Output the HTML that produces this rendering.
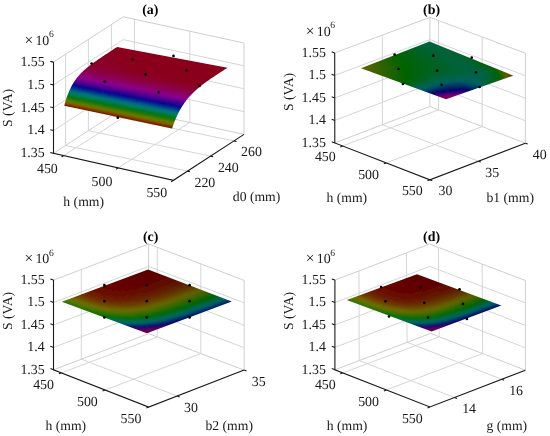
<!DOCTYPE html>
<html><head><meta charset="utf-8"><title>Figure</title>
<style>html,body{margin:0;padding:0;background:#fff}svg{display:block;text-rendering:geometricPrecision;font-family:"Liberation Serif","Times New Roman",serif;font-size:13.9px}</style></head>
<body>
<svg width="550" height="436" viewBox="0 0 550 436" fill="#1a1a1a">
<rect width="550" height="436" fill="#fff"/>
<defs><filter id="bl0_6" x="-5%" y="-5%" width="110%" height="110%"><feGaussianBlur stdDeviation="0.6"/></filter><filter id="bl1_0" x="-5%" y="-5%" width="110%" height="110%"><feGaussianBlur stdDeviation="1"/></filter><filter id="bl0_8" x="-5%" y="-5%" width="110%" height="110%"><feGaussianBlur stdDeviation="0.8"/></filter><filter id="bl1_2" x="-5%" y="-5%" width="110%" height="110%"><feGaussianBlur stdDeviation="1.2"/></filter></defs>
<g fill="none" stroke-linecap="butt">
<line x1="63.7" y1="155.6" x2="134.4" y2="110.4" stroke="#d6d6d6" stroke-width="1"/>
<line x1="134.4" y1="110.4" x2="134.4" y2="19.2" stroke="#d6d6d6" stroke-width="1"/>
<line x1="118.2" y1="167.9" x2="189.8" y2="122.5" stroke="#d6d6d6" stroke-width="1"/>
<line x1="189.8" y1="122.5" x2="189.8" y2="31.2" stroke="#d6d6d6" stroke-width="1"/>
<line x1="187.5" y1="171.1" x2="65.6" y2="145.5" stroke="#d6d6d6" stroke-width="1"/>
<line x1="65.6" y1="145.5" x2="65.6" y2="54.3" stroke="#d6d6d6" stroke-width="1"/>
<line x1="210.6" y1="156.1" x2="88.4" y2="130.7" stroke="#d6d6d6" stroke-width="1"/>
<line x1="88.4" y1="130.7" x2="88.4" y2="39.5" stroke="#d6d6d6" stroke-width="1"/>
<line x1="234" y1="140.9" x2="111.4" y2="115.7" stroke="#d6d6d6" stroke-width="1"/>
<line x1="111.4" y1="115.7" x2="111.4" y2="24.5" stroke="#d6d6d6" stroke-width="1"/>
<polyline points="53.5,130.5 123.3,85.2 244,111.6" stroke="#d6d6d6"/>
<polyline points="53.5,107.7 123.3,62.4 244,88.7" stroke="#d6d6d6"/>
<polyline points="53.5,84.9 123.3,39.6 244,65.8" stroke="#d6d6d6"/>
<polyline points="53.5,153.3 123.3,108 244,134.4" stroke="#cfcfcf"/>
<polyline points="53.5,62.1 123.3,16.8 244,43 244,134.4" stroke="#cfcfcf"/>
</g>
<clipPath id="c1"><path d="M64.2,105.8 64.2,105.7 64.3,105.4 64.4,104.9 64.6,104.5 64.7,103.9 64.9,103.3 65.1,102.6 65.3,101.9 65.5,101.1 65.8,100.3 66,99.5 66.3,98.7 66.6,97.8 66.9,96.9 67.2,96 67.5,95.1 67.9,94.2 68.2,93.3 68.6,92.4 69,91.5 69.4,90.6 69.8,89.7 70.2,88.9 70.6,88 71,87.1 71.5,86.3 71.9,85.4 72.4,84.6 72.9,83.8 73.3,83 73.8,82.2 74.3,81.4 74.8,80.7 75.4,79.9 75.9,79.2 76.4,78.5 77,77.7 77.5,77 78.1,76.4 78.7,75.7 79.3,75 79.9,74.4 80.5,73.7 81.1,73.1 81.7,72.5 82.3,71.9 82.9,71.3 83.6,70.7 84.2,70.1 84.9,69.5 85.6,68.9 86.2,68.4 86.9,67.8 87.6,67.2 88.3,66.7 89,66.1 89.7,65.6 90.4,65 91.2,64.5 91.9,63.9 92.6,63.4 93.4,62.8 94.2,62.3 94.9,61.8 95.7,61.2 96.5,60.7 97.3,60.1 98,59.6 98.8,59 99.7,58.5 100.5,57.9 101.3,57.4 102.1,56.8 102.9,56.3 103.8,55.7 104.6,55.1 105.5,54.6 106.4,54 107.2,53.4 108.1,52.9 109,52.3 109.9,51.7 110.8,51.1 111.7,50.5 112.6,49.9 113.5,49.3 114.4,48.7 115.3,48.1 116.3,47.5 117.2,46.9 227.5,67.8 226.5,68.4 225.5,69 224.6,69.6 223.6,70.2 222.7,70.9 221.7,71.5 220.8,72.1 219.8,72.7 218.9,73.3 218,73.9 217.1,74.5 216.2,75.1 215.3,75.7 214.4,76.3 213.5,76.9 212.6,77.5 211.7,78.1 210.9,78.6 210,79.2 209.2,79.8 208.3,80.4 207.5,81 206.6,81.6 205.8,82.2 205,82.8 204.2,83.4 203.4,84 202.6,84.6 201.8,85.2 201.1,85.8 200.3,86.5 199.5,87.1 198.8,87.7 198,88.3 197.3,89 196.6,89.6 195.8,90.2 195.1,90.9 194.4,91.5 193.7,92.2 193,92.9 192.4,93.5 191.7,94.2 191,94.9 190.4,95.6 189.7,96.3 189.1,97 188.5,97.7 187.8,98.5 187.2,99.2 186.6,100 186,100.7 185.5,101.5 184.9,102.3 184.3,103.1 183.8,103.9 183.2,104.7 182.7,105.5 182.2,106.3 181.7,107.1 181.1,108 180.7,108.8 180.2,109.7 179.7,110.5 179.2,111.4 178.8,112.2 178.3,113.1 177.9,114 177.5,114.8 177.1,115.7 176.7,116.6 176.3,117.4 175.9,118.3 175.6,119.1 175.3,119.9 174.9,120.7 174.6,121.5 174.3,122.3 174,123.1 173.7,123.8 173.5,124.5 173.3,125.1 173,125.8 172.8,126.3 172.6,126.9 172.5,127.4 172.3,127.8 172.2,128.1 172.1,128.4 172.1,128.5z"/></clipPath>
<g clip-path="url(#c1)"><g filter="url(#bl0_8)" shape-rendering="crispEdges">
<path d="M57.7,108.9 76.6,112.7 77.7,108.6 58.8,104.7z" fill="#7d0000"/>
<path d="M58.8,104.7 77.7,108.6 77.7,108.5 58.8,104.5z" fill="#7d0200"/>
<path d="M58.8,104.5 77.7,108.5 77.8,108.2 58.9,104.2z" fill="#7d0900"/>
<path d="M58.9,104.2 77.8,108.2 77.9,107.8 59,103.8z" fill="#7c1300"/>
<path d="M59,103.8 77.9,107.8 78.1,107.3 59.2,103.3z" fill="#7c2000"/>
<path d="M59.2,103.3 78.1,107.3 78.2,106.8 59.3,102.7z" fill="#7c2f00"/>
<path d="M59.3,102.7 78.2,106.8 78.4,106.2 59.5,102.1z" fill="#7b4000"/>
<path d="M59.5,102.1 78.4,106.2 78.6,105.5 59.7,101.4z" fill="#7b5200"/>
<path d="M59.7,101.4 78.6,105.5 78.8,104.8 59.9,100.7z" fill="#7a6500"/>
<path d="M59.9,100.7 78.8,104.8 79,104.1 60.1,99.9z" fill="#797800"/>
<path d="M60.1,99.9 79,104.1 79.3,103.3 60.4,99.1z" fill="#657900"/>
<path d="M60.4,99.1 79.3,103.3 79.5,102.5 60.6,98.3z" fill="#4f7800"/>
<path d="M60.6,98.3 79.5,102.5 79.8,101.6 60.9,97.5z" fill="#3a7700"/>
<path d="M60.9,97.5 79.8,101.6 80.1,100.8 61.2,96.6z" fill="#247700"/>
<path d="M61.2,96.6 80.1,100.8 80.4,99.9 61.5,95.7z" fill="#0e7600"/>
<path d="M61.5,95.7 80.4,99.9 80.7,99.1 61.8,94.8z" fill="#007507"/>
<path d="M61.8,94.8 80.7,99.1 81,98.2 62.1,93.9z" fill="#00761c"/>
<path d="M62.1,93.9 81,98.2 81.4,97.3 62.5,93z" fill="#007832"/>
<path d="M62.5,93 81.4,97.3 81.7,96.4 62.8,92.1z" fill="#007947"/>
<path d="M62.8,92.1 81.7,96.4 82.1,95.5 63.2,91.2z" fill="#007b5d"/>
<path d="M63.2,91.2 82.1,95.5 82.5,94.6 63.6,90.3z" fill="#007c73"/>
<path d="M63.6,90.3 82.5,94.6 82.9,93.7 64,89.4z" fill="#00747f"/>
<path d="M64,89.4 82.9,93.7 83.3,92.8 64.4,88.5z" fill="#006382"/>
<path d="M64.4,88.5 83.3,92.8 83.7,91.9 64.8,87.6z" fill="#005185"/>
<path d="M64.8,87.6 83.7,91.9 84.1,91 65.2,86.8z" fill="#003f88"/>
<path d="M65.2,86.8 84.1,91 84.6,90.2 65.6,85.9z" fill="#002d8a"/>
<path d="M65.6,85.9 84.6,90.2 85,89.3 66.1,85z" fill="#001b8d"/>
<path d="M66.1,85 85,89.3 85.5,88.5 66.5,84.2z" fill="#000990"/>
<path d="M66.5,84.2 85.5,88.5 85.9,87.6 67,83.4z" fill="#090091"/>
<path d="M67,83.4 85.9,87.6 86.4,86.8 67.4,82.6z" fill="#190091"/>
<path d="M67.4,82.6 86.4,86.8 86.9,86 67.9,81.8z" fill="#290090"/>
<path d="M67.9,81.8 86.9,86 87.4,85.2 68.4,81z" fill="#38008f"/>
<path d="M68.4,81 87.4,85.2 87.9,84.4 68.9,80.2z" fill="#46008f"/>
<path d="M68.9,80.2 87.9,84.4 88.4,83.7 69.4,79.4z" fill="#53008e"/>
<path d="M69.4,79.4 88.4,83.7 88.9,82.9 69.9,78.7z" fill="#5f008e"/>
<path d="M69.9,78.7 88.9,82.9 89.4,82.2 70.5,78z" fill="#6a008d"/>
<path d="M70.5,78 89.4,82.2 90,81.4 71,77.3z" fill="#75008d"/>
<path d="M71,77.3 90,81.4 90.5,80.7 71.6,76.6z" fill="#7f008d"/>
<path d="M71.6,76.6 90.5,80.7 91.1,80 72.1,75.9z" fill="#88008c"/>
<path d="M72.1,75.9 91.1,80 91.7,79.3 72.7,75.2z" fill="#8c0087"/>
<path d="M72.7,75.2 91.7,79.3 92.2,78.6 73.3,74.5z" fill="#8c007f"/>
<path d="M73.3,74.5 92.2,78.6 92.8,78 73.8,73.9z" fill="#8c0077"/>
<path d="M73.8,73.9 92.8,78 93.4,77.3 74.4,73.2z" fill="#8c0070"/>
<path d="M74.4,73.2 93.4,77.3 94,76.6 75,72.6z" fill="#8c0069"/>
<path d="M75,72.6 94,76.6 94.6,76 75.6,72z" fill="#8b0063"/>
<path d="M75.6,72 94.6,76 95.3,75.4 76.2,71.4z" fill="#8b005d"/>
<path d="M76.2,71.4 95.3,75.4 95.9,74.7 76.9,70.7z" fill="#8b0058"/>
<path d="M76.9,70.7 95.9,74.7 96.5,74.1 77.5,70.2z" fill="#8b0053"/>
<path d="M77.5,70.2 96.5,74.1 97.2,73.5 78.1,69.6z" fill="#8b004e"/>
<path d="M78.1,69.6 97.2,73.5 97.8,72.9 78.8,69z" fill="#8b004a"/>
<path d="M78.8,69 97.8,72.9 98.5,72.3 79.5,68.4z" fill="#8b0046"/>
<path d="M79.5,68.4 98.5,72.3 99.2,71.7 80.1,67.8z" fill="#8b0043"/>
<path d="M80.1,67.8 99.2,71.7 99.8,71.2 80.8,67.3z" fill="#8b003f"/>
<path d="M80.8,67.3 99.8,71.2 100.5,70.6 81.5,66.7z" fill="#8b003c"/>
<path d="M81.5,66.7 100.5,70.6 101.2,70 82.2,66.1z" fill="#8b0039"/>
<path d="M82.2,66.1 101.2,70 101.9,69.4 82.9,65.6z" fill="#8b0037"/>
<path d="M82.9,65.6 101.9,69.4 102.6,68.9 83.6,65z" fill="#8b0035"/>
<path d="M83.6,65 102.6,68.9 103.4,68.3 84.3,64.5z" fill="#8b0032"/>
<path d="M84.3,64.5 103.4,68.3 104.1,67.8 85,63.9z" fill="#8b0031"/>
<path d="M85,63.9 104.1,67.8 104.8,67.2 85.7,63.4z" fill="#8b002f"/>
<path d="M85.7,63.4 104.8,67.2 105.5,66.6 86.4,62.9z" fill="#8b002d"/>
<path d="M86.4,62.9 105.5,66.6 106.3,66.1 87.2,62.3z" fill="#8a002c"/>
<path d="M87.2,62.3 106.3,66.1 107,65.5 87.9,61.8z" fill="#8a002a"/>
<path d="M87.9,61.8 107,65.5 107.8,65 88.7,61.2z" fill="#8a0029"/>
<path d="M88.7,61.2 107.8,65 108.6,64.4 89.5,60.7z" fill="#8a0028"/>
<path d="M89.5,60.7 108.6,64.4 109.4,63.9 90.2,60.1z" fill="#8a0027"/>
<path d="M90.2,60.1 109.4,63.9 110.1,63.3 91,59.6z" fill="#8a0026"/>
<path d="M91,59.6 110.1,63.3 110.9,62.8 91.8,59.1z" fill="#8a0025"/>
<path d="M91.8,59.1 110.9,62.8 111.7,62.2 92.6,58.5z" fill="#8a0024"/>
<path d="M92.6,58.5 111.7,62.2 112.5,61.7 93.4,58z" fill="#8a0023"/>
<path d="M93.4,58 112.5,61.7 113.3,61.1 94.2,57.4z" fill="#8a0023"/>
<path d="M94.2,57.4 113.3,61.1 114.2,60.6 95,56.9z" fill="#8a0022"/>
<path d="M95,56.9 114.2,60.6 115,60 95.8,56.3z" fill="#8a0022"/>
<path d="M95.8,56.3 115,60 115.8,59.5 96.6,55.8z" fill="#8a0021"/>
<path d="M96.6,55.8 115.8,59.5 116.7,58.9 97.5,55.2z" fill="#8a0021"/>
<path d="M97.5,55.2 116.7,58.9 117.5,58.3 98.3,54.6z" fill="#8a0020"/>
<path d="M98.3,54.6 117.5,58.3 118.4,57.8 99.2,54.1z" fill="#8a0020"/>
<path d="M99.2,54.1 118.4,57.8 119.2,57.2 100,53.5z" fill="#8a0020"/>
<path d="M100,53.5 119.2,57.2 120.1,56.6 100.9,53z" fill="#8a001f"/>
<path d="M100.9,53 120.1,56.6 121,56 101.7,52.4z" fill="#8a001f"/>
<path d="M101.7,52.4 121,56 121.8,55.5 102.6,51.8z" fill="#8a001f"/>
<path d="M102.6,51.8 121.8,55.5 122.7,54.9 103.5,51.2z" fill="#8a001f"/>
<path d="M103.5,51.2 122.7,54.9 123.6,54.3 104.4,50.7z" fill="#8a001e"/>
<path d="M104.4,50.7 123.6,54.3 124.5,53.7 105.3,50.1z" fill="#8a001e"/>
<path d="M105.3,50.1 124.5,53.7 125.4,53.1 106.2,49.5z" fill="#8a001e"/>
<path d="M106.2,49.5 125.4,53.1 126.3,52.5 107.1,48.9z" fill="#8a001e"/>
<path d="M107.1,48.9 126.3,52.5 127.2,51.9 108,48.3z" fill="#8a001e"/>
<path d="M108,48.3 127.2,51.9 128.2,51.3 108.9,47.7z" fill="#8a001e"/>
<path d="M108.9,47.7 128.2,51.3 129.1,50.7 109.8,47.1z" fill="#8a001e"/>
<path d="M109.8,47.1 129.1,50.7 130,50.1 110.7,46.5z" fill="#8a001d"/>
<path d="M110.7,46.5 130,50.1 131,49.5 111.7,45.9z" fill="#8a001d"/>
<path d="M111.7,45.9 131,49.5 133.7,47.8 114.3,44.2z" fill="#8a001d"/>
<path d="M76.6,112.7 90.1,115.5 91.2,111.5 77.7,108.6z" fill="#7d0000"/>
<path d="M77.7,108.6 91.2,111.5 91.2,111.3 77.7,108.5z" fill="#7d0200"/>
<path d="M77.7,108.5 91.2,111.3 91.3,111 77.8,108.2z" fill="#7d0900"/>
<path d="M77.8,108.2 91.3,111 91.4,110.7 77.9,107.8z" fill="#7c1300"/>
<path d="M77.9,107.8 91.4,110.7 91.5,110.2 78.1,107.3z" fill="#7c1f00"/>
<path d="M78.1,107.3 91.5,110.2 91.7,109.7 78.2,106.8z" fill="#7c2e00"/>
<path d="M78.2,106.8 91.7,109.7 91.9,109.1 78.4,106.2z" fill="#7b3e00"/>
<path d="M78.4,106.2 91.9,109.1 92.1,108.4 78.6,105.5z" fill="#7b4f00"/>
<path d="M78.6,105.5 92.1,108.4 92.3,107.7 78.8,104.8z" fill="#7a6200"/>
<path d="M78.8,104.8 92.3,107.7 92.5,107 79,104.1z" fill="#797500"/>
<path d="M79,104.1 92.5,107 92.8,106.2 79.3,103.3z" fill="#697900"/>
<path d="M79.3,103.3 92.8,106.2 93,105.4 79.5,102.5z" fill="#547800"/>
<path d="M79.5,102.5 93,105.4 93.3,104.6 79.8,101.6z" fill="#3f7800"/>
<path d="M79.8,101.6 93.3,104.6 93.6,103.8 80.1,100.8z" fill="#2a7700"/>
<path d="M80.1,100.8 93.6,103.8 93.9,102.9 80.4,99.9z" fill="#147600"/>
<path d="M80.4,99.9 93.9,102.9 94.2,102.1 80.7,99.1z" fill="#007601"/>
<path d="M80.7,99.1 94.2,102.1 94.6,101.2 81,98.2z" fill="#007615"/>
<path d="M81,98.2 94.6,101.2 94.9,100.3 81.4,97.3z" fill="#00772a"/>
<path d="M81.4,97.3 94.9,100.3 95.3,99.4 81.7,96.4z" fill="#007940"/>
<path d="M81.7,96.4 95.3,99.4 95.6,98.5 82.1,95.5z" fill="#007a55"/>
<path d="M82.1,95.5 95.6,98.5 96,97.6 82.5,94.6z" fill="#007c6a"/>
<path d="M82.5,94.6 96,97.6 96.4,96.7 82.9,93.7z" fill="#007b7d"/>
<path d="M82.9,93.7 96.4,96.7 96.8,95.9 83.3,92.8z" fill="#006a80"/>
<path d="M83.3,92.8 96.8,95.9 97.2,95 83.7,91.9z" fill="#005883"/>
<path d="M83.7,91.9 97.2,95 97.6,94.1 84.1,91z" fill="#004786"/>
<path d="M84.1,91 97.6,94.1 98.1,93.2 84.6,90.2z" fill="#003589"/>
<path d="M84.6,90.2 98.1,93.2 98.5,92.4 85,89.3z" fill="#00238c"/>
<path d="M85,89.3 98.5,92.4 99,91.5 85.5,88.5z" fill="#00118f"/>
<path d="M85.5,88.5 99,91.5 99.5,90.7 85.9,87.6z" fill="#000091"/>
<path d="M85.9,87.6 99.5,90.7 99.9,89.9 86.4,86.8z" fill="#110091"/>
<path d="M86.4,86.8 99.9,89.9 100.4,89.1 86.9,86z" fill="#220090"/>
<path d="M86.9,86 100.4,89.1 100.9,88.2 87.4,85.2z" fill="#310090"/>
<path d="M87.4,85.2 100.9,88.2 101.4,87.5 87.9,84.4z" fill="#3f008f"/>
<path d="M87.9,84.4 101.4,87.5 101.9,86.7 88.4,83.7z" fill="#4d008f"/>
<path d="M88.4,83.7 101.9,86.7 102.5,85.9 88.9,82.9z" fill="#59008e"/>
<path d="M88.9,82.9 102.5,85.9 103,85.2 89.4,82.2z" fill="#65008e"/>
<path d="M89.4,82.2 103,85.2 103.5,84.4 90,81.4z" fill="#70008d"/>
<path d="M90,81.4 103.5,84.4 104.1,83.7 90.5,80.7z" fill="#7a008d"/>
<path d="M90.5,80.7 104.1,83.7 104.7,83 91.1,80z" fill="#84008c"/>
<path d="M91.1,80 104.7,83 105.2,82.3 91.7,79.3z" fill="#8c008b"/>
<path d="M91.7,79.3 105.2,82.3 105.8,81.6 92.2,78.6z" fill="#8c0082"/>
<path d="M92.2,78.6 105.8,81.6 106.4,80.9 92.8,78z" fill="#8c007a"/>
<path d="M92.8,78 106.4,80.9 107,80.2 93.4,77.3z" fill="#8c0072"/>
<path d="M93.4,77.3 107,80.2 107.6,79.5 94,76.6z" fill="#8c006b"/>
<path d="M94,76.6 107.6,79.5 108.2,78.9 94.6,76z" fill="#8c0065"/>
<path d="M94.6,76 108.2,78.9 108.9,78.2 95.3,75.4z" fill="#8b005e"/>
<path d="M95.3,75.4 108.9,78.2 109.5,77.6 95.9,74.7z" fill="#8b0059"/>
<path d="M95.9,74.7 109.5,77.6 110.1,77 96.5,74.1z" fill="#8b0053"/>
<path d="M96.5,74.1 110.1,77 110.8,76.4 97.2,73.5z" fill="#8b004e"/>
<path d="M97.2,73.5 110.8,76.4 111.4,75.8 97.8,72.9z" fill="#8b004a"/>
<path d="M97.8,72.9 111.4,75.8 112.1,75.1 98.5,72.3z" fill="#8b0046"/>
<path d="M98.5,72.3 112.1,75.1 112.8,74.6 99.2,71.7z" fill="#8b0042"/>
<path d="M99.2,71.7 112.8,74.6 113.5,74 99.8,71.2z" fill="#8b003e"/>
<path d="M99.8,71.2 113.5,74 114.1,73.4 100.5,70.6z" fill="#8b003b"/>
<path d="M100.5,70.6 114.1,73.4 114.8,72.8 101.2,70z" fill="#8b0038"/>
<path d="M101.2,70 114.8,72.8 115.6,72.2 101.9,69.4z" fill="#8b0035"/>
<path d="M101.9,69.4 115.6,72.2 116.3,71.6 102.6,68.9z" fill="#8b0032"/>
<path d="M102.6,68.9 116.3,71.6 117,71.1 103.4,68.3z" fill="#8b0030"/>
<path d="M103.4,68.3 117,71.1 117.7,70.5 104.1,67.8z" fill="#8b002e"/>
<path d="M104.1,67.8 117.7,70.5 118.4,69.9 104.8,67.2z" fill="#8a002c"/>
<path d="M104.8,67.2 118.4,69.9 119.2,69.4 105.5,66.6z" fill="#8a002a"/>
<path d="M105.5,66.6 119.2,69.4 119.9,68.8 106.3,66.1z" fill="#8a0028"/>
<path d="M106.3,66.1 119.9,68.8 120.7,68.2 107,65.5z" fill="#8a0027"/>
<path d="M107,65.5 120.7,68.2 121.5,67.7 107.8,65z" fill="#8a0026"/>
<path d="M107.8,65 121.5,67.7 122.2,67.1 108.6,64.4z" fill="#8a0024"/>
<path d="M108.6,64.4 122.2,67.1 123,66.6 109.4,63.9z" fill="#8a0023"/>
<path d="M109.4,63.9 123,66.6 123.8,66 110.1,63.3z" fill="#8a0022"/>
<path d="M110.1,63.3 123.8,66 124.6,65.5 110.9,62.8z" fill="#8a0021"/>
<path d="M110.9,62.8 124.6,65.5 125.4,64.9 111.7,62.2z" fill="#8a0020"/>
<path d="M111.7,62.2 125.4,64.9 126.2,64.3 112.5,61.7z" fill="#8a001f"/>
<path d="M112.5,61.7 126.2,64.3 127,63.8 113.3,61.1z" fill="#8a001f"/>
<path d="M113.3,61.1 127,63.8 127.9,63.2 114.2,60.6z" fill="#8a001e"/>
<path d="M114.2,60.6 127.9,63.2 128.7,62.7 115,60z" fill="#8a001d"/>
<path d="M115,60 128.7,62.7 129.5,62.1 115.8,59.5z" fill="#8a001d"/>
<path d="M115.8,59.5 129.5,62.1 130.4,61.5 116.7,58.9z" fill="#8a001c"/>
<path d="M116.7,58.9 130.4,61.5 131.2,61 117.5,58.3z" fill="#8a001c"/>
<path d="M117.5,58.3 131.2,61 132.1,60.4 118.4,57.8z" fill="#8a001b"/>
<path d="M118.4,57.8 132.1,60.4 132.9,59.8 119.2,57.2z" fill="#8a001b"/>
<path d="M119.2,57.2 132.9,59.8 133.8,59.2 120.1,56.6z" fill="#8a001b"/>
<path d="M120.1,56.6 133.8,59.2 134.7,58.7 121,56z" fill="#8a001b"/>
<path d="M121,56 134.7,58.7 135.6,58.1 121.8,55.5z" fill="#8a001b"/>
<path d="M121.8,55.5 135.6,58.1 136.5,57.5 122.7,54.9z" fill="#8a001b"/>
<path d="M122.7,54.9 136.5,57.5 137.4,56.9 123.6,54.3z" fill="#8a001b"/>
<path d="M123.6,54.3 137.4,56.9 138.3,56.3 124.5,53.7z" fill="#8a001b"/>
<path d="M124.5,53.7 138.3,56.3 139.2,55.7 125.4,53.1z" fill="#8a001b"/>
<path d="M125.4,53.1 139.2,55.7 140.1,55.1 126.3,52.5z" fill="#8a001b"/>
<path d="M126.3,52.5 140.1,55.1 141,54.6 127.2,51.9z" fill="#8a001b"/>
<path d="M127.2,51.9 141,54.6 141.9,53.9 128.2,51.3z" fill="#8a001b"/>
<path d="M128.2,51.3 141.9,53.9 142.9,53.3 129.1,50.7z" fill="#8a001b"/>
<path d="M129.1,50.7 142.9,53.3 143.8,52.7 130,50.1z" fill="#8a001b"/>
<path d="M130,50.1 143.8,52.7 144.8,52.1 131,49.5z" fill="#8a001b"/>
<path d="M131,49.5 144.8,52.1 147.5,50.4 133.7,47.8z" fill="#8a001b"/>
<path d="M90.1,115.5 103.6,118.2 104.7,114.3 91.2,111.5z" fill="#7d0000"/>
<path d="M91.2,111.5 104.7,114.3 104.7,114.2 91.2,111.3z" fill="#7d0200"/>
<path d="M91.2,111.3 104.7,114.2 104.8,113.9 91.3,111z" fill="#7d0800"/>
<path d="M91.3,111 104.8,113.9 104.9,113.5 91.4,110.7z" fill="#7c1200"/>
<path d="M91.4,110.7 104.9,113.5 105,113.1 91.5,110.2z" fill="#7c1e00"/>
<path d="M91.5,110.2 105,113.1 105.2,112.5 91.7,109.7z" fill="#7c2c00"/>
<path d="M91.7,109.7 105.2,112.5 105.4,112 91.9,109.1z" fill="#7b3c00"/>
<path d="M91.9,109.1 105.4,112 105.6,111.3 92.1,108.4z" fill="#7b4d00"/>
<path d="M92.1,108.4 105.6,111.3 105.8,110.6 92.3,107.7z" fill="#7a5f00"/>
<path d="M92.3,107.7 105.8,110.6 106,109.9 92.5,107z" fill="#7a7200"/>
<path d="M92.5,107 106,109.9 106.3,109.2 92.8,106.2z" fill="#6d7900"/>
<path d="M92.8,106.2 106.3,109.2 106.5,108.4 93,105.4z" fill="#587800"/>
<path d="M93,105.4 106.5,108.4 106.8,107.6 93.3,104.6z" fill="#437800"/>
<path d="M93.3,104.6 106.8,107.6 107.1,106.8 93.6,103.8z" fill="#2e7700"/>
<path d="M93.6,103.8 107.1,106.8 107.4,105.9 93.9,102.9z" fill="#197600"/>
<path d="M93.9,102.9 107.4,105.9 107.7,105.1 94.2,102.1z" fill="#047600"/>
<path d="M94.2,102.1 107.7,105.1 108.1,104.2 94.6,101.2z" fill="#007610"/>
<path d="M94.6,101.2 108.1,104.2 108.4,103.3 94.9,100.3z" fill="#007725"/>
<path d="M94.9,100.3 108.4,103.3 108.8,102.4 95.3,99.4z" fill="#00793a"/>
<path d="M95.3,99.4 108.8,102.4 109.1,101.6 95.6,98.5z" fill="#007a4f"/>
<path d="M95.6,98.5 109.1,101.6 109.5,100.7 96,97.6z" fill="#007b64"/>
<path d="M96,97.6 109.5,100.7 109.9,99.8 96.4,96.7z" fill="#007d79"/>
<path d="M96.4,96.7 109.9,99.8 110.3,98.9 96.8,95.9z" fill="#00707f"/>
<path d="M96.8,95.9 110.3,98.9 110.7,98 97.2,95z" fill="#005e82"/>
<path d="M97.2,95 110.7,98 111.2,97.1 97.6,94.1z" fill="#004d85"/>
<path d="M97.6,94.1 111.2,97.1 111.6,96.3 98.1,93.2z" fill="#003b88"/>
<path d="M98.1,93.2 111.6,96.3 112.1,95.4 98.5,92.4z" fill="#002a8b"/>
<path d="M98.5,92.4 112.1,95.4 112.5,94.6 99,91.5z" fill="#00188e"/>
<path d="M99,91.5 112.5,94.6 113,93.7 99.5,90.7z" fill="#000690"/>
<path d="M99.5,90.7 113,93.7 113.5,92.9 99.9,89.9z" fill="#0b0091"/>
<path d="M99.9,89.9 113.5,92.9 114,92.1 100.4,89.1z" fill="#1b0090"/>
<path d="M100.4,89.1 114,92.1 114.5,91.3 100.9,88.2z" fill="#2b0090"/>
<path d="M100.9,88.2 114.5,91.3 115,90.5 101.4,87.5z" fill="#3a008f"/>
<path d="M101.4,87.5 115,90.5 115.5,89.7 101.9,86.7z" fill="#47008f"/>
<path d="M101.9,86.7 115.5,89.7 116,88.9 102.5,85.9z" fill="#54008e"/>
<path d="M102.5,85.9 116,88.9 116.6,88.1 103,85.2z" fill="#61008e"/>
<path d="M103,85.2 116.6,88.1 117.1,87.4 103.5,84.4z" fill="#6c008d"/>
<path d="M103.5,84.4 117.1,87.4 117.7,86.7 104.1,83.7z" fill="#77008d"/>
<path d="M104.1,83.7 117.7,86.7 118.2,85.9 104.7,83z" fill="#81008d"/>
<path d="M104.7,83 118.2,85.9 118.8,85.2 105.2,82.3z" fill="#8a008c"/>
<path d="M105.2,82.3 118.8,85.2 119.4,84.5 105.8,81.6z" fill="#8c0085"/>
<path d="M105.8,81.6 119.4,84.5 120,83.8 106.4,80.9z" fill="#8c007d"/>
<path d="M106.4,80.9 120,83.8 120.6,83.1 107,80.2z" fill="#8c0075"/>
<path d="M107,80.2 120.6,83.1 121.2,82.5 107.6,79.5z" fill="#8c006d"/>
<path d="M107.6,79.5 121.2,82.5 121.8,81.8 108.2,78.9z" fill="#8c0066"/>
<path d="M108.2,78.9 121.8,81.8 122.4,81.1 108.9,78.2z" fill="#8b0060"/>
<path d="M108.9,78.2 122.4,81.1 123.1,80.5 109.5,77.6z" fill="#8b0059"/>
<path d="M109.5,77.6 123.1,80.5 123.7,79.8 110.1,77z" fill="#8b0054"/>
<path d="M110.1,77 123.7,79.8 124.4,79.2 110.8,76.4z" fill="#8b004f"/>
<path d="M110.8,76.4 124.4,79.2 125,78.6 111.4,75.8z" fill="#8b004a"/>
<path d="M111.4,75.8 125,78.6 125.7,78 112.1,75.1z" fill="#8b0045"/>
<path d="M112.1,75.1 125.7,78 126.4,77.4 112.8,74.6z" fill="#8b0041"/>
<path d="M112.8,74.6 126.4,77.4 127.1,76.8 113.5,74z" fill="#8b003d"/>
<path d="M113.5,74 127.1,76.8 127.8,76.2 114.1,73.4z" fill="#8b003a"/>
<path d="M114.1,73.4 127.8,76.2 128.5,75.6 114.8,72.8z" fill="#8b0037"/>
<path d="M114.8,72.8 128.5,75.6 129.2,75 115.6,72.2z" fill="#8b0034"/>
<path d="M115.6,72.2 129.2,75 129.9,74.4 116.3,71.6z" fill="#8b0031"/>
<path d="M116.3,71.6 129.9,74.4 130.6,73.8 117,71.1z" fill="#8b002e"/>
<path d="M117,71.1 130.6,73.8 131.3,73.2 117.7,70.5z" fill="#8a002c"/>
<path d="M117.7,70.5 131.3,73.2 132.1,72.7 118.4,69.9z" fill="#8a002a"/>
<path d="M118.4,69.9 132.1,72.7 132.8,72.1 119.2,69.4z" fill="#8a0028"/>
<path d="M119.2,69.4 132.8,72.1 133.6,71.5 119.9,68.8z" fill="#8a0026"/>
<path d="M119.9,68.8 133.6,71.5 134.4,71 120.7,68.2z" fill="#8a0024"/>
<path d="M120.7,68.2 134.4,71 135.1,70.4 121.5,67.7z" fill="#8a0023"/>
<path d="M121.5,67.7 135.1,70.4 135.9,69.8 122.2,67.1z" fill="#8a0021"/>
<path d="M122.2,67.1 135.9,69.8 136.7,69.3 123,66.6z" fill="#8a0020"/>
<path d="M123,66.6 136.7,69.3 137.5,68.7 123.8,66z" fill="#8a001f"/>
<path d="M123.8,66 137.5,68.7 138.3,68.1 124.6,65.5z" fill="#8a001e"/>
<path d="M124.6,65.5 138.3,68.1 139.1,67.6 125.4,64.9z" fill="#8a001d"/>
<path d="M125.4,64.9 139.1,67.6 139.9,67 126.2,64.3z" fill="#8a001c"/>
<path d="M126.2,64.3 139.9,67 140.7,66.4 127,63.8z" fill="#8a001b"/>
<path d="M127,63.8 140.7,66.4 141.5,65.9 127.9,63.2z" fill="#8a001b"/>
<path d="M127.9,63.2 141.5,65.9 142.4,65.3 128.7,62.7z" fill="#8a001b"/>
<path d="M128.7,62.7 142.4,65.3 143.2,64.7 129.5,62.1z" fill="#8a001b"/>
<path d="M129.5,62.1 143.2,64.7 144.1,64.2 130.4,61.5z" fill="#8a001b"/>
<path d="M130.4,61.5 144.1,64.2 144.9,63.6 131.2,61z" fill="#8a001b"/>
<path d="M131.2,61 144.9,63.6 145.8,63 132.1,60.4z" fill="#8a001b"/>
<path d="M132.1,60.4 145.8,63 146.7,62.4 132.9,59.8z" fill="#8a001b"/>
<path d="M132.9,59.8 146.7,62.4 147.5,61.9 133.8,59.2z" fill="#8a001b"/>
<path d="M133.8,59.2 147.5,61.9 148.4,61.3 134.7,58.7z" fill="#8a001b"/>
<path d="M134.7,58.7 148.4,61.3 149.3,60.7 135.6,58.1z" fill="#8a001b"/>
<path d="M135.6,58.1 149.3,60.7 150.2,60.1 136.5,57.5z" fill="#8a001b"/>
<path d="M136.5,57.5 150.2,60.1 151.1,59.5 137.4,56.9z" fill="#8a001b"/>
<path d="M137.4,56.9 151.1,59.5 152,58.9 138.3,56.3z" fill="#8a001b"/>
<path d="M138.3,56.3 152,58.9 152.9,58.4 139.2,55.7z" fill="#8a001b"/>
<path d="M139.2,55.7 152.9,58.4 153.9,57.8 140.1,55.1z" fill="#8a001b"/>
<path d="M140.1,55.1 153.9,57.8 154.8,57.2 141,54.6z" fill="#8a001b"/>
<path d="M141,54.6 154.8,57.2 155.7,56.6 141.9,53.9z" fill="#8a001b"/>
<path d="M141.9,53.9 155.7,56.6 156.7,56 142.9,53.3z" fill="#8a001b"/>
<path d="M142.9,53.3 156.7,56 157.6,55.3 143.8,52.7z" fill="#8a001b"/>
<path d="M143.8,52.7 157.6,55.3 158.6,54.7 144.8,52.1z" fill="#8a001b"/>
<path d="M144.8,52.1 158.6,54.7 161.3,53 147.5,50.4z" fill="#8a001b"/>
<path d="M103.6,118.2 117.1,121 118.2,117.2 104.7,114.3z" fill="#7d0000"/>
<path d="M104.7,114.3 118.2,117.2 118.2,117 104.7,114.2z" fill="#7d0200"/>
<path d="M104.7,114.2 118.2,117 118.3,116.7 104.8,113.9z" fill="#7d0800"/>
<path d="M104.8,113.9 118.3,116.7 118.4,116.4 104.9,113.5z" fill="#7c1200"/>
<path d="M104.9,113.5 118.4,116.4 118.5,115.9 105,113.1z" fill="#7c1d00"/>
<path d="M105,113.1 118.5,115.9 118.7,115.4 105.2,112.5z" fill="#7c2b00"/>
<path d="M105.2,112.5 118.7,115.4 118.9,114.8 105.4,112z" fill="#7b3b00"/>
<path d="M105.4,112 118.9,114.8 119.1,114.2 105.6,111.3z" fill="#7b4b00"/>
<path d="M105.6,111.3 119.1,114.2 119.3,113.5 105.8,110.6z" fill="#7a5d00"/>
<path d="M105.8,110.6 119.3,113.5 119.5,112.8 106,109.9z" fill="#7a6f00"/>
<path d="M106,109.9 119.5,112.8 119.8,112.1 106.3,109.2z" fill="#707900"/>
<path d="M106.3,109.2 119.8,112.1 120,111.3 106.5,108.4z" fill="#5c7800"/>
<path d="M106.5,108.4 120,111.3 120.3,110.5 106.8,107.6z" fill="#477800"/>
<path d="M106.8,107.6 120.3,110.5 120.6,109.7 107.1,106.8z" fill="#327700"/>
<path d="M107.1,106.8 120.6,109.7 120.9,108.9 107.4,105.9z" fill="#1e7700"/>
<path d="M107.4,105.9 120.9,108.9 121.2,108.1 107.7,105.1z" fill="#097600"/>
<path d="M107.7,105.1 121.2,108.1 121.6,107.2 108.1,104.2z" fill="#00750b"/>
<path d="M108.1,104.2 121.6,107.2 121.9,106.3 108.4,103.3z" fill="#00771f"/>
<path d="M108.4,103.3 121.9,106.3 122.3,105.5 108.8,102.4z" fill="#007834"/>
<path d="M108.8,102.4 122.3,105.5 122.7,104.6 109.1,101.6z" fill="#007a49"/>
<path d="M109.1,101.6 122.7,104.6 123,103.7 109.5,100.7z" fill="#007b5e"/>
<path d="M109.5,100.7 123,103.7 123.4,102.8 109.9,99.8z" fill="#007c72"/>
<path d="M109.9,99.8 123.4,102.8 123.8,101.9 110.3,98.9z" fill="#00757e"/>
<path d="M110.3,98.9 123.8,101.9 124.3,101.1 110.7,98z" fill="#006481"/>
<path d="M110.7,98 124.3,101.1 124.7,100.2 111.2,97.1z" fill="#005384"/>
<path d="M111.2,97.1 124.7,100.2 125.1,99.3 111.6,96.3z" fill="#004287"/>
<path d="M111.6,96.3 125.1,99.3 125.6,98.5 112.1,95.4z" fill="#00308a"/>
<path d="M112.1,95.4 125.6,98.5 126,97.6 112.5,94.6z" fill="#001e8d"/>
<path d="M112.5,94.6 126,97.6 126.5,96.8 113,93.7z" fill="#000d8f"/>
<path d="M113,93.7 126.5,96.8 127,95.9 113.5,92.9z" fill="#050091"/>
<path d="M113.5,92.9 127,95.9 127.5,95.1 114,92.1z" fill="#150091"/>
<path d="M114,92.1 127.5,95.1 128,94.3 114.5,91.3z" fill="#250090"/>
<path d="M114.5,91.3 128,94.3 128.5,93.5 115,90.5z" fill="#340090"/>
<path d="M115,90.5 128.5,93.5 129,92.7 115.5,89.7z" fill="#42008f"/>
<path d="M115.5,89.7 129,92.7 129.6,91.9 116,88.9z" fill="#50008e"/>
<path d="M116,88.9 129.6,91.9 130.1,91.1 116.6,88.1z" fill="#5c008e"/>
<path d="M116.6,88.1 130.1,91.1 130.7,90.4 117.1,87.4z" fill="#68008e"/>
<path d="M117.1,87.4 130.7,90.4 131.2,89.6 117.7,86.7z" fill="#73008d"/>
<path d="M117.7,86.7 131.2,89.6 131.8,88.9 118.2,85.9z" fill="#7d008d"/>
<path d="M118.2,85.9 131.8,88.9 132.4,88.2 118.8,85.2z" fill="#87008c"/>
<path d="M118.8,85.2 132.4,88.2 133,87.4 119.4,84.5z" fill="#8c0088"/>
<path d="M119.4,84.5 133,87.4 133.6,86.7 120,83.8z" fill="#8c007f"/>
<path d="M120,83.8 133.6,86.7 134.2,86 120.6,83.1z" fill="#8c0077"/>
<path d="M120.6,83.1 134.2,86 134.8,85.4 121.2,82.5z" fill="#8c006f"/>
<path d="M121.2,82.5 134.8,85.4 135.4,84.7 121.8,81.8z" fill="#8c0068"/>
<path d="M121.8,81.8 135.4,84.7 136,84 122.4,81.1z" fill="#8b0061"/>
<path d="M122.4,81.1 136,84 136.7,83.4 123.1,80.5z" fill="#8b005b"/>
<path d="M123.1,80.5 136.7,83.4 137.3,82.7 123.7,79.8z" fill="#8b0055"/>
<path d="M123.7,79.8 137.3,82.7 138,82.1 124.4,79.2z" fill="#8b004f"/>
<path d="M124.4,79.2 138,82.1 138.6,81.4 125,78.6z" fill="#8b004a"/>
<path d="M125,78.6 138.6,81.4 139.3,80.8 125.7,78z" fill="#8b0045"/>
<path d="M125.7,78 139.3,80.8 140,80.2 126.4,77.4z" fill="#8b0041"/>
<path d="M126.4,77.4 140,80.2 140.7,79.6 127.1,76.8z" fill="#8b003d"/>
<path d="M127.1,76.8 140.7,79.6 141.4,79 127.8,76.2z" fill="#8b0039"/>
<path d="M127.8,76.2 141.4,79 142.1,78.4 128.5,75.6z" fill="#8b0036"/>
<path d="M128.5,75.6 142.1,78.4 142.8,77.8 129.2,75z" fill="#8b0032"/>
<path d="M129.2,75 142.8,77.8 143.5,77.2 129.9,74.4z" fill="#8b0030"/>
<path d="M129.9,74.4 143.5,77.2 144.2,76.6 130.6,73.8z" fill="#8b002d"/>
<path d="M130.6,73.8 144.2,76.6 145,76 131.3,73.2z" fill="#8a002a"/>
<path d="M131.3,73.2 145,76 145.7,75.4 132.1,72.7z" fill="#8a0028"/>
<path d="M132.1,72.7 145.7,75.4 146.5,74.8 132.8,72.1z" fill="#8a0026"/>
<path d="M132.8,72.1 146.5,74.8 147.2,74.2 133.6,71.5z" fill="#8a0024"/>
<path d="M133.6,71.5 147.2,74.2 148,73.7 134.4,71z" fill="#8a0022"/>
<path d="M134.4,71 148,73.7 148.8,73.1 135.1,70.4z" fill="#8a0020"/>
<path d="M135.1,70.4 148.8,73.1 149.6,72.5 135.9,69.8z" fill="#8a001f"/>
<path d="M135.9,69.8 149.6,72.5 150.4,72 136.7,69.3z" fill="#8a001e"/>
<path d="M136.7,69.3 150.4,72 151.1,71.4 137.5,68.7z" fill="#8a001c"/>
<path d="M137.5,68.7 151.1,71.4 152,70.8 138.3,68.1z" fill="#8a001b"/>
<path d="M138.3,68.1 152,70.8 152.8,70.2 139.1,67.6z" fill="#8a001b"/>
<path d="M139.1,67.6 152.8,70.2 153.6,69.7 139.9,67z" fill="#8a001b"/>
<path d="M139.9,67 153.6,69.7 154.4,69.1 140.7,66.4z" fill="#8a001b"/>
<path d="M140.7,66.4 154.4,69.1 155.2,68.5 141.5,65.9z" fill="#8a001b"/>
<path d="M141.5,65.9 155.2,68.5 156.1,68 142.4,65.3z" fill="#8a001b"/>
<path d="M142.4,65.3 156.1,68 156.9,67.4 143.2,64.7z" fill="#8a001b"/>
<path d="M143.2,64.7 156.9,67.4 157.8,66.8 144.1,64.2z" fill="#8a001b"/>
<path d="M144.1,64.2 157.8,66.8 158.6,66.2 144.9,63.6z" fill="#8a001b"/>
<path d="M144.9,63.6 158.6,66.2 159.5,65.7 145.8,63z" fill="#8a001b"/>
<path d="M145.8,63 159.5,65.7 160.4,65.1 146.7,62.4z" fill="#8a001b"/>
<path d="M146.7,62.4 160.4,65.1 161.3,64.5 147.5,61.9z" fill="#8a001b"/>
<path d="M147.5,61.9 161.3,64.5 162.1,63.9 148.4,61.3z" fill="#8a001b"/>
<path d="M148.4,61.3 162.1,63.9 163,63.3 149.3,60.7z" fill="#8a001b"/>
<path d="M149.3,60.7 163,63.3 163.9,62.7 150.2,60.1z" fill="#8a001b"/>
<path d="M150.2,60.1 163.9,62.7 164.8,62.2 151.1,59.5z" fill="#8a001b"/>
<path d="M151.1,59.5 164.8,62.2 165.8,61.6 152,58.9z" fill="#8a001b"/>
<path d="M152,58.9 165.8,61.6 166.7,61 152.9,58.4z" fill="#8a001b"/>
<path d="M152.9,58.4 166.7,61 167.6,60.4 153.9,57.8z" fill="#8a001b"/>
<path d="M153.9,57.8 167.6,60.4 168.5,59.8 154.8,57.2z" fill="#8a001b"/>
<path d="M154.8,57.2 168.5,59.8 169.5,59.2 155.7,56.6z" fill="#8a001b"/>
<path d="M155.7,56.6 169.5,59.2 170.4,58.6 156.7,56z" fill="#8a001b"/>
<path d="M156.7,56 170.4,58.6 171.4,57.9 157.6,55.3z" fill="#8a001b"/>
<path d="M157.6,55.3 171.4,57.9 172.3,57.3 158.6,54.7z" fill="#8a001b"/>
<path d="M158.6,54.7 172.3,57.3 175.1,55.6 161.3,53z" fill="#8a001b"/>
<path d="M117.1,121 130.5,123.7 131.6,120 118.2,117.2z" fill="#7d0000"/>
<path d="M118.2,117.2 131.6,120 131.7,119.9 118.2,117z" fill="#7d0200"/>
<path d="M118.2,117 131.7,119.9 131.8,119.6 118.3,116.7z" fill="#7d0800"/>
<path d="M118.3,116.7 131.8,119.6 131.9,119.2 118.4,116.4z" fill="#7c1100"/>
<path d="M118.4,116.4 131.9,119.2 132,118.8 118.5,115.9z" fill="#7c1d00"/>
<path d="M118.5,115.9 132,118.8 132.2,118.3 118.7,115.4z" fill="#7c2a00"/>
<path d="M118.7,115.4 132.2,118.3 132.4,117.7 118.9,114.8z" fill="#7b3900"/>
<path d="M118.9,114.8 132.4,117.7 132.6,117.1 119.1,114.2z" fill="#7b4900"/>
<path d="M119.1,114.2 132.6,117.1 132.8,116.5 119.3,113.5z" fill="#7a5b00"/>
<path d="M119.3,113.5 132.8,116.5 133,115.8 119.5,112.8z" fill="#7a6d00"/>
<path d="M119.5,112.8 133,115.8 133.3,115 119.8,112.1z" fill="#737900"/>
<path d="M119.8,112.1 133.3,115 133.5,114.3 120,111.3z" fill="#5f7900"/>
<path d="M120,111.3 133.5,114.3 133.8,113.5 120.3,110.5z" fill="#4b7800"/>
<path d="M120.3,110.5 133.8,113.5 134.1,112.7 120.6,109.7z" fill="#367700"/>
<path d="M120.6,109.7 134.1,112.7 134.4,111.9 120.9,108.9z" fill="#227700"/>
<path d="M120.9,108.9 134.4,111.9 134.7,111 121.2,108.1z" fill="#0e7600"/>
<path d="M121.2,108.1 134.7,111 135.1,110.2 121.6,107.2z" fill="#007506"/>
<path d="M121.6,107.2 135.1,110.2 135.4,109.3 121.9,106.3z" fill="#00761a"/>
<path d="M121.9,106.3 135.4,109.3 135.8,108.5 122.3,105.5z" fill="#00782f"/>
<path d="M122.3,105.5 135.8,108.5 136.2,107.6 122.7,104.6z" fill="#007943"/>
<path d="M122.7,104.6 136.2,107.6 136.5,106.7 123,103.7z" fill="#007b58"/>
<path d="M123,103.7 136.5,106.7 136.9,105.8 123.4,102.8z" fill="#007c6c"/>
<path d="M123.4,102.8 136.9,105.8 137.4,105 123.8,101.9z" fill="#007a7e"/>
<path d="M123.8,101.9 137.4,105 137.8,104.1 124.3,101.1z" fill="#006981"/>
<path d="M124.3,101.1 137.8,104.1 138.2,103.2 124.7,100.2z" fill="#005883"/>
<path d="M124.7,100.2 138.2,103.2 138.7,102.3 125.1,99.3z" fill="#004786"/>
<path d="M125.1,99.3 138.7,102.3 139.1,101.5 125.6,98.5z" fill="#003689"/>
<path d="M125.6,98.5 139.1,101.5 139.6,100.6 126,97.6z" fill="#00248c"/>
<path d="M126,97.6 139.6,100.6 140.1,99.8 126.5,96.8z" fill="#00138e"/>
<path d="M126.5,96.8 140.1,99.8 140.5,98.9 127,95.9z" fill="#000291"/>
<path d="M127,95.9 140.5,98.9 141,98.1 127.5,95.1z" fill="#0f0091"/>
<path d="M127.5,95.1 141,98.1 141.5,97.3 128,94.3z" fill="#200090"/>
<path d="M128,94.3 141.5,97.3 142.1,96.5 128.5,93.5z" fill="#2f0090"/>
<path d="M128.5,93.5 142.1,96.5 142.6,95.7 129,92.7z" fill="#3d008f"/>
<path d="M129,92.7 142.6,95.7 143.1,94.9 129.6,91.9z" fill="#4b008f"/>
<path d="M129.6,91.9 143.1,94.9 143.7,94.1 130.1,91.1z" fill="#58008e"/>
<path d="M130.1,91.1 143.7,94.1 144.2,93.4 130.7,90.4z" fill="#64008e"/>
<path d="M130.7,90.4 144.2,93.4 144.8,92.6 131.2,89.6z" fill="#6f008d"/>
<path d="M131.2,89.6 144.8,92.6 145.4,91.9 131.8,88.9z" fill="#7a008d"/>
<path d="M131.8,88.9 145.4,91.9 145.9,91.1 132.4,88.2z" fill="#84008c"/>
<path d="M132.4,88.2 145.9,91.1 146.5,90.4 133,87.4z" fill="#8c008b"/>
<path d="M133,87.4 146.5,90.4 147.1,89.7 133.6,86.7z" fill="#8c0082"/>
<path d="M133.6,86.7 147.1,89.7 147.7,89 134.2,86z" fill="#8c0079"/>
<path d="M134.2,86 147.7,89 148.4,88.3 134.8,85.4z" fill="#8c0071"/>
<path d="M134.8,85.4 148.4,88.3 149,87.6 135.4,84.7z" fill="#8c0069"/>
<path d="M135.4,84.7 149,87.6 149.6,86.9 136,84z" fill="#8b0062"/>
<path d="M136,84 149.6,86.9 150.3,86.2 136.7,83.4z" fill="#8b005c"/>
<path d="M136.7,83.4 150.3,86.2 150.9,85.6 137.3,82.7z" fill="#8b0055"/>
<path d="M137.3,82.7 150.9,85.6 151.6,84.9 138,82.1z" fill="#8b0050"/>
<path d="M138,82.1 151.6,84.9 152.2,84.3 138.6,81.4z" fill="#8b004a"/>
<path d="M138.6,81.4 152.2,84.3 152.9,83.6 139.3,80.8z" fill="#8b0045"/>
<path d="M139.3,80.8 152.9,83.6 153.6,83 140,80.2z" fill="#8b0041"/>
<path d="M140,80.2 153.6,83 154.3,82.4 140.7,79.6z" fill="#8b003c"/>
<path d="M140.7,79.6 154.3,82.4 155,81.8 141.4,79z" fill="#8b0039"/>
<path d="M141.4,79 155,81.8 155.7,81.2 142.1,78.4z" fill="#8b0035"/>
<path d="M142.1,78.4 155.7,81.2 156.4,80.5 142.8,77.8z" fill="#8b0031"/>
<path d="M142.8,77.8 156.4,80.5 157.1,79.9 143.5,77.2z" fill="#8b002e"/>
<path d="M143.5,77.2 157.1,79.9 157.9,79.3 144.2,76.6z" fill="#8a002b"/>
<path d="M144.2,76.6 157.9,79.3 158.6,78.8 145,76z" fill="#8a0029"/>
<path d="M145,76 158.6,78.8 159.4,78.2 145.7,75.4z" fill="#8a0026"/>
<path d="M145.7,75.4 159.4,78.2 160.1,77.6 146.5,74.8z" fill="#8a0024"/>
<path d="M146.5,74.8 160.1,77.6 160.9,77 147.2,74.2z" fill="#8a0022"/>
<path d="M147.2,74.2 160.9,77 161.7,76.4 148,73.7z" fill="#8a0020"/>
<path d="M148,73.7 161.7,76.4 162.4,75.8 148.8,73.1z" fill="#8a001e"/>
<path d="M148.8,73.1 162.4,75.8 163.2,75.2 149.6,72.5z" fill="#8a001d"/>
<path d="M149.6,72.5 163.2,75.2 164,74.7 150.4,72z" fill="#8a001b"/>
<path d="M150.4,72 164,74.7 164.8,74.1 151.1,71.4z" fill="#8a001b"/>
<path d="M151.1,71.4 164.8,74.1 165.6,73.5 152,70.8z" fill="#8a001b"/>
<path d="M152,70.8 165.6,73.5 166.4,72.9 152.8,70.2z" fill="#8a001b"/>
<path d="M152.8,70.2 166.4,72.9 167.3,72.4 153.6,69.7z" fill="#8a001b"/>
<path d="M153.6,69.7 167.3,72.4 168.1,71.8 154.4,69.1z" fill="#8a001b"/>
<path d="M154.4,69.1 168.1,71.8 168.9,71.2 155.2,68.5z" fill="#8a001b"/>
<path d="M155.2,68.5 168.9,71.2 169.8,70.6 156.1,68z" fill="#8a001b"/>
<path d="M156.1,68 169.8,70.6 170.6,70 156.9,67.4z" fill="#8a001b"/>
<path d="M156.9,67.4 170.6,70 171.5,69.5 157.8,66.8z" fill="#8a001b"/>
<path d="M157.8,66.8 171.5,69.5 172.3,68.9 158.6,66.2z" fill="#8a001b"/>
<path d="M158.6,66.2 172.3,68.9 173.2,68.3 159.5,65.7z" fill="#8a001b"/>
<path d="M159.5,65.7 173.2,68.3 174.1,67.7 160.4,65.1z" fill="#8a001b"/>
<path d="M160.4,65.1 174.1,67.7 175,67.1 161.3,64.5z" fill="#8a001b"/>
<path d="M161.3,64.5 175,67.1 175.9,66.6 162.1,63.9z" fill="#8a001b"/>
<path d="M162.1,63.9 175.9,66.6 176.8,66 163,63.3z" fill="#8a001b"/>
<path d="M163,63.3 176.8,66 177.7,65.4 163.9,62.7z" fill="#8a001b"/>
<path d="M163.9,62.7 177.7,65.4 178.6,64.8 164.8,62.2z" fill="#8a001b"/>
<path d="M164.8,62.2 178.6,64.8 179.5,64.2 165.8,61.6z" fill="#8a001b"/>
<path d="M165.8,61.6 179.5,64.2 180.4,63.6 166.7,61z" fill="#8a001b"/>
<path d="M166.7,61 180.4,63.6 181.4,63 167.6,60.4z" fill="#8a001b"/>
<path d="M167.6,60.4 181.4,63 182.3,62.4 168.5,59.8z" fill="#8a001b"/>
<path d="M168.5,59.8 182.3,62.4 183.3,61.8 169.5,59.2z" fill="#8a001b"/>
<path d="M169.5,59.2 183.3,61.8 184.2,61.2 170.4,58.6z" fill="#8a001b"/>
<path d="M170.4,58.6 184.2,61.2 185.2,60.6 171.4,57.9z" fill="#8a001b"/>
<path d="M171.4,57.9 185.2,60.6 186.1,59.9 172.3,57.3z" fill="#8a001b"/>
<path d="M172.3,57.3 186.1,59.9 188.9,58.2 175.1,55.6z" fill="#8a001b"/>
<path d="M130.5,123.7 144,126.5 145.1,122.8 131.6,120z" fill="#7d0000"/>
<path d="M131.6,120 145.1,122.8 145.2,122.7 131.7,119.9z" fill="#7d0200"/>
<path d="M131.7,119.9 145.2,122.7 145.2,122.4 131.8,119.6z" fill="#7d0800"/>
<path d="M131.8,119.6 145.2,122.4 145.4,122.1 131.9,119.2z" fill="#7c1100"/>
<path d="M131.9,119.2 145.4,122.1 145.5,121.6 132,118.8z" fill="#7c1c00"/>
<path d="M132,118.8 145.5,121.6 145.7,121.2 132.2,118.3z" fill="#7c2900"/>
<path d="M132.2,118.3 145.7,121.2 145.8,120.6 132.4,117.7z" fill="#7b3800"/>
<path d="M132.4,117.7 145.8,120.6 146,120 132.6,117.1z" fill="#7b4800"/>
<path d="M132.6,117.1 146,120 146.3,119.4 132.8,116.5z" fill="#7a5900"/>
<path d="M132.8,116.5 146.3,119.4 146.5,118.7 133,115.8z" fill="#7a6a00"/>
<path d="M133,115.8 146.5,118.7 146.8,118 133.3,115z" fill="#767900"/>
<path d="M133.3,115 146.8,118 147,117.2 133.5,114.3z" fill="#627900"/>
<path d="M133.5,114.3 147,117.2 147.3,116.4 133.8,113.5z" fill="#4e7800"/>
<path d="M133.8,113.5 147.3,116.4 147.6,115.6 134.1,112.7z" fill="#3a7700"/>
<path d="M134.1,112.7 147.6,115.6 147.9,114.8 134.4,111.9z" fill="#267700"/>
<path d="M134.4,111.9 147.9,114.8 148.2,114 134.7,111z" fill="#127600"/>
<path d="M134.7,111 148.2,114 148.6,113.2 135.1,110.2z" fill="#007602"/>
<path d="M135.1,110.2 148.6,113.2 148.9,112.3 135.4,109.3z" fill="#007616"/>
<path d="M135.4,109.3 148.9,112.3 149.3,111.5 135.8,108.5z" fill="#00772a"/>
<path d="M135.8,108.5 149.3,111.5 149.7,110.6 136.2,107.6z" fill="#00793e"/>
<path d="M136.2,107.6 149.7,110.6 150.1,109.7 136.5,106.7z" fill="#007a52"/>
<path d="M136.5,106.7 150.1,109.7 150.5,108.8 136.9,105.8z" fill="#007c67"/>
<path d="M136.9,105.8 150.5,108.8 150.9,108 137.4,105z" fill="#007d7b"/>
<path d="M137.4,105 150.9,108 151.3,107.1 137.8,104.1z" fill="#006e80"/>
<path d="M137.8,104.1 151.3,107.1 151.7,106.2 138.2,103.2z" fill="#005e83"/>
<path d="M138.2,103.2 151.7,106.2 152.2,105.4 138.7,102.3z" fill="#004d85"/>
<path d="M138.7,102.3 152.2,105.4 152.6,104.5 139.1,101.5z" fill="#003c88"/>
<path d="M139.1,101.5 152.6,104.5 153.1,103.7 139.6,100.6z" fill="#002a8b"/>
<path d="M139.6,100.6 153.1,103.7 153.6,102.8 140.1,99.8z" fill="#00198d"/>
<path d="M140.1,99.8 153.6,102.8 154.1,102 140.5,98.9z" fill="#000790"/>
<path d="M140.5,98.9 154.1,102 154.6,101.1 141,98.1z" fill="#0a0091"/>
<path d="M141,98.1 154.6,101.1 155.1,100.3 141.5,97.3z" fill="#1a0090"/>
<path d="M141.5,97.3 155.1,100.3 155.6,99.5 142.1,96.5z" fill="#2a0090"/>
<path d="M142.1,96.5 155.6,99.5 156.1,98.7 142.6,95.7z" fill="#38008f"/>
<path d="M142.6,95.7 156.1,98.7 156.7,97.9 143.1,94.9z" fill="#46008f"/>
<path d="M143.1,94.9 156.7,97.9 157.2,97.1 143.7,94.1z" fill="#53008e"/>
<path d="M143.7,94.1 157.2,97.1 157.8,96.3 144.2,93.4z" fill="#60008e"/>
<path d="M144.2,93.4 157.8,96.3 158.3,95.6 144.8,92.6z" fill="#6b008d"/>
<path d="M144.8,92.6 158.3,95.6 158.9,94.8 145.4,91.9z" fill="#76008d"/>
<path d="M145.4,91.9 158.9,94.8 159.5,94.1 145.9,91.1z" fill="#81008d"/>
<path d="M145.9,91.1 159.5,94.1 160.1,93.3 146.5,90.4z" fill="#8a008c"/>
<path d="M146.5,90.4 160.1,93.3 160.7,92.6 147.1,89.7z" fill="#8c0085"/>
<path d="M147.1,89.7 160.7,92.6 161.3,91.9 147.7,89z" fill="#8c007c"/>
<path d="M147.7,89 161.3,91.9 161.9,91.2 148.4,88.3z" fill="#8c0073"/>
<path d="M148.4,88.3 161.9,91.2 162.6,90.5 149,87.6z" fill="#8c006b"/>
<path d="M149,87.6 162.6,90.5 163.2,89.8 149.6,86.9z" fill="#8b0064"/>
<path d="M149.6,86.9 163.2,89.8 163.8,89.1 150.3,86.2z" fill="#8b005d"/>
<path d="M150.3,86.2 163.8,89.1 164.5,88.5 150.9,85.6z" fill="#8b0056"/>
<path d="M150.9,85.6 164.5,88.5 165.2,87.8 151.6,84.9z" fill="#8b0050"/>
<path d="M151.6,84.9 165.2,87.8 165.8,87.1 152.2,84.3z" fill="#8b004b"/>
<path d="M152.2,84.3 165.8,87.1 166.5,86.5 152.9,83.6z" fill="#8b0046"/>
<path d="M152.9,83.6 166.5,86.5 167.2,85.8 153.6,83z" fill="#8b0041"/>
<path d="M153.6,83 167.2,85.8 167.9,85.2 154.3,82.4z" fill="#8b003c"/>
<path d="M154.3,82.4 167.9,85.2 168.6,84.6 155,81.8z" fill="#8b0038"/>
<path d="M155,81.8 168.6,84.6 169.3,84 155.7,81.2z" fill="#8b0034"/>
<path d="M155.7,81.2 169.3,84 170,83.3 156.4,80.5z" fill="#8b0031"/>
<path d="M156.4,80.5 170,83.3 170.8,82.7 157.1,79.9z" fill="#8b002d"/>
<path d="M157.1,79.9 170.8,82.7 171.5,82.1 157.9,79.3z" fill="#8a002a"/>
<path d="M157.9,79.3 171.5,82.1 172.3,81.5 158.6,78.8z" fill="#8a0027"/>
<path d="M158.6,78.8 172.3,81.5 173,80.9 159.4,78.2z" fill="#8a0025"/>
<path d="M159.4,78.2 173,80.9 173.8,80.3 160.1,77.6z" fill="#8a0022"/>
<path d="M160.1,77.6 173.8,80.3 174.5,79.7 160.9,77z" fill="#8a0020"/>
<path d="M160.9,77 174.5,79.7 175.3,79.1 161.7,76.4z" fill="#8a001e"/>
<path d="M161.7,76.4 175.3,79.1 176.1,78.5 162.4,75.8z" fill="#8a001c"/>
<path d="M162.4,75.8 176.1,78.5 176.9,78 163.2,75.2z" fill="#8a001b"/>
<path d="M163.2,75.2 176.9,78 177.7,77.4 164,74.7z" fill="#8a001b"/>
<path d="M164,74.7 177.7,77.4 178.5,76.8 164.8,74.1z" fill="#8a001b"/>
<path d="M164.8,74.1 178.5,76.8 179.3,76.2 165.6,73.5z" fill="#8a001b"/>
<path d="M165.6,73.5 179.3,76.2 180.1,75.6 166.4,72.9z" fill="#8a001b"/>
<path d="M166.4,72.9 180.1,75.6 180.9,75 167.3,72.4z" fill="#8a001b"/>
<path d="M167.3,72.4 180.9,75 181.8,74.5 168.1,71.8z" fill="#8a001b"/>
<path d="M168.1,71.8 181.8,74.5 182.6,73.9 168.9,71.2z" fill="#8a001b"/>
<path d="M168.9,71.2 182.6,73.9 183.5,73.3 169.8,70.6z" fill="#8a001b"/>
<path d="M169.8,70.6 183.5,73.3 184.3,72.7 170.6,70z" fill="#8a001b"/>
<path d="M170.6,70 184.3,72.7 185.2,72.1 171.5,69.5z" fill="#8a001b"/>
<path d="M171.5,69.5 185.2,72.1 186.1,71.5 172.3,68.9z" fill="#8a001b"/>
<path d="M172.3,68.9 186.1,71.5 186.9,71 173.2,68.3z" fill="#8a001b"/>
<path d="M173.2,68.3 186.9,71 187.8,70.4 174.1,67.7z" fill="#8a001b"/>
<path d="M174.1,67.7 187.8,70.4 188.7,69.8 175,67.1z" fill="#8a001b"/>
<path d="M175,67.1 188.7,69.8 189.6,69.2 175.9,66.6z" fill="#8a001b"/>
<path d="M175.9,66.6 189.6,69.2 190.5,68.6 176.8,66z" fill="#8a001b"/>
<path d="M176.8,66 190.5,68.6 191.4,68 177.7,65.4z" fill="#8a001b"/>
<path d="M177.7,65.4 191.4,68 192.3,67.4 178.6,64.8z" fill="#8a001b"/>
<path d="M178.6,64.8 192.3,67.4 193.3,66.8 179.5,64.2z" fill="#8a001b"/>
<path d="M179.5,64.2 193.3,66.8 194.2,66.2 180.4,63.6z" fill="#8a001b"/>
<path d="M180.4,63.6 194.2,66.2 195.1,65.6 181.4,63z" fill="#8a001b"/>
<path d="M181.4,63 195.1,65.6 196.1,65 182.3,62.4z" fill="#8a001b"/>
<path d="M182.3,62.4 196.1,65 197,64.4 183.3,61.8z" fill="#8a001b"/>
<path d="M183.3,61.8 197,64.4 198,63.8 184.2,61.2z" fill="#8a001b"/>
<path d="M184.2,61.2 198,63.8 199,63.2 185.2,60.6z" fill="#8a001b"/>
<path d="M185.2,60.6 199,63.2 199.9,62.6 186.1,59.9z" fill="#8a001b"/>
<path d="M186.1,59.9 199.9,62.6 202.7,60.8 188.9,58.2z" fill="#8a001b"/>
<path d="M144,126.5 157.5,129.2 158.6,125.7 145.1,122.8z" fill="#7d0000"/>
<path d="M145.1,122.8 158.6,125.7 158.7,125.5 145.2,122.7z" fill="#7d0200"/>
<path d="M145.2,122.7 158.7,125.5 158.7,125.3 145.2,122.4z" fill="#7d0800"/>
<path d="M145.2,122.4 158.7,125.3 158.9,124.9 145.4,122.1z" fill="#7c1000"/>
<path d="M145.4,122.1 158.9,124.9 159,124.5 145.5,121.6z" fill="#7c1b00"/>
<path d="M145.5,121.6 159,124.5 159.2,124 145.7,121.2z" fill="#7c2800"/>
<path d="M145.7,121.2 159.2,124 159.3,123.5 145.8,120.6z" fill="#7b3700"/>
<path d="M145.8,120.6 159.3,123.5 159.5,122.9 146,120z" fill="#7b4600"/>
<path d="M146,120 159.5,122.9 159.8,122.2 146.3,119.4z" fill="#7a5700"/>
<path d="M146.3,119.4 159.8,122.2 160,121.6 146.5,118.7z" fill="#7a6800"/>
<path d="M146.5,118.7 160,121.6 160.3,120.9 146.8,118z" fill="#797900"/>
<path d="M146.8,118 160.3,120.9 160.5,120.1 147,117.2z" fill="#657900"/>
<path d="M147,117.2 160.5,120.1 160.8,119.4 147.3,116.4z" fill="#517800"/>
<path d="M147.3,116.4 160.8,119.4 161.1,118.6 147.6,115.6z" fill="#3e7800"/>
<path d="M147.6,115.6 161.1,118.6 161.4,117.8 147.9,114.8z" fill="#2a7700"/>
<path d="M147.9,114.8 161.4,117.8 161.7,117 148.2,114z" fill="#167600"/>
<path d="M148.2,114 161.7,117 162.1,116.1 148.6,113.2z" fill="#027600"/>
<path d="M148.6,113.2 162.1,116.1 162.4,115.3 148.9,112.3z" fill="#007611"/>
<path d="M148.9,112.3 162.4,115.3 162.8,114.4 149.3,111.5z" fill="#007725"/>
<path d="M149.3,111.5 162.8,114.4 163.2,113.6 149.7,110.6z" fill="#007839"/>
<path d="M149.7,110.6 163.2,113.6 163.6,112.7 150.1,109.7z" fill="#007a4d"/>
<path d="M150.1,109.7 163.6,112.7 164,111.8 150.5,108.8z" fill="#007b61"/>
<path d="M150.5,108.8 164,111.8 164.4,111 150.9,108z" fill="#007c75"/>
<path d="M150.9,108 164.4,111 164.8,110.1 151.3,107.1z" fill="#00737f"/>
<path d="M151.3,107.1 164.8,110.1 165.3,109.2 151.7,106.2z" fill="#006382"/>
<path d="M151.7,106.2 165.3,109.2 165.7,108.4 152.2,105.4z" fill="#005285"/>
<path d="M152.2,105.4 165.7,108.4 166.2,107.5 152.6,104.5z" fill="#004187"/>
<path d="M152.6,104.5 166.2,107.5 166.6,106.7 153.1,103.7z" fill="#00308a"/>
<path d="M153.1,103.7 166.6,106.7 167.1,105.8 153.6,102.8z" fill="#001e8d"/>
<path d="M153.6,102.8 167.1,105.8 167.6,105 154.1,102z" fill="#000d8f"/>
<path d="M154.1,102 167.6,105 168.1,104.1 154.6,101.1z" fill="#040091"/>
<path d="M154.6,101.1 168.1,104.1 168.6,103.3 155.1,100.3z" fill="#150091"/>
<path d="M155.1,100.3 168.6,103.3 169.1,102.5 155.6,99.5z" fill="#240090"/>
<path d="M155.6,99.5 169.1,102.5 169.7,101.7 156.1,98.7z" fill="#330090"/>
<path d="M156.1,98.7 169.7,101.7 170.2,100.9 156.7,97.9z" fill="#42008f"/>
<path d="M156.7,97.9 170.2,100.9 170.8,100.1 157.2,97.1z" fill="#4f008f"/>
<path d="M157.2,97.1 170.8,100.1 171.3,99.3 157.8,96.3z" fill="#5c008e"/>
<path d="M157.8,96.3 171.3,99.3 171.9,98.5 158.3,95.6z" fill="#68008e"/>
<path d="M158.3,95.6 171.9,98.5 172.5,97.8 158.9,94.8z" fill="#73008d"/>
<path d="M158.9,94.8 172.5,97.8 173.1,97 159.5,94.1z" fill="#7d008d"/>
<path d="M159.5,94.1 173.1,97 173.7,96.3 160.1,93.3z" fill="#87008c"/>
<path d="M160.1,93.3 173.7,96.3 174.3,95.5 160.7,92.6z" fill="#8c0087"/>
<path d="M160.7,92.6 174.3,95.5 174.9,94.8 161.3,91.9z" fill="#8c007e"/>
<path d="M161.3,91.9 174.9,94.8 175.5,94.1 161.9,91.2z" fill="#8c0075"/>
<path d="M161.9,91.2 175.5,94.1 176.1,93.4 162.6,90.5z" fill="#8c006d"/>
<path d="M162.6,90.5 176.1,93.4 176.8,92.7 163.2,89.8z" fill="#8c0065"/>
<path d="M163.2,89.8 176.8,92.7 177.4,92 163.8,89.1z" fill="#8b005e"/>
<path d="M163.8,89.1 177.4,92 178.1,91.3 164.5,88.5z" fill="#8b0057"/>
<path d="M164.5,88.5 178.1,91.3 178.8,90.7 165.2,87.8z" fill="#8b0051"/>
<path d="M165.2,87.8 178.8,90.7 179.4,90 165.8,87.1z" fill="#8b004b"/>
<path d="M165.8,87.1 179.4,90 180.1,89.3 166.5,86.5z" fill="#8b0046"/>
<path d="M166.5,86.5 180.1,89.3 180.8,88.7 167.2,85.8z" fill="#8b0041"/>
<path d="M167.2,85.8 180.8,88.7 181.5,88 167.9,85.2z" fill="#8b003c"/>
<path d="M167.9,85.2 181.5,88 182.2,87.4 168.6,84.6z" fill="#8b0038"/>
<path d="M168.6,84.6 182.2,87.4 182.9,86.8 169.3,84z" fill="#8b0034"/>
<path d="M169.3,84 182.9,86.8 183.7,86.1 170,83.3z" fill="#8b0030"/>
<path d="M170,83.3 183.7,86.1 184.4,85.5 170.8,82.7z" fill="#8b002c"/>
<path d="M170.8,82.7 184.4,85.5 185.1,84.9 171.5,82.1z" fill="#8a0029"/>
<path d="M171.5,82.1 185.1,84.9 185.9,84.3 172.3,81.5z" fill="#8a0026"/>
<path d="M172.3,81.5 185.9,84.3 186.6,83.7 173,80.9z" fill="#8a0023"/>
<path d="M173,80.9 186.6,83.7 187.4,83.1 173.8,80.3z" fill="#8a0021"/>
<path d="M173.8,80.3 187.4,83.1 188.2,82.5 174.5,79.7z" fill="#8a001e"/>
<path d="M174.5,79.7 188.2,82.5 189,81.9 175.3,79.1z" fill="#8a001c"/>
<path d="M175.3,79.1 189,81.9 189.8,81.3 176.1,78.5z" fill="#8a001b"/>
<path d="M176.1,78.5 189.8,81.3 190.5,80.7 176.9,78z" fill="#8a001b"/>
<path d="M176.9,78 190.5,80.7 191.3,80.1 177.7,77.4z" fill="#8a001b"/>
<path d="M177.7,77.4 191.3,80.1 192.2,79.5 178.5,76.8z" fill="#8a001b"/>
<path d="M178.5,76.8 192.2,79.5 193,78.9 179.3,76.2z" fill="#8a001b"/>
<path d="M179.3,76.2 193,78.9 193.8,78.3 180.1,75.6z" fill="#8a001b"/>
<path d="M180.1,75.6 193.8,78.3 194.6,77.7 180.9,75z" fill="#8a001b"/>
<path d="M180.9,75 194.6,77.7 195.5,77.1 181.8,74.5z" fill="#8a001b"/>
<path d="M181.8,74.5 195.5,77.1 196.3,76.6 182.6,73.9z" fill="#8a001b"/>
<path d="M182.6,73.9 196.3,76.6 197.2,76 183.5,73.3z" fill="#8a001b"/>
<path d="M183.5,73.3 197.2,76 198,75.4 184.3,72.7z" fill="#8a001b"/>
<path d="M184.3,72.7 198,75.4 198.9,74.8 185.2,72.1z" fill="#8a001b"/>
<path d="M185.2,72.1 198.9,74.8 199.8,74.2 186.1,71.5z" fill="#8a001b"/>
<path d="M186.1,71.5 199.8,74.2 200.7,73.6 186.9,71z" fill="#8a001b"/>
<path d="M186.9,71 200.7,73.6 201.5,73 187.8,70.4z" fill="#8a001b"/>
<path d="M187.8,70.4 201.5,73 202.4,72.4 188.7,69.8z" fill="#8a001b"/>
<path d="M188.7,69.8 202.4,72.4 203.3,71.8 189.6,69.2z" fill="#8a001b"/>
<path d="M189.6,69.2 203.3,71.8 204.2,71.2 190.5,68.6z" fill="#8a001b"/>
<path d="M190.5,68.6 204.2,71.2 205.2,70.6 191.4,68z" fill="#8a001b"/>
<path d="M191.4,68 205.2,70.6 206.1,70 192.3,67.4z" fill="#8a001b"/>
<path d="M192.3,67.4 206.1,70 207,69.4 193.3,66.8z" fill="#8a001b"/>
<path d="M193.3,66.8 207,69.4 208,68.8 194.2,66.2z" fill="#8a001b"/>
<path d="M194.2,66.2 208,68.8 208.9,68.2 195.1,65.6z" fill="#8a001b"/>
<path d="M195.1,65.6 208.9,68.2 209.8,67.6 196.1,65z" fill="#8a001b"/>
<path d="M196.1,65 209.8,67.6 210.8,67 197,64.4z" fill="#8a001b"/>
<path d="M197,64.4 210.8,67 211.8,66.4 198,63.8z" fill="#8a001b"/>
<path d="M198,63.8 211.8,66.4 212.7,65.8 199,63.2z" fill="#8a001b"/>
<path d="M199,63.2 212.7,65.8 213.7,65.2 199.9,62.6z" fill="#8a001b"/>
<path d="M199.9,62.6 213.7,65.2 216.5,63.4 202.7,60.8z" fill="#8a001b"/>
<path d="M157.5,129.2 176.4,133.1 177.5,129.6 158.6,125.7z" fill="#7d0000"/>
<path d="M158.6,125.7 177.5,129.6 177.5,129.5 158.7,125.5z" fill="#7d0200"/>
<path d="M158.7,125.5 177.5,129.5 177.6,129.3 158.7,125.3z" fill="#7d0700"/>
<path d="M158.7,125.3 177.6,129.3 177.7,128.9 158.9,124.9z" fill="#7c1000"/>
<path d="M158.9,124.9 177.7,128.9 177.9,128.5 159,124.5z" fill="#7c1b00"/>
<path d="M159,124.5 177.9,128.5 178,128 159.2,124z" fill="#7c2700"/>
<path d="M159.2,124 178,128 178.2,127.5 159.3,123.5z" fill="#7b3500"/>
<path d="M159.3,123.5 178.2,127.5 178.4,126.9 159.5,122.9z" fill="#7b4500"/>
<path d="M159.5,122.9 178.4,126.9 178.7,126.3 159.8,122.2z" fill="#7a5500"/>
<path d="M159.8,122.2 178.7,126.3 178.9,125.6 160,121.6z" fill="#7a6600"/>
<path d="M160,121.6 178.9,125.6 179.1,124.9 160.3,120.9z" fill="#797700"/>
<path d="M160.3,120.9 179.1,124.9 179.4,124.2 160.5,120.1z" fill="#697900"/>
<path d="M160.5,120.1 179.4,124.2 179.7,123.5 160.8,119.4z" fill="#557800"/>
<path d="M160.8,119.4 179.7,123.5 180,122.7 161.1,118.6z" fill="#427800"/>
<path d="M161.1,118.6 180,122.7 180.3,121.9 161.4,117.8z" fill="#2e7700"/>
<path d="M161.4,117.8 180.3,121.9 180.7,121.1 161.7,117z" fill="#1a7600"/>
<path d="M161.7,117 180.7,121.1 181,120.3 162.1,116.1z" fill="#077600"/>
<path d="M162.1,116.1 181,120.3 181.4,119.5 162.4,115.3z" fill="#00750c"/>
<path d="M162.4,115.3 181.4,119.5 181.7,118.6 162.8,114.4z" fill="#00771f"/>
<path d="M162.8,114.4 181.7,118.6 182.1,117.8 163.2,113.6z" fill="#007833"/>
<path d="M163.2,113.6 182.1,117.8 182.5,116.9 163.6,112.7z" fill="#007947"/>
<path d="M163.6,112.7 182.5,116.9 182.9,116 164,111.8z" fill="#007b5b"/>
<path d="M164,111.8 182.9,116 183.3,115.2 164.4,111z" fill="#007c6f"/>
<path d="M164.4,111 183.3,115.2 183.8,114.3 164.8,110.1z" fill="#00787e"/>
<path d="M164.8,110.1 183.8,114.3 184.2,113.4 165.3,109.2z" fill="#006881"/>
<path d="M165.3,109.2 184.2,113.4 184.6,112.6 165.7,108.4z" fill="#005884"/>
<path d="M165.7,108.4 184.6,112.6 185.1,111.7 166.2,107.5z" fill="#004786"/>
<path d="M166.2,107.5 185.1,111.7 185.6,110.9 166.6,106.7z" fill="#003689"/>
<path d="M166.6,106.7 185.6,110.9 186.1,110 167.1,105.8z" fill="#00258c"/>
<path d="M167.1,105.8 186.1,110 186.6,109.2 167.6,105z" fill="#00148e"/>
<path d="M167.6,105 186.6,109.2 187.1,108.3 168.1,104.1z" fill="#000291"/>
<path d="M168.1,104.1 187.1,108.3 187.6,107.5 168.6,103.3z" fill="#0e0091"/>
<path d="M168.6,103.3 187.6,107.5 188.1,106.7 169.1,102.5z" fill="#1e0090"/>
<path d="M169.1,102.5 188.1,106.7 188.6,105.9 169.7,101.7z" fill="#2e0090"/>
<path d="M169.7,101.7 188.6,105.9 189.2,105.1 170.2,100.9z" fill="#3c008f"/>
<path d="M170.2,100.9 189.2,105.1 189.7,104.3 170.8,100.1z" fill="#4a008f"/>
<path d="M170.8,100.1 189.7,104.3 190.3,103.5 171.3,99.3z" fill="#57008e"/>
<path d="M171.3,99.3 190.3,103.5 190.9,102.7 171.9,98.5z" fill="#63008e"/>
<path d="M171.9,98.5 190.9,102.7 191.5,101.9 172.5,97.8z" fill="#6f008d"/>
<path d="M172.5,97.8 191.5,101.9 192.1,101.2 173.1,97z" fill="#7a008d"/>
<path d="M173.1,97 192.1,101.2 192.7,100.4 173.7,96.3z" fill="#84008c"/>
<path d="M173.7,96.3 192.7,100.4 193.3,99.7 174.3,95.5z" fill="#8c008b"/>
<path d="M174.3,95.5 193.3,99.7 193.9,98.9 174.9,94.8z" fill="#8c0081"/>
<path d="M174.9,94.8 193.9,98.9 194.5,98.2 175.5,94.1z" fill="#8c0078"/>
<path d="M175.5,94.1 194.5,98.2 195.2,97.5 176.1,93.4z" fill="#8c006f"/>
<path d="M176.1,93.4 195.2,97.5 195.8,96.8 176.8,92.7z" fill="#8c0067"/>
<path d="M176.8,92.7 195.8,96.8 196.5,96.1 177.4,92z" fill="#8b0060"/>
<path d="M177.4,92 196.5,96.1 197.1,95.4 178.1,91.3z" fill="#8b0059"/>
<path d="M178.1,91.3 197.1,95.4 197.8,94.7 178.8,90.7z" fill="#8b0052"/>
<path d="M178.8,90.7 197.8,94.7 198.5,94 179.4,90z" fill="#8b004c"/>
<path d="M179.4,90 198.5,94 199.2,93.3 180.1,89.3z" fill="#8b0046"/>
<path d="M180.1,89.3 199.2,93.3 199.9,92.7 180.8,88.7z" fill="#8b0041"/>
<path d="M180.8,88.7 199.9,92.7 200.6,92 181.5,88z" fill="#8b003c"/>
<path d="M181.5,88 200.6,92 201.3,91.4 182.2,87.4z" fill="#8b0037"/>
<path d="M182.2,87.4 201.3,91.4 202,90.7 182.9,86.8z" fill="#8b0033"/>
<path d="M182.9,86.8 202,90.7 202.7,90.1 183.7,86.1z" fill="#8b002f"/>
<path d="M183.7,86.1 202.7,90.1 203.5,89.4 184.4,85.5z" fill="#8a002b"/>
<path d="M184.4,85.5 203.5,89.4 204.2,88.8 185.1,84.9z" fill="#8a0028"/>
<path d="M185.1,84.9 204.2,88.8 205,88.2 185.9,84.3z" fill="#8a0025"/>
<path d="M185.9,84.3 205,88.2 205.7,87.6 186.6,83.7z" fill="#8a0022"/>
<path d="M186.6,83.7 205.7,87.6 206.5,86.9 187.4,83.1z" fill="#8a001f"/>
<path d="M187.4,83.1 206.5,86.9 207.3,86.3 188.2,82.5z" fill="#8a001d"/>
<path d="M188.2,82.5 207.3,86.3 208.1,85.7 189,81.9z" fill="#8a001b"/>
<path d="M189,81.9 208.1,85.7 208.9,85.1 189.8,81.3z" fill="#8a001b"/>
<path d="M189.8,81.3 208.9,85.1 209.7,84.5 190.5,80.7z" fill="#8a001b"/>
<path d="M190.5,80.7 209.7,84.5 210.5,83.9 191.3,80.1z" fill="#8a001b"/>
<path d="M191.3,80.1 210.5,83.9 211.3,83.3 192.2,79.5z" fill="#8a001b"/>
<path d="M192.2,79.5 211.3,83.3 212.1,82.7 193,78.9z" fill="#8a001b"/>
<path d="M193,78.9 212.1,82.7 212.9,82.1 193.8,78.3z" fill="#8a001b"/>
<path d="M193.8,78.3 212.9,82.1 213.8,81.5 194.6,77.7z" fill="#8a001b"/>
<path d="M194.6,77.7 213.8,81.5 214.6,80.9 195.5,77.1z" fill="#8a001b"/>
<path d="M195.5,77.1 214.6,80.9 215.5,80.3 196.3,76.6z" fill="#8a001b"/>
<path d="M196.3,76.6 215.5,80.3 216.3,79.7 197.2,76z" fill="#8a001b"/>
<path d="M197.2,76 216.3,79.7 217.2,79.1 198,75.4z" fill="#8a001b"/>
<path d="M198,75.4 217.2,79.1 218.1,78.5 198.9,74.8z" fill="#8a001b"/>
<path d="M198.9,74.8 218.1,78.5 219,77.9 199.8,74.2z" fill="#8a001b"/>
<path d="M199.8,74.2 219,77.9 219.9,77.3 200.7,73.6z" fill="#8a001b"/>
<path d="M200.7,73.6 219.9,77.3 220.8,76.7 201.5,73z" fill="#8a001b"/>
<path d="M201.5,73 220.8,76.7 221.7,76.1 202.4,72.4z" fill="#8a001b"/>
<path d="M202.4,72.4 221.7,76.1 222.6,75.5 203.3,71.8z" fill="#8a001b"/>
<path d="M203.3,71.8 222.6,75.5 223.5,74.9 204.2,71.2z" fill="#8a001b"/>
<path d="M204.2,71.2 223.5,74.9 224.4,74.3 205.2,70.6z" fill="#8a001b"/>
<path d="M205.2,70.6 224.4,74.3 225.3,73.7 206.1,70z" fill="#8a001b"/>
<path d="M206.1,70 225.3,73.7 226.3,73.1 207,69.4z" fill="#8a001b"/>
<path d="M207,69.4 226.3,73.1 227.2,72.5 208,68.8z" fill="#8a001b"/>
<path d="M208,68.8 227.2,72.5 228.2,71.9 208.9,68.2z" fill="#8a001b"/>
<path d="M208.9,68.2 228.2,71.9 229.1,71.3 209.8,67.6z" fill="#8a001b"/>
<path d="M209.8,67.6 229.1,71.3 230.1,70.7 210.8,67z" fill="#8a001b"/>
<path d="M210.8,67 230.1,70.7 231.1,70.1 211.8,66.4z" fill="#8a001b"/>
<path d="M211.8,66.4 231.1,70.1 232,69.4 212.7,65.8z" fill="#8a001b"/>
<path d="M212.7,65.8 232,69.4 233,68.8 213.7,65.2z" fill="#8a001b"/>
<path d="M213.7,65.2 233,68.8 235.8,67.1 216.5,63.4z" fill="#8a001b"/>
</g></g>
<g fill="#000">
<circle cx="91.6" cy="63.6" r="1.35"/>
<circle cx="132.6" cy="59.6" r="1.35"/>
<circle cx="173.5" cy="55.9" r="1.35"/>
<circle cx="104.7" cy="81.6" r="1.35"/>
<circle cx="145.6" cy="74.4" r="1.35"/>
<circle cx="186.5" cy="70.4" r="1.35"/>
<circle cx="117.8" cy="117.7" r="1.35"/>
<circle cx="158.7" cy="92.4" r="1.35"/>
<circle cx="199.6" cy="85.8" r="1.35"/>
</g>
<g fill="none" stroke="#1a1a1a" stroke-width="1.1">
<polyline points="53.5,62.1 53.5,153.3 173.4,180.3 244,134.4"/>
<line x1="50.3" y1="152.6" x2="53.5" y2="153.3" stroke="#1a1a1a" stroke-width="1.1"/>
<line x1="50.3" y1="129.8" x2="53.5" y2="130.5" stroke="#1a1a1a" stroke-width="1.1"/>
<line x1="50.3" y1="107" x2="53.5" y2="107.7" stroke="#1a1a1a" stroke-width="1.1"/>
<line x1="50.3" y1="84.2" x2="53.5" y2="84.9" stroke="#1a1a1a" stroke-width="1.1"/>
<line x1="50.3" y1="61.4" x2="53.5" y2="62.1" stroke="#1a1a1a" stroke-width="1.1"/>
<line x1="63.7" y1="155.6" x2="61.5" y2="157" stroke="#1a1a1a" stroke-width="1.1"/>
<line x1="118.2" y1="167.9" x2="116.1" y2="169.3" stroke="#1a1a1a" stroke-width="1.1"/>
<line x1="173.4" y1="180.3" x2="171.2" y2="181.7" stroke="#1a1a1a" stroke-width="1.1"/>
<line x1="187.5" y1="171.1" x2="190" y2="171.7" stroke="#1a1a1a" stroke-width="1.1"/>
<line x1="210.6" y1="156.1" x2="213.1" y2="156.7" stroke="#1a1a1a" stroke-width="1.1"/>
<line x1="234" y1="140.9" x2="236.5" y2="141.5" stroke="#1a1a1a" stroke-width="1.1"/>
</g>
<text x="44.7" y="157.2" text-anchor="end">1.35</text>
<text x="44.7" y="134.4" text-anchor="end">1.4</text>
<text x="44.7" y="111.6" text-anchor="end">1.45</text>
<text x="44.7" y="88.8" text-anchor="end">1.5</text>
<text x="44.7" y="66" text-anchor="end">1.55</text>
<text y="44.9"><tspan x="24.4" font-size="15.5">×</tspan><tspan x="35.4">10</tspan><tspan x="48.9" dy="-7.6" font-size="9.6">6</tspan></text>
<text transform="translate(12,108) rotate(-90)" text-anchor="middle" font-size="13.7">S (VA)</text>
<text x="47.4" y="173.1" text-anchor="middle">450</text>
<text x="102" y="185.7" text-anchor="middle">500</text>
<text x="156.8" y="197.4" text-anchor="middle">550</text>
<text x="83.7" y="205.6" text-anchor="middle" font-size="13.7">h (mm)</text>
<text x="204.9" y="186.6" text-anchor="middle">220</text>
<text x="228.3" y="171.5" text-anchor="middle">240</text>
<text x="251.5" y="156.2" text-anchor="middle">260</text>
<text x="232.8" y="200.6" text-anchor="start" font-size="13.7">d0 (mm)</text>
<text x="150.3" y="14" text-anchor="middle" font-weight="bold" fill="#000">(a)</text>
<g fill="none" stroke-linecap="butt">
<line x1="342.6" y1="145.9" x2="438.5" y2="109.8" stroke="#d6d6d6" stroke-width="1"/>
<line x1="438.5" y1="109.8" x2="438.5" y2="20.5" stroke="#d6d6d6" stroke-width="1"/>
<line x1="386.2" y1="162.9" x2="482.2" y2="126.6" stroke="#d6d6d6" stroke-width="1"/>
<line x1="482.2" y1="126.6" x2="482.2" y2="37" stroke="#d6d6d6" stroke-width="1"/>
<line x1="478.4" y1="161.2" x2="382.4" y2="124.7" stroke="#d6d6d6" stroke-width="1"/>
<line x1="382.4" y1="124.7" x2="382.3" y2="35.1" stroke="#d6d6d6" stroke-width="1"/>
<polyline points="334.8,120.4 429.9,84.2 525.3,120.7" stroke="#d6d6d6"/>
<polyline points="334.8,97.9 429.9,61.9 525.3,98.2" stroke="#d6d6d6"/>
<polyline points="334.7,75.4 429.9,39.6 525.4,75.7" stroke="#d6d6d6"/>
<polyline points="334.8,142.9 429.9,106.5 525.3,143.2" stroke="#cfcfcf"/>
<polyline points="334.7,52.9 429.9,17.3 525.4,53.2 525.3,143.2" stroke="#cfcfcf"/>
<line x1="429.9" y1="106.5" x2="429.9" y2="17.3" stroke="#cfcfcf" stroke-width="1"/>
</g>
<clipPath id="c2"><path d="M361,68.2 446,99.3 513.3,75.7 429.5,41.5z"/></clipPath>
<g clip-path="url(#c2)"><g filter="url(#bl1_0)" shape-rendering="crispEdges">
<path d="M348.7,67.9 351.8,69 354.3,68 351.2,66.9z" fill="#625e00"/>
<path d="M351.2,66.9 354.3,68 356.8,67 353.7,65.9z" fill="#625e00"/>
<path d="M353.7,65.9 356.8,67 359.3,66.1 356.2,64.9z" fill="#626000"/>
<path d="M356.2,64.9 359.3,66.1 361.7,65.1 358.7,64z" fill="#5d6200"/>
<path d="M358.7,64 361.7,65.1 364.2,64.1 361.1,63z" fill="#556200"/>
<path d="M361.1,63 364.2,64.1 366.7,63.1 363.6,62z" fill="#4e6200"/>
<path d="M363.6,62 366.7,63.1 369.2,62.2 366.1,61z" fill="#476200"/>
<path d="M366.1,61 369.2,62.2 371.7,61.2 368.6,60.1z" fill="#406200"/>
<path d="M368.6,60.1 371.7,61.2 374.2,60.2 371.1,59.1z" fill="#386200"/>
<path d="M371.1,59.1 374.2,60.2 376.6,59.3 373.6,58.1z" fill="#316200"/>
<path d="M373.6,58.1 376.6,59.3 379.1,58.3 376.1,57.1z" fill="#2a6200"/>
<path d="M376.1,57.1 379.1,58.3 381.6,57.3 378.6,56.1z" fill="#236200"/>
<path d="M378.6,56.1 381.6,57.3 384.1,56.3 381,55.2z" fill="#1b6200"/>
<path d="M381,55.2 384.1,56.3 386.6,55.4 383.5,54.2z" fill="#146200"/>
<path d="M383.5,54.2 386.6,55.4 389.1,54.4 386,53.2z" fill="#0d6200"/>
<path d="M386,53.2 389.1,54.4 391.6,53.4 388.5,52.2z" fill="#066200"/>
<path d="M388.5,52.2 391.6,53.4 394,52.4 391,51.3z" fill="#006201"/>
<path d="M391,51.3 394,52.4 396.5,51.5 393.5,50.3z" fill="#006206"/>
<path d="M393.5,50.3 396.5,51.5 399,50.5 396,49.3z" fill="#00620b"/>
<path d="M396,49.3 399,50.5 401.5,49.5 398.4,48.3z" fill="#006210"/>
<path d="M398.4,48.3 401.5,49.5 404,48.6 400.9,47.4z" fill="#006215"/>
<path d="M400.9,47.4 404,48.6 406.5,47.6 403.4,46.4z" fill="#00621a"/>
<path d="M403.4,46.4 406.5,47.6 409,46.6 405.9,45.4z" fill="#00621f"/>
<path d="M405.9,45.4 409,46.6 411.4,45.6 408.4,44.4z" fill="#006224"/>
<path d="M408.4,44.4 411.4,45.6 413.9,44.7 410.9,43.4z" fill="#00622a"/>
<path d="M410.9,43.4 413.9,44.7 416.4,43.7 413.4,42.5z" fill="#00622f"/>
<path d="M413.4,42.5 416.4,43.7 418.9,42.7 415.9,41.5z" fill="#006234"/>
<path d="M415.9,41.5 418.9,42.7 421.4,41.7 418.3,40.5z" fill="#006239"/>
<path d="M418.3,40.5 421.4,41.7 423.9,40.8 420.8,39.5z" fill="#00623e"/>
<path d="M420.8,39.5 423.9,40.8 426.3,39.8 423.3,38.6z" fill="#006243"/>
<path d="M423.3,38.6 426.3,39.8 428.8,38.8 425.8,37.6z" fill="#006245"/>
<path d="M425.8,37.6 428.8,38.8 431.3,37.9 428.3,36.6z" fill="#006245"/>
<path d="M351.8,69 354.9,70.1 357.4,69.1 354.3,68z" fill="#625e00"/>
<path d="M354.3,68 357.4,69.1 359.8,68.2 356.8,67z" fill="#625e00"/>
<path d="M356.8,67 359.8,68.2 362.3,67.2 359.3,66.1z" fill="#626000"/>
<path d="M359.3,66.1 362.3,67.2 364.8,66.2 361.7,65.1z" fill="#5d6200"/>
<path d="M361.7,65.1 364.8,66.2 367.3,65.3 364.2,64.1z" fill="#556200"/>
<path d="M364.2,64.1 367.3,65.3 369.8,64.3 366.7,63.1z" fill="#4e6200"/>
<path d="M366.7,63.1 369.8,64.3 372.3,63.3 369.2,62.2z" fill="#476200"/>
<path d="M369.2,62.2 372.3,63.3 374.7,62.4 371.7,61.2z" fill="#406200"/>
<path d="M371.7,61.2 374.7,62.4 377.2,61.4 374.2,60.2z" fill="#386200"/>
<path d="M374.2,60.2 377.2,61.4 379.7,60.4 376.6,59.3z" fill="#316200"/>
<path d="M376.6,59.3 379.7,60.4 382.2,59.4 379.1,58.3z" fill="#2a6200"/>
<path d="M379.1,58.3 382.2,59.4 384.7,58.5 381.6,57.3z" fill="#236200"/>
<path d="M381.6,57.3 384.7,58.5 387.2,57.5 384.1,56.3z" fill="#1b6200"/>
<path d="M384.1,56.3 387.2,57.5 389.7,56.5 386.6,55.4z" fill="#146200"/>
<path d="M386.6,55.4 389.7,56.5 392.1,55.6 389.1,54.4z" fill="#0d6200"/>
<path d="M389.1,54.4 392.1,55.6 394.6,54.6 391.6,53.4z" fill="#066200"/>
<path d="M391.6,53.4 394.6,54.6 397.1,53.6 394,52.4z" fill="#006201"/>
<path d="M394,52.4 397.1,53.6 399.6,52.7 396.5,51.5z" fill="#006206"/>
<path d="M396.5,51.5 399.6,52.7 402.1,51.7 399,50.5z" fill="#00620b"/>
<path d="M399,50.5 402.1,51.7 404.6,50.7 401.5,49.5z" fill="#006210"/>
<path d="M401.5,49.5 404.6,50.7 407,49.8 404,48.6z" fill="#006215"/>
<path d="M404,48.6 407,49.8 409.5,48.8 406.5,47.6z" fill="#00621a"/>
<path d="M406.5,47.6 409.5,48.8 412,47.8 409,46.6z" fill="#00621f"/>
<path d="M409,46.6 412,47.8 414.5,46.9 411.4,45.6z" fill="#006224"/>
<path d="M411.4,45.6 414.5,46.9 417,45.9 413.9,44.7z" fill="#00622a"/>
<path d="M413.9,44.7 417,45.9 419.5,44.9 416.4,43.7z" fill="#00622f"/>
<path d="M416.4,43.7 419.5,44.9 421.9,43.9 418.9,42.7z" fill="#006234"/>
<path d="M418.9,42.7 421.9,43.9 424.4,43 421.4,41.7z" fill="#006239"/>
<path d="M421.4,41.7 424.4,43 426.9,42 423.9,40.8z" fill="#00623e"/>
<path d="M423.9,40.8 426.9,42 429.4,41 426.3,39.8z" fill="#006243"/>
<path d="M426.3,39.8 429.4,41 431.9,40.1 428.8,38.8z" fill="#006245"/>
<path d="M428.8,38.8 431.9,40.1 434.4,39.1 431.3,37.9z" fill="#006245"/>
<path d="M354.9,70.1 358,71.2 360.4,70.3 357.4,69.1z" fill="#626100"/>
<path d="M357.4,69.1 360.4,70.3 362.9,69.3 359.8,68.2z" fill="#626100"/>
<path d="M359.8,68.2 362.9,69.3 365.4,68.3 362.3,67.2z" fill="#626200"/>
<path d="M362.3,67.2 365.4,68.3 367.9,67.4 364.8,66.2z" fill="#5b6200"/>
<path d="M364.8,66.2 367.9,67.4 370.4,66.4 367.3,65.3z" fill="#536200"/>
<path d="M367.3,65.3 370.4,66.4 372.9,65.4 369.8,64.3z" fill="#4c6200"/>
<path d="M369.8,64.3 372.9,65.4 375.3,64.5 372.3,63.3z" fill="#456200"/>
<path d="M372.3,63.3 375.3,64.5 377.8,63.5 374.7,62.4z" fill="#3e6200"/>
<path d="M374.7,62.4 377.8,63.5 380.3,62.5 377.2,61.4z" fill="#376200"/>
<path d="M377.2,61.4 380.3,62.5 382.8,61.6 379.7,60.4z" fill="#306200"/>
<path d="M379.7,60.4 382.8,61.6 385.3,60.6 382.2,59.4z" fill="#286200"/>
<path d="M382.2,59.4 385.3,60.6 387.7,59.6 384.7,58.5z" fill="#216200"/>
<path d="M384.7,58.5 387.7,59.6 390.2,58.7 387.2,57.5z" fill="#1a6200"/>
<path d="M387.2,57.5 390.2,58.7 392.7,57.7 389.7,56.5z" fill="#136200"/>
<path d="M389.7,56.5 392.7,57.7 395.2,56.8 392.1,55.6z" fill="#0c6200"/>
<path d="M392.1,55.6 395.2,56.8 397.7,55.8 394.6,54.6z" fill="#056200"/>
<path d="M394.6,54.6 397.7,55.8 400.2,54.8 397.1,53.6z" fill="#006201"/>
<path d="M397.1,53.6 400.2,54.8 402.6,53.9 399.6,52.7z" fill="#006206"/>
<path d="M399.6,52.7 402.6,53.9 405.1,52.9 402.1,51.7z" fill="#00620b"/>
<path d="M402.1,51.7 405.1,52.9 407.6,51.9 404.6,50.7z" fill="#006211"/>
<path d="M404.6,50.7 407.6,51.9 410.1,51 407,49.8z" fill="#006216"/>
<path d="M407,49.8 410.1,51 412.6,50 409.5,48.8z" fill="#00621b"/>
<path d="M409.5,48.8 412.6,50 415,49 412,47.8z" fill="#006220"/>
<path d="M412,47.8 415,49 417.5,48.1 414.5,46.9z" fill="#006225"/>
<path d="M414.5,46.9 417.5,48.1 420,47.1 417,45.9z" fill="#00622a"/>
<path d="M417,45.9 420,47.1 422.5,46.1 419.5,44.9z" fill="#00622f"/>
<path d="M419.5,44.9 422.5,46.1 425,45.2 421.9,43.9z" fill="#006234"/>
<path d="M421.9,43.9 425,45.2 427.5,44.2 424.4,43z" fill="#006239"/>
<path d="M424.4,43 427.5,44.2 429.9,43.2 426.9,42z" fill="#00623e"/>
<path d="M426.9,42 429.9,43.2 432.4,42.3 429.4,41z" fill="#006243"/>
<path d="M429.4,41 432.4,42.3 434.9,41.3 431.9,40.1z" fill="#006244"/>
<path d="M431.9,40.1 434.9,41.3 437.4,40.4 434.4,39.1z" fill="#006244"/>
<path d="M358,71.2 361.1,72.3 363.5,71.4 360.4,70.3z" fill="#5c6200"/>
<path d="M360.4,70.3 363.5,71.4 366,70.4 362.9,69.3z" fill="#5c6200"/>
<path d="M362.9,69.3 366,70.4 368.5,69.5 365.4,68.3z" fill="#5a6200"/>
<path d="M365.4,68.3 368.5,69.5 371,68.5 367.9,67.4z" fill="#536200"/>
<path d="M367.9,67.4 371,68.5 373.5,67.5 370.4,66.4z" fill="#4c6200"/>
<path d="M370.4,66.4 373.5,67.5 375.9,66.6 372.9,65.4z" fill="#466200"/>
<path d="M372.9,65.4 375.9,66.6 378.4,65.6 375.3,64.5z" fill="#3f6200"/>
<path d="M375.3,64.5 378.4,65.6 380.9,64.7 377.8,63.5z" fill="#386200"/>
<path d="M377.8,63.5 380.9,64.7 383.4,63.7 380.3,62.5z" fill="#316200"/>
<path d="M380.3,62.5 383.4,63.7 385.9,62.7 382.8,61.6z" fill="#2a6200"/>
<path d="M382.8,61.6 385.9,62.7 388.3,61.8 385.3,60.6z" fill="#236200"/>
<path d="M385.3,60.6 388.3,61.8 390.8,60.8 387.7,59.6z" fill="#1c6200"/>
<path d="M387.7,59.6 390.8,60.8 393.3,59.9 390.2,58.7z" fill="#166200"/>
<path d="M390.2,58.7 393.3,59.9 395.8,58.9 392.7,57.7z" fill="#0f6200"/>
<path d="M392.7,57.7 395.8,58.9 398.3,57.9 395.2,56.8z" fill="#086200"/>
<path d="M395.2,56.8 398.3,57.9 400.7,57 397.7,55.8z" fill="#026200"/>
<path d="M397.7,55.8 400.7,57 403.2,56 400.2,54.8z" fill="#006204"/>
<path d="M400.2,54.8 403.2,56 405.7,55.1 402.6,53.9z" fill="#006209"/>
<path d="M402.6,53.9 405.7,55.1 408.2,54.1 405.1,52.9z" fill="#00620e"/>
<path d="M405.1,52.9 408.2,54.1 410.7,53.1 407.6,51.9z" fill="#006212"/>
<path d="M407.6,51.9 410.7,53.1 413.1,52.2 410.1,51z" fill="#006217"/>
<path d="M410.1,51 413.1,52.2 415.6,51.2 412.6,50z" fill="#00621c"/>
<path d="M412.6,50 415.6,51.2 418.1,50.2 415,49z" fill="#006221"/>
<path d="M415,49 418.1,50.2 420.6,49.3 417.5,48.1z" fill="#006226"/>
<path d="M417.5,48.1 420.6,49.3 423.1,48.3 420,47.1z" fill="#00622b"/>
<path d="M420,47.1 423.1,48.3 425.5,47.4 422.5,46.1z" fill="#006230"/>
<path d="M422.5,46.1 425.5,47.4 428,46.4 425,45.2z" fill="#006234"/>
<path d="M425,45.2 428,46.4 430.5,45.4 427.5,44.2z" fill="#006238"/>
<path d="M427.5,44.2 430.5,45.4 433,44.5 429.9,43.2z" fill="#00623c"/>
<path d="M429.9,43.2 433,44.5 435.5,43.5 432.4,42.3z" fill="#006240"/>
<path d="M432.4,42.3 435.5,43.5 437.9,42.6 434.9,41.3z" fill="#006241"/>
<path d="M434.9,41.3 437.9,42.6 440.4,41.6 437.4,40.4z" fill="#006241"/>
<path d="M361.1,72.3 364.1,73.5 366.6,72.5 363.5,71.4z" fill="#546200"/>
<path d="M363.5,71.4 366.6,72.5 369.1,71.5 366,70.4z" fill="#546200"/>
<path d="M366,70.4 369.1,71.5 371.6,70.6 368.5,69.5z" fill="#536200"/>
<path d="M368.5,69.5 371.6,70.6 374.1,69.6 371,68.5z" fill="#4c6200"/>
<path d="M371,68.5 374.1,69.6 376.5,68.7 373.5,67.5z" fill="#456200"/>
<path d="M373.5,67.5 376.5,68.7 379,67.7 375.9,66.6z" fill="#3f6200"/>
<path d="M375.9,66.6 379,67.7 381.5,66.8 378.4,65.6z" fill="#386200"/>
<path d="M378.4,65.6 381.5,66.8 384,65.8 380.9,64.7z" fill="#326200"/>
<path d="M380.9,64.7 384,65.8 386.4,64.9 383.4,63.7z" fill="#2b6200"/>
<path d="M383.4,63.7 386.4,64.9 388.9,63.9 385.9,62.7z" fill="#256200"/>
<path d="M385.9,62.7 388.9,63.9 391.4,62.9 388.3,61.8z" fill="#1e6200"/>
<path d="M388.3,61.8 391.4,62.9 393.9,62 390.8,60.8z" fill="#186200"/>
<path d="M390.8,60.8 393.9,62 396.4,61 393.3,59.9z" fill="#116200"/>
<path d="M393.3,59.9 396.4,61 398.8,60.1 395.8,58.9z" fill="#0b6200"/>
<path d="M395.8,58.9 398.8,60.1 401.3,59.1 398.3,57.9z" fill="#056200"/>
<path d="M398.3,57.9 401.3,59.1 403.8,58.2 400.7,57z" fill="#006202"/>
<path d="M400.7,57 403.8,58.2 406.3,57.2 403.2,56z" fill="#006207"/>
<path d="M403.2,56 406.3,57.2 408.8,56.2 405.7,55.1z" fill="#00620b"/>
<path d="M405.7,55.1 408.8,56.2 411.2,55.3 408.2,54.1z" fill="#006210"/>
<path d="M408.2,54.1 411.2,55.3 413.7,54.3 410.7,53.1z" fill="#006214"/>
<path d="M410.7,53.1 413.7,54.3 416.2,53.4 413.1,52.2z" fill="#006219"/>
<path d="M413.1,52.2 416.2,53.4 418.7,52.4 415.6,51.2z" fill="#00621e"/>
<path d="M415.6,51.2 418.7,52.4 421.1,51.5 418.1,50.2z" fill="#006223"/>
<path d="M418.1,50.2 421.1,51.5 423.6,50.5 420.6,49.3z" fill="#006228"/>
<path d="M420.6,49.3 423.6,50.5 426.1,49.5 423.1,48.3z" fill="#00622d"/>
<path d="M423.1,48.3 426.1,49.5 428.6,48.6 425.5,47.4z" fill="#006231"/>
<path d="M425.5,47.4 428.6,48.6 431.1,47.6 428,46.4z" fill="#006235"/>
<path d="M428,46.4 431.1,47.6 433.5,46.7 430.5,45.4z" fill="#006238"/>
<path d="M430.5,45.4 433.5,46.7 436,45.7 433,44.5z" fill="#00623b"/>
<path d="M433,44.5 436,45.7 438.5,44.8 435.5,43.5z" fill="#00623e"/>
<path d="M435.5,43.5 438.5,44.8 441,43.8 437.9,42.6z" fill="#00623f"/>
<path d="M437.9,42.6 441,43.8 443.5,42.9 440.4,41.6z" fill="#00623f"/>
<path d="M364.1,73.5 367.2,74.6 369.7,73.6 366.6,72.5z" fill="#4d6200"/>
<path d="M366.6,72.5 369.7,73.6 372.2,72.7 369.1,71.5z" fill="#4d6200"/>
<path d="M369.1,71.5 372.2,72.7 374.7,71.7 371.6,70.6z" fill="#4b6200"/>
<path d="M371.6,70.6 374.7,71.7 377.1,70.8 374.1,69.6z" fill="#456200"/>
<path d="M374.1,69.6 377.1,70.8 379.6,69.8 376.5,68.7z" fill="#3e6200"/>
<path d="M376.5,68.7 379.6,69.8 382.1,68.9 379,67.7z" fill="#386200"/>
<path d="M379,67.7 382.1,68.9 384.6,67.9 381.5,66.8z" fill="#326200"/>
<path d="M381.5,66.8 384.6,67.9 387,67 384,65.8z" fill="#2c6200"/>
<path d="M384,65.8 387,67 389.5,66 386.4,64.9z" fill="#256200"/>
<path d="M386.4,64.9 389.5,66 392,65.1 388.9,63.9z" fill="#1f6200"/>
<path d="M388.9,63.9 392,65.1 394.5,64.1 391.4,62.9z" fill="#196200"/>
<path d="M391.4,62.9 394.5,64.1 396.9,63.1 393.9,62z" fill="#136200"/>
<path d="M393.9,62 396.9,63.1 399.4,62.2 396.4,61z" fill="#0d6200"/>
<path d="M396.4,61 399.4,62.2 401.9,61.2 398.8,60.1z" fill="#076200"/>
<path d="M398.8,60.1 401.9,61.2 404.4,60.3 401.3,59.1z" fill="#016200"/>
<path d="M401.3,59.1 404.4,60.3 406.9,59.3 403.8,58.2z" fill="#006205"/>
<path d="M403.8,58.2 406.9,59.3 409.3,58.4 406.3,57.2z" fill="#006209"/>
<path d="M406.3,57.2 409.3,58.4 411.8,57.4 408.8,56.2z" fill="#00620e"/>
<path d="M408.8,56.2 411.8,57.4 414.3,56.5 411.2,55.3z" fill="#006212"/>
<path d="M411.2,55.3 414.3,56.5 416.8,55.5 413.7,54.3z" fill="#006216"/>
<path d="M413.7,54.3 416.8,55.5 419.2,54.6 416.2,53.4z" fill="#00621b"/>
<path d="M416.2,53.4 419.2,54.6 421.7,53.6 418.7,52.4z" fill="#00621f"/>
<path d="M418.7,52.4 421.7,53.6 424.2,52.7 421.1,51.5z" fill="#006224"/>
<path d="M421.1,51.5 424.2,52.7 426.7,51.7 423.6,50.5z" fill="#006229"/>
<path d="M423.6,50.5 426.7,51.7 429.1,50.8 426.1,49.5z" fill="#00622e"/>
<path d="M426.1,49.5 429.1,50.8 431.6,49.8 428.6,48.6z" fill="#006232"/>
<path d="M428.6,48.6 431.6,49.8 434.1,48.9 431.1,47.6z" fill="#006235"/>
<path d="M431.1,47.6 434.1,48.9 436.6,47.9 433.5,46.7z" fill="#006238"/>
<path d="M433.5,46.7 436.6,47.9 439.1,47 436,45.7z" fill="#00623a"/>
<path d="M436,45.7 439.1,47 441.5,46 438.5,44.8z" fill="#00623c"/>
<path d="M438.5,44.8 441.5,46 444,45.1 441,43.8z" fill="#00623c"/>
<path d="M441,43.8 444,45.1 446.5,44.1 443.5,42.9z" fill="#00623c"/>
<path d="M367.2,74.6 370.3,75.7 372.8,74.7 369.7,73.6z" fill="#456200"/>
<path d="M369.7,73.6 372.8,74.7 375.3,73.8 372.2,72.7z" fill="#456200"/>
<path d="M372.2,72.7 375.3,73.8 377.7,72.9 374.7,71.7z" fill="#436200"/>
<path d="M374.7,71.7 377.7,72.9 380.2,71.9 377.1,70.8z" fill="#3d6200"/>
<path d="M377.1,70.8 380.2,71.9 382.7,71 379.6,69.8z" fill="#376200"/>
<path d="M379.6,69.8 382.7,71 385.2,70 382.1,68.9z" fill="#316200"/>
<path d="M382.1,68.9 385.2,70 387.6,69.1 384.6,67.9z" fill="#2c6200"/>
<path d="M384.6,67.9 387.6,69.1 390.1,68.1 387,67z" fill="#266200"/>
<path d="M387,67 390.1,68.1 392.6,67.2 389.5,66z" fill="#206200"/>
<path d="M389.5,66 392.6,67.2 395.1,66.2 392,65.1z" fill="#1a6200"/>
<path d="M392,65.1 395.1,66.2 397.5,65.3 394.5,64.1z" fill="#146200"/>
<path d="M394.5,64.1 397.5,65.3 400,64.3 396.9,63.1z" fill="#0e6200"/>
<path d="M396.9,63.1 400,64.3 402.5,63.4 399.4,62.2z" fill="#086200"/>
<path d="M399.4,62.2 402.5,63.4 405,62.4 401.9,61.2z" fill="#036200"/>
<path d="M401.9,61.2 405,62.4 407.4,61.5 404.4,60.3z" fill="#006202"/>
<path d="M404.4,60.3 407.4,61.5 409.9,60.5 406.9,59.3z" fill="#006208"/>
<path d="M406.9,59.3 409.9,60.5 412.4,59.6 409.3,58.4z" fill="#00620c"/>
<path d="M409.3,58.4 412.4,59.6 414.9,58.6 411.8,57.4z" fill="#006210"/>
<path d="M411.8,57.4 414.9,58.6 417.3,57.7 414.3,56.5z" fill="#006214"/>
<path d="M414.3,56.5 417.3,57.7 419.8,56.7 416.8,55.5z" fill="#006218"/>
<path d="M416.8,55.5 419.8,56.7 422.3,55.8 419.2,54.6z" fill="#00621c"/>
<path d="M419.2,54.6 422.3,55.8 424.8,54.8 421.7,53.6z" fill="#006221"/>
<path d="M421.7,53.6 424.8,54.8 427.2,53.9 424.2,52.7z" fill="#006226"/>
<path d="M424.2,52.7 427.2,53.9 429.7,52.9 426.7,51.7z" fill="#00622b"/>
<path d="M426.7,51.7 429.7,52.9 432.2,52 429.1,50.8z" fill="#006230"/>
<path d="M429.1,50.8 432.2,52 434.7,51 431.6,49.8z" fill="#006233"/>
<path d="M431.6,49.8 434.7,51 437.1,50.1 434.1,48.9z" fill="#006235"/>
<path d="M434.1,48.9 437.1,50.1 439.6,49.1 436.6,47.9z" fill="#006237"/>
<path d="M436.6,47.9 439.6,49.1 442.1,48.2 439.1,47z" fill="#006238"/>
<path d="M439.1,47 442.1,48.2 444.6,47.2 441.5,46z" fill="#006239"/>
<path d="M441.5,46 444.6,47.2 447,46.3 444,45.1z" fill="#00623a"/>
<path d="M444,45.1 447,46.3 449.5,45.3 446.5,44.1z" fill="#00623a"/>
<path d="M370.3,75.7 373.4,76.8 375.9,75.9 372.8,74.7z" fill="#3d6200"/>
<path d="M372.8,74.7 375.9,75.9 378.3,74.9 375.3,73.8z" fill="#3d6200"/>
<path d="M375.3,73.8 378.3,74.9 380.8,74 377.7,72.9z" fill="#3c6200"/>
<path d="M377.7,72.9 380.8,74 383.3,73 380.2,71.9z" fill="#366200"/>
<path d="M380.2,71.9 383.3,73 385.8,72.1 382.7,71z" fill="#306200"/>
<path d="M382.7,71 385.8,72.1 388.2,71.1 385.2,70z" fill="#2b6200"/>
<path d="M385.2,70 388.2,71.1 390.7,70.2 387.6,69.1z" fill="#256200"/>
<path d="M387.6,69.1 390.7,70.2 393.2,69.3 390.1,68.1z" fill="#206200"/>
<path d="M390.1,68.1 393.2,69.3 395.7,68.3 392.6,67.2z" fill="#1a6200"/>
<path d="M392.6,67.2 395.7,68.3 398.1,67.4 395.1,66.2z" fill="#146200"/>
<path d="M395.1,66.2 398.1,67.4 400.6,66.4 397.5,65.3z" fill="#0f6200"/>
<path d="M397.5,65.3 400.6,66.4 403.1,65.5 400,64.3z" fill="#096200"/>
<path d="M400,64.3 403.1,65.5 405.6,64.5 402.5,63.4z" fill="#046200"/>
<path d="M402.5,63.4 405.6,64.5 408,63.6 405,62.4z" fill="#006201"/>
<path d="M405,62.4 408,63.6 410.5,62.7 407.4,61.5z" fill="#006206"/>
<path d="M407.4,61.5 410.5,62.7 413,61.7 409.9,60.5z" fill="#00620b"/>
<path d="M409.9,60.5 413,61.7 415.4,60.8 412.4,59.6z" fill="#00620f"/>
<path d="M412.4,59.6 415.4,60.8 417.9,59.8 414.9,58.6z" fill="#006212"/>
<path d="M414.9,58.6 417.9,59.8 420.4,58.9 417.3,57.7z" fill="#006216"/>
<path d="M417.3,57.7 420.4,58.9 422.9,57.9 419.8,56.7z" fill="#00621a"/>
<path d="M419.8,56.7 422.9,57.9 425.3,57 422.3,55.8z" fill="#00621e"/>
<path d="M422.3,55.8 425.3,57 427.8,56 424.8,54.8z" fill="#006222"/>
<path d="M424.8,54.8 427.8,56 430.3,55.1 427.2,53.9z" fill="#006227"/>
<path d="M427.2,53.9 430.3,55.1 432.8,54.2 429.7,52.9z" fill="#00622c"/>
<path d="M429.7,52.9 432.8,54.2 435.2,53.2 432.2,52z" fill="#006231"/>
<path d="M432.2,52 435.2,53.2 437.7,52.3 434.7,51z" fill="#006234"/>
<path d="M434.7,51 437.7,52.3 440.2,51.3 437.1,50.1z" fill="#006235"/>
<path d="M437.1,50.1 440.2,51.3 442.7,50.4 439.6,49.1z" fill="#006237"/>
<path d="M439.6,49.1 442.7,50.4 445.1,49.4 442.1,48.2z" fill="#006237"/>
<path d="M442.1,48.2 445.1,49.4 447.6,48.5 444.6,47.2z" fill="#006237"/>
<path d="M444.6,47.2 447.6,48.5 450.1,47.5 447,46.3z" fill="#006237"/>
<path d="M447,46.3 450.1,47.5 452.6,46.6 449.5,45.3z" fill="#006237"/>
<path d="M373.4,76.8 376.5,77.9 378.9,77 375.9,75.9z" fill="#366200"/>
<path d="M375.9,75.9 378.9,77 381.4,76.1 378.3,74.9z" fill="#366200"/>
<path d="M378.3,74.9 381.4,76.1 383.9,75.1 380.8,74z" fill="#346200"/>
<path d="M380.8,74 383.9,75.1 386.4,74.2 383.3,73z" fill="#2f6200"/>
<path d="M383.3,73 386.4,74.2 388.8,73.2 385.8,72.1z" fill="#296200"/>
<path d="M385.8,72.1 388.8,73.2 391.3,72.3 388.2,71.1z" fill="#246200"/>
<path d="M388.2,71.1 391.3,72.3 393.8,71.4 390.7,70.2z" fill="#1f6200"/>
<path d="M390.7,70.2 393.8,71.4 396.3,70.4 393.2,69.3z" fill="#196200"/>
<path d="M393.2,69.3 396.3,70.4 398.7,69.5 395.7,68.3z" fill="#146200"/>
<path d="M395.7,68.3 398.7,69.5 401.2,68.5 398.1,67.4z" fill="#0f6200"/>
<path d="M398.1,67.4 401.2,68.5 403.7,67.6 400.6,66.4z" fill="#0a6200"/>
<path d="M400.6,66.4 403.7,67.6 406.1,66.7 403.1,65.5z" fill="#046200"/>
<path d="M403.1,65.5 406.1,66.7 408.6,65.7 405.6,64.5z" fill="#006201"/>
<path d="M405.6,64.5 408.6,65.7 411.1,64.8 408,63.6z" fill="#006205"/>
<path d="M408,63.6 411.1,64.8 413.6,63.8 410.5,62.7z" fill="#00620a"/>
<path d="M410.5,62.7 413.6,63.8 416,62.9 413,61.7z" fill="#00620e"/>
<path d="M413,61.7 416,62.9 418.5,61.9 415.4,60.8z" fill="#006212"/>
<path d="M415.4,60.8 418.5,61.9 421,61 417.9,59.8z" fill="#006215"/>
<path d="M417.9,59.8 421,61 423.5,60.1 420.4,58.9z" fill="#006218"/>
<path d="M420.4,58.9 423.5,60.1 425.9,59.1 422.9,57.9z" fill="#00621c"/>
<path d="M422.9,57.9 425.9,59.1 428.4,58.2 425.3,57z" fill="#006220"/>
<path d="M425.3,57 428.4,58.2 430.9,57.2 427.8,56z" fill="#006224"/>
<path d="M427.8,56 430.9,57.2 433.3,56.3 430.3,55.1z" fill="#006229"/>
<path d="M430.3,55.1 433.3,56.3 435.8,55.4 432.8,54.2z" fill="#00622e"/>
<path d="M432.8,54.2 435.8,55.4 438.3,54.4 435.2,53.2z" fill="#006233"/>
<path d="M435.2,53.2 438.3,54.4 440.8,53.5 437.7,52.3z" fill="#006235"/>
<path d="M437.7,52.3 440.8,53.5 443.2,52.5 440.2,51.3z" fill="#006236"/>
<path d="M440.2,51.3 443.2,52.5 445.7,51.6 442.7,50.4z" fill="#006237"/>
<path d="M442.7,50.4 445.7,51.6 448.2,50.7 445.1,49.4z" fill="#006236"/>
<path d="M445.1,49.4 448.2,50.7 450.6,49.7 447.6,48.5z" fill="#006235"/>
<path d="M447.6,48.5 450.6,49.7 453.1,48.8 450.1,47.5z" fill="#006235"/>
<path d="M450.1,47.5 453.1,48.8 455.6,47.8 452.6,46.6z" fill="#006235"/>
<path d="M376.5,77.9 379.6,79.1 382,78.1 378.9,77z" fill="#2e6200"/>
<path d="M378.9,77 382,78.1 384.5,77.2 381.4,76.1z" fill="#2e6200"/>
<path d="M381.4,76.1 384.5,77.2 387,76.2 383.9,75.1z" fill="#2d6200"/>
<path d="M383.9,75.1 387,76.2 389.4,75.3 386.4,74.2z" fill="#286200"/>
<path d="M386.4,74.2 389.4,75.3 391.9,74.4 388.8,73.2z" fill="#236200"/>
<path d="M388.8,73.2 391.9,74.4 394.4,73.4 391.3,72.3z" fill="#1e6200"/>
<path d="M391.3,72.3 394.4,73.4 396.9,72.5 393.8,71.4z" fill="#196200"/>
<path d="M393.8,71.4 396.9,72.5 399.3,71.6 396.3,70.4z" fill="#146200"/>
<path d="M396.3,70.4 399.3,71.6 401.8,70.6 398.7,69.5z" fill="#0f6200"/>
<path d="M398.7,69.5 401.8,70.6 404.3,69.7 401.2,68.5z" fill="#0a6200"/>
<path d="M401.2,68.5 404.3,69.7 406.7,68.8 403.7,67.6z" fill="#056200"/>
<path d="M403.7,67.6 406.7,68.8 409.2,67.8 406.1,66.7z" fill="#006200"/>
<path d="M406.1,66.7 409.2,67.8 411.7,66.9 408.6,65.7z" fill="#006205"/>
<path d="M408.6,65.7 411.7,66.9 414.2,65.9 411.1,64.8z" fill="#006209"/>
<path d="M411.1,64.8 414.2,65.9 416.6,65 413.6,63.8z" fill="#00620d"/>
<path d="M413.6,63.8 416.6,65 419.1,64.1 416,62.9z" fill="#006211"/>
<path d="M416,62.9 419.1,64.1 421.6,63.1 418.5,61.9z" fill="#006214"/>
<path d="M418.5,61.9 421.6,63.1 424,62.2 421,61z" fill="#006217"/>
<path d="M421,61 424,62.2 426.5,61.3 423.5,60.1z" fill="#00621a"/>
<path d="M423.5,60.1 426.5,61.3 429,60.3 425.9,59.1z" fill="#00621e"/>
<path d="M425.9,59.1 429,60.3 431.4,59.4 428.4,58.2z" fill="#006221"/>
<path d="M428.4,58.2 431.4,59.4 433.9,58.5 430.9,57.2z" fill="#006225"/>
<path d="M430.9,57.2 433.9,58.5 436.4,57.5 433.3,56.3z" fill="#00622a"/>
<path d="M433.3,56.3 436.4,57.5 438.9,56.6 435.8,55.4z" fill="#00622f"/>
<path d="M435.8,55.4 438.9,56.6 441.3,55.6 438.3,54.4z" fill="#006234"/>
<path d="M438.3,54.4 441.3,55.6 443.8,54.7 440.8,53.5z" fill="#006236"/>
<path d="M440.8,53.5 443.8,54.7 446.3,53.8 443.2,52.5z" fill="#006236"/>
<path d="M443.2,52.5 446.3,53.8 448.7,52.8 445.7,51.6z" fill="#006236"/>
<path d="M445.7,51.6 448.7,52.8 451.2,51.9 448.2,50.7z" fill="#006234"/>
<path d="M448.2,50.7 451.2,51.9 453.7,51 450.6,49.7z" fill="#006233"/>
<path d="M450.6,49.7 453.7,51 456.2,50 453.1,48.8z" fill="#006232"/>
<path d="M453.1,48.8 456.2,50 458.6,49.1 455.6,47.8z" fill="#006232"/>
<path d="M379.6,79.1 382.6,80.2 385.1,79.2 382,78.1z" fill="#286200"/>
<path d="M382,78.1 385.1,79.2 387.6,78.3 384.5,77.2z" fill="#286200"/>
<path d="M384.5,77.2 387.6,78.3 390.1,77.4 387,76.2z" fill="#266200"/>
<path d="M387,76.2 390.1,77.4 392.5,76.4 389.4,75.3z" fill="#216200"/>
<path d="M389.4,75.3 392.5,76.4 395,75.5 391.9,74.4z" fill="#1d6200"/>
<path d="M391.9,74.4 395,75.5 397.5,74.6 394.4,73.4z" fill="#186200"/>
<path d="M394.4,73.4 397.5,74.6 399.9,73.6 396.9,72.5z" fill="#136200"/>
<path d="M396.9,72.5 399.9,73.6 402.4,72.7 399.3,71.6z" fill="#0e6200"/>
<path d="M399.3,71.6 402.4,72.7 404.9,71.8 401.8,70.6z" fill="#0a6200"/>
<path d="M401.8,70.6 404.9,71.8 407.3,70.8 404.3,69.7z" fill="#056200"/>
<path d="M404.3,69.7 407.3,70.8 409.8,69.9 406.7,68.8z" fill="#006200"/>
<path d="M406.7,68.8 409.8,69.9 412.3,69 409.2,67.8z" fill="#006204"/>
<path d="M409.2,67.8 412.3,69 414.7,68.1 411.7,66.9z" fill="#006209"/>
<path d="M411.7,66.9 414.7,68.1 417.2,67.1 414.2,65.9z" fill="#00620d"/>
<path d="M414.2,65.9 417.2,67.1 419.7,66.2 416.6,65z" fill="#006210"/>
<path d="M416.6,65 419.7,66.2 422.2,65.3 419.1,64.1z" fill="#006214"/>
<path d="M419.1,64.1 422.2,65.3 424.6,64.3 421.6,63.1z" fill="#006216"/>
<path d="M421.6,63.1 424.6,64.3 427.1,63.4 424,62.2z" fill="#006219"/>
<path d="M424,62.2 427.1,63.4 429.6,62.5 426.5,61.3z" fill="#00621c"/>
<path d="M426.5,61.3 429.6,62.5 432,61.5 429,60.3z" fill="#006220"/>
<path d="M429,60.3 432,61.5 434.5,60.6 431.4,59.4z" fill="#006223"/>
<path d="M431.4,59.4 434.5,60.6 437,59.7 433.9,58.5z" fill="#006227"/>
<path d="M433.9,58.5 437,59.7 439.4,58.7 436.4,57.5z" fill="#00622c"/>
<path d="M436.4,57.5 439.4,58.7 441.9,57.8 438.9,56.6z" fill="#006231"/>
<path d="M438.9,56.6 441.9,57.8 444.4,56.9 441.3,55.6z" fill="#006236"/>
<path d="M441.3,55.6 444.4,56.9 446.8,55.9 443.8,54.7z" fill="#006237"/>
<path d="M443.8,54.7 446.8,55.9 449.3,55 446.3,53.8z" fill="#006236"/>
<path d="M446.3,53.8 449.3,55 451.8,54.1 448.7,52.8z" fill="#006236"/>
<path d="M448.7,52.8 451.8,54.1 454.3,53.1 451.2,51.9z" fill="#006233"/>
<path d="M451.2,51.9 454.3,53.1 456.7,52.2 453.7,51z" fill="#006230"/>
<path d="M453.7,51 456.7,52.2 459.2,51.3 456.2,50z" fill="#00622f"/>
<path d="M456.2,50 459.2,51.3 461.7,50.3 458.6,49.1z" fill="#00622f"/>
<path d="M382.6,80.2 385.7,81.3 388.2,80.4 385.1,79.2z" fill="#216200"/>
<path d="M385.1,79.2 388.2,80.4 390.7,79.4 387.6,78.3z" fill="#216200"/>
<path d="M387.6,78.3 390.7,79.4 393.1,78.5 390.1,77.4z" fill="#1f6200"/>
<path d="M390.1,77.4 393.1,78.5 395.6,77.6 392.5,76.4z" fill="#1b6200"/>
<path d="M392.5,76.4 395.6,77.6 398.1,76.6 395,75.5z" fill="#166200"/>
<path d="M395,75.5 398.1,76.6 400.5,75.7 397.5,74.6z" fill="#126200"/>
<path d="M397.5,74.6 400.5,75.7 403,74.8 399.9,73.6z" fill="#0d6200"/>
<path d="M399.9,73.6 403,74.8 405.5,73.9 402.4,72.7z" fill="#096200"/>
<path d="M402.4,72.7 405.5,73.9 407.9,72.9 404.9,71.8z" fill="#046200"/>
<path d="M404.9,71.8 407.9,72.9 410.4,72 407.3,70.8z" fill="#006200"/>
<path d="M407.3,70.8 410.4,72 412.9,71.1 409.8,69.9z" fill="#006204"/>
<path d="M409.8,69.9 412.9,71.1 415.3,70.2 412.3,69z" fill="#006209"/>
<path d="M412.3,69 415.3,70.2 417.8,69.2 414.7,68.1z" fill="#00620d"/>
<path d="M414.7,68.1 417.8,69.2 420.3,68.3 417.2,67.1z" fill="#006210"/>
<path d="M417.2,67.1 420.3,68.3 422.7,67.4 419.7,66.2z" fill="#006213"/>
<path d="M419.7,66.2 422.7,67.4 425.2,66.4 422.2,65.3z" fill="#006216"/>
<path d="M422.2,65.3 425.2,66.4 427.7,65.5 424.6,64.3z" fill="#006219"/>
<path d="M424.6,64.3 427.7,65.5 430.1,64.6 427.1,63.4z" fill="#00621b"/>
<path d="M427.1,63.4 430.1,64.6 432.6,63.7 429.6,62.5z" fill="#00621e"/>
<path d="M429.6,62.5 432.6,63.7 435.1,62.7 432,61.5z" fill="#006221"/>
<path d="M432,61.5 435.1,62.7 437.6,61.8 434.5,60.6z" fill="#006224"/>
<path d="M434.5,60.6 437.6,61.8 440,60.9 437,59.7z" fill="#006228"/>
<path d="M437,59.7 440,60.9 442.5,59.9 439.4,58.7z" fill="#00622d"/>
<path d="M439.4,58.7 442.5,59.9 445,59 441.9,57.8z" fill="#006232"/>
<path d="M441.9,57.8 445,59 447.4,58.1 444.4,56.9z" fill="#006237"/>
<path d="M444.4,56.9 447.4,58.1 449.9,57.2 446.8,55.9z" fill="#006238"/>
<path d="M446.8,55.9 449.9,57.2 452.4,56.2 449.3,55z" fill="#006236"/>
<path d="M449.3,55 452.4,56.2 454.8,55.3 451.8,54.1z" fill="#006235"/>
<path d="M451.8,54.1 454.8,55.3 457.3,54.4 454.3,53.1z" fill="#006232"/>
<path d="M454.3,53.1 457.3,54.4 459.8,53.4 456.7,52.2z" fill="#00622e"/>
<path d="M456.7,52.2 459.8,53.4 462.2,52.5 459.2,51.3z" fill="#00622d"/>
<path d="M459.2,51.3 462.2,52.5 464.7,51.6 461.7,50.3z" fill="#00622d"/>
<path d="M385.7,81.3 388.8,82.4 391.3,81.5 388.2,80.4z" fill="#1a6200"/>
<path d="M388.2,80.4 391.3,81.5 393.7,80.6 390.7,79.4z" fill="#1a6200"/>
<path d="M390.7,79.4 393.7,80.6 396.2,79.6 393.1,78.5z" fill="#196200"/>
<path d="M393.1,78.5 396.2,79.6 398.7,78.7 395.6,77.6z" fill="#146200"/>
<path d="M395.6,77.6 398.7,78.7 401.1,77.8 398.1,76.6z" fill="#106200"/>
<path d="M398.1,76.6 401.1,77.8 403.6,76.9 400.5,75.7z" fill="#0c6200"/>
<path d="M400.5,75.7 403.6,76.9 406.1,75.9 403,74.8z" fill="#086200"/>
<path d="M403,74.8 406.1,75.9 408.5,75 405.5,73.9z" fill="#046200"/>
<path d="M405.5,73.9 408.5,75 411,74.1 407.9,72.9z" fill="#006201"/>
<path d="M407.9,72.9 411,74.1 413.5,73.2 410.4,72z" fill="#006205"/>
<path d="M410.4,72 413.5,73.2 415.9,72.2 412.9,71.1z" fill="#006209"/>
<path d="M412.9,71.1 415.9,72.2 418.4,71.3 415.3,70.2z" fill="#00620d"/>
<path d="M415.3,70.2 418.4,71.3 420.9,70.4 417.8,69.2z" fill="#006211"/>
<path d="M417.8,69.2 420.9,70.4 423.3,69.5 420.3,68.3z" fill="#006214"/>
<path d="M420.3,68.3 423.3,69.5 425.8,68.5 422.7,67.4z" fill="#006216"/>
<path d="M422.7,67.4 425.8,68.5 428.3,67.6 425.2,66.4z" fill="#006219"/>
<path d="M425.2,66.4 428.3,67.6 430.7,66.7 427.7,65.5z" fill="#00621b"/>
<path d="M427.7,65.5 430.7,66.7 433.2,65.8 430.1,64.6z" fill="#00621d"/>
<path d="M430.1,64.6 433.2,65.8 435.7,64.9 432.6,63.7z" fill="#006220"/>
<path d="M432.6,63.7 435.7,64.9 438.1,63.9 435.1,62.7z" fill="#006223"/>
<path d="M435.1,62.7 438.1,63.9 440.6,63 437.6,61.8z" fill="#006226"/>
<path d="M437.6,61.8 440.6,63 443.1,62.1 440,60.9z" fill="#006229"/>
<path d="M440,60.9 443.1,62.1 445.5,61.2 442.5,59.9z" fill="#00622e"/>
<path d="M442.5,59.9 445.5,61.2 448,60.2 445,59z" fill="#006233"/>
<path d="M445,59 448,60.2 450.5,59.3 447.4,58.1z" fill="#006238"/>
<path d="M447.4,58.1 450.5,59.3 452.9,58.4 449.9,57.2z" fill="#006238"/>
<path d="M449.9,57.2 452.9,58.4 455.4,57.5 452.4,56.2z" fill="#006237"/>
<path d="M452.4,56.2 455.4,57.5 457.9,56.5 454.8,55.3z" fill="#006235"/>
<path d="M454.8,55.3 457.9,56.5 460.3,55.6 457.3,54.4z" fill="#006230"/>
<path d="M457.3,54.4 460.3,55.6 462.8,54.7 459.8,53.4z" fill="#00622c"/>
<path d="M459.8,53.4 462.8,54.7 465.3,53.8 462.2,52.5z" fill="#00622a"/>
<path d="M462.2,52.5 465.3,53.8 467.7,52.8 464.7,51.6z" fill="#00622a"/>
<path d="M388.8,82.4 391.9,83.5 394.4,82.6 391.3,81.5z" fill="#136200"/>
<path d="M391.3,81.5 394.4,82.6 396.8,81.7 393.7,80.6z" fill="#136200"/>
<path d="M393.7,80.6 396.8,81.7 399.3,80.8 396.2,79.6z" fill="#126200"/>
<path d="M396.2,79.6 399.3,80.8 401.8,79.8 398.7,78.7z" fill="#0e6200"/>
<path d="M398.7,78.7 401.8,79.8 404.2,78.9 401.1,77.8z" fill="#0a6200"/>
<path d="M401.1,77.8 404.2,78.9 406.7,78 403.6,76.9z" fill="#066200"/>
<path d="M403.6,76.9 406.7,78 409.2,77.1 406.1,75.9z" fill="#026200"/>
<path d="M406.1,75.9 409.2,77.1 411.6,76.2 408.5,75z" fill="#006202"/>
<path d="M408.5,75 411.6,76.2 414.1,75.2 411,74.1z" fill="#006206"/>
<path d="M411,74.1 414.1,75.2 416.5,74.3 413.5,73.2z" fill="#00620a"/>
<path d="M413.5,73.2 416.5,74.3 419,73.4 415.9,72.2z" fill="#00620d"/>
<path d="M415.9,72.2 419,73.4 421.5,72.5 418.4,71.3z" fill="#006211"/>
<path d="M418.4,71.3 421.5,72.5 423.9,71.6 420.9,70.4z" fill="#006215"/>
<path d="M420.9,70.4 423.9,71.6 426.4,70.6 423.3,69.5z" fill="#006217"/>
<path d="M423.3,69.5 426.4,70.6 428.9,69.7 425.8,68.5z" fill="#006219"/>
<path d="M425.8,68.5 428.9,69.7 431.3,68.8 428.3,67.6z" fill="#00621c"/>
<path d="M428.3,67.6 431.3,68.8 433.8,67.9 430.7,66.7z" fill="#00621d"/>
<path d="M430.7,66.7 433.8,67.9 436.3,67 433.2,65.8z" fill="#00621f"/>
<path d="M433.2,65.8 436.3,67 438.7,66 435.7,64.9z" fill="#006222"/>
<path d="M435.7,64.9 438.7,66 441.2,65.1 438.1,63.9z" fill="#006224"/>
<path d="M438.1,63.9 441.2,65.1 443.7,64.2 440.6,63z" fill="#006227"/>
<path d="M440.6,63 443.7,64.2 446.1,63.3 443.1,62.1z" fill="#00622a"/>
<path d="M443.1,62.1 446.1,63.3 448.6,62.4 445.5,61.2z" fill="#00622f"/>
<path d="M445.5,61.2 448.6,62.4 451,61.4 448,60.2z" fill="#006234"/>
<path d="M448,60.2 451,61.4 453.5,60.5 450.5,59.3z" fill="#006239"/>
<path d="M450.5,59.3 453.5,60.5 456,59.6 452.9,58.4z" fill="#006239"/>
<path d="M452.9,58.4 456,59.6 458.4,58.7 455.4,57.5z" fill="#006237"/>
<path d="M455.4,57.5 458.4,58.7 460.9,57.8 457.9,56.5z" fill="#006234"/>
<path d="M457.9,56.5 460.9,57.8 463.4,56.9 460.3,55.6z" fill="#00622f"/>
<path d="M460.3,55.6 463.4,56.9 465.8,55.9 462.8,54.7z" fill="#006229"/>
<path d="M462.8,54.7 465.8,55.9 468.3,55 465.3,53.8z" fill="#006228"/>
<path d="M465.3,53.8 468.3,55 470.8,54.1 467.7,52.8z" fill="#006228"/>
<path d="M391.9,83.5 395,84.6 397.4,83.7 394.4,82.6z" fill="#0c6200"/>
<path d="M394.4,82.6 397.4,83.7 399.9,82.8 396.8,81.7z" fill="#0c6200"/>
<path d="M396.8,81.7 399.9,82.8 402.4,81.9 399.3,80.8z" fill="#0b6200"/>
<path d="M399.3,80.8 402.4,81.9 404.8,81 401.8,79.8z" fill="#076200"/>
<path d="M401.8,79.8 404.8,81 407.3,80.1 404.2,78.9z" fill="#046200"/>
<path d="M404.2,78.9 407.3,80.1 409.8,79.1 406.7,78z" fill="#006200"/>
<path d="M406.7,78 409.8,79.1 412.2,78.2 409.2,77.1z" fill="#006204"/>
<path d="M409.2,77.1 412.2,78.2 414.7,77.3 411.6,76.2z" fill="#006207"/>
<path d="M411.6,76.2 414.7,77.3 417.1,76.4 414.1,75.2z" fill="#00620b"/>
<path d="M414.1,75.2 417.1,76.4 419.6,75.5 416.5,74.3z" fill="#00620e"/>
<path d="M416.5,74.3 419.6,75.5 422.1,74.6 419,73.4z" fill="#006212"/>
<path d="M419,73.4 422.1,74.6 424.5,73.7 421.5,72.5z" fill="#006215"/>
<path d="M421.5,72.5 424.5,73.7 427,72.7 423.9,71.6z" fill="#006219"/>
<path d="M423.9,71.6 427,72.7 429.5,71.8 426.4,70.6z" fill="#00621b"/>
<path d="M426.4,70.6 429.5,71.8 431.9,70.9 428.9,69.7z" fill="#00621c"/>
<path d="M428.9,69.7 431.9,70.9 434.4,70 431.3,68.8z" fill="#00621e"/>
<path d="M431.3,68.8 434.4,70 436.9,69.1 433.8,67.9z" fill="#00621f"/>
<path d="M433.8,67.9 436.9,69.1 439.3,68.2 436.3,67z" fill="#006221"/>
<path d="M436.3,67 439.3,68.2 441.8,67.2 438.7,66z" fill="#006223"/>
<path d="M438.7,66 441.8,67.2 444.2,66.3 441.2,65.1z" fill="#006226"/>
<path d="M441.2,65.1 444.2,66.3 446.7,65.4 443.7,64.2z" fill="#006228"/>
<path d="M443.7,64.2 446.7,65.4 449.2,64.5 446.1,63.3z" fill="#00622c"/>
<path d="M446.1,63.3 449.2,64.5 451.6,63.6 448.6,62.4z" fill="#006231"/>
<path d="M448.6,62.4 451.6,63.6 454.1,62.7 451,61.4z" fill="#006236"/>
<path d="M451,61.4 454.1,62.7 456.6,61.7 453.5,60.5z" fill="#00623b"/>
<path d="M453.5,60.5 456.6,61.7 459,60.8 456,59.6z" fill="#00623a"/>
<path d="M456,59.6 459,60.8 461.5,59.9 458.4,58.7z" fill="#006237"/>
<path d="M458.4,58.7 461.5,59.9 463.9,59 460.9,57.8z" fill="#006234"/>
<path d="M460.9,57.8 463.9,59 466.4,58.1 463.4,56.9z" fill="#00622e"/>
<path d="M463.4,56.9 466.4,58.1 468.9,57.2 465.8,55.9z" fill="#006227"/>
<path d="M465.8,55.9 468.9,57.2 471.3,56.3 468.3,55z" fill="#006225"/>
<path d="M468.3,55 471.3,56.3 473.8,55.3 470.8,54.1z" fill="#006225"/>
<path d="M395,84.6 398.1,85.8 400.5,84.9 397.4,83.7z" fill="#056200"/>
<path d="M397.4,83.7 400.5,84.9 403,83.9 399.9,82.8z" fill="#056200"/>
<path d="M399.9,82.8 403,83.9 405.5,83 402.4,81.9z" fill="#046200"/>
<path d="M402.4,81.9 405.5,83 407.9,82.1 404.8,81z" fill="#016200"/>
<path d="M404.8,81 407.9,82.1 410.4,81.2 407.3,80.1z" fill="#006203"/>
<path d="M407.3,80.1 410.4,81.2 412.8,80.3 409.8,79.1z" fill="#006206"/>
<path d="M409.8,79.1 412.8,80.3 415.3,79.4 412.2,78.2z" fill="#006209"/>
<path d="M412.2,78.2 415.3,79.4 417.8,78.5 414.7,77.3z" fill="#00620d"/>
<path d="M414.7,77.3 417.8,78.5 420.2,77.6 417.1,76.4z" fill="#006210"/>
<path d="M417.1,76.4 420.2,77.6 422.7,76.6 419.6,75.5z" fill="#006213"/>
<path d="M419.6,75.5 422.7,76.6 425.1,75.7 422.1,74.6z" fill="#006216"/>
<path d="M422.1,74.6 425.1,75.7 427.6,74.8 424.5,73.7z" fill="#00621a"/>
<path d="M424.5,73.7 427.6,74.8 430.1,73.9 427,72.7z" fill="#00621d"/>
<path d="M427,72.7 430.1,73.9 432.5,73 429.5,71.8z" fill="#00621e"/>
<path d="M429.5,71.8 432.5,73 435,72.1 431.9,70.9z" fill="#006220"/>
<path d="M431.9,70.9 435,72.1 437.4,71.2 434.4,70z" fill="#006221"/>
<path d="M434.4,70 437.4,71.2 439.9,70.3 436.9,69.1z" fill="#006222"/>
<path d="M436.9,69.1 439.9,70.3 442.4,69.4 439.3,68.2z" fill="#006223"/>
<path d="M439.3,68.2 442.4,69.4 444.8,68.4 441.8,67.2z" fill="#006225"/>
<path d="M441.8,67.2 444.8,68.4 447.3,67.5 444.2,66.3z" fill="#006228"/>
<path d="M444.2,66.3 447.3,67.5 449.8,66.6 446.7,65.4z" fill="#00622a"/>
<path d="M446.7,65.4 449.8,66.6 452.2,65.7 449.2,64.5z" fill="#00622d"/>
<path d="M449.2,64.5 452.2,65.7 454.7,64.8 451.6,63.6z" fill="#006232"/>
<path d="M451.6,63.6 454.7,64.8 457.1,63.9 454.1,62.7z" fill="#006237"/>
<path d="M454.1,62.7 457.1,63.9 459.6,63 456.6,61.7z" fill="#00623c"/>
<path d="M456.6,61.7 459.6,63 462.1,62.1 459,60.8z" fill="#00623b"/>
<path d="M459,60.8 462.1,62.1 464.5,61.1 461.5,59.9z" fill="#006237"/>
<path d="M461.5,59.9 464.5,61.1 467,60.2 463.9,59z" fill="#006233"/>
<path d="M463.9,59 467,60.2 469.4,59.3 466.4,58.1z" fill="#00622c"/>
<path d="M466.4,58.1 469.4,59.3 471.9,58.4 468.9,57.2z" fill="#006225"/>
<path d="M468.9,57.2 471.9,58.4 474.4,57.5 471.3,56.3z" fill="#006223"/>
<path d="M471.3,56.3 474.4,57.5 476.8,56.6 473.8,55.3z" fill="#006223"/>
<path d="M398.1,85.8 401.2,86.9 403.6,86 400.5,84.9z" fill="#006207"/>
<path d="M400.5,84.9 403.6,86 406.1,85.1 403,83.9z" fill="#006207"/>
<path d="M403,83.9 406.1,85.1 408.5,84.2 405.5,83z" fill="#006208"/>
<path d="M405.5,83 408.5,84.2 411,83.2 407.9,82.1z" fill="#00620b"/>
<path d="M407.9,82.1 411,83.2 413.5,82.3 410.4,81.2z" fill="#00620e"/>
<path d="M410.4,81.2 413.5,82.3 415.9,81.4 412.8,80.3z" fill="#006211"/>
<path d="M412.8,80.3 415.9,81.4 418.4,80.5 415.3,79.4z" fill="#006214"/>
<path d="M415.3,79.4 418.4,80.5 420.8,79.6 417.8,78.5z" fill="#006216"/>
<path d="M417.8,78.5 420.8,79.6 423.3,78.7 420.2,77.6z" fill="#006219"/>
<path d="M420.2,77.6 423.3,78.7 425.8,77.8 422.7,76.6z" fill="#00621c"/>
<path d="M422.7,76.6 425.8,77.8 428.2,76.9 425.1,75.7z" fill="#00621e"/>
<path d="M425.1,75.7 428.2,76.9 430.7,76 427.6,74.8z" fill="#006221"/>
<path d="M427.6,74.8 430.7,76 433.1,75.1 430.1,73.9z" fill="#006224"/>
<path d="M430.1,73.9 433.1,75.1 435.6,74.2 432.5,73z" fill="#006224"/>
<path d="M432.5,73 435.6,74.2 438,73.3 435,72.1z" fill="#006225"/>
<path d="M435,72.1 438,73.3 440.5,72.4 437.4,71.2z" fill="#006226"/>
<path d="M437.4,71.2 440.5,72.4 443,71.5 439.9,70.3z" fill="#006226"/>
<path d="M439.9,70.3 443,71.5 445.4,70.5 442.4,69.4z" fill="#006227"/>
<path d="M442.4,69.4 445.4,70.5 447.9,69.6 444.8,68.4z" fill="#006228"/>
<path d="M444.8,68.4 447.9,69.6 450.3,68.7 447.3,67.5z" fill="#00622a"/>
<path d="M447.3,67.5 450.3,68.7 452.8,67.8 449.8,66.6z" fill="#00622c"/>
<path d="M449.8,66.6 452.8,67.8 455.3,66.9 452.2,65.7z" fill="#00622f"/>
<path d="M452.2,65.7 455.3,66.9 457.7,66 454.7,64.8z" fill="#006234"/>
<path d="M454.7,64.8 457.7,66 460.2,65.1 457.1,63.9z" fill="#006238"/>
<path d="M457.1,63.9 460.2,65.1 462.6,64.2 459.6,63z" fill="#00623d"/>
<path d="M459.6,63 462.6,64.2 465.1,63.3 462.1,62.1z" fill="#00623b"/>
<path d="M462.1,62.1 465.1,63.3 467.6,62.4 464.5,61.1z" fill="#006237"/>
<path d="M464.5,61.1 467.6,62.4 470,61.5 467,60.2z" fill="#006232"/>
<path d="M467,60.2 470,61.5 472.5,60.6 469.4,59.3z" fill="#00622a"/>
<path d="M469.4,59.3 472.5,60.6 474.9,59.7 471.9,58.4z" fill="#006221"/>
<path d="M471.9,58.4 474.9,59.7 477.4,58.7 474.4,57.5z" fill="#00621f"/>
<path d="M474.4,57.5 477.4,58.7 479.9,57.8 476.8,56.6z" fill="#00621f"/>
<path d="M401.2,86.9 404.2,88 406.7,87.1 403.6,86z" fill="#006219"/>
<path d="M403.6,86 406.7,87.1 409.2,86.2 406.1,85.1z" fill="#006219"/>
<path d="M406.1,85.1 409.2,86.2 411.6,85.3 408.5,84.2z" fill="#00621a"/>
<path d="M408.5,84.2 411.6,85.3 414.1,84.4 411,83.2z" fill="#00621c"/>
<path d="M411,83.2 414.1,84.4 416.5,83.5 413.5,82.3z" fill="#00621e"/>
<path d="M413.5,82.3 416.5,83.5 419,82.6 415.9,81.4z" fill="#006220"/>
<path d="M415.9,81.4 419,82.6 421.4,81.7 418.4,80.5z" fill="#006222"/>
<path d="M418.4,80.5 421.4,81.7 423.9,80.8 420.8,79.6z" fill="#006224"/>
<path d="M420.8,79.6 423.9,80.8 426.4,79.9 423.3,78.7z" fill="#006226"/>
<path d="M423.3,78.7 426.4,79.9 428.8,79 425.8,77.8z" fill="#006228"/>
<path d="M425.8,77.8 428.8,79 431.3,78.1 428.2,76.9z" fill="#00622a"/>
<path d="M428.2,76.9 431.3,78.1 433.7,77.2 430.7,76z" fill="#00622c"/>
<path d="M430.7,76 433.7,77.2 436.2,76.3 433.1,75.1z" fill="#00622e"/>
<path d="M433.1,75.1 436.2,76.3 438.7,75.3 435.6,74.2z" fill="#00622d"/>
<path d="M435.6,74.2 438.7,75.3 441.1,74.4 438,73.3z" fill="#00622d"/>
<path d="M438,73.3 441.1,74.4 443.6,73.5 440.5,72.4z" fill="#00622d"/>
<path d="M440.5,72.4 443.6,73.5 446,72.6 443,71.5z" fill="#00622c"/>
<path d="M443,71.5 446,72.6 448.5,71.7 445.4,70.5z" fill="#00622c"/>
<path d="M445.4,70.5 448.5,71.7 450.9,70.8 447.9,69.6z" fill="#00622d"/>
<path d="M447.9,69.6 450.9,70.8 453.4,69.9 450.3,68.7z" fill="#00622e"/>
<path d="M450.3,68.7 453.4,69.9 455.9,69 452.8,67.8z" fill="#00622f"/>
<path d="M452.8,67.8 455.9,69 458.3,68.1 455.3,66.9z" fill="#006231"/>
<path d="M455.3,66.9 458.3,68.1 460.8,67.2 457.7,66z" fill="#006236"/>
<path d="M457.7,66 460.8,67.2 463.2,66.3 460.2,65.1z" fill="#00623a"/>
<path d="M460.2,65.1 463.2,66.3 465.7,65.4 462.6,64.2z" fill="#00623e"/>
<path d="M462.6,64.2 465.7,65.4 468.2,64.5 465.1,63.3z" fill="#00623b"/>
<path d="M465.1,63.3 468.2,64.5 470.6,63.6 467.6,62.4z" fill="#006236"/>
<path d="M467.6,62.4 470.6,63.6 473.1,62.7 470,61.5z" fill="#006230"/>
<path d="M470,61.5 473.1,62.7 475.5,61.8 472.5,60.6z" fill="#006226"/>
<path d="M472.5,60.6 475.5,61.8 478,60.9 474.9,59.7z" fill="#00621c"/>
<path d="M474.9,59.7 478,60.9 480.4,60 477.4,58.7z" fill="#006219"/>
<path d="M477.4,58.7 480.4,60 482.9,59.1 479.9,57.8z" fill="#006219"/>
<path d="M404.2,88 407.3,89.1 409.8,88.2 406.7,87.1z" fill="#00622b"/>
<path d="M406.7,87.1 409.8,88.2 412.2,87.3 409.2,86.2z" fill="#00622b"/>
<path d="M409.2,86.2 412.2,87.3 414.7,86.4 411.6,85.3z" fill="#00622c"/>
<path d="M411.6,85.3 414.7,86.4 417.1,85.5 414.1,84.4z" fill="#00622d"/>
<path d="M414.1,84.4 417.1,85.5 419.6,84.6 416.5,83.5z" fill="#00622e"/>
<path d="M416.5,83.5 419.6,84.6 422.1,83.7 419,82.6z" fill="#006230"/>
<path d="M419,82.6 422.1,83.7 424.5,82.8 421.4,81.7z" fill="#006231"/>
<path d="M421.4,81.7 424.5,82.8 427,81.9 423.9,80.8z" fill="#006232"/>
<path d="M423.9,80.8 427,81.9 429.4,81 426.4,79.9z" fill="#006233"/>
<path d="M426.4,79.9 429.4,81 431.9,80.1 428.8,79z" fill="#006234"/>
<path d="M428.8,79 431.9,80.1 434.3,79.2 431.3,78.1z" fill="#006235"/>
<path d="M431.3,78.1 434.3,79.2 436.8,78.3 433.7,77.2z" fill="#006237"/>
<path d="M433.7,77.2 436.8,78.3 439.3,77.4 436.2,76.3z" fill="#006237"/>
<path d="M436.2,76.3 439.3,77.4 441.7,76.5 438.7,75.3z" fill="#006236"/>
<path d="M438.7,75.3 441.7,76.5 444.2,75.6 441.1,74.4z" fill="#006235"/>
<path d="M441.1,74.4 444.2,75.6 446.6,74.7 443.6,73.5z" fill="#006234"/>
<path d="M443.6,73.5 446.6,74.7 449.1,73.8 446,72.6z" fill="#006232"/>
<path d="M446,72.6 449.1,73.8 451.5,72.9 448.5,71.7z" fill="#006231"/>
<path d="M448.5,71.7 451.5,72.9 454,72 450.9,70.8z" fill="#006232"/>
<path d="M450.9,70.8 454,72 456.5,71.1 453.4,69.9z" fill="#006232"/>
<path d="M453.4,69.9 456.5,71.1 458.9,70.2 455.9,69z" fill="#006232"/>
<path d="M455.9,69 458.9,70.2 461.4,69.3 458.3,68.1z" fill="#006234"/>
<path d="M458.3,68.1 461.4,69.3 463.8,68.4 460.8,67.2z" fill="#006238"/>
<path d="M460.8,67.2 463.8,68.4 466.3,67.5 463.2,66.3z" fill="#00623b"/>
<path d="M463.2,66.3 466.3,67.5 468.7,66.6 465.7,65.4z" fill="#00623f"/>
<path d="M465.7,65.4 468.7,66.6 471.2,65.7 468.2,64.5z" fill="#00623b"/>
<path d="M468.2,64.5 471.2,65.7 473.7,64.8 470.6,63.6z" fill="#006234"/>
<path d="M470.6,63.6 473.7,64.8 476.1,63.9 473.1,62.7z" fill="#00622d"/>
<path d="M473.1,62.7 476.1,63.9 478.6,63 475.5,61.8z" fill="#006222"/>
<path d="M475.5,61.8 478.6,63 481,62.1 478,60.9z" fill="#006217"/>
<path d="M478,60.9 481,62.1 483.5,61.2 480.4,60z" fill="#006213"/>
<path d="M480.4,60 483.5,61.2 485.9,60.3 482.9,59.1z" fill="#006213"/>
<path d="M407.3,89.1 410.4,90.2 412.9,89.3 409.8,88.2z" fill="#00623e"/>
<path d="M409.8,88.2 412.9,89.3 415.3,88.4 412.2,87.3z" fill="#00623e"/>
<path d="M412.2,87.3 415.3,88.4 417.8,87.5 414.7,86.4z" fill="#00623e"/>
<path d="M414.7,86.4 417.8,87.5 420.2,86.7 417.1,85.5z" fill="#00623e"/>
<path d="M417.1,85.5 420.2,86.7 422.7,85.8 419.6,84.6z" fill="#00623f"/>
<path d="M419.6,84.6 422.7,85.8 425.1,84.9 422.1,83.7z" fill="#00623f"/>
<path d="M422.1,83.7 425.1,84.9 427.6,84 424.5,82.8z" fill="#006240"/>
<path d="M424.5,82.8 427.6,84 430,83.1 427,81.9z" fill="#006240"/>
<path d="M427,81.9 430,83.1 432.5,82.2 429.4,81z" fill="#006240"/>
<path d="M429.4,81 432.5,82.2 435,81.3 431.9,80.1z" fill="#006241"/>
<path d="M431.9,80.1 435,81.3 437.4,80.4 434.3,79.2z" fill="#006241"/>
<path d="M434.3,79.2 437.4,80.4 439.9,79.5 436.8,78.3z" fill="#006241"/>
<path d="M436.8,78.3 439.9,79.5 442.3,78.6 439.3,77.4z" fill="#006241"/>
<path d="M439.3,77.4 442.3,78.6 444.8,77.7 441.7,76.5z" fill="#00623f"/>
<path d="M441.7,76.5 444.8,77.7 447.2,76.8 444.2,75.6z" fill="#00623d"/>
<path d="M444.2,75.6 447.2,76.8 449.7,75.9 446.6,74.7z" fill="#00623b"/>
<path d="M446.6,74.7 449.7,75.9 452.1,75 449.1,73.8z" fill="#006238"/>
<path d="M449.1,73.8 452.1,75 454.6,74.1 451.5,72.9z" fill="#006236"/>
<path d="M451.5,72.9 454.6,74.1 457.1,73.2 454,72z" fill="#006236"/>
<path d="M454,72 457.1,73.2 459.5,72.3 456.5,71.1z" fill="#006236"/>
<path d="M456.5,71.1 459.5,72.3 462,71.4 458.9,70.2z" fill="#006236"/>
<path d="M458.9,70.2 462,71.4 464.4,70.5 461.4,69.3z" fill="#006236"/>
<path d="M461.4,69.3 464.4,70.5 466.9,69.6 463.8,68.4z" fill="#006239"/>
<path d="M463.8,68.4 466.9,69.6 469.3,68.7 466.3,67.5z" fill="#00623d"/>
<path d="M466.3,67.5 469.3,68.7 471.8,67.9 468.7,66.6z" fill="#006240"/>
<path d="M468.7,66.6 471.8,67.9 474.2,67 471.2,65.7z" fill="#00623b"/>
<path d="M471.2,65.7 474.2,67 476.7,66.1 473.7,64.8z" fill="#006233"/>
<path d="M473.7,64.8 476.7,66.1 479.1,65.2 476.1,63.9z" fill="#00622b"/>
<path d="M476.1,63.9 479.1,65.2 481.6,64.3 478.6,63z" fill="#00621e"/>
<path d="M478.6,63 481.6,64.3 484.1,63.4 481,62.1z" fill="#006211"/>
<path d="M481,62.1 484.1,63.4 486.5,62.5 483.5,61.2z" fill="#00620d"/>
<path d="M483.5,61.2 486.5,62.5 489,61.6 485.9,60.3z" fill="#00620d"/>
<path d="M410.4,90.2 413.5,91.4 415.9,90.5 412.9,89.3z" fill="#006250"/>
<path d="M412.9,89.3 415.9,90.5 418.4,89.6 415.3,88.4z" fill="#006250"/>
<path d="M415.3,88.4 418.4,89.6 420.9,88.7 417.8,87.5z" fill="#006250"/>
<path d="M417.8,87.5 420.9,88.7 423.3,87.8 420.2,86.7z" fill="#00624f"/>
<path d="M420.2,86.7 423.3,87.8 425.8,86.9 422.7,85.8z" fill="#00624f"/>
<path d="M422.7,85.8 425.8,86.9 428.2,86 425.1,84.9z" fill="#00624f"/>
<path d="M425.1,84.9 428.2,86 430.7,85.1 427.6,84z" fill="#00624f"/>
<path d="M427.6,84 430.7,85.1 433.1,84.2 430,83.1z" fill="#00624e"/>
<path d="M430,83.1 433.1,84.2 435.6,83.3 432.5,82.2z" fill="#00624d"/>
<path d="M432.5,82.2 435.6,83.3 438,82.4 435,81.3z" fill="#00624d"/>
<path d="M435,81.3 438,82.4 440.5,81.5 437.4,80.4z" fill="#00624c"/>
<path d="M437.4,80.4 440.5,81.5 442.9,80.7 439.9,79.5z" fill="#00624c"/>
<path d="M439.9,79.5 442.9,80.7 445.4,79.8 442.3,78.6z" fill="#00624b"/>
<path d="M442.3,78.6 445.4,79.8 447.8,78.9 444.8,77.7z" fill="#006248"/>
<path d="M444.8,77.7 447.8,78.9 450.3,78 447.2,76.8z" fill="#006245"/>
<path d="M447.2,76.8 450.3,78 452.7,77.1 449.7,75.9z" fill="#006242"/>
<path d="M449.7,75.9 452.7,77.1 455.2,76.2 452.1,75z" fill="#00623e"/>
<path d="M452.1,75 455.2,76.2 457.7,75.3 454.6,74.1z" fill="#00623c"/>
<path d="M454.6,74.1 457.7,75.3 460.1,74.4 457.1,73.2z" fill="#00623b"/>
<path d="M457.1,73.2 460.1,74.4 462.6,73.5 459.5,72.3z" fill="#00623a"/>
<path d="M459.5,72.3 462.6,73.5 465,72.6 462,71.4z" fill="#006239"/>
<path d="M462,71.4 465,72.6 467.5,71.7 464.4,70.5z" fill="#006239"/>
<path d="M464.4,70.5 467.5,71.7 469.9,70.9 466.9,69.6z" fill="#00623b"/>
<path d="M466.9,69.6 469.9,70.9 472.4,70 469.3,68.7z" fill="#00623e"/>
<path d="M469.3,68.7 472.4,70 474.8,69.1 471.8,67.9z" fill="#006241"/>
<path d="M471.8,67.9 474.8,69.1 477.3,68.2 474.2,67z" fill="#00623b"/>
<path d="M474.2,67 477.3,68.2 479.7,67.3 476.7,66.1z" fill="#006232"/>
<path d="M476.7,66.1 479.7,67.3 482.2,66.4 479.1,65.2z" fill="#006228"/>
<path d="M479.1,65.2 482.2,66.4 484.6,65.5 481.6,64.3z" fill="#00621a"/>
<path d="M481.6,64.3 484.6,65.5 487.1,64.6 484.1,63.4z" fill="#00620c"/>
<path d="M484.1,63.4 487.1,64.6 489.5,63.7 486.5,62.5z" fill="#006208"/>
<path d="M486.5,62.5 489.5,63.7 492,62.8 489,61.6z" fill="#006208"/>
<path d="M413.5,91.4 416.6,92.5 419,91.6 415.9,90.5z" fill="#006262"/>
<path d="M415.9,90.5 419,91.6 421.5,90.7 418.4,89.6z" fill="#006262"/>
<path d="M418.4,89.6 421.5,90.7 423.9,89.8 420.9,88.7z" fill="#006262"/>
<path d="M420.9,88.7 423.9,89.8 426.4,88.9 423.3,87.8z" fill="#006260"/>
<path d="M423.3,87.8 426.4,88.9 428.8,88 425.8,86.9z" fill="#00625f"/>
<path d="M425.8,86.9 428.8,88 431.3,87.1 428.2,86z" fill="#00625e"/>
<path d="M428.2,86 431.3,87.1 433.7,86.3 430.7,85.1z" fill="#00625d"/>
<path d="M430.7,85.1 433.7,86.3 436.2,85.4 433.1,84.2z" fill="#00625c"/>
<path d="M433.1,84.2 436.2,85.4 438.6,84.5 435.6,83.3z" fill="#00625b"/>
<path d="M435.6,83.3 438.6,84.5 441.1,83.6 438,82.4z" fill="#006259"/>
<path d="M438,82.4 441.1,83.6 443.5,82.7 440.5,81.5z" fill="#006258"/>
<path d="M440.5,81.5 443.5,82.7 446,81.8 442.9,80.7z" fill="#006257"/>
<path d="M442.9,80.7 446,81.8 448.5,80.9 445.4,79.8z" fill="#006255"/>
<path d="M445.4,79.8 448.5,80.9 450.9,80.1 447.8,78.9z" fill="#006251"/>
<path d="M447.8,78.9 450.9,80.1 453.4,79.2 450.3,78z" fill="#00624d"/>
<path d="M450.3,78 453.4,79.2 455.8,78.3 452.7,77.1z" fill="#006249"/>
<path d="M452.7,77.1 455.8,78.3 458.3,77.4 455.2,76.2z" fill="#006245"/>
<path d="M455.2,76.2 458.3,77.4 460.7,76.5 457.7,75.3z" fill="#006241"/>
<path d="M457.7,75.3 460.7,76.5 463.2,75.6 460.1,74.4z" fill="#00623f"/>
<path d="M460.1,74.4 463.2,75.6 465.6,74.7 462.6,73.5z" fill="#00623e"/>
<path d="M462.6,73.5 465.6,74.7 468.1,73.8 465,72.6z" fill="#00623c"/>
<path d="M465,72.6 468.1,73.8 470.5,73 467.5,71.7z" fill="#00623b"/>
<path d="M467.5,71.7 470.5,73 473,72.1 469.9,70.9z" fill="#00623d"/>
<path d="M469.9,70.9 473,72.1 475.4,71.2 472.4,70z" fill="#006240"/>
<path d="M472.4,70 475.4,71.2 477.9,70.3 474.8,69.1z" fill="#006242"/>
<path d="M474.8,69.1 477.9,70.3 480.3,69.4 477.3,68.2z" fill="#00623b"/>
<path d="M477.3,68.2 480.3,69.4 482.8,68.5 479.7,67.3z" fill="#006231"/>
<path d="M479.7,67.3 482.8,68.5 485.2,67.6 482.2,66.4z" fill="#006226"/>
<path d="M482.2,66.4 485.2,67.6 487.7,66.7 484.6,65.5z" fill="#006217"/>
<path d="M484.6,65.5 487.7,66.7 490.1,65.9 487.1,64.6z" fill="#006207"/>
<path d="M487.1,64.6 490.1,65.9 492.6,65 489.5,63.7z" fill="#006202"/>
<path d="M489.5,63.7 492.6,65 495,64.1 492,62.8z" fill="#006202"/>
<path d="M416.6,92.5 419.7,93.6 422.1,92.7 419,91.6z" fill="#004462"/>
<path d="M419,91.6 422.1,92.7 424.6,91.8 421.5,90.7z" fill="#004462"/>
<path d="M421.5,90.7 424.6,91.8 427,90.9 423.9,89.8z" fill="#004562"/>
<path d="M423.9,89.8 427,90.9 429.5,90.1 426.4,88.9z" fill="#004762"/>
<path d="M426.4,88.9 429.5,90.1 431.9,89.2 428.8,88z" fill="#004a62"/>
<path d="M428.8,88 431.9,89.2 434.4,88.3 431.3,87.1z" fill="#004c62"/>
<path d="M431.3,87.1 434.4,88.3 436.8,87.4 433.7,86.3z" fill="#004e62"/>
<path d="M433.7,86.3 436.8,87.4 439.3,86.5 436.2,85.4z" fill="#005162"/>
<path d="M436.2,85.4 439.3,86.5 441.7,85.6 438.6,84.5z" fill="#005362"/>
<path d="M438.6,84.5 441.7,85.6 444.2,84.8 441.1,83.6z" fill="#005662"/>
<path d="M441.1,83.6 444.2,84.8 446.6,83.9 443.5,82.7z" fill="#005962"/>
<path d="M443.5,82.7 446.6,83.9 449.1,83 446,81.8z" fill="#005b62"/>
<path d="M446,81.8 449.1,83 451.5,82.1 448.5,80.9z" fill="#005e62"/>
<path d="M448.5,80.9 451.5,82.1 454,81.2 450.9,80.1z" fill="#006261"/>
<path d="M450.9,80.1 454,81.2 456.4,80.3 453.4,79.2z" fill="#00625c"/>
<path d="M453.4,79.2 456.4,80.3 458.9,79.5 455.8,78.3z" fill="#006256"/>
<path d="M455.8,78.3 458.9,79.5 461.3,78.6 458.3,77.4z" fill="#006250"/>
<path d="M458.3,77.4 461.3,78.6 463.8,77.7 460.7,76.5z" fill="#00624c"/>
<path d="M460.7,76.5 463.8,77.7 466.2,76.8 463.2,75.6z" fill="#006249"/>
<path d="M463.2,75.6 466.2,76.8 468.7,75.9 465.6,74.7z" fill="#006246"/>
<path d="M465.6,74.7 468.7,75.9 471.1,75 468.1,73.8z" fill="#006243"/>
<path d="M468.1,73.8 471.1,75 473.6,74.2 470.5,73z" fill="#006241"/>
<path d="M470.5,73 473.6,74.2 476,73.3 473,72.1z" fill="#006243"/>
<path d="M473,72.1 476,73.3 478.5,72.4 475.4,71.2z" fill="#006244"/>
<path d="M475.4,71.2 478.5,72.4 480.9,71.5 477.9,70.3z" fill="#006245"/>
<path d="M477.9,70.3 480.9,71.5 483.4,70.6 480.3,69.4z" fill="#00623d"/>
<path d="M480.3,69.4 483.4,70.6 485.8,69.7 482.8,68.5z" fill="#006231"/>
<path d="M482.8,68.5 485.8,69.7 488.3,68.9 485.2,67.6z" fill="#006225"/>
<path d="M485.2,67.6 488.3,68.9 490.7,68 487.7,66.7z" fill="#006213"/>
<path d="M487.7,66.7 490.7,68 493.2,67.1 490.1,65.9z" fill="#006202"/>
<path d="M490.1,65.9 493.2,67.1 495.6,66.2 492.6,65z" fill="#046200"/>
<path d="M492.6,65 495.6,66.2 498.1,65.3 495,64.1z" fill="#046200"/>
<path d="M419.7,93.6 422.7,94.7 425.2,93.8 422.1,92.7z" fill="#002662"/>
<path d="M422.1,92.7 425.2,93.8 427.6,93 424.6,91.8z" fill="#002662"/>
<path d="M424.6,91.8 427.6,93 430.1,92.1 427,90.9z" fill="#002762"/>
<path d="M427,90.9 430.1,92.1 432.5,91.2 429.5,90.1z" fill="#002b62"/>
<path d="M429.5,90.1 432.5,91.2 435,90.3 431.9,89.2z" fill="#002e62"/>
<path d="M431.9,89.2 435,90.3 437.4,89.4 434.4,88.3z" fill="#003262"/>
<path d="M434.4,88.3 437.4,89.4 439.9,88.6 436.8,87.4z" fill="#003562"/>
<path d="M436.8,87.4 439.9,88.6 442.3,87.7 439.3,86.5z" fill="#003962"/>
<path d="M439.3,86.5 442.3,87.7 444.8,86.8 441.7,85.6z" fill="#003d62"/>
<path d="M441.7,85.6 444.8,86.8 447.2,85.9 444.2,84.8z" fill="#004162"/>
<path d="M444.2,84.8 447.2,85.9 449.7,85 446.6,83.9z" fill="#004562"/>
<path d="M446.6,83.9 449.7,85 452.1,84.2 449.1,83z" fill="#004862"/>
<path d="M449.1,83 452.1,84.2 454.6,83.3 451.5,82.1z" fill="#004d62"/>
<path d="M451.5,82.1 454.6,83.3 457,82.4 454,81.2z" fill="#005362"/>
<path d="M454,81.2 457,82.4 459.5,81.5 456.4,80.3z" fill="#005a62"/>
<path d="M456.4,80.3 459.5,81.5 461.9,80.6 458.9,79.5z" fill="#006162"/>
<path d="M458.9,79.5 461.9,80.6 464.4,79.8 461.3,78.6z" fill="#00625c"/>
<path d="M461.3,78.6 464.4,79.8 466.8,78.9 463.8,77.7z" fill="#006256"/>
<path d="M463.8,77.7 466.8,78.9 469.3,78 466.2,76.8z" fill="#006252"/>
<path d="M466.2,76.8 469.3,78 471.7,77.1 468.7,75.9z" fill="#00624e"/>
<path d="M468.7,75.9 471.7,77.1 474.2,76.2 471.1,75z" fill="#00624a"/>
<path d="M471.1,75 474.2,76.2 476.6,75.4 473.6,74.2z" fill="#006247"/>
<path d="M473.6,74.2 476.6,75.4 479.1,74.5 476,73.3z" fill="#006248"/>
<path d="M476,73.3 479.1,74.5 481.5,73.6 478.5,72.4z" fill="#006248"/>
<path d="M478.5,72.4 481.5,73.6 484,72.7 480.9,71.5z" fill="#006248"/>
<path d="M480.9,71.5 484,72.7 486.4,71.9 483.4,70.6z" fill="#00623f"/>
<path d="M483.4,70.6 486.4,71.9 488.9,71 485.8,69.7z" fill="#006231"/>
<path d="M485.8,69.7 488.9,71 491.3,70.1 488.3,68.9z" fill="#006223"/>
<path d="M488.3,68.9 491.3,70.1 493.8,69.2 490.7,68z" fill="#006210"/>
<path d="M490.7,68 493.8,69.2 496.2,68.3 493.2,67.1z" fill="#046200"/>
<path d="M493.2,67.1 496.2,68.3 498.7,67.5 495.6,66.2z" fill="#096200"/>
<path d="M495.6,66.2 498.7,67.5 501.1,66.6 498.1,65.3z" fill="#096200"/>
<path d="M422.7,94.7 425.8,95.8 428.3,95 425.2,93.8z" fill="#00096a"/>
<path d="M425.2,93.8 428.3,95 430.7,94.1 427.6,93z" fill="#00096a"/>
<path d="M427.6,93 430.7,94.1 433.2,93.2 430.1,92.1z" fill="#000a6a"/>
<path d="M430.1,92.1 433.2,93.2 435.6,92.3 432.5,91.2z" fill="#000f68"/>
<path d="M432.5,91.2 435.6,92.3 438.1,91.5 435,90.3z" fill="#001467"/>
<path d="M435,90.3 438.1,91.5 440.5,90.6 437.4,89.4z" fill="#001966"/>
<path d="M437.4,89.4 440.5,90.6 443,89.7 439.9,88.6z" fill="#001e65"/>
<path d="M439.9,88.6 443,89.7 445.4,88.8 442.3,87.7z" fill="#002363"/>
<path d="M442.3,87.7 445.4,88.8 447.9,88 444.8,86.8z" fill="#002762"/>
<path d="M444.8,86.8 447.9,88 450.3,87.1 447.2,85.9z" fill="#002d62"/>
<path d="M447.2,85.9 450.3,87.1 452.7,86.2 449.7,85z" fill="#003262"/>
<path d="M449.7,85 452.7,86.2 455.2,85.3 452.1,84.2z" fill="#003762"/>
<path d="M452.1,84.2 455.2,85.3 457.6,84.5 454.6,83.3z" fill="#003d62"/>
<path d="M454.6,83.3 457.6,84.5 460.1,83.6 457,82.4z" fill="#004562"/>
<path d="M457,82.4 460.1,83.6 462.5,82.7 459.5,81.5z" fill="#004d62"/>
<path d="M459.5,81.5 462.5,82.7 465,81.8 461.9,80.6z" fill="#005662"/>
<path d="M461.9,80.6 465,81.8 467.4,81 464.4,79.8z" fill="#005e62"/>
<path d="M464.4,79.8 467.4,81 469.9,80.1 466.8,78.9z" fill="#00625f"/>
<path d="M466.8,78.9 469.9,80.1 472.3,79.2 469.3,78z" fill="#00625a"/>
<path d="M469.3,78 472.3,79.2 474.8,78.3 471.7,77.1z" fill="#006254"/>
<path d="M471.7,77.1 474.8,78.3 477.2,77.5 474.2,76.2z" fill="#00624f"/>
<path d="M474.2,76.2 477.2,77.5 479.7,76.6 476.6,75.4z" fill="#00624b"/>
<path d="M476.6,75.4 479.7,76.6 482.1,75.7 479.1,74.5z" fill="#00624a"/>
<path d="M479.1,74.5 482.1,75.7 484.6,74.8 481.5,73.6z" fill="#006249"/>
<path d="M481.5,73.6 484.6,74.8 487,74 484,72.7z" fill="#006248"/>
<path d="M484,72.7 487,74 489.5,73.1 486.4,71.9z" fill="#00623e"/>
<path d="M486.4,71.9 489.5,73.1 491.9,72.2 488.9,71z" fill="#00622e"/>
<path d="M488.9,71 491.9,72.2 494.4,71.3 491.3,70.1z" fill="#00621e"/>
<path d="M491.3,70.1 494.4,71.3 496.8,70.5 493.8,69.2z" fill="#006209"/>
<path d="M493.8,69.2 496.8,70.5 499.2,69.6 496.2,68.3z" fill="#0d6200"/>
<path d="M496.2,68.3 499.2,69.6 501.7,68.7 498.7,67.5z" fill="#136200"/>
<path d="M498.7,67.5 501.7,68.7 504.1,67.8 501.1,66.6z" fill="#136200"/>
<path d="M425.8,95.8 428.9,96.9 431.4,96.1 428.3,95z" fill="#1a0072"/>
<path d="M428.3,95 431.4,96.1 433.8,95.2 430.7,94.1z" fill="#1a0072"/>
<path d="M430.7,94.1 433.8,95.2 436.3,94.3 433.2,93.2z" fill="#180071"/>
<path d="M433.2,93.2 436.3,94.3 438.7,93.5 435.6,92.3z" fill="#10006f"/>
<path d="M435.6,92.3 438.7,93.5 441.1,92.6 438.1,91.5z" fill="#08006e"/>
<path d="M438.1,91.5 441.1,92.6 443.6,91.7 440.5,90.6z" fill="#01006c"/>
<path d="M440.5,90.6 443.6,91.7 446,90.8 443,89.7z" fill="#00076a"/>
<path d="M443,89.7 446,90.8 448.5,90 445.4,88.8z" fill="#000e69"/>
<path d="M445.4,88.8 448.5,90 450.9,89.1 447.9,88z" fill="#001667"/>
<path d="M447.9,88 450.9,89.1 453.4,88.2 450.3,87.1z" fill="#001c65"/>
<path d="M450.3,87.1 453.4,88.2 455.8,87.4 452.7,86.2z" fill="#002363"/>
<path d="M452.7,86.2 455.8,87.4 458.3,86.5 455.2,85.3z" fill="#002a62"/>
<path d="M455.2,85.3 458.3,86.5 460.7,85.6 457.6,84.5z" fill="#003162"/>
<path d="M457.6,84.5 460.7,85.6 463.2,84.8 460.1,83.6z" fill="#003c62"/>
<path d="M460.1,83.6 463.2,84.8 465.6,83.9 462.5,82.7z" fill="#004662"/>
<path d="M462.5,82.7 465.6,83.9 468,83 465,81.8z" fill="#005062"/>
<path d="M465,81.8 468,83 470.5,82.1 467.4,81z" fill="#005b62"/>
<path d="M467.4,81 470.5,82.1 472.9,81.3 469.9,80.1z" fill="#006260"/>
<path d="M469.9,80.1 472.9,81.3 475.4,80.4 472.3,79.2z" fill="#006259"/>
<path d="M472.3,79.2 475.4,80.4 477.8,79.5 474.8,78.3z" fill="#006252"/>
<path d="M474.8,78.3 477.8,79.5 480.3,78.7 477.2,77.5z" fill="#00624b"/>
<path d="M477.2,77.5 480.3,78.7 482.7,77.8 479.7,76.6z" fill="#006245"/>
<path d="M479.7,76.6 482.7,77.8 485.2,76.9 482.1,75.7z" fill="#006242"/>
<path d="M482.1,75.7 485.2,76.9 487.6,76 484.6,74.8z" fill="#006240"/>
<path d="M484.6,74.8 487.6,76 490.1,75.2 487,74z" fill="#00623e"/>
<path d="M487,74 490.1,75.2 492.5,74.3 489.5,73.1z" fill="#006231"/>
<path d="M489.5,73.1 492.5,74.3 494.9,73.4 491.9,72.2z" fill="#00621f"/>
<path d="M491.9,72.2 494.9,73.4 497.4,72.6 494.4,71.3z" fill="#00620d"/>
<path d="M494.4,71.3 497.4,72.6 499.8,71.7 496.8,70.5z" fill="#0b6200"/>
<path d="M496.8,70.5 499.8,71.7 502.3,70.8 499.2,69.6z" fill="#236200"/>
<path d="M499.2,69.6 502.3,70.8 504.7,69.9 501.7,68.7z" fill="#2a6200"/>
<path d="M501.7,68.7 504.7,69.9 507.2,69.1 504.1,67.8z" fill="#2a6200"/>
<path d="M428.9,96.9 432,98.1 434.4,97.2 431.4,96.1z" fill="#430079"/>
<path d="M431.4,96.1 434.4,97.2 436.9,96.3 433.8,95.2z" fill="#430079"/>
<path d="M433.8,95.2 436.9,96.3 439.3,95.5 436.3,94.3z" fill="#3f0079"/>
<path d="M436.3,94.3 439.3,95.5 441.8,94.6 438.7,93.5z" fill="#340077"/>
<path d="M438.7,93.5 441.8,94.6 444.2,93.7 441.1,92.6z" fill="#280074"/>
<path d="M441.1,92.6 444.2,93.7 446.7,92.9 443.6,91.7z" fill="#1d0072"/>
<path d="M443.6,91.7 446.7,92.9 449.1,92 446,90.8z" fill="#130070"/>
<path d="M446,90.8 449.1,92 451.6,91.1 448.5,90z" fill="#08006e"/>
<path d="M448.5,90 451.6,91.1 454,90.3 450.9,89.1z" fill="#00026c"/>
<path d="M450.9,89.1 454,90.3 456.4,89.4 453.4,88.2z" fill="#000b69"/>
<path d="M453.4,88.2 456.4,89.4 458.9,88.5 455.8,87.4z" fill="#001467"/>
<path d="M455.8,87.4 458.9,88.5 461.3,87.7 458.3,86.5z" fill="#001d65"/>
<path d="M458.3,86.5 461.3,87.7 463.8,86.8 460.7,85.6z" fill="#002663"/>
<path d="M460.7,85.6 463.8,86.8 466.2,85.9 463.2,84.8z" fill="#003262"/>
<path d="M463.2,84.8 466.2,85.9 468.7,85.1 465.6,83.9z" fill="#003f62"/>
<path d="M465.6,83.9 468.7,85.1 471.1,84.2 468,83z" fill="#004b62"/>
<path d="M468,83 471.1,84.2 473.5,83.3 470.5,82.1z" fill="#005862"/>
<path d="M470.5,82.1 473.5,83.3 476,82.5 472.9,81.3z" fill="#006261"/>
<path d="M472.9,81.3 476,82.5 478.4,81.6 475.4,80.4z" fill="#006259"/>
<path d="M475.4,80.4 478.4,81.6 480.9,80.7 477.8,79.5z" fill="#006250"/>
<path d="M477.8,79.5 480.9,80.7 483.3,79.9 480.3,78.7z" fill="#006247"/>
<path d="M480.3,78.7 483.3,79.9 485.8,79 482.7,77.8z" fill="#00623f"/>
<path d="M482.7,77.8 485.8,79 488.2,78.1 485.2,76.9z" fill="#00623b"/>
<path d="M485.2,76.9 488.2,78.1 490.7,77.3 487.6,76z" fill="#006237"/>
<path d="M487.6,76 490.7,77.3 493.1,76.4 490.1,75.2z" fill="#006233"/>
<path d="M490.1,75.2 493.1,76.4 495.5,75.5 492.5,74.3z" fill="#006224"/>
<path d="M492.5,74.3 495.5,75.5 498,74.7 494.9,73.4z" fill="#006210"/>
<path d="M494.9,73.4 498,74.7 500.4,73.8 497.4,72.6z" fill="#046200"/>
<path d="M497.4,72.6 500.4,73.8 502.9,72.9 499.8,71.7z" fill="#1f6200"/>
<path d="M499.8,71.7 502.9,72.9 505.3,72.1 502.3,70.8z" fill="#396200"/>
<path d="M502.3,70.8 505.3,72.1 507.8,71.2 504.7,69.9z" fill="#416200"/>
<path d="M504.7,69.9 507.8,71.2 510.2,70.3 507.2,69.1z" fill="#416200"/>
<path d="M432,98.1 435.1,99.2 437.5,98.3 434.4,97.2z" fill="#6e0080"/>
<path d="M434.4,97.2 437.5,98.3 440,97.5 436.9,96.3z" fill="#6e0080"/>
<path d="M436.9,96.3 440,97.5 442.4,96.6 439.3,95.5z" fill="#6a0080"/>
<path d="M439.3,95.5 442.4,96.6 444.9,95.7 441.8,94.6z" fill="#5b007e"/>
<path d="M441.8,94.6 444.9,95.7 447.3,94.9 444.2,93.7z" fill="#4c007b"/>
<path d="M444.2,93.7 447.3,94.9 449.7,94 446.7,92.9z" fill="#3e0078"/>
<path d="M446.7,92.9 449.7,94 452.2,93.1 449.1,92z" fill="#2f0076"/>
<path d="M449.1,92 452.2,93.1 454.6,92.3 451.6,91.1z" fill="#220073"/>
<path d="M451.6,91.1 454.6,92.3 457.1,91.4 454,90.3z" fill="#140070"/>
<path d="M454,90.3 457.1,91.4 459.5,90.6 456.4,89.4z" fill="#08006e"/>
<path d="M456.4,89.4 459.5,90.6 462,89.7 458.9,88.5z" fill="#00056b"/>
<path d="M458.9,88.5 462,89.7 464.4,88.8 461.3,87.7z" fill="#001068"/>
<path d="M461.3,87.7 464.4,88.8 466.8,88 463.8,86.8z" fill="#001b65"/>
<path d="M463.8,86.8 466.8,88 469.3,87.1 466.2,85.9z" fill="#002962"/>
<path d="M466.2,85.9 469.3,87.1 471.7,86.2 468.7,85.1z" fill="#003762"/>
<path d="M468.7,85.1 471.7,86.2 474.2,85.4 471.1,84.2z" fill="#004662"/>
<path d="M471.1,84.2 474.2,85.4 476.6,84.5 473.5,83.3z" fill="#005462"/>
<path d="M473.5,83.3 476.6,84.5 479,83.7 476,82.5z" fill="#006162"/>
<path d="M476,82.5 479,83.7 481.5,82.8 478.4,81.6z" fill="#006258"/>
<path d="M478.4,81.6 481.5,82.8 483.9,81.9 480.9,80.7z" fill="#00624d"/>
<path d="M480.9,80.7 483.9,81.9 486.4,81.1 483.3,79.9z" fill="#006243"/>
<path d="M483.3,79.9 486.4,81.1 488.8,80.2 485.8,79z" fill="#006239"/>
<path d="M485.8,79 488.8,80.2 491.3,79.3 488.2,78.1z" fill="#006234"/>
<path d="M488.2,78.1 491.3,79.3 493.7,78.5 490.7,77.3z" fill="#00622e"/>
<path d="M490.7,77.3 493.7,78.5 496.1,77.6 493.1,76.4z" fill="#006228"/>
<path d="M493.1,76.4 496.1,77.6 498.6,76.7 495.5,75.5z" fill="#006217"/>
<path d="M495.5,75.5 498.6,76.7 501,75.9 498,74.7z" fill="#006201"/>
<path d="M498,74.7 501,75.9 503.5,75 500.4,73.8z" fill="#166200"/>
<path d="M500.4,73.8 503.5,75 505.9,74.2 502.9,72.9z" fill="#326200"/>
<path d="M502.9,72.9 505.9,74.2 508.4,73.3 505.3,72.1z" fill="#506200"/>
<path d="M505.3,72.1 508.4,73.3 510.8,72.4 507.8,71.2z" fill="#586200"/>
<path d="M507.8,71.2 510.8,72.4 513.2,71.6 510.2,70.3z" fill="#586200"/>
<path d="M435.1,99.2 438.2,100.3 440.6,99.4 437.5,98.3z" fill="#80005f"/>
<path d="M437.5,98.3 440.6,99.4 443.1,98.6 440,97.5z" fill="#80005f"/>
<path d="M440,97.5 443.1,98.6 445.5,97.7 442.4,96.6z" fill="#800064"/>
<path d="M442.4,96.6 445.5,97.7 447.9,96.9 444.9,95.7z" fill="#800075"/>
<path d="M444.9,95.7 447.9,96.9 450.4,96 447.3,94.9z" fill="#790080"/>
<path d="M447.3,94.9 450.4,96 452.8,95.1 449.7,94z" fill="#670080"/>
<path d="M449.7,94 452.8,95.1 455.3,94.3 452.2,93.1z" fill="#54007c"/>
<path d="M452.2,93.1 455.3,94.3 457.7,93.4 454.6,92.3z" fill="#410079"/>
<path d="M454.6,92.3 457.7,93.4 460.1,92.6 457.1,91.4z" fill="#2f0076"/>
<path d="M457.1,91.4 460.1,92.6 462.6,91.7 459.5,90.6z" fill="#1d0072"/>
<path d="M459.5,90.6 462.6,91.7 465,90.9 462,89.7z" fill="#0d006f"/>
<path d="M462,89.7 465,90.9 467.5,90 464.4,88.8z" fill="#00026b"/>
<path d="M464.4,88.8 467.5,90 469.9,89.1 466.8,88z" fill="#001168"/>
<path d="M466.8,88 469.9,89.1 472.3,88.3 469.3,87.1z" fill="#002264"/>
<path d="M469.3,87.1 472.3,88.3 474.8,87.4 471.7,86.2z" fill="#003362"/>
<path d="M471.7,86.2 474.8,87.4 477.2,86.6 474.2,85.4z" fill="#004462"/>
<path d="M474.2,85.4 477.2,86.6 479.7,85.7 476.6,84.5z" fill="#005562"/>
<path d="M476.6,84.5 479.7,85.7 482.1,84.8 479,83.7z" fill="#00625f"/>
<path d="M479,83.7 482.1,84.8 484.5,84 481.5,82.8z" fill="#006252"/>
<path d="M481.5,82.8 484.5,84 487,83.1 483.9,81.9z" fill="#006244"/>
<path d="M483.9,81.9 487,83.1 489.4,82.3 486.4,81.1z" fill="#006237"/>
<path d="M486.4,81.1 489.4,82.3 491.9,81.4 488.8,80.2z" fill="#00622b"/>
<path d="M488.8,80.2 491.9,81.4 494.3,80.6 491.3,79.3z" fill="#006223"/>
<path d="M491.3,79.3 494.3,80.6 496.8,79.7 493.7,78.5z" fill="#00621b"/>
<path d="M493.7,78.5 496.8,79.7 499.2,78.8 496.1,77.6z" fill="#006213"/>
<path d="M496.1,77.6 499.2,78.8 501.6,78 498.6,76.7z" fill="#016200"/>
<path d="M498.6,76.7 501.6,78 504.1,77.1 501,75.9z" fill="#1b6200"/>
<path d="M501,75.9 504.1,77.1 506.5,76.3 503.5,75z" fill="#346200"/>
<path d="M503.5,75 506.5,76.3 509,75.4 505.9,74.2z" fill="#556200"/>
<path d="M505.9,74.2 509,75.4 511.4,74.5 508.4,73.3z" fill="#624f00"/>
<path d="M508.4,73.3 511.4,74.5 513.8,73.7 510.8,72.4z" fill="#624500"/>
<path d="M510.8,72.4 513.8,73.7 516.3,72.8 513.2,71.6z" fill="#624500"/>
<path d="M438.2,100.3 441.3,101.4 443.7,100.6 440.6,99.4z" fill="#800027"/>
<path d="M440.6,99.4 443.7,100.6 446.1,99.7 443.1,98.6z" fill="#800027"/>
<path d="M443.1,98.6 446.1,99.7 448.6,98.9 445.5,97.7z" fill="#80002d"/>
<path d="M445.5,97.7 448.6,98.9 451,98 447.9,96.9z" fill="#800042"/>
<path d="M447.9,96.9 451,98 453.5,97.1 450.4,96z" fill="#800058"/>
<path d="M450.4,96 453.5,97.1 455.9,96.3 452.8,95.1z" fill="#80006d"/>
<path d="M452.8,95.1 455.9,96.3 458.3,95.4 455.3,94.3z" fill="#7d0080"/>
<path d="M455.3,94.3 458.3,95.4 460.8,94.6 457.7,93.4z" fill="#680080"/>
<path d="M457.7,93.4 460.8,94.6 463.2,93.7 460.1,92.6z" fill="#50007c"/>
<path d="M460.1,92.6 463.2,93.7 465.6,92.9 462.6,91.7z" fill="#390078"/>
<path d="M462.6,91.7 465.6,92.9 468.1,92 465,90.9z" fill="#230073"/>
<path d="M465,90.9 468.1,92 470.5,91.2 467.5,90z" fill="#0f006f"/>
<path d="M467.5,90 470.5,91.2 473,90.3 469.9,89.1z" fill="#00046b"/>
<path d="M469.9,89.1 473,90.3 475.4,89.5 472.3,88.3z" fill="#001966"/>
<path d="M472.3,88.3 475.4,89.5 477.8,88.6 474.8,87.4z" fill="#002c62"/>
<path d="M474.8,87.4 477.8,88.6 480.3,87.7 477.2,86.6z" fill="#004162"/>
<path d="M477.2,86.6 480.3,87.7 482.7,86.9 479.7,85.7z" fill="#005562"/>
<path d="M479.7,85.7 482.7,86.9 485.2,86 482.1,84.8z" fill="#00625c"/>
<path d="M482.1,84.8 485.2,86 487.6,85.2 484.5,84z" fill="#00624c"/>
<path d="M484.5,84 487.6,85.2 490,84.3 487,83.1z" fill="#00623c"/>
<path d="M487,83.1 490,84.3 492.5,83.5 489.4,82.3z" fill="#00622b"/>
<path d="M489.4,82.3 492.5,83.5 494.9,82.6 491.9,81.4z" fill="#00621d"/>
<path d="M491.9,81.4 494.9,82.6 497.4,81.8 494.3,80.6z" fill="#006212"/>
<path d="M494.3,80.6 497.4,81.8 499.8,80.9 496.8,79.7z" fill="#006207"/>
<path d="M496.8,79.7 499.8,80.9 502.2,80.1 499.2,78.8z" fill="#036200"/>
<path d="M499.2,78.8 502.2,80.1 504.7,79.2 501.6,78z" fill="#1a6200"/>
<path d="M501.6,78 504.7,79.2 507.1,78.3 504.1,77.1z" fill="#376200"/>
<path d="M504.1,77.1 507.1,78.3 509.6,77.5 506.5,76.3z" fill="#546200"/>
<path d="M506.5,76.3 509.6,77.5 512,76.6 509,75.4z" fill="#624c00"/>
<path d="M509,75.4 512,76.6 514.4,75.8 511.4,74.5z" fill="#622800"/>
<path d="M511.4,74.5 514.4,75.8 516.9,74.9 513.8,73.7z" fill="#621d00"/>
<path d="M513.8,73.7 516.9,74.9 519.3,74.1 516.3,72.8z" fill="#621d00"/>
<path d="M441.3,101.4 444.3,102.5 446.8,101.7 443.7,100.6z" fill="#800017"/>
<path d="M443.7,100.6 446.8,101.7 449.2,100.8 446.1,99.7z" fill="#800017"/>
<path d="M446.1,99.7 449.2,100.8 451.7,100 448.6,98.9z" fill="#80001d"/>
<path d="M448.6,98.9 451.7,100 454.1,99.1 451,98z" fill="#800034"/>
<path d="M451,98 454.1,99.1 456.5,98.3 453.5,97.1z" fill="#80004a"/>
<path d="M453.5,97.1 456.5,98.3 459,97.4 455.9,96.3z" fill="#800060"/>
<path d="M455.9,96.3 459,97.4 461.4,96.6 458.3,95.4z" fill="#800076"/>
<path d="M458.3,95.4 461.4,96.6 463.8,95.7 460.8,94.6z" fill="#720080"/>
<path d="M460.8,94.6 463.8,95.7 466.3,94.9 463.2,93.7z" fill="#5a007d"/>
<path d="M463.2,93.7 466.3,94.9 468.7,94 465.6,92.9z" fill="#410079"/>
<path d="M465.6,92.9 468.7,94 471.2,93.2 468.1,92z" fill="#2a0075"/>
<path d="M468.1,92 471.2,93.2 473.6,92.3 470.5,91.2z" fill="#150070"/>
<path d="M470.5,91.2 473.6,92.3 476,91.5 473,90.3z" fill="#00006c"/>
<path d="M473,90.3 476,91.5 478.5,90.6 475.4,89.5z" fill="#001667"/>
<path d="M475.4,89.5 478.5,90.6 480.9,89.8 477.8,88.6z" fill="#002b62"/>
<path d="M477.8,88.6 480.9,89.8 483.3,88.9 480.3,87.7z" fill="#004062"/>
<path d="M480.3,87.7 483.3,88.9 485.8,88.1 482.7,86.9z" fill="#005562"/>
<path d="M482.7,86.9 485.8,88.1 488.2,87.2 485.2,86z" fill="#00625b"/>
<path d="M485.2,86 488.2,87.2 490.7,86.4 487.6,85.2z" fill="#00624a"/>
<path d="M487.6,85.2 490.7,86.4 493.1,85.5 490,84.3z" fill="#006239"/>
<path d="M490,84.3 493.1,85.5 495.5,84.7 492.5,83.5z" fill="#006228"/>
<path d="M492.5,83.5 495.5,84.7 498,83.8 494.9,82.6z" fill="#006219"/>
<path d="M494.9,82.6 498,83.8 500.4,83 497.4,81.8z" fill="#00620d"/>
<path d="M497.4,81.8 500.4,83 502.8,82.1 499.8,80.9z" fill="#006202"/>
<path d="M499.8,80.9 502.8,82.1 505.3,81.3 502.2,80.1z" fill="#0a6200"/>
<path d="M502.2,80.1 505.3,81.3 507.7,80.4 504.7,79.2z" fill="#226200"/>
<path d="M504.7,79.2 507.7,80.4 510.2,79.6 507.1,78.3z" fill="#406200"/>
<path d="M507.1,78.3 510.2,79.6 512.6,78.7 509.6,77.5z" fill="#5e6200"/>
<path d="M509.6,77.5 512.6,78.7 515,77.9 512,76.6z" fill="#624200"/>
<path d="M512,76.6 515,77.9 517.5,77 514.4,75.8z" fill="#621d00"/>
<path d="M514.4,75.8 517.5,77 519.9,76.2 516.9,74.9z" fill="#621200"/>
<path d="M516.9,74.9 519.9,76.2 522.3,75.3 519.3,74.1z" fill="#621200"/>
<path d="M444.3,102.5 447.4,103.7 449.9,102.8 446.8,101.7z" fill="#800017"/>
<path d="M446.8,101.7 449.9,102.8 452.3,102 449.2,100.8z" fill="#800017"/>
<path d="M449.2,100.8 452.3,102 454.7,101.1 451.7,100z" fill="#80001d"/>
<path d="M451.7,100 454.7,101.1 457.2,100.3 454.1,99.1z" fill="#800034"/>
<path d="M454.1,99.1 457.2,100.3 459.6,99.4 456.5,98.3z" fill="#80004a"/>
<path d="M456.5,98.3 459.6,99.4 462,98.6 459,97.4z" fill="#800060"/>
<path d="M459,97.4 462,98.6 464.5,97.7 461.4,96.6z" fill="#800076"/>
<path d="M461.4,96.6 464.5,97.7 466.9,96.9 463.8,95.7z" fill="#720080"/>
<path d="M463.8,95.7 466.9,96.9 469.3,96 466.3,94.9z" fill="#5a007d"/>
<path d="M466.3,94.9 469.3,96 471.8,95.2 468.7,94z" fill="#410079"/>
<path d="M468.7,94 471.8,95.2 474.2,94.3 471.2,93.2z" fill="#2a0075"/>
<path d="M471.2,93.2 474.2,94.3 476.7,93.5 473.6,92.3z" fill="#150070"/>
<path d="M473.6,92.3 476.7,93.5 479.1,92.7 476,91.5z" fill="#00006c"/>
<path d="M476,91.5 479.1,92.7 481.5,91.8 478.5,90.6z" fill="#001667"/>
<path d="M478.5,90.6 481.5,91.8 484,91 480.9,89.8z" fill="#002b62"/>
<path d="M480.9,89.8 484,91 486.4,90.1 483.3,88.9z" fill="#004062"/>
<path d="M483.3,88.9 486.4,90.1 488.8,89.3 485.8,88.1z" fill="#005562"/>
<path d="M485.8,88.1 488.8,89.3 491.3,88.4 488.2,87.2z" fill="#00625b"/>
<path d="M488.2,87.2 491.3,88.4 493.7,87.6 490.7,86.4z" fill="#00624a"/>
<path d="M490.7,86.4 493.7,87.6 496.1,86.7 493.1,85.5z" fill="#006239"/>
<path d="M493.1,85.5 496.1,86.7 498.6,85.9 495.5,84.7z" fill="#006228"/>
<path d="M495.5,84.7 498.6,85.9 501,85 498,83.8z" fill="#006219"/>
<path d="M498,83.8 501,85 503.5,84.2 500.4,83z" fill="#00620d"/>
<path d="M500.4,83 503.5,84.2 505.9,83.3 502.8,82.1z" fill="#006202"/>
<path d="M502.8,82.1 505.9,83.3 508.3,82.5 505.3,81.3z" fill="#0a6200"/>
<path d="M505.3,81.3 508.3,82.5 510.8,81.6 507.7,80.4z" fill="#226200"/>
<path d="M507.7,80.4 510.8,81.6 513.2,80.8 510.2,79.6z" fill="#406200"/>
<path d="M510.2,79.6 513.2,80.8 515.6,80 512.6,78.7z" fill="#5e6200"/>
<path d="M512.6,78.7 515.6,80 518.1,79.1 515,77.9z" fill="#624200"/>
<path d="M515,77.9 518.1,79.1 520.5,78.3 517.5,77z" fill="#621d00"/>
<path d="M517.5,77 520.5,78.3 522.9,77.4 519.9,76.2z" fill="#621200"/>
<path d="M519.9,76.2 522.9,77.4 525.4,76.6 522.3,75.3z" fill="#621200"/>
</g></g>
<g fill="#000">
<circle cx="394.6" cy="54.7" r="1.35"/>
<circle cx="433.3" cy="55.7" r="1.35"/>
<circle cx="471.7" cy="57.7" r="1.35"/>
<circle cx="398.6" cy="69" r="1.35"/>
<circle cx="437.1" cy="70.7" r="1.35"/>
<circle cx="476" cy="72.3" r="1.35"/>
<circle cx="402.9" cy="84" r="1.35"/>
<circle cx="441.6" cy="84.8" r="1.35"/>
<circle cx="479.7" cy="87" r="1.35"/>
</g>
<g fill="none" stroke="#1a1a1a" stroke-width="1.1">
<polyline points="334.7,52.9 334.8,142.9 429.9,179.8 525.3,143.2"/>
<line x1="331.7" y1="141.7" x2="334.8" y2="142.9" stroke="#1a1a1a" stroke-width="1.1"/>
<line x1="331.7" y1="119.2" x2="334.8" y2="120.4" stroke="#1a1a1a" stroke-width="1.1"/>
<line x1="331.7" y1="96.7" x2="334.8" y2="97.9" stroke="#1a1a1a" stroke-width="1.1"/>
<line x1="331.6" y1="74.2" x2="334.7" y2="75.4" stroke="#1a1a1a" stroke-width="1.1"/>
<line x1="331.6" y1="51.7" x2="334.7" y2="52.9" stroke="#1a1a1a" stroke-width="1.1"/>
<line x1="342.6" y1="145.9" x2="340.2" y2="146.9" stroke="#1a1a1a" stroke-width="1.1"/>
<line x1="386.2" y1="162.9" x2="383.8" y2="163.8" stroke="#1a1a1a" stroke-width="1.1"/>
<line x1="429.9" y1="179.8" x2="427.5" y2="180.7" stroke="#1a1a1a" stroke-width="1.1"/>
<line x1="478.4" y1="161.2" x2="480.8" y2="162.1" stroke="#1a1a1a" stroke-width="1.1"/>
<line x1="429.9" y1="179.8" x2="432.3" y2="180.7" stroke="#1a1a1a" stroke-width="1.1"/>
<line x1="525.3" y1="143.2" x2="527.7" y2="144.1" stroke="#1a1a1a" stroke-width="1.1"/>
</g>
<text x="325.9" y="146.8" text-anchor="end">1.35</text>
<text x="325.9" y="124.3" text-anchor="end">1.4</text>
<text x="325.9" y="101.8" text-anchor="end">1.45</text>
<text x="325.9" y="79.3" text-anchor="end">1.5</text>
<text x="325.9" y="56.8" text-anchor="end">1.55</text>
<text y="36.1"><tspan x="305.7" font-size="15.5">×</tspan><tspan x="316.7">10</tspan><tspan x="330.2" dy="-7.6" font-size="9.6">6</tspan></text>
<text transform="translate(292.5,92) rotate(-90)" text-anchor="middle" font-size="13.7">S (VA)</text>
<text x="325.3" y="161.4" text-anchor="middle">450</text>
<text x="368.6" y="178.5" text-anchor="middle">500</text>
<text x="412.3" y="194.7" text-anchor="middle">550</text>
<text x="346.8" y="202.3" text-anchor="middle" font-size="13.7">h (mm)</text>
<text x="445.4" y="194.7" text-anchor="middle">30</text>
<text x="492.3" y="176.9" text-anchor="middle">35</text>
<text x="539.7" y="158.7" text-anchor="middle">40</text>
<text x="510.2" y="202.3" text-anchor="middle" font-size="13.7">b1 (mm)</text>
<text x="431.6" y="14" text-anchor="middle" font-weight="bold" fill="#000">(b)</text>
<g fill="none" stroke-linecap="butt">
<line x1="61.3" y1="372.9" x2="157.2" y2="336.9" stroke="#d6d6d6" stroke-width="1"/>
<line x1="157.2" y1="336.9" x2="157.2" y2="247.3" stroke="#d6d6d6" stroke-width="1"/>
<line x1="105" y1="390" x2="200.8" y2="353.6" stroke="#d6d6d6" stroke-width="1"/>
<line x1="200.8" y1="353.6" x2="200.8" y2="263.9" stroke="#d6d6d6" stroke-width="1"/>
<line x1="177.3" y1="396" x2="81.3" y2="359.2" stroke="#d6d6d6" stroke-width="1"/>
<line x1="81.3" y1="359.2" x2="81.3" y2="269.6" stroke="#d6d6d6" stroke-width="1"/>
<polyline points="53.5,347.4 148.6,311.2 244.1,347.7" stroke="#d6d6d6"/>
<polyline points="53.5,325 148.6,288.8 244.1,325.2" stroke="#d6d6d6"/>
<polyline points="53.5,302.5 148.6,266.4 244.1,302.8" stroke="#d6d6d6"/>
<polyline points="53.5,369.8 148.6,333.6 244.1,370.1" stroke="#cfcfcf"/>
<polyline points="53.5,280.1 148.6,244 244.1,280.4 244.1,370.1" stroke="#cfcfcf"/>
<line x1="148.6" y1="333.6" x2="148.6" y2="244" stroke="#cfcfcf" stroke-width="1"/>
</g>
<clipPath id="c3"><path d="M61.8,301.8 146.9,333.2 231.8,301.4 148.1,269.6z"/></clipPath>
<g clip-path="url(#c3)"><g filter="url(#bl1_0)" shape-rendering="crispEdges">
<path d="M48.1,301.9 51.2,303 54.3,301.8 51.2,300.7z" fill="#1e7500"/>
<path d="M51.2,300.7 54.3,301.8 57.4,300.7 54.3,299.5z" fill="#1e7500"/>
<path d="M54.3,299.5 57.4,300.7 60.6,299.5 57.5,298.4z" fill="#2a7500"/>
<path d="M57.5,298.4 60.6,299.5 63.7,298.3 60.6,297.2z" fill="#4d7400"/>
<path d="M60.6,297.2 63.7,298.3 66.8,297.2 63.7,296z" fill="#6a7300"/>
<path d="M63.7,296 66.8,297.2 70,296 66.9,294.9z" fill="#726300"/>
<path d="M66.9,294.9 70,296 73.1,294.8 70,293.7z" fill="#714e00"/>
<path d="M70,293.7 73.1,294.8 76.2,293.7 73.1,292.5z" fill="#703c00"/>
<path d="M73.1,292.5 76.2,293.7 79.3,292.5 76.3,291.4z" fill="#6f2e00"/>
<path d="M76.3,291.4 79.3,292.5 82.5,291.3 79.4,290.2z" fill="#6e2300"/>
<path d="M79.4,290.2 82.5,291.3 85.6,290.2 82.5,289z" fill="#6d1b00"/>
<path d="M82.5,289 85.6,290.2 88.7,289 85.7,287.8z" fill="#6c1400"/>
<path d="M85.7,287.8 88.7,289 91.9,287.8 88.8,286.7z" fill="#6b0e00"/>
<path d="M88.8,286.7 91.9,287.8 95,286.7 91.9,285.5z" fill="#6a0a00"/>
<path d="M91.9,285.5 95,286.7 98.1,285.5 95.1,284.3z" fill="#690700"/>
<path d="M95.1,284.3 98.1,285.5 101.3,284.3 98.2,283.2z" fill="#680500"/>
<path d="M98.2,283.2 101.3,284.3 104.4,283.1 101.3,282z" fill="#670300"/>
<path d="M101.3,282 104.4,283.1 107.5,282 104.5,280.8z" fill="#660200"/>
<path d="M104.5,280.8 107.5,282 110.6,280.8 107.6,279.7z" fill="#650100"/>
<path d="M107.6,279.7 110.6,280.8 113.8,279.6 110.7,278.5z" fill="#640100"/>
<path d="M110.7,278.5 113.8,279.6 116.9,278.5 113.9,277.3z" fill="#630000"/>
<path d="M113.9,277.3 116.9,278.5 120,277.3 117,276.2z" fill="#620000"/>
<path d="M117,276.2 120,277.3 123.2,276.1 120.1,275z" fill="#610000"/>
<path d="M120.1,275 123.2,276.1 126.3,275 123.3,273.8z" fill="#600000"/>
<path d="M123.3,273.8 126.3,275 129.4,273.8 126.4,272.7z" fill="#5f0000"/>
<path d="M126.4,272.7 129.4,273.8 132.6,272.6 129.5,271.5z" fill="#5e0000"/>
<path d="M129.5,271.5 132.6,272.6 135.7,271.5 132.7,270.3z" fill="#5d0000"/>
<path d="M132.7,270.3 135.7,271.5 138.8,270.3 135.8,269.2z" fill="#5c0000"/>
<path d="M135.8,269.2 138.8,270.3 142,269.1 138.9,268z" fill="#5b0000"/>
<path d="M138.9,268 142,269.1 145.1,268 142.1,266.8z" fill="#5a0000"/>
<path d="M142.1,266.8 145.1,268 148.2,266.8 145.2,265.6z" fill="#590000"/>
<path d="M145.2,265.6 148.2,266.8 151.3,265.6 148.3,264.5z" fill="#590000"/>
<path d="M51.2,303 54.3,304.1 57.4,303 54.3,301.8z" fill="#1e7500"/>
<path d="M54.3,301.8 57.4,303 60.5,301.8 57.4,300.7z" fill="#1e7500"/>
<path d="M57.4,300.7 60.5,301.8 63.6,300.6 60.6,299.5z" fill="#2a7500"/>
<path d="M60.6,299.5 63.6,300.6 66.8,299.5 63.7,298.3z" fill="#4d7400"/>
<path d="M63.7,298.3 66.8,299.5 69.9,298.3 66.8,297.2z" fill="#6a7300"/>
<path d="M66.8,297.2 69.9,298.3 73,297.1 70,296z" fill="#726300"/>
<path d="M70,296 73,297.1 76.2,296 73.1,294.8z" fill="#714e00"/>
<path d="M73.1,294.8 76.2,296 79.3,294.8 76.2,293.7z" fill="#703c00"/>
<path d="M76.2,293.7 79.3,294.8 82.4,293.6 79.3,292.5z" fill="#6f2e00"/>
<path d="M79.3,292.5 82.4,293.6 85.5,292.5 82.5,291.3z" fill="#6e2300"/>
<path d="M82.5,291.3 85.5,292.5 88.7,291.3 85.6,290.2z" fill="#6d1b00"/>
<path d="M85.6,290.2 88.7,291.3 91.8,290.1 88.7,289z" fill="#6c1400"/>
<path d="M88.7,289 91.8,290.1 94.9,289 91.9,287.8z" fill="#6b0e00"/>
<path d="M91.9,287.8 94.9,289 98.1,287.8 95,286.7z" fill="#6a0a00"/>
<path d="M95,286.7 98.1,287.8 101.2,286.6 98.1,285.5z" fill="#690700"/>
<path d="M98.1,285.5 101.2,286.6 104.3,285.5 101.3,284.3z" fill="#680500"/>
<path d="M101.3,284.3 104.3,285.5 107.4,284.3 104.4,283.1z" fill="#670300"/>
<path d="M104.4,283.1 107.4,284.3 110.6,283.1 107.5,282z" fill="#660200"/>
<path d="M107.5,282 110.6,283.1 113.7,282 110.6,280.8z" fill="#650100"/>
<path d="M110.6,280.8 113.7,282 116.8,280.8 113.8,279.6z" fill="#640100"/>
<path d="M113.8,279.6 116.8,280.8 120,279.6 116.9,278.5z" fill="#630000"/>
<path d="M116.9,278.5 120,279.6 123.1,278.5 120,277.3z" fill="#620000"/>
<path d="M120,277.3 123.1,278.5 126.2,277.3 123.2,276.1z" fill="#610000"/>
<path d="M123.2,276.1 126.2,277.3 129.3,276.1 126.3,275z" fill="#600000"/>
<path d="M126.3,275 129.3,276.1 132.5,275 129.4,273.8z" fill="#5f0000"/>
<path d="M129.4,273.8 132.5,275 135.6,273.8 132.6,272.6z" fill="#5e0000"/>
<path d="M132.6,272.6 135.6,273.8 138.7,272.6 135.7,271.5z" fill="#5d0000"/>
<path d="M135.7,271.5 138.7,272.6 141.9,271.5 138.8,270.3z" fill="#5c0000"/>
<path d="M138.8,270.3 141.9,271.5 145,270.3 142,269.1z" fill="#5b0000"/>
<path d="M142,269.1 145,270.3 148.1,269.1 145.1,268z" fill="#5a0000"/>
<path d="M145.1,268 148.1,269.1 151.2,268 148.2,266.8z" fill="#590000"/>
<path d="M148.2,266.8 151.2,268 154.4,266.8 151.3,265.6z" fill="#590000"/>
<path d="M54.3,304.1 57.3,305.3 60.5,304.1 57.4,303z" fill="#1e7500"/>
<path d="M57.4,303 60.5,304.1 63.6,302.9 60.5,301.8z" fill="#1e7500"/>
<path d="M60.5,301.8 63.6,302.9 66.7,301.8 63.6,300.6z" fill="#2a7500"/>
<path d="M63.6,300.6 66.7,301.8 69.9,300.6 66.8,299.5z" fill="#4d7400"/>
<path d="M66.8,299.5 69.9,300.6 73,299.4 69.9,298.3z" fill="#6a7300"/>
<path d="M69.9,298.3 73,299.4 76.1,298.3 73,297.1z" fill="#726200"/>
<path d="M73,297.1 76.1,298.3 79.2,297.1 76.2,296z" fill="#714d00"/>
<path d="M76.2,296 79.2,297.1 82.4,295.9 79.3,294.8z" fill="#703c00"/>
<path d="M79.3,294.8 82.4,295.9 85.5,294.8 82.4,293.6z" fill="#6f2e00"/>
<path d="M82.4,293.6 85.5,294.8 88.6,293.6 85.5,292.5z" fill="#6e2300"/>
<path d="M85.5,292.5 88.6,293.6 91.7,292.4 88.7,291.3z" fill="#6d1b00"/>
<path d="M88.7,291.3 91.7,292.4 94.9,291.3 91.8,290.1z" fill="#6c1400"/>
<path d="M91.8,290.1 94.9,291.3 98,290.1 94.9,289z" fill="#6b0e00"/>
<path d="M94.9,289 98,290.1 101.1,288.9 98.1,287.8z" fill="#6a0a00"/>
<path d="M98.1,287.8 101.1,288.9 104.2,287.8 101.2,286.6z" fill="#690700"/>
<path d="M101.2,286.6 104.2,287.8 107.4,286.6 104.3,285.5z" fill="#680500"/>
<path d="M104.3,285.5 107.4,286.6 110.5,285.4 107.4,284.3z" fill="#670300"/>
<path d="M107.4,284.3 110.5,285.4 113.6,284.3 110.6,283.1z" fill="#660200"/>
<path d="M110.6,283.1 113.6,284.3 116.8,283.1 113.7,282z" fill="#650100"/>
<path d="M113.7,282 116.8,283.1 119.9,281.9 116.8,280.8z" fill="#640100"/>
<path d="M116.8,280.8 119.9,281.9 123,280.8 120,279.6z" fill="#630000"/>
<path d="M120,279.6 123,280.8 126.1,279.6 123.1,278.5z" fill="#620000"/>
<path d="M123.1,278.5 126.1,279.6 129.3,278.4 126.2,277.3z" fill="#610000"/>
<path d="M126.2,277.3 129.3,278.4 132.4,277.3 129.3,276.1z" fill="#600000"/>
<path d="M129.3,276.1 132.4,277.3 135.5,276.1 132.5,275z" fill="#5f0000"/>
<path d="M132.5,275 135.5,276.1 138.6,274.9 135.6,273.8z" fill="#5e0000"/>
<path d="M135.6,273.8 138.6,274.9 141.8,273.8 138.7,272.6z" fill="#5d0000"/>
<path d="M138.7,272.6 141.8,273.8 144.9,272.6 141.9,271.5z" fill="#5c0000"/>
<path d="M141.9,271.5 144.9,272.6 148,271.4 145,270.3z" fill="#5b0000"/>
<path d="M145,270.3 148,271.4 151.2,270.3 148.1,269.1z" fill="#5a0000"/>
<path d="M148.1,269.1 151.2,270.3 154.3,269.1 151.2,268z" fill="#590000"/>
<path d="M151.2,268 154.3,269.1 157.4,267.9 154.4,266.8z" fill="#590000"/>
<path d="M57.3,305.3 60.4,306.4 63.6,305.2 60.5,304.1z" fill="#1e7500"/>
<path d="M60.5,304.1 63.6,305.2 66.7,304.1 63.6,302.9z" fill="#1e7500"/>
<path d="M63.6,302.9 66.7,304.1 69.8,302.9 66.7,301.8z" fill="#2a7500"/>
<path d="M66.7,301.8 69.8,302.9 72.9,301.7 69.9,300.6z" fill="#4c7400"/>
<path d="M69.9,300.6 72.9,301.7 76.1,300.6 73,299.4z" fill="#697300"/>
<path d="M73,299.4 76.1,300.6 79.2,299.4 76.1,298.3z" fill="#726200"/>
<path d="M76.1,298.3 79.2,299.4 82.3,298.3 79.2,297.1z" fill="#714e00"/>
<path d="M79.2,297.1 82.3,298.3 85.4,297.1 82.4,295.9z" fill="#703c00"/>
<path d="M82.4,295.9 85.4,297.1 88.6,295.9 85.5,294.8z" fill="#6f2f00"/>
<path d="M85.5,294.8 88.6,295.9 91.7,294.8 88.6,293.6z" fill="#6e2300"/>
<path d="M88.6,293.6 91.7,294.8 94.8,293.6 91.7,292.4z" fill="#6d1b00"/>
<path d="M91.7,292.4 94.8,293.6 97.9,292.4 94.9,291.3z" fill="#6c1400"/>
<path d="M94.9,291.3 97.9,292.4 101.1,291.3 98,290.1z" fill="#6b0e00"/>
<path d="M98,290.1 101.1,291.3 104.2,290.1 101.1,288.9z" fill="#6a0a00"/>
<path d="M101.1,288.9 104.2,290.1 107.3,288.9 104.2,287.8z" fill="#690700"/>
<path d="M104.2,287.8 107.3,288.9 110.4,287.8 107.4,286.6z" fill="#680500"/>
<path d="M107.4,286.6 110.4,287.8 113.6,286.6 110.5,285.4z" fill="#670300"/>
<path d="M110.5,285.4 113.6,286.6 116.7,285.4 113.6,284.3z" fill="#660200"/>
<path d="M113.6,284.3 116.7,285.4 119.8,284.3 116.8,283.1z" fill="#650100"/>
<path d="M116.8,283.1 119.8,284.3 122.9,283.1 119.9,281.9z" fill="#640100"/>
<path d="M119.9,281.9 122.9,283.1 126.1,281.9 123,280.8z" fill="#630100"/>
<path d="M123,280.8 126.1,281.9 129.2,280.8 126.1,279.6z" fill="#620000"/>
<path d="M126.1,279.6 129.2,280.8 132.3,279.6 129.3,278.4z" fill="#610000"/>
<path d="M129.3,278.4 132.3,279.6 135.4,278.4 132.4,277.3z" fill="#600000"/>
<path d="M132.4,277.3 135.4,278.4 138.6,277.3 135.5,276.1z" fill="#5f0000"/>
<path d="M135.5,276.1 138.6,277.3 141.7,276.1 138.6,274.9z" fill="#5e0000"/>
<path d="M138.6,274.9 141.7,276.1 144.8,274.9 141.8,273.8z" fill="#5d0000"/>
<path d="M141.8,273.8 144.8,274.9 147.9,273.8 144.9,272.6z" fill="#5c0000"/>
<path d="M144.9,272.6 147.9,273.8 151.1,272.6 148,271.4z" fill="#5b0000"/>
<path d="M148,271.4 151.1,272.6 154.2,271.4 151.2,270.3z" fill="#5a0000"/>
<path d="M151.2,270.3 154.2,271.4 157.3,270.3 154.3,269.1z" fill="#5a0000"/>
<path d="M154.3,269.1 157.3,270.3 160.4,269.1 157.4,267.9z" fill="#5a0000"/>
<path d="M60.4,306.4 63.5,307.6 66.6,306.4 63.6,305.2z" fill="#1d7400"/>
<path d="M63.6,305.2 66.6,306.4 69.8,305.2 66.7,304.1z" fill="#1d7400"/>
<path d="M66.7,304.1 69.8,305.2 72.9,304.1 69.8,302.9z" fill="#297400"/>
<path d="M69.8,302.9 72.9,304.1 76,302.9 72.9,301.7z" fill="#4c7300"/>
<path d="M72.9,301.7 76,302.9 79.1,301.7 76.1,300.6z" fill="#687200"/>
<path d="M76.1,300.6 79.1,301.7 82.3,300.6 79.2,299.4z" fill="#716300"/>
<path d="M79.2,299.4 82.3,300.6 85.4,299.4 82.3,298.3z" fill="#704e00"/>
<path d="M82.3,298.3 85.4,299.4 88.5,298.2 85.4,297.1z" fill="#6f3d00"/>
<path d="M85.4,297.1 88.5,298.2 91.6,297.1 88.6,295.9z" fill="#6e2f00"/>
<path d="M88.6,295.9 91.6,297.1 94.8,295.9 91.7,294.8z" fill="#6d2400"/>
<path d="M91.7,294.8 94.8,295.9 97.9,294.7 94.8,293.6z" fill="#6d1b00"/>
<path d="M94.8,293.6 97.9,294.7 101,293.6 97.9,292.4z" fill="#6c1400"/>
<path d="M97.9,292.4 101,293.6 104.1,292.4 101.1,291.3z" fill="#6b0f00"/>
<path d="M101.1,291.3 104.1,292.4 107.2,291.2 104.2,290.1z" fill="#6a0b00"/>
<path d="M104.2,290.1 107.2,291.2 110.4,290.1 107.3,288.9z" fill="#690800"/>
<path d="M107.3,288.9 110.4,290.1 113.5,288.9 110.4,287.8z" fill="#680500"/>
<path d="M110.4,287.8 113.5,288.9 116.6,287.7 113.6,286.6z" fill="#670400"/>
<path d="M113.6,286.6 116.6,287.7 119.7,286.6 116.7,285.4z" fill="#660200"/>
<path d="M116.7,285.4 119.7,286.6 122.9,285.4 119.8,284.3z" fill="#650200"/>
<path d="M119.8,284.3 122.9,285.4 126,284.2 122.9,283.1z" fill="#640100"/>
<path d="M122.9,283.1 126,284.2 129.1,283.1 126.1,281.9z" fill="#630100"/>
<path d="M126.1,281.9 129.1,283.1 132.2,281.9 129.2,280.8z" fill="#620100"/>
<path d="M129.2,280.8 132.2,281.9 135.4,280.7 132.3,279.6z" fill="#610000"/>
<path d="M132.3,279.6 135.4,280.7 138.5,279.6 135.4,278.4z" fill="#600000"/>
<path d="M135.4,278.4 138.5,279.6 141.6,278.4 138.6,277.3z" fill="#5f0000"/>
<path d="M138.6,277.3 141.6,278.4 144.7,277.2 141.7,276.1z" fill="#5e0000"/>
<path d="M141.7,276.1 144.7,277.2 147.9,276.1 144.8,274.9z" fill="#5d0000"/>
<path d="M144.8,274.9 147.9,276.1 151,274.9 147.9,273.8z" fill="#5c0000"/>
<path d="M147.9,273.8 151,274.9 154.1,273.7 151.1,272.6z" fill="#5b0000"/>
<path d="M151.1,272.6 154.1,273.7 157.2,272.6 154.2,271.4z" fill="#5a0000"/>
<path d="M154.2,271.4 157.2,272.6 160.3,271.4 157.3,270.3z" fill="#5a0000"/>
<path d="M157.3,270.3 160.3,271.4 163.5,270.2 160.4,269.1z" fill="#5a0000"/>
<path d="M63.5,307.6 66.6,308.7 69.7,307.5 66.6,306.4z" fill="#1c7400"/>
<path d="M66.6,306.4 69.7,307.5 72.9,306.4 69.8,305.2z" fill="#1c7400"/>
<path d="M69.8,305.2 72.9,306.4 76,305.2 72.9,304.1z" fill="#287400"/>
<path d="M72.9,304.1 76,305.2 79.1,304 76,302.9z" fill="#4a7300"/>
<path d="M76,302.9 79.1,304 82.2,302.9 79.1,301.7z" fill="#677200"/>
<path d="M79.1,301.7 82.2,302.9 85.3,301.7 82.3,300.6z" fill="#716400"/>
<path d="M82.3,300.6 85.3,301.7 88.5,300.5 85.4,299.4z" fill="#704f00"/>
<path d="M85.4,299.4 88.5,300.5 91.6,299.4 88.5,298.2z" fill="#6f3e00"/>
<path d="M88.5,298.2 91.6,299.4 94.7,298.2 91.6,297.1z" fill="#6e3000"/>
<path d="M91.6,297.1 94.7,298.2 97.8,297 94.8,295.9z" fill="#6d2500"/>
<path d="M94.8,295.9 97.8,297 100.9,295.9 97.9,294.7z" fill="#6c1c00"/>
<path d="M97.9,294.7 100.9,295.9 104.1,294.7 101,293.6z" fill="#6b1500"/>
<path d="M101,293.6 104.1,294.7 107.2,293.5 104.1,292.4z" fill="#6b0f00"/>
<path d="M104.1,292.4 107.2,293.5 110.3,292.4 107.2,291.2z" fill="#6a0b00"/>
<path d="M107.2,291.2 110.3,292.4 113.4,291.2 110.4,290.1z" fill="#690800"/>
<path d="M110.4,290.1 113.4,291.2 116.6,290 113.5,288.9z" fill="#680600"/>
<path d="M113.5,288.9 116.6,290 119.7,288.9 116.6,287.7z" fill="#670400"/>
<path d="M116.6,287.7 119.7,288.9 122.8,287.7 119.7,286.6z" fill="#660300"/>
<path d="M119.7,286.6 122.8,287.7 125.9,286.5 122.9,285.4z" fill="#650200"/>
<path d="M122.9,285.4 125.9,286.5 129,285.4 126,284.2z" fill="#640200"/>
<path d="M126,284.2 129,285.4 132.2,284.2 129.1,283.1z" fill="#630100"/>
<path d="M129.1,283.1 132.2,284.2 135.3,283.1 132.2,281.9z" fill="#620100"/>
<path d="M132.2,281.9 135.3,283.1 138.4,281.9 135.4,280.7z" fill="#610100"/>
<path d="M135.4,280.7 138.4,281.9 141.5,280.7 138.5,279.6z" fill="#600100"/>
<path d="M138.5,279.6 141.5,280.7 144.6,279.6 141.6,278.4z" fill="#5f0100"/>
<path d="M141.6,278.4 144.6,279.6 147.8,278.4 144.7,277.2z" fill="#5e0100"/>
<path d="M144.7,277.2 147.8,278.4 150.9,277.2 147.9,276.1z" fill="#5e0100"/>
<path d="M147.9,276.1 150.9,277.2 154,276.1 151,274.9z" fill="#5d0100"/>
<path d="M151,274.9 154,276.1 157.1,274.9 154.1,273.7z" fill="#5c0100"/>
<path d="M154.1,273.7 157.1,274.9 160.3,273.7 157.2,272.6z" fill="#5b0100"/>
<path d="M157.2,272.6 160.3,273.7 163.4,272.6 160.3,271.4z" fill="#5a0100"/>
<path d="M160.3,271.4 163.4,272.6 166.5,271.4 163.5,270.2z" fill="#5a0100"/>
<path d="M66.6,308.7 69.7,309.8 72.8,308.7 69.7,307.5z" fill="#1a7400"/>
<path d="M69.7,307.5 72.8,308.7 75.9,307.5 72.9,306.4z" fill="#1a7400"/>
<path d="M72.9,306.4 75.9,307.5 79.1,306.3 76,305.2z" fill="#267300"/>
<path d="M76,305.2 79.1,306.3 82.2,305.2 79.1,304z" fill="#497300"/>
<path d="M79.1,304 82.2,305.2 85.3,304 82.2,302.9z" fill="#657200"/>
<path d="M82.2,302.9 85.3,304 88.4,302.8 85.3,301.7z" fill="#716500"/>
<path d="M85.3,301.7 88.4,302.8 91.5,301.7 88.5,300.5z" fill="#705000"/>
<path d="M88.5,300.5 91.5,301.7 94.7,300.5 91.6,299.4z" fill="#6f3f00"/>
<path d="M91.6,299.4 94.7,300.5 97.8,299.3 94.7,298.2z" fill="#6e3100"/>
<path d="M94.7,298.2 97.8,299.3 100.9,298.2 97.8,297z" fill="#6d2600"/>
<path d="M97.8,297 100.9,298.2 104,297 100.9,295.9z" fill="#6c1d00"/>
<path d="M100.9,295.9 104,297 107.1,295.8 104.1,294.7z" fill="#6b1600"/>
<path d="M104.1,294.7 107.1,295.8 110.3,294.7 107.2,293.5z" fill="#6a1100"/>
<path d="M107.2,293.5 110.3,294.7 113.4,293.5 110.3,292.4z" fill="#6a0c00"/>
<path d="M110.3,292.4 113.4,293.5 116.5,292.4 113.4,291.2z" fill="#690900"/>
<path d="M113.4,291.2 116.5,292.4 119.6,291.2 116.6,290z" fill="#680700"/>
<path d="M116.6,290 119.6,291.2 122.7,290 119.7,288.9z" fill="#670500"/>
<path d="M119.7,288.9 122.7,290 125.9,288.9 122.8,287.7z" fill="#660400"/>
<path d="M122.8,287.7 125.9,288.9 129,287.7 125.9,286.5z" fill="#650300"/>
<path d="M125.9,286.5 129,287.7 132.1,286.5 129,285.4z" fill="#640300"/>
<path d="M129,285.4 132.1,286.5 135.2,285.4 132.2,284.2z" fill="#630200"/>
<path d="M132.2,284.2 135.2,285.4 138.3,284.2 135.3,283.1z" fill="#620200"/>
<path d="M135.3,283.1 138.3,284.2 141.5,283 138.4,281.9z" fill="#610200"/>
<path d="M138.4,281.9 141.5,283 144.6,281.9 141.5,280.7z" fill="#610200"/>
<path d="M141.5,280.7 144.6,281.9 147.7,280.7 144.6,279.6z" fill="#600200"/>
<path d="M144.6,279.6 147.7,280.7 150.8,279.5 147.8,278.4z" fill="#5f0100"/>
<path d="M147.8,278.4 150.8,279.5 153.9,278.4 150.9,277.2z" fill="#5e0100"/>
<path d="M150.9,277.2 153.9,278.4 157,277.2 154,276.1z" fill="#5d0100"/>
<path d="M154,276.1 157,277.2 160.2,276 157.1,274.9z" fill="#5c0100"/>
<path d="M157.1,274.9 160.2,276 163.3,274.9 160.3,273.7z" fill="#5b0100"/>
<path d="M160.3,273.7 163.3,274.9 166.4,273.7 163.4,272.6z" fill="#5b0100"/>
<path d="M163.4,272.6 166.4,273.7 169.5,272.6 166.5,271.4z" fill="#5b0100"/>
<path d="M69.7,309.8 72.8,311 75.9,309.8 72.8,308.7z" fill="#187300"/>
<path d="M72.8,308.7 75.9,309.8 79,308.6 75.9,307.5z" fill="#187300"/>
<path d="M75.9,307.5 79,308.6 82.1,307.5 79.1,306.3z" fill="#237300"/>
<path d="M79.1,306.3 82.1,307.5 85.3,306.3 82.2,305.2z" fill="#467200"/>
<path d="M82.2,305.2 85.3,306.3 88.4,305.1 85.3,304z" fill="#637100"/>
<path d="M85.3,304 88.4,305.1 91.5,304 88.4,302.8z" fill="#706700"/>
<path d="M88.4,302.8 91.5,304 94.6,302.8 91.5,301.7z" fill="#705200"/>
<path d="M91.5,301.7 94.6,302.8 97.7,301.6 94.7,300.5z" fill="#6f4100"/>
<path d="M94.7,300.5 97.7,301.6 100.8,300.5 97.8,299.3z" fill="#6e3300"/>
<path d="M97.8,299.3 100.8,300.5 104,299.3 100.9,298.2z" fill="#6d2800"/>
<path d="M100.9,298.2 104,299.3 107.1,298.2 104,297z" fill="#6c1f00"/>
<path d="M104,297 107.1,298.2 110.2,297 107.1,295.8z" fill="#6b1800"/>
<path d="M107.1,295.8 110.2,297 113.3,295.8 110.3,294.7z" fill="#6a1200"/>
<path d="M110.3,294.7 113.3,295.8 116.4,294.7 113.4,293.5z" fill="#690e00"/>
<path d="M113.4,293.5 116.4,294.7 119.6,293.5 116.5,292.4z" fill="#690b00"/>
<path d="M116.5,292.4 119.6,293.5 122.7,292.3 119.6,291.2z" fill="#680900"/>
<path d="M119.6,291.2 122.7,292.3 125.8,291.2 122.7,290z" fill="#670700"/>
<path d="M122.7,290 125.8,291.2 128.9,290 125.9,288.9z" fill="#660600"/>
<path d="M125.9,288.9 128.9,290 132,288.8 129,287.7z" fill="#650500"/>
<path d="M129,287.7 132,288.8 135.1,287.7 132.1,286.5z" fill="#640400"/>
<path d="M132.1,286.5 135.1,287.7 138.3,286.5 135.2,285.4z" fill="#630400"/>
<path d="M135.2,285.4 138.3,286.5 141.4,285.4 138.3,284.2z" fill="#620300"/>
<path d="M138.3,284.2 141.4,285.4 144.5,284.2 141.5,283z" fill="#620300"/>
<path d="M141.5,283 144.5,284.2 147.6,283 144.6,281.9z" fill="#610300"/>
<path d="M144.6,281.9 147.6,283 150.7,281.9 147.7,280.7z" fill="#600300"/>
<path d="M147.7,280.7 150.7,281.9 153.9,280.7 150.8,279.5z" fill="#5f0300"/>
<path d="M150.8,279.5 153.9,280.7 157,279.5 153.9,278.4z" fill="#5e0300"/>
<path d="M153.9,278.4 157,279.5 160.1,278.4 157,277.2z" fill="#5d0300"/>
<path d="M157,277.2 160.1,278.4 163.2,277.2 160.2,276z" fill="#5c0300"/>
<path d="M160.2,276 163.2,277.2 166.3,276 163.3,274.9z" fill="#5b0200"/>
<path d="M163.3,274.9 166.3,276 169.4,274.9 166.4,273.7z" fill="#5b0200"/>
<path d="M166.4,273.7 169.4,274.9 172.6,273.7 169.5,272.6z" fill="#5b0200"/>
<path d="M72.8,311 75.9,312.1 79,310.9 75.9,309.8z" fill="#157300"/>
<path d="M75.9,309.8 79,310.9 82.1,309.8 79,308.6z" fill="#157300"/>
<path d="M79,308.6 82.1,309.8 85.2,308.6 82.1,307.5z" fill="#207300"/>
<path d="M82.1,307.5 85.2,308.6 88.3,307.4 85.3,306.3z" fill="#437200"/>
<path d="M85.3,306.3 88.3,307.4 91.5,306.3 88.4,305.1z" fill="#607100"/>
<path d="M88.4,305.1 91.5,306.3 94.6,305.1 91.5,304z" fill="#706900"/>
<path d="M91.5,304 94.6,305.1 97.7,304 94.6,302.8z" fill="#6f5400"/>
<path d="M94.6,302.8 97.7,304 100.8,302.8 97.7,301.6z" fill="#6e4300"/>
<path d="M97.7,301.6 100.8,302.8 103.9,301.6 100.8,300.5z" fill="#6e3500"/>
<path d="M100.8,300.5 103.9,301.6 107,300.5 104,299.3z" fill="#6d2a00"/>
<path d="M104,299.3 107,300.5 110.2,299.3 107.1,298.2z" fill="#6c2100"/>
<path d="M107.1,298.2 110.2,299.3 113.3,298.1 110.2,297z" fill="#6b1a00"/>
<path d="M110.2,297 113.3,298.1 116.4,297 113.3,295.8z" fill="#6a1500"/>
<path d="M113.3,295.8 116.4,297 119.5,295.8 116.4,294.7z" fill="#691000"/>
<path d="M116.4,294.7 119.5,295.8 122.6,294.6 119.6,293.5z" fill="#690d00"/>
<path d="M119.6,293.5 122.6,294.6 125.7,293.5 122.7,292.3z" fill="#680b00"/>
<path d="M122.7,292.3 125.7,293.5 128.8,292.3 125.8,291.2z" fill="#670900"/>
<path d="M125.8,291.2 128.8,292.3 132,291.2 128.9,290z" fill="#660800"/>
<path d="M128.9,290 132,291.2 135.1,290 132,288.8z" fill="#650700"/>
<path d="M132,288.8 135.1,290 138.2,288.8 135.1,287.7z" fill="#640600"/>
<path d="M135.1,287.7 138.2,288.8 141.3,287.7 138.3,286.5z" fill="#630600"/>
<path d="M138.3,286.5 141.3,287.7 144.4,286.5 141.4,285.4z" fill="#630500"/>
<path d="M141.4,285.4 144.4,286.5 147.5,285.3 144.5,284.2z" fill="#620500"/>
<path d="M144.5,284.2 147.5,285.3 150.7,284.2 147.6,283z" fill="#610500"/>
<path d="M147.6,283 150.7,284.2 153.8,283 150.7,281.9z" fill="#600500"/>
<path d="M150.7,281.9 153.8,283 156.9,281.8 153.9,280.7z" fill="#5f0400"/>
<path d="M153.9,280.7 156.9,281.8 160,280.7 157,279.5z" fill="#5e0400"/>
<path d="M157,279.5 160,280.7 163.1,279.5 160.1,278.4z" fill="#5e0400"/>
<path d="M160.1,278.4 163.1,279.5 166.2,278.4 163.2,277.2z" fill="#5d0400"/>
<path d="M163.2,277.2 166.2,278.4 169.4,277.2 166.3,276z" fill="#5c0400"/>
<path d="M166.3,276 169.4,277.2 172.5,276 169.4,274.9z" fill="#5c0400"/>
<path d="M169.4,274.9 172.5,276 175.6,274.9 172.6,273.7z" fill="#5c0400"/>
<path d="M75.9,312.1 79,313.2 82.1,312.1 79,310.9z" fill="#117300"/>
<path d="M79,310.9 82.1,312.1 85.2,310.9 82.1,309.8z" fill="#117300"/>
<path d="M82.1,309.8 85.2,310.9 88.3,309.7 85.2,308.6z" fill="#1c7200"/>
<path d="M85.2,308.6 88.3,309.7 91.4,308.6 88.3,307.4z" fill="#3f7200"/>
<path d="M88.3,307.4 91.4,308.6 94.5,307.4 91.5,306.3z" fill="#5b7100"/>
<path d="M91.5,306.3 94.5,307.4 97.7,306.3 94.6,305.1z" fill="#706d00"/>
<path d="M94.6,305.1 97.7,306.3 100.8,305.1 97.7,304z" fill="#6f5800"/>
<path d="M97.7,304 100.8,305.1 103.9,303.9 100.8,302.8z" fill="#6e4700"/>
<path d="M100.8,302.8 103.9,303.9 107,302.8 103.9,301.6z" fill="#6d3900"/>
<path d="M103.9,301.6 107,302.8 110.1,301.6 107,300.5z" fill="#6d2d00"/>
<path d="M107,300.5 110.1,301.6 113.2,300.4 110.2,299.3z" fill="#6c2400"/>
<path d="M110.2,299.3 113.2,300.4 116.3,299.3 113.3,298.1z" fill="#6b1d00"/>
<path d="M113.3,298.1 116.3,299.3 119.5,298.1 116.4,297z" fill="#6a1800"/>
<path d="M116.4,297 119.5,298.1 122.6,297 119.5,295.8z" fill="#691300"/>
<path d="M119.5,295.8 122.6,297 125.7,295.8 122.6,294.6z" fill="#691000"/>
<path d="M122.6,294.6 125.7,295.8 128.8,294.6 125.7,293.5z" fill="#680e00"/>
<path d="M125.7,293.5 128.8,294.6 131.9,293.5 128.8,292.3z" fill="#670c00"/>
<path d="M128.8,292.3 131.9,293.5 135,292.3 132,291.2z" fill="#660a00"/>
<path d="M132,291.2 135,292.3 138.1,291.1 135.1,290z" fill="#650900"/>
<path d="M135.1,290 138.1,291.1 141.2,290 138.2,288.8z" fill="#640900"/>
<path d="M138.2,288.8 141.2,290 144.4,288.8 141.3,287.7z" fill="#640800"/>
<path d="M141.3,287.7 144.4,288.8 147.5,287.6 144.4,286.5z" fill="#630800"/>
<path d="M144.4,286.5 147.5,287.6 150.6,286.5 147.5,285.3z" fill="#620800"/>
<path d="M147.5,285.3 150.6,286.5 153.7,285.3 150.7,284.2z" fill="#610700"/>
<path d="M150.7,284.2 153.7,285.3 156.8,284.2 153.8,283z" fill="#600700"/>
<path d="M153.8,283 156.8,284.2 159.9,283 156.9,281.8z" fill="#5f0700"/>
<path d="M156.9,281.8 159.9,283 163,281.8 160,280.7z" fill="#5f0700"/>
<path d="M160,280.7 163,281.8 166.2,280.7 163.1,279.5z" fill="#5e0700"/>
<path d="M163.1,279.5 166.2,280.7 169.3,279.5 166.2,278.4z" fill="#5d0700"/>
<path d="M166.2,278.4 169.3,279.5 172.4,278.3 169.4,277.2z" fill="#5c0700"/>
<path d="M169.4,277.2 172.4,278.3 175.5,277.2 172.5,276z" fill="#5c0700"/>
<path d="M172.5,276 175.5,277.2 178.6,276 175.6,274.9z" fill="#5c0700"/>
<path d="M79,313.2 82.1,314.4 85.2,313.2 82.1,312.1z" fill="#0c7200"/>
<path d="M82.1,312.1 85.2,313.2 88.3,312 85.2,310.9z" fill="#0c7200"/>
<path d="M85.2,310.9 88.3,312 91.4,310.9 88.3,309.7z" fill="#177200"/>
<path d="M88.3,309.7 91.4,310.9 94.5,309.7 91.4,308.6z" fill="#3a7100"/>
<path d="M91.4,308.6 94.5,309.7 97.6,308.6 94.5,307.4z" fill="#567000"/>
<path d="M94.5,307.4 97.6,308.6 100.7,307.4 97.7,306.3z" fill="#6e7000"/>
<path d="M97.7,306.3 100.7,307.4 103.8,306.2 100.8,305.1z" fill="#6f5c00"/>
<path d="M100.8,305.1 103.8,306.2 107,305.1 103.9,303.9z" fill="#6e4b00"/>
<path d="M103.9,303.9 107,305.1 110.1,303.9 107,302.8z" fill="#6d3d00"/>
<path d="M107,302.8 110.1,303.9 113.2,302.7 110.1,301.6z" fill="#6c3200"/>
<path d="M110.1,301.6 113.2,302.7 116.3,301.6 113.2,300.4z" fill="#6c2900"/>
<path d="M113.2,300.4 116.3,301.6 119.4,300.4 116.3,299.3z" fill="#6b2100"/>
<path d="M116.3,299.3 119.4,300.4 122.5,299.3 119.5,298.1z" fill="#6a1c00"/>
<path d="M119.5,298.1 122.5,299.3 125.6,298.1 122.6,297z" fill="#691700"/>
<path d="M122.6,297 125.6,298.1 128.7,296.9 125.7,295.8z" fill="#681400"/>
<path d="M125.7,295.8 128.7,296.9 131.9,295.8 128.8,294.6z" fill="#681200"/>
<path d="M128.8,294.6 131.9,295.8 135,294.6 131.9,293.5z" fill="#671000"/>
<path d="M131.9,293.5 135,294.6 138.1,293.4 135,292.3z" fill="#660e00"/>
<path d="M135,292.3 138.1,293.4 141.2,292.3 138.1,291.1z" fill="#650d00"/>
<path d="M138.1,291.1 141.2,292.3 144.3,291.1 141.2,290z" fill="#640c00"/>
<path d="M141.2,290 144.3,291.1 147.4,290 144.4,288.8z" fill="#640c00"/>
<path d="M144.4,288.8 147.4,290 150.5,288.8 147.5,287.6z" fill="#630b00"/>
<path d="M147.5,287.6 150.5,288.8 153.6,287.6 150.6,286.5z" fill="#620b00"/>
<path d="M150.6,286.5 153.6,287.6 156.8,286.5 153.7,285.3z" fill="#610b00"/>
<path d="M153.7,285.3 156.8,286.5 159.9,285.3 156.8,284.2z" fill="#610a00"/>
<path d="M156.8,284.2 159.9,285.3 163,284.1 159.9,283z" fill="#600a00"/>
<path d="M159.9,283 163,284.1 166.1,283 163,281.8z" fill="#5f0a00"/>
<path d="M163,281.8 166.1,283 169.2,281.8 166.2,280.7z" fill="#5e0a00"/>
<path d="M166.2,280.7 169.2,281.8 172.3,280.7 169.3,279.5z" fill="#5d0a00"/>
<path d="M169.3,279.5 172.3,280.7 175.4,279.5 172.4,278.3z" fill="#5d0a00"/>
<path d="M172.4,278.3 175.4,279.5 178.5,278.3 175.5,277.2z" fill="#5c0a00"/>
<path d="M175.5,277.2 178.5,278.3 181.6,277.2 178.6,276z" fill="#5c0a00"/>
<path d="M82.1,314.4 85.1,315.5 88.3,314.3 85.2,313.2z" fill="#057200"/>
<path d="M85.2,313.2 88.3,314.3 91.4,313.2 88.3,312z" fill="#057200"/>
<path d="M88.3,312 91.4,313.2 94.5,312 91.4,310.9z" fill="#117200"/>
<path d="M91.4,310.9 94.5,312 97.6,310.9 94.5,309.7z" fill="#337100"/>
<path d="M94.5,309.7 97.6,310.9 100.7,309.7 97.6,308.6z" fill="#507000"/>
<path d="M97.6,308.6 100.7,309.7 103.8,308.5 100.7,307.4z" fill="#686f00"/>
<path d="M100.7,307.4 103.8,308.5 106.9,307.4 103.8,306.2z" fill="#6f6200"/>
<path d="M103.8,306.2 106.9,307.4 110,306.2 107,305.1z" fill="#6e5000"/>
<path d="M107,305.1 110,306.2 113.1,305.1 110.1,303.9z" fill="#6d4200"/>
<path d="M110.1,303.9 113.1,305.1 116.2,303.9 113.2,302.7z" fill="#6c3700"/>
<path d="M113.2,302.7 116.2,303.9 119.4,302.7 116.3,301.6z" fill="#6b2e00"/>
<path d="M116.3,301.6 119.4,302.7 122.5,301.6 119.4,300.4z" fill="#6b2700"/>
<path d="M119.4,300.4 122.5,301.6 125.6,300.4 122.5,299.3z" fill="#6a2100"/>
<path d="M122.5,299.3 125.6,300.4 128.7,299.2 125.6,298.1z" fill="#691c00"/>
<path d="M125.6,298.1 128.7,299.2 131.8,298.1 128.7,296.9z" fill="#681900"/>
<path d="M128.7,296.9 131.8,298.1 134.9,296.9 131.9,295.8z" fill="#681600"/>
<path d="M131.9,295.8 134.9,296.9 138,295.8 135,294.6z" fill="#671400"/>
<path d="M135,294.6 138,295.8 141.1,294.6 138.1,293.4z" fill="#661300"/>
<path d="M138.1,293.4 141.1,294.6 144.2,293.4 141.2,292.3z" fill="#651200"/>
<path d="M141.2,292.3 144.2,293.4 147.4,292.3 144.3,291.1z" fill="#651100"/>
<path d="M144.3,291.1 147.4,292.3 150.5,291.1 147.4,290z" fill="#641000"/>
<path d="M147.4,290 150.5,291.1 153.6,289.9 150.5,288.8z" fill="#631000"/>
<path d="M150.5,288.8 153.6,289.9 156.7,288.8 153.6,287.6z" fill="#620f00"/>
<path d="M153.6,287.6 156.7,288.8 159.8,287.6 156.8,286.5z" fill="#620f00"/>
<path d="M156.8,286.5 159.8,287.6 162.9,286.5 159.9,285.3z" fill="#610f00"/>
<path d="M159.9,285.3 162.9,286.5 166,285.3 163,284.1z" fill="#600e00"/>
<path d="M163,284.1 166,285.3 169.1,284.1 166.1,283z" fill="#5f0e00"/>
<path d="M166.1,283 169.1,284.1 172.2,283 169.2,281.8z" fill="#5e0e00"/>
<path d="M169.2,281.8 172.2,283 175.3,281.8 172.3,280.7z" fill="#5e0e00"/>
<path d="M172.3,280.7 175.3,281.8 178.5,280.6 175.4,279.5z" fill="#5d0e00"/>
<path d="M175.4,279.5 178.5,280.6 181.6,279.5 178.5,278.3z" fill="#5d0e00"/>
<path d="M178.5,278.3 181.6,279.5 184.7,278.3 181.6,277.2z" fill="#5d0e00"/>
<path d="M85.1,315.5 88.2,316.6 91.3,315.5 88.3,314.3z" fill="#007102"/>
<path d="M88.3,314.3 91.3,315.5 94.5,314.3 91.4,313.2z" fill="#007102"/>
<path d="M91.4,313.2 94.5,314.3 97.6,313.2 94.5,312z" fill="#097100"/>
<path d="M94.5,312 97.6,313.2 100.7,312 97.6,310.9z" fill="#2c7100"/>
<path d="M97.6,310.9 100.7,312 103.8,310.8 100.7,309.7z" fill="#497000"/>
<path d="M100.7,309.7 103.8,310.8 106.9,309.7 103.8,308.5z" fill="#616f00"/>
<path d="M103.8,308.5 106.9,309.7 110,308.5 106.9,307.4z" fill="#6e6800"/>
<path d="M106.9,307.4 110,308.5 113.1,307.4 110,306.2z" fill="#6e5700"/>
<path d="M110,306.2 113.1,307.4 116.2,306.2 113.1,305.1z" fill="#6d4900"/>
<path d="M113.1,305.1 116.2,306.2 119.3,305 116.2,303.9z" fill="#6c3d00"/>
<path d="M116.2,303.9 119.3,305 122.4,303.9 119.4,302.7z" fill="#6b3400"/>
<path d="M119.4,302.7 122.4,303.9 125.5,302.7 122.5,301.6z" fill="#6b2d00"/>
<path d="M122.5,301.6 125.5,302.7 128.6,301.5 125.6,300.4z" fill="#6a2700"/>
<path d="M125.6,300.4 128.6,301.5 131.8,300.4 128.7,299.2z" fill="#692200"/>
<path d="M128.7,299.2 131.8,300.4 134.9,299.2 131.8,298.1z" fill="#681f00"/>
<path d="M131.8,298.1 134.9,299.2 138,298.1 134.9,296.9z" fill="#681c00"/>
<path d="M134.9,296.9 138,298.1 141.1,296.9 138,295.8z" fill="#671a00"/>
<path d="M138,295.8 141.1,296.9 144.2,295.7 141.1,294.6z" fill="#661800"/>
<path d="M141.1,294.6 144.2,295.7 147.3,294.6 144.2,293.4z" fill="#651700"/>
<path d="M144.2,293.4 147.3,294.6 150.4,293.4 147.4,292.3z" fill="#651600"/>
<path d="M147.4,292.3 150.4,293.4 153.5,292.3 150.5,291.1z" fill="#641600"/>
<path d="M150.5,291.1 153.5,292.3 156.6,291.1 153.6,289.9z" fill="#631500"/>
<path d="M153.6,289.9 156.6,291.1 159.7,289.9 156.7,288.8z" fill="#621500"/>
<path d="M156.7,288.8 159.7,289.9 162.8,288.8 159.8,287.6z" fill="#621400"/>
<path d="M159.8,287.6 162.8,288.8 165.9,287.6 162.9,286.5z" fill="#611400"/>
<path d="M162.9,286.5 165.9,287.6 169.1,286.4 166,285.3z" fill="#601400"/>
<path d="M166,285.3 169.1,286.4 172.2,285.3 169.1,284.1z" fill="#5f1300"/>
<path d="M169.1,284.1 172.2,285.3 175.3,284.1 172.2,283z" fill="#5f1300"/>
<path d="M172.2,283 175.3,284.1 178.4,283 175.3,281.8z" fill="#5e1300"/>
<path d="M175.3,281.8 178.4,283 181.5,281.8 178.5,280.6z" fill="#5d1300"/>
<path d="M178.5,280.6 181.5,281.8 184.6,280.6 181.6,279.5z" fill="#5d1300"/>
<path d="M181.6,279.5 184.6,280.6 187.7,279.5 184.7,278.3z" fill="#5d1300"/>
<path d="M88.2,316.6 91.3,317.8 94.4,316.6 91.3,315.5z" fill="#00710b"/>
<path d="M91.3,315.5 94.4,316.6 97.5,315.5 94.5,314.3z" fill="#00710b"/>
<path d="M94.5,314.3 97.5,315.5 100.6,314.3 97.6,313.2z" fill="#017100"/>
<path d="M97.6,313.2 100.6,314.3 103.8,313.1 100.7,312z" fill="#237000"/>
<path d="M100.7,312 103.8,313.1 106.9,312 103.8,310.8z" fill="#406f00"/>
<path d="M103.8,310.8 106.9,312 110,310.8 106.9,309.7z" fill="#586f00"/>
<path d="M106.9,309.7 110,310.8 113.1,309.7 110,308.5z" fill="#6c6e00"/>
<path d="M110,308.5 113.1,309.7 116.2,308.5 113.1,307.4z" fill="#6d5f00"/>
<path d="M113.1,307.4 116.2,308.5 119.3,307.3 116.2,306.2z" fill="#6d5100"/>
<path d="M116.2,306.2 119.3,307.3 122.4,306.2 119.3,305z" fill="#6c4500"/>
<path d="M119.3,305 122.4,306.2 125.5,305 122.4,303.9z" fill="#6b3c00"/>
<path d="M122.4,303.9 125.5,305 128.6,303.9 125.5,302.7z" fill="#6a3400"/>
<path d="M125.5,302.7 128.6,303.9 131.7,302.7 128.6,301.5z" fill="#6a2e00"/>
<path d="M128.6,301.5 131.7,302.7 134.8,301.5 131.8,300.4z" fill="#692a00"/>
<path d="M131.8,300.4 134.8,301.5 137.9,300.4 134.9,299.2z" fill="#682600"/>
<path d="M134.9,299.2 137.9,300.4 141,299.2 138,298.1z" fill="#682300"/>
<path d="M138,298.1 141,299.2 144.1,298 141.1,296.9z" fill="#672100"/>
<path d="M141.1,296.9 144.1,298 147.2,296.9 144.2,295.7z" fill="#661f00"/>
<path d="M144.2,295.7 147.2,296.9 150.4,295.7 147.3,294.6z" fill="#651e00"/>
<path d="M147.3,294.6 150.4,295.7 153.5,294.6 150.4,293.4z" fill="#651d00"/>
<path d="M150.4,293.4 153.5,294.6 156.6,293.4 153.5,292.3z" fill="#641c00"/>
<path d="M153.5,292.3 156.6,293.4 159.7,292.2 156.6,291.1z" fill="#631c00"/>
<path d="M156.6,291.1 159.7,292.2 162.8,291.1 159.7,289.9z" fill="#631b00"/>
<path d="M159.7,289.9 162.8,291.1 165.9,289.9 162.8,288.8z" fill="#621b00"/>
<path d="M162.8,288.8 165.9,289.9 169,288.8 165.9,287.6z" fill="#611a00"/>
<path d="M165.9,287.6 169,288.8 172.1,287.6 169.1,286.4z" fill="#601a00"/>
<path d="M169.1,286.4 172.1,287.6 175.2,286.4 172.2,285.3z" fill="#601900"/>
<path d="M172.2,285.3 175.2,286.4 178.3,285.3 175.3,284.1z" fill="#5f1900"/>
<path d="M175.3,284.1 178.3,285.3 181.4,284.1 178.4,283z" fill="#5e1900"/>
<path d="M178.4,283 181.4,284.1 184.5,283 181.5,281.8z" fill="#5e1900"/>
<path d="M181.5,281.8 184.5,283 187.6,281.8 184.6,280.6z" fill="#5d1900"/>
<path d="M184.6,280.6 187.6,281.8 190.7,280.6 187.7,279.5z" fill="#5d1900"/>
<path d="M91.3,317.8 94.4,318.9 97.5,317.8 94.4,316.6z" fill="#007115"/>
<path d="M94.4,316.6 97.5,317.8 100.6,316.6 97.5,315.5z" fill="#007115"/>
<path d="M97.5,315.5 100.6,316.6 103.7,315.4 100.6,314.3z" fill="#00710a"/>
<path d="M100.6,314.3 103.7,315.4 106.8,314.3 103.8,313.1z" fill="#197000"/>
<path d="M103.8,313.1 106.8,314.3 109.9,313.1 106.9,312z" fill="#366f00"/>
<path d="M106.9,312 109.9,313.1 113,312 110,310.8z" fill="#4e6e00"/>
<path d="M110,310.8 113,312 116.1,310.8 113.1,309.7z" fill="#626e00"/>
<path d="M113.1,309.7 116.1,310.8 119.3,309.6 116.2,308.5z" fill="#6d6800"/>
<path d="M116.2,308.5 119.3,309.6 122.4,308.5 119.3,307.3z" fill="#6c5a00"/>
<path d="M119.3,307.3 122.4,308.5 125.5,307.3 122.4,306.2z" fill="#6c4e00"/>
<path d="M122.4,306.2 125.5,307.3 128.6,306.2 125.5,305z" fill="#6b4500"/>
<path d="M125.5,305 128.6,306.2 131.7,305 128.6,303.9z" fill="#6a3d00"/>
<path d="M128.6,303.9 131.7,305 134.8,303.8 131.7,302.7z" fill="#6a3700"/>
<path d="M131.7,302.7 134.8,303.8 137.9,302.7 134.8,301.5z" fill="#693200"/>
<path d="M134.8,301.5 137.9,302.7 141,301.5 137.9,300.4z" fill="#682f00"/>
<path d="M137.9,300.4 141,301.5 144.1,300.4 141,299.2z" fill="#682c00"/>
<path d="M141,299.2 144.1,300.4 147.2,299.2 144.1,298z" fill="#672900"/>
<path d="M144.1,298 147.2,299.2 150.3,298 147.2,296.9z" fill="#662800"/>
<path d="M147.2,296.9 150.3,298 153.4,296.9 150.4,295.7z" fill="#662600"/>
<path d="M150.4,295.7 153.4,296.9 156.5,295.7 153.5,294.6z" fill="#652500"/>
<path d="M153.5,294.6 156.5,295.7 159.6,294.6 156.6,293.4z" fill="#642400"/>
<path d="M156.6,293.4 159.6,294.6 162.7,293.4 159.7,292.2z" fill="#632300"/>
<path d="M159.7,292.2 162.7,293.4 165.8,292.2 162.8,291.1z" fill="#632300"/>
<path d="M162.8,291.1 165.8,292.2 168.9,291.1 165.9,289.9z" fill="#622200"/>
<path d="M165.9,289.9 168.9,291.1 172,289.9 169,288.8z" fill="#612200"/>
<path d="M169,288.8 172,289.9 175.1,288.7 172.1,287.6z" fill="#612100"/>
<path d="M172.1,287.6 175.1,288.7 178.2,287.6 175.2,286.4z" fill="#602100"/>
<path d="M175.2,286.4 178.2,287.6 181.3,286.4 178.3,285.3z" fill="#5f2100"/>
<path d="M178.3,285.3 181.3,286.4 184.5,285.3 181.4,284.1z" fill="#5f2000"/>
<path d="M181.4,284.1 184.5,285.3 187.6,284.1 184.5,283z" fill="#5e2000"/>
<path d="M184.5,283 187.6,284.1 190.7,282.9 187.6,281.8z" fill="#5e2000"/>
<path d="M187.6,281.8 190.7,282.9 193.8,281.8 190.7,280.6z" fill="#5e2000"/>
<path d="M94.4,318.9 97.5,320.1 100.6,318.9 97.5,317.8z" fill="#007021"/>
<path d="M97.5,317.8 100.6,318.9 103.7,317.7 100.6,316.6z" fill="#007021"/>
<path d="M100.6,316.6 103.7,317.7 106.8,316.6 103.7,315.4z" fill="#007015"/>
<path d="M103.7,315.4 106.8,316.6 109.9,315.4 106.8,314.3z" fill="#0e7000"/>
<path d="M106.8,314.3 109.9,315.4 113,314.3 109.9,313.1z" fill="#2b6f00"/>
<path d="M109.9,313.1 113,314.3 116.1,313.1 113,312z" fill="#436e00"/>
<path d="M113,312 116.1,313.1 119.2,311.9 116.1,310.8z" fill="#576e00"/>
<path d="M116.1,310.8 119.2,311.9 122.3,310.8 119.3,309.6z" fill="#676d00"/>
<path d="M119.3,309.6 122.3,310.8 125.4,309.6 122.4,308.5z" fill="#6c6400"/>
<path d="M122.4,308.5 125.4,309.6 128.5,308.5 125.5,307.3z" fill="#6c5900"/>
<path d="M125.5,307.3 128.5,308.5 131.6,307.3 128.6,306.2z" fill="#6b4f00"/>
<path d="M128.6,306.2 131.6,307.3 134.7,306.1 131.7,305z" fill="#6a4700"/>
<path d="M131.7,305 134.7,306.1 137.8,305 134.8,303.8z" fill="#6a4100"/>
<path d="M134.8,303.8 137.8,305 140.9,303.8 137.9,302.7z" fill="#693c00"/>
<path d="M137.9,302.7 140.9,303.8 144,302.7 141,301.5z" fill="#683900"/>
<path d="M141,301.5 144,302.7 147.1,301.5 144.1,300.4z" fill="#683500"/>
<path d="M144.1,300.4 147.1,301.5 150.3,300.3 147.2,299.2z" fill="#673300"/>
<path d="M147.2,299.2 150.3,300.3 153.4,299.2 150.3,298z" fill="#663100"/>
<path d="M150.3,298 153.4,299.2 156.5,298 153.4,296.9z" fill="#663000"/>
<path d="M153.4,296.9 156.5,298 159.6,296.9 156.5,295.7z" fill="#652e00"/>
<path d="M156.5,295.7 159.6,296.9 162.7,295.7 159.6,294.6z" fill="#642d00"/>
<path d="M159.6,294.6 162.7,295.7 165.8,294.5 162.7,293.4z" fill="#642d00"/>
<path d="M162.7,293.4 165.8,294.5 168.9,293.4 165.8,292.2z" fill="#632c00"/>
<path d="M165.8,292.2 168.9,293.4 172,292.2 168.9,291.1z" fill="#622b00"/>
<path d="M168.9,291.1 172,292.2 175.1,291.1 172,289.9z" fill="#622b00"/>
<path d="M172,289.9 175.1,291.1 178.2,289.9 175.1,288.7z" fill="#612a00"/>
<path d="M175.1,288.7 178.2,289.9 181.3,288.7 178.2,287.6z" fill="#602a00"/>
<path d="M178.2,287.6 181.3,288.7 184.4,287.6 181.3,286.4z" fill="#602900"/>
<path d="M181.3,286.4 184.4,287.6 187.5,286.4 184.5,285.3z" fill="#5f2900"/>
<path d="M184.5,285.3 187.5,286.4 190.6,285.3 187.6,284.1z" fill="#5e2900"/>
<path d="M187.6,284.1 190.6,285.3 193.7,284.1 190.7,282.9z" fill="#5e2800"/>
<path d="M190.7,282.9 193.7,284.1 196.8,282.9 193.8,281.8z" fill="#5e2800"/>
<path d="M97.5,320.1 100.6,321.2 103.7,320 100.6,318.9z" fill="#00702e"/>
<path d="M100.6,318.9 103.7,320 106.8,318.9 103.7,317.7z" fill="#00702e"/>
<path d="M103.7,317.7 106.8,318.9 109.9,317.7 106.8,316.6z" fill="#007023"/>
<path d="M106.8,316.6 109.9,317.7 113,316.6 109.9,315.4z" fill="#006f00"/>
<path d="M109.9,315.4 113,316.6 116.1,315.4 113,314.3z" fill="#1e6f00"/>
<path d="M113,314.3 116.1,315.4 119.2,314.2 116.1,313.1z" fill="#366e00"/>
<path d="M116.1,313.1 119.2,314.2 122.3,313.1 119.2,311.9z" fill="#4a6d00"/>
<path d="M119.2,311.9 122.3,313.1 125.4,311.9 122.3,310.8z" fill="#5a6d00"/>
<path d="M122.3,310.8 125.4,311.9 128.5,310.8 125.4,309.6z" fill="#686c00"/>
<path d="M125.4,309.6 128.5,310.8 131.6,309.6 128.5,308.5z" fill="#6b6500"/>
<path d="M128.5,308.5 131.6,309.6 134.7,308.4 131.6,307.3z" fill="#6b5b00"/>
<path d="M131.6,307.3 134.7,308.4 137.8,307.3 134.7,306.1z" fill="#6a5300"/>
<path d="M134.7,306.1 137.8,307.3 140.9,306.1 137.8,305z" fill="#694d00"/>
<path d="M137.8,305 140.9,306.1 144,305 140.9,303.8z" fill="#694800"/>
<path d="M140.9,303.8 144,305 147.1,303.8 144,302.7z" fill="#684400"/>
<path d="M144,302.7 147.1,303.8 150.2,302.6 147.1,301.5z" fill="#684100"/>
<path d="M147.1,301.5 150.2,302.6 153.3,301.5 150.3,300.3z" fill="#673e00"/>
<path d="M150.3,300.3 153.3,301.5 156.4,300.3 153.4,299.2z" fill="#663c00"/>
<path d="M153.4,299.2 156.4,300.3 159.5,299.2 156.5,298z" fill="#663b00"/>
<path d="M156.5,298 159.5,299.2 162.6,298 159.6,296.9z" fill="#653900"/>
<path d="M159.6,296.9 162.6,298 165.7,296.8 162.7,295.7z" fill="#643800"/>
<path d="M162.7,295.7 165.7,296.8 168.8,295.7 165.8,294.5z" fill="#643700"/>
<path d="M165.8,294.5 168.8,295.7 171.9,294.5 168.9,293.4z" fill="#633600"/>
<path d="M168.9,293.4 171.9,294.5 175,293.4 172,292.2z" fill="#633600"/>
<path d="M172,292.2 175,293.4 178.1,292.2 175.1,291.1z" fill="#623500"/>
<path d="M175.1,291.1 178.1,292.2 181.2,291.1 178.2,289.9z" fill="#613500"/>
<path d="M178.2,289.9 181.2,291.1 184.3,289.9 181.3,288.7z" fill="#613400"/>
<path d="M181.3,288.7 184.3,289.9 187.4,288.7 184.4,287.6z" fill="#603300"/>
<path d="M184.4,287.6 187.4,288.7 190.5,287.6 187.5,286.4z" fill="#5f3300"/>
<path d="M187.5,286.4 190.5,287.6 193.6,286.4 190.6,285.3z" fill="#5f3300"/>
<path d="M190.6,285.3 193.6,286.4 196.7,285.3 193.7,284.1z" fill="#5f3200"/>
<path d="M193.7,284.1 196.7,285.3 199.8,284.1 196.8,282.9z" fill="#5f3200"/>
<path d="M100.6,321.2 103.7,322.3 106.8,321.2 103.7,320z" fill="#00703d"/>
<path d="M103.7,320 106.8,321.2 109.9,320 106.8,318.9z" fill="#00703d"/>
<path d="M106.8,318.9 109.9,320 113,318.9 109.9,317.7z" fill="#006f32"/>
<path d="M109.9,317.7 113,318.9 116.1,317.7 113,316.6z" fill="#006f0f"/>
<path d="M113,316.6 116.1,317.7 119.2,316.5 116.1,315.4z" fill="#0f6e00"/>
<path d="M116.1,315.4 119.2,316.5 122.3,315.4 119.2,314.2z" fill="#276e00"/>
<path d="M119.2,314.2 122.3,315.4 125.4,314.2 122.3,313.1z" fill="#3b6d00"/>
<path d="M122.3,313.1 125.4,314.2 128.5,313.1 125.4,311.9z" fill="#4c6c00"/>
<path d="M125.4,311.9 128.5,313.1 131.6,311.9 128.5,310.8z" fill="#596c00"/>
<path d="M128.5,310.8 131.6,311.9 134.7,310.7 131.6,309.6z" fill="#646b00"/>
<path d="M131.6,309.6 134.7,310.7 137.8,309.6 134.7,308.4z" fill="#6b6900"/>
<path d="M134.7,308.4 137.8,309.6 140.9,308.4 137.8,307.3z" fill="#6a6100"/>
<path d="M137.8,307.3 140.9,308.4 144,307.3 140.9,306.1z" fill="#695a00"/>
<path d="M140.9,306.1 144,307.3 147.1,306.1 144,305z" fill="#695500"/>
<path d="M144,305 147.1,306.1 150.2,304.9 147.1,303.8z" fill="#685100"/>
<path d="M147.1,303.8 150.2,304.9 153.3,303.8 150.2,302.6z" fill="#684e00"/>
<path d="M150.2,302.6 153.3,303.8 156.4,302.6 153.3,301.5z" fill="#674b00"/>
<path d="M153.3,301.5 156.4,302.6 159.5,301.5 156.4,300.3z" fill="#664900"/>
<path d="M156.4,300.3 159.5,301.5 162.6,300.3 159.5,299.2z" fill="#664700"/>
<path d="M159.5,299.2 162.6,300.3 165.7,299.2 162.6,298z" fill="#654600"/>
<path d="M162.6,298 165.7,299.2 168.8,298 165.7,296.8z" fill="#654500"/>
<path d="M165.7,296.8 168.8,298 171.9,296.8 168.8,295.7z" fill="#644400"/>
<path d="M168.8,295.7 171.9,296.8 175,295.7 171.9,294.5z" fill="#634300"/>
<path d="M171.9,294.5 175,295.7 178.1,294.5 175,293.4z" fill="#634200"/>
<path d="M175,293.4 178.1,294.5 181.2,293.4 178.1,292.2z" fill="#624100"/>
<path d="M178.1,292.2 181.2,293.4 184.3,292.2 181.2,291.1z" fill="#624000"/>
<path d="M181.2,291.1 184.3,292.2 187.4,291 184.3,289.9z" fill="#614000"/>
<path d="M184.3,289.9 187.4,291 190.5,289.9 187.4,288.7z" fill="#603f00"/>
<path d="M187.4,288.7 190.5,289.9 193.6,288.7 190.5,287.6z" fill="#603f00"/>
<path d="M190.5,287.6 193.6,288.7 196.7,287.6 193.6,286.4z" fill="#5f3e00"/>
<path d="M193.6,286.4 196.7,287.6 199.8,286.4 196.7,285.3z" fill="#5f3e00"/>
<path d="M196.7,285.3 199.8,286.4 202.9,285.2 199.8,284.1z" fill="#5f3e00"/>
<path d="M103.7,322.3 106.8,323.5 109.9,322.3 106.8,321.2z" fill="#006f4e"/>
<path d="M106.8,321.2 109.9,322.3 113,321.2 109.9,320z" fill="#006f4e"/>
<path d="M109.9,320 113,321.2 116.1,320 113,318.9z" fill="#006f43"/>
<path d="M113,318.9 116.1,320 119.2,318.8 116.1,317.7z" fill="#006f20"/>
<path d="M116.1,317.7 119.2,318.8 122.3,317.7 119.2,316.5z" fill="#006e02"/>
<path d="M119.2,316.5 122.3,317.7 125.4,316.5 122.3,315.4z" fill="#176d00"/>
<path d="M122.3,315.4 125.4,316.5 128.5,315.4 125.4,314.2z" fill="#2b6d00"/>
<path d="M125.4,314.2 128.5,315.4 131.5,314.2 128.5,313.1z" fill="#3c6c00"/>
<path d="M128.5,313.1 131.5,314.2 134.6,313 131.6,311.9z" fill="#496c00"/>
<path d="M131.6,311.9 134.6,313 137.7,311.9 134.7,310.7z" fill="#546b00"/>
<path d="M134.7,310.7 137.7,311.9 140.8,310.7 137.8,309.6z" fill="#5d6a00"/>
<path d="M137.8,309.6 140.8,310.7 143.9,309.6 140.9,308.4z" fill="#646a00"/>
<path d="M140.9,308.4 143.9,309.6 147,308.4 144,307.3z" fill="#696900"/>
<path d="M144,307.3 147,308.4 150.1,307.3 147.1,306.1z" fill="#696400"/>
<path d="M147.1,306.1 150.1,307.3 153.2,306.1 150.2,304.9z" fill="#686000"/>
<path d="M150.2,304.9 153.2,306.1 156.3,304.9 153.3,303.8z" fill="#685d00"/>
<path d="M153.3,303.8 156.3,304.9 159.4,303.8 156.4,302.6z" fill="#675a00"/>
<path d="M156.4,302.6 159.4,303.8 162.5,302.6 159.5,301.5z" fill="#665800"/>
<path d="M159.5,301.5 162.5,302.6 165.6,301.5 162.6,300.3z" fill="#665600"/>
<path d="M162.6,300.3 165.6,301.5 168.7,300.3 165.7,299.2z" fill="#655400"/>
<path d="M165.7,299.2 168.7,300.3 171.8,299.1 168.8,298z" fill="#655300"/>
<path d="M168.8,298 171.8,299.1 174.9,298 171.9,296.8z" fill="#645200"/>
<path d="M171.9,296.8 174.9,298 178,296.8 175,295.7z" fill="#645100"/>
<path d="M175,295.7 178,296.8 181.1,295.7 178.1,294.5z" fill="#635000"/>
<path d="M178.1,294.5 181.1,295.7 184.2,294.5 181.2,293.4z" fill="#624f00"/>
<path d="M181.2,293.4 184.2,294.5 187.3,293.4 184.3,292.2z" fill="#624e00"/>
<path d="M184.3,292.2 187.3,293.4 190.4,292.2 187.4,291z" fill="#614d00"/>
<path d="M187.4,291 190.4,292.2 193.5,291 190.5,289.9z" fill="#614d00"/>
<path d="M190.5,289.9 193.5,291 196.6,289.9 193.6,288.7z" fill="#604c00"/>
<path d="M193.6,288.7 196.6,289.9 199.7,288.7 196.7,287.6z" fill="#5f4c00"/>
<path d="M196.7,287.6 199.7,288.7 202.8,287.6 199.8,286.4z" fill="#5f4b00"/>
<path d="M199.8,286.4 202.8,287.6 205.9,286.4 202.9,285.2z" fill="#5f4b00"/>
<path d="M106.8,323.5 109.9,324.6 113,323.5 109.9,322.3z" fill="#006f61"/>
<path d="M109.9,322.3 113,323.5 116,322.3 113,321.2z" fill="#006f61"/>
<path d="M113,321.2 116,322.3 119.1,321.1 116.1,320z" fill="#006f56"/>
<path d="M116.1,320 119.1,321.1 122.2,320 119.2,318.8z" fill="#006e32"/>
<path d="M119.2,318.8 122.2,320 125.3,318.8 122.3,317.7z" fill="#006e15"/>
<path d="M122.3,317.7 125.3,318.8 128.4,317.7 125.4,316.5z" fill="#046d00"/>
<path d="M125.4,316.5 128.4,317.7 131.5,316.5 128.5,315.4z" fill="#186d00"/>
<path d="M128.5,315.4 131.5,316.5 134.6,315.3 131.5,314.2z" fill="#296c00"/>
<path d="M131.5,314.2 134.6,315.3 137.7,314.2 134.6,313z" fill="#376b00"/>
<path d="M134.6,313 137.7,314.2 140.8,313 137.7,311.9z" fill="#426b00"/>
<path d="M137.7,311.9 140.8,313 143.9,311.9 140.8,310.7z" fill="#4b6a00"/>
<path d="M140.8,310.7 143.9,311.9 147,310.7 143.9,309.6z" fill="#526a00"/>
<path d="M143.9,309.6 147,310.7 150.1,309.6 147,308.4z" fill="#586900"/>
<path d="M147,308.4 150.1,309.6 153.2,308.4 150.1,307.3z" fill="#5c6900"/>
<path d="M150.1,307.3 153.2,308.4 156.3,307.2 153.2,306.1z" fill="#5f6800"/>
<path d="M153.2,306.1 156.3,307.2 159.4,306.1 156.3,304.9z" fill="#626800"/>
<path d="M156.3,304.9 159.4,306.1 162.5,304.9 159.4,303.8z" fill="#646700"/>
<path d="M159.4,303.8 162.5,304.9 165.6,303.8 162.5,302.6z" fill="#656600"/>
<path d="M162.5,302.6 165.6,303.8 168.7,302.6 165.6,301.5z" fill="#666600"/>
<path d="M165.6,301.5 168.7,302.6 171.8,301.5 168.7,300.3z" fill="#656400"/>
<path d="M168.7,300.3 171.8,301.5 174.9,300.3 171.8,299.1z" fill="#656300"/>
<path d="M171.8,299.1 174.9,300.3 178,299.1 174.9,298z" fill="#646200"/>
<path d="M174.9,298 178,299.1 181.1,298 178,296.8z" fill="#646000"/>
<path d="M178,296.8 181.1,298 184.2,296.8 181.1,295.7z" fill="#635f00"/>
<path d="M181.1,295.7 184.2,296.8 187.2,295.7 184.2,294.5z" fill="#635e00"/>
<path d="M184.2,294.5 187.2,295.7 190.3,294.5 187.3,293.4z" fill="#625e00"/>
<path d="M187.3,293.4 190.3,294.5 193.4,293.3 190.4,292.2z" fill="#615d00"/>
<path d="M190.4,292.2 193.4,293.3 196.5,292.2 193.5,291z" fill="#615c00"/>
<path d="M193.5,291 196.5,292.2 199.6,291 196.6,289.9z" fill="#605b00"/>
<path d="M196.6,289.9 199.6,291 202.7,289.9 199.7,288.7z" fill="#605b00"/>
<path d="M199.7,288.7 202.7,289.9 205.8,288.7 202.8,287.6z" fill="#605a00"/>
<path d="M202.8,287.6 205.8,288.7 208.9,287.6 205.9,286.4z" fill="#605a00"/>
<path d="M109.9,324.6 112.9,325.7 116,324.6 113,323.5z" fill="#00676f"/>
<path d="M113,323.5 116,324.6 119.1,323.4 116,322.3z" fill="#00676f"/>
<path d="M116,322.3 119.1,323.4 122.2,322.3 119.1,321.1z" fill="#006e6b"/>
<path d="M119.1,321.1 122.2,322.3 125.3,321.1 122.2,320z" fill="#006e47"/>
<path d="M122.2,320 125.3,321.1 128.4,320 125.3,318.8z" fill="#006d29"/>
<path d="M125.3,318.8 128.4,320 131.5,318.8 128.4,317.7z" fill="#006d11"/>
<path d="M128.4,317.7 131.5,318.8 134.6,317.6 131.5,316.5z" fill="#046c00"/>
<path d="M131.5,316.5 134.6,317.6 137.7,316.5 134.6,315.3z" fill="#156c00"/>
<path d="M134.6,315.3 137.7,316.5 140.8,315.3 137.7,314.2z" fill="#236b00"/>
<path d="M137.7,314.2 140.8,315.3 143.9,314.2 140.8,313z" fill="#2e6b00"/>
<path d="M140.8,313 143.9,314.2 147,313 143.9,311.9z" fill="#386a00"/>
<path d="M143.9,311.9 147,313 150.1,311.9 147,310.7z" fill="#3f6a00"/>
<path d="M147,310.7 150.1,311.9 153.2,310.7 150.1,309.6z" fill="#456900"/>
<path d="M150.1,309.6 153.2,310.7 156.3,309.5 153.2,308.4z" fill="#496900"/>
<path d="M153.2,308.4 156.3,309.5 159.4,308.4 156.3,307.2z" fill="#4d6800"/>
<path d="M156.3,307.2 159.4,308.4 162.4,307.2 159.4,306.1z" fill="#4f6800"/>
<path d="M159.4,306.1 162.4,307.2 165.5,306.1 162.5,304.9z" fill="#516700"/>
<path d="M162.5,304.9 165.5,306.1 168.6,304.9 165.6,303.8z" fill="#536600"/>
<path d="M165.6,303.8 168.6,304.9 171.7,303.8 168.7,302.6z" fill="#546600"/>
<path d="M168.7,302.6 171.7,303.8 174.8,302.6 171.8,301.5z" fill="#556500"/>
<path d="M171.8,301.5 174.8,302.6 177.9,301.4 174.9,300.3z" fill="#556500"/>
<path d="M174.9,300.3 177.9,301.4 181,300.3 178,299.1z" fill="#556400"/>
<path d="M178,299.1 181,300.3 184.1,299.1 181.1,298z" fill="#566400"/>
<path d="M181.1,298 184.1,299.1 187.2,298 184.2,296.8z" fill="#566300"/>
<path d="M184.2,296.8 187.2,298 190.3,296.8 187.2,295.7z" fill="#566300"/>
<path d="M187.2,295.7 190.3,296.8 193.4,295.7 190.3,294.5z" fill="#566200"/>
<path d="M190.3,294.5 193.4,295.7 196.5,294.5 193.4,293.3z" fill="#556200"/>
<path d="M193.4,293.3 196.5,294.5 199.6,293.3 196.5,292.2z" fill="#556100"/>
<path d="M196.5,292.2 199.6,293.3 202.7,292.2 199.6,291z" fill="#556100"/>
<path d="M199.6,291 202.7,292.2 205.8,291 202.7,289.9z" fill="#556000"/>
<path d="M202.7,289.9 205.8,291 208.9,289.9 205.8,288.7z" fill="#556000"/>
<path d="M205.8,288.7 208.9,289.9 211.9,288.7 208.9,287.6z" fill="#556000"/>
<path d="M112.9,325.7 116,326.9 119.1,325.7 116,324.6z" fill="#004f6e"/>
<path d="M116,324.6 119.1,325.7 122.2,324.6 119.1,323.4z" fill="#004f6e"/>
<path d="M119.1,323.4 122.2,324.6 125.3,323.4 122.2,322.3z" fill="#005a6e"/>
<path d="M122.2,322.3 125.3,323.4 128.4,322.3 125.3,321.1z" fill="#006e5e"/>
<path d="M125.3,321.1 128.4,322.3 131.5,321.1 128.4,320z" fill="#006d40"/>
<path d="M128.4,320 131.5,321.1 134.6,319.9 131.5,318.8z" fill="#006d27"/>
<path d="M131.5,318.8 134.6,319.9 137.7,318.8 134.6,317.6z" fill="#006c13"/>
<path d="M134.6,317.6 137.7,318.8 140.8,317.6 137.7,316.5z" fill="#006c01"/>
<path d="M137.7,316.5 140.8,317.6 143.9,316.5 140.8,315.3z" fill="#0d6b00"/>
<path d="M140.8,315.3 143.9,316.5 147,315.3 143.9,314.2z" fill="#186b00"/>
<path d="M143.9,314.2 147,315.3 150,314.2 147,313z" fill="#226a00"/>
<path d="M147,313 150,314.2 153.1,313 150.1,311.9z" fill="#296a00"/>
<path d="M150.1,311.9 153.1,313 156.2,311.8 153.2,310.7z" fill="#2f6900"/>
<path d="M153.2,310.7 156.2,311.8 159.3,310.7 156.3,309.5z" fill="#346900"/>
<path d="M156.3,309.5 159.3,310.7 162.4,309.5 159.4,308.4z" fill="#386800"/>
<path d="M159.4,308.4 162.4,309.5 165.5,308.4 162.4,307.2z" fill="#3a6800"/>
<path d="M162.4,307.2 165.5,308.4 168.6,307.2 165.5,306.1z" fill="#3d6700"/>
<path d="M165.5,306.1 168.6,307.2 171.7,306.1 168.6,304.9z" fill="#3e6700"/>
<path d="M168.6,304.9 171.7,306.1 174.8,304.9 171.7,303.8z" fill="#406600"/>
<path d="M171.7,303.8 174.8,304.9 177.9,303.7 174.8,302.6z" fill="#416600"/>
<path d="M174.8,302.6 177.9,303.7 181,302.6 177.9,301.4z" fill="#416500"/>
<path d="M177.9,301.4 181,302.6 184.1,301.4 181,300.3z" fill="#426500"/>
<path d="M181,300.3 184.1,301.4 187.2,300.3 184.1,299.1z" fill="#426400"/>
<path d="M184.1,299.1 187.2,300.3 190.2,299.1 187.2,298z" fill="#426400"/>
<path d="M187.2,298 190.2,299.1 193.3,298 190.3,296.8z" fill="#436300"/>
<path d="M190.3,296.8 193.3,298 196.4,296.8 193.4,295.7z" fill="#436300"/>
<path d="M193.4,295.7 196.4,296.8 199.5,295.6 196.5,294.5z" fill="#436200"/>
<path d="M196.5,294.5 199.5,295.6 202.6,294.5 199.6,293.3z" fill="#436200"/>
<path d="M199.6,293.3 202.6,294.5 205.7,293.3 202.7,292.2z" fill="#426100"/>
<path d="M202.7,292.2 205.7,293.3 208.8,292.2 205.8,291z" fill="#426100"/>
<path d="M205.8,291 208.8,292.2 211.9,291 208.9,289.9z" fill="#426000"/>
<path d="M208.9,289.9 211.9,291 215,289.9 211.9,288.7z" fill="#426000"/>
<path d="M116,326.9 119.1,328 122.2,326.9 119.1,325.7z" fill="#00356e"/>
<path d="M119.1,325.7 122.2,326.9 125.3,325.7 122.2,324.6z" fill="#00356e"/>
<path d="M122.2,324.6 125.3,325.7 128.4,324.6 125.3,323.4z" fill="#00406e"/>
<path d="M125.3,323.4 128.4,324.6 131.5,323.4 128.4,322.3z" fill="#00636d"/>
<path d="M128.4,322.3 131.5,323.4 134.6,322.2 131.5,321.1z" fill="#006d59"/>
<path d="M131.5,321.1 134.6,322.2 137.7,321.1 134.6,319.9z" fill="#006c40"/>
<path d="M134.6,319.9 137.7,321.1 140.8,319.9 137.7,318.8z" fill="#006c2b"/>
<path d="M137.7,318.8 140.8,319.9 143.8,318.8 140.8,317.6z" fill="#006b1a"/>
<path d="M140.8,317.6 143.8,318.8 146.9,317.6 143.9,316.5z" fill="#006b0c"/>
<path d="M143.9,316.5 146.9,317.6 150,316.5 147,315.3z" fill="#006a00"/>
<path d="M147,315.3 150,316.5 153.1,315.3 150,314.2z" fill="#0a6a00"/>
<path d="M150,314.2 153.1,315.3 156.2,314.1 153.1,313z" fill="#116900"/>
<path d="M153.1,313 156.2,314.1 159.3,313 156.2,311.8z" fill="#186900"/>
<path d="M156.2,311.8 159.3,313 162.4,311.8 159.3,310.7z" fill="#1d6800"/>
<path d="M159.3,310.7 162.4,311.8 165.5,310.7 162.4,309.5z" fill="#206800"/>
<path d="M162.4,309.5 165.5,310.7 168.6,309.5 165.5,308.4z" fill="#246800"/>
<path d="M165.5,308.4 168.6,309.5 171.7,308.4 168.6,307.2z" fill="#266700"/>
<path d="M168.6,307.2 171.7,308.4 174.7,307.2 171.7,306.1z" fill="#286700"/>
<path d="M171.7,306.1 174.7,307.2 177.8,306 174.8,304.9z" fill="#296600"/>
<path d="M174.8,304.9 177.8,306 180.9,304.9 177.9,303.7z" fill="#2a6600"/>
<path d="M177.9,303.7 180.9,304.9 184,303.7 181,302.6z" fill="#2b6500"/>
<path d="M181,302.6 184,303.7 187.1,302.6 184.1,301.4z" fill="#2c6500"/>
<path d="M184.1,301.4 187.1,302.6 190.2,301.4 187.2,300.3z" fill="#2d6400"/>
<path d="M187.2,300.3 190.2,301.4 193.3,300.3 190.2,299.1z" fill="#2d6400"/>
<path d="M190.2,299.1 193.3,300.3 196.4,299.1 193.3,298z" fill="#2d6300"/>
<path d="M193.3,298 196.4,299.1 199.5,298 196.4,296.8z" fill="#2e6300"/>
<path d="M196.4,296.8 199.5,298 202.6,296.8 199.5,295.6z" fill="#2e6200"/>
<path d="M199.5,295.6 202.6,296.8 205.6,295.6 202.6,294.5z" fill="#2e6200"/>
<path d="M202.6,294.5 205.6,295.6 208.7,294.5 205.7,293.3z" fill="#2e6100"/>
<path d="M205.7,293.3 208.7,294.5 211.8,293.3 208.8,292.2z" fill="#2e6100"/>
<path d="M208.8,292.2 211.8,293.3 214.9,292.2 211.9,291z" fill="#2e6100"/>
<path d="M211.9,291 214.9,292.2 218,291 215,289.9z" fill="#2e6100"/>
<path d="M119.1,328 122.2,329.2 125.3,328 122.2,326.9z" fill="#00186d"/>
<path d="M122.2,326.9 125.3,328 128.4,326.8 125.3,325.7z" fill="#00186d"/>
<path d="M125.3,325.7 128.4,326.8 131.5,325.7 128.4,324.6z" fill="#00246d"/>
<path d="M128.4,324.6 131.5,325.7 134.6,324.5 131.5,323.4z" fill="#00476d"/>
<path d="M131.5,323.4 134.6,324.5 137.7,323.4 134.6,322.2z" fill="#00646c"/>
<path d="M134.6,322.2 137.7,323.4 140.7,322.2 137.7,321.1z" fill="#006c5c"/>
<path d="M137.7,321.1 140.7,322.2 143.8,321.1 140.8,319.9z" fill="#006c46"/>
<path d="M140.8,319.9 143.8,321.1 146.9,319.9 143.8,318.8z" fill="#006b35"/>
<path d="M143.8,318.8 146.9,319.9 150,318.8 146.9,317.6z" fill="#006b26"/>
<path d="M146.9,317.6 150,318.8 153.1,317.6 150,316.5z" fill="#006a1a"/>
<path d="M150,316.5 153.1,317.6 156.2,316.4 153.1,315.3z" fill="#006a11"/>
<path d="M153.1,315.3 156.2,316.4 159.3,315.3 156.2,314.1z" fill="#006909"/>
<path d="M156.2,314.1 159.3,315.3 162.4,314.1 159.3,313z" fill="#006902"/>
<path d="M159.3,313 162.4,314.1 165.4,313 162.4,311.8z" fill="#036800"/>
<path d="M162.4,311.8 165.4,313 168.5,311.8 165.5,310.7z" fill="#076800"/>
<path d="M165.5,310.7 168.5,311.8 171.6,310.7 168.6,309.5z" fill="#0a6700"/>
<path d="M168.6,309.5 171.6,310.7 174.7,309.5 171.7,308.4z" fill="#0d6700"/>
<path d="M171.7,308.4 174.7,309.5 177.8,308.4 174.7,307.2z" fill="#0f6700"/>
<path d="M174.7,307.2 177.8,308.4 180.9,307.2 177.8,306z" fill="#116600"/>
<path d="M177.8,306 180.9,307.2 184,306 180.9,304.9z" fill="#126600"/>
<path d="M180.9,304.9 184,306 187.1,304.9 184,303.7z" fill="#136500"/>
<path d="M184,303.7 187.1,304.9 190.2,303.7 187.1,302.6z" fill="#146500"/>
<path d="M187.1,302.6 190.2,303.7 193.2,302.6 190.2,301.4z" fill="#156400"/>
<path d="M190.2,301.4 193.2,302.6 196.3,301.4 193.3,300.3z" fill="#156400"/>
<path d="M193.3,300.3 196.3,301.4 199.4,300.3 196.4,299.1z" fill="#166300"/>
<path d="M196.4,299.1 199.4,300.3 202.5,299.1 199.5,298z" fill="#166300"/>
<path d="M199.5,298 202.5,299.1 205.6,298 202.6,296.8z" fill="#166300"/>
<path d="M202.6,296.8 205.6,298 208.7,296.8 205.6,295.6z" fill="#176200"/>
<path d="M205.6,295.6 208.7,296.8 211.8,295.6 208.7,294.5z" fill="#176200"/>
<path d="M208.7,294.5 211.8,295.6 214.9,294.5 211.8,293.3z" fill="#176100"/>
<path d="M211.8,293.3 214.9,294.5 218,293.3 214.9,292.2z" fill="#176100"/>
<path d="M214.9,292.2 218,293.3 221,292.2 218,291z" fill="#176100"/>
<path d="M122.2,329.2 125.3,330.3 128.4,329.1 125.3,328z" fill="#06006d"/>
<path d="M125.3,328 128.4,329.1 131.5,328 128.4,326.8z" fill="#06006d"/>
<path d="M128.4,326.8 131.5,328 134.6,326.8 131.5,325.7z" fill="#00056d"/>
<path d="M131.5,325.7 134.6,326.8 137.6,325.7 134.6,324.5z" fill="#00286d"/>
<path d="M134.6,324.5 137.6,325.7 140.7,324.5 137.7,323.4z" fill="#00456c"/>
<path d="M137.7,323.4 140.7,324.5 143.8,323.4 140.7,322.2z" fill="#005e6c"/>
<path d="M140.7,322.2 143.8,323.4 146.9,322.2 143.8,321.1z" fill="#006b64"/>
<path d="M143.8,321.1 146.9,322.2 150,321.1 146.9,319.9z" fill="#006b52"/>
<path d="M146.9,319.9 150,321.1 153.1,319.9 150,318.8z" fill="#006a43"/>
<path d="M150,318.8 153.1,319.9 156.2,318.7 153.1,317.6z" fill="#006a37"/>
<path d="M153.1,317.6 156.2,318.7 159.3,317.6 156.2,316.4z" fill="#006a2d"/>
<path d="M156.2,316.4 159.3,317.6 162.3,316.4 159.3,315.3z" fill="#006925"/>
<path d="M159.3,315.3 162.3,316.4 165.4,315.3 162.4,314.1z" fill="#00691f"/>
<path d="M162.4,314.1 165.4,315.3 168.5,314.1 165.4,313z" fill="#006819"/>
<path d="M165.4,313 168.5,314.1 171.6,313 168.5,311.8z" fill="#006815"/>
<path d="M168.5,311.8 171.6,313 174.7,311.8 171.6,310.7z" fill="#006711"/>
<path d="M171.6,310.7 174.7,311.8 177.8,310.7 174.7,309.5z" fill="#00670f"/>
<path d="M174.7,309.5 177.8,310.7 180.9,309.5 177.8,308.4z" fill="#00670c"/>
<path d="M177.8,308.4 180.9,309.5 183.9,308.3 180.9,307.2z" fill="#00660b"/>
<path d="M180.9,307.2 183.9,308.3 187,307.2 184,306z" fill="#006609"/>
<path d="M184,306 187,307.2 190.1,306 187.1,304.9z" fill="#006508"/>
<path d="M187.1,304.9 190.1,306 193.2,304.9 190.2,303.7z" fill="#006507"/>
<path d="M190.2,303.7 193.2,304.9 196.3,303.7 193.2,302.6z" fill="#006506"/>
<path d="M193.2,302.6 196.3,303.7 199.4,302.6 196.3,301.4z" fill="#006405"/>
<path d="M196.3,301.4 199.4,302.6 202.5,301.4 199.4,300.3z" fill="#006404"/>
<path d="M199.4,300.3 202.5,301.4 205.5,300.3 202.5,299.1z" fill="#006304"/>
<path d="M202.5,299.1 205.5,300.3 208.6,299.1 205.6,298z" fill="#006303"/>
<path d="M205.6,298 208.6,299.1 211.7,297.9 208.7,296.8z" fill="#006203"/>
<path d="M208.7,296.8 211.7,297.9 214.8,296.8 211.8,295.6z" fill="#006203"/>
<path d="M211.8,295.6 214.8,296.8 217.9,295.6 214.9,294.5z" fill="#006203"/>
<path d="M214.9,294.5 217.9,295.6 221,294.5 218,293.3z" fill="#006103"/>
<path d="M218,293.3 221,294.5 224.1,293.3 221,292.2z" fill="#006103"/>
<path d="M125.3,330.3 128.4,331.4 131.5,330.3 128.4,329.1z" fill="#28006d"/>
<path d="M128.4,329.1 131.5,330.3 134.6,329.1 131.5,328z" fill="#28006d"/>
<path d="M131.5,328 134.6,329.1 137.6,328 134.6,326.8z" fill="#1c006d"/>
<path d="M134.6,326.8 137.6,328 140.7,326.8 137.6,325.7z" fill="#00076c"/>
<path d="M137.6,325.7 140.7,326.8 143.8,325.7 140.7,324.5z" fill="#00246c"/>
<path d="M140.7,324.5 143.8,325.7 146.9,324.5 143.8,323.4z" fill="#003d6b"/>
<path d="M143.8,323.4 146.9,324.5 150,323.3 146.9,322.2z" fill="#00526b"/>
<path d="M146.9,322.2 150,323.3 153.1,322.2 150,321.1z" fill="#00636b"/>
<path d="M150,321.1 153.1,322.2 156.2,321 153.1,319.9z" fill="#006a63"/>
<path d="M153.1,319.9 156.2,321 159.2,319.9 156.2,318.7z" fill="#006a57"/>
<path d="M156.2,318.7 159.2,319.9 162.3,318.7 159.3,317.6z" fill="#00694d"/>
<path d="M159.3,317.6 162.3,318.7 165.4,317.6 162.3,316.4z" fill="#006944"/>
<path d="M162.3,316.4 165.4,317.6 168.5,316.4 165.4,315.3z" fill="#00693d"/>
<path d="M165.4,315.3 168.5,316.4 171.6,315.3 168.5,314.1z" fill="#006838"/>
<path d="M168.5,314.1 171.6,315.3 174.7,314.1 171.6,313z" fill="#006833"/>
<path d="M171.6,313 174.7,314.1 177.7,313 174.7,311.8z" fill="#006730"/>
<path d="M174.7,311.8 177.7,313 180.8,311.8 177.8,310.7z" fill="#00672d"/>
<path d="M177.8,310.7 180.8,311.8 183.9,310.6 180.9,309.5z" fill="#00672a"/>
<path d="M180.9,309.5 183.9,310.6 187,309.5 183.9,308.3z" fill="#006628"/>
<path d="M183.9,308.3 187,309.5 190.1,308.3 187,307.2z" fill="#006627"/>
<path d="M187,307.2 190.1,308.3 193.2,307.2 190.1,306z" fill="#006625"/>
<path d="M190.1,306 193.2,307.2 196.3,306 193.2,304.9z" fill="#006524"/>
<path d="M193.2,304.9 196.3,306 199.3,304.9 196.3,303.7z" fill="#006523"/>
<path d="M196.3,303.7 199.3,304.9 202.4,303.7 199.4,302.6z" fill="#006422"/>
<path d="M199.4,302.6 202.4,303.7 205.5,302.6 202.5,301.4z" fill="#006421"/>
<path d="M202.5,301.4 205.5,302.6 208.6,301.4 205.5,300.3z" fill="#006420"/>
<path d="M205.5,300.3 208.6,301.4 211.7,300.3 208.6,299.1z" fill="#006320"/>
<path d="M208.6,299.1 211.7,300.3 214.8,299.1 211.7,297.9z" fill="#00631f"/>
<path d="M211.7,297.9 214.8,299.1 217.8,297.9 214.8,296.8z" fill="#00621f"/>
<path d="M214.8,296.8 217.8,297.9 220.9,296.8 217.9,295.6z" fill="#00621f"/>
<path d="M217.9,295.6 220.9,296.8 224,295.6 221,294.5z" fill="#00621f"/>
<path d="M221,294.5 224,295.6 227.1,294.5 224.1,293.3z" fill="#00621f"/>
<path d="M128.4,331.4 131.5,332.6 134.6,331.4 131.5,330.3z" fill="#4c006c"/>
<path d="M131.5,330.3 134.6,331.4 137.6,330.3 134.6,329.1z" fill="#4c006c"/>
<path d="M134.6,329.1 137.6,330.3 140.7,329.1 137.6,328z" fill="#40006c"/>
<path d="M137.6,328 140.7,329.1 143.8,328 140.7,326.8z" fill="#1d006c"/>
<path d="M140.7,326.8 143.8,328 146.9,326.8 143.8,325.7z" fill="#00016b"/>
<path d="M143.8,325.7 146.9,326.8 150,325.6 146.9,324.5z" fill="#001a6b"/>
<path d="M146.9,324.5 150,325.6 153.1,324.5 150,323.3z" fill="#002f6b"/>
<path d="M150,323.3 153.1,324.5 156.1,323.3 153.1,322.2z" fill="#00406a"/>
<path d="M153.1,322.2 156.1,323.3 159.2,322.2 156.2,321z" fill="#004f6a"/>
<path d="M156.2,321 159.2,322.2 162.3,321 159.2,319.9z" fill="#005a6a"/>
<path d="M159.2,319.9 162.3,321 165.4,319.9 162.3,318.7z" fill="#006469"/>
<path d="M162.3,318.7 165.4,319.9 168.5,318.7 165.4,317.6z" fill="#006966"/>
<path d="M165.4,317.6 168.5,318.7 171.6,317.6 168.5,316.4z" fill="#00695f"/>
<path d="M168.5,316.4 171.6,317.6 174.6,316.4 171.6,315.3z" fill="#006859"/>
<path d="M171.6,315.3 174.6,316.4 177.7,315.3 174.7,314.1z" fill="#006855"/>
<path d="M174.7,314.1 177.7,315.3 180.8,314.1 177.7,313z" fill="#006751"/>
<path d="M177.7,313 180.8,314.1 183.9,312.9 180.8,311.8z" fill="#00674d"/>
<path d="M180.8,311.8 183.9,312.9 187,311.8 183.9,310.6z" fill="#00674b"/>
<path d="M183.9,310.6 187,311.8 190.1,310.6 187,309.5z" fill="#006649"/>
<path d="M187,309.5 190.1,310.6 193.1,309.5 190.1,308.3z" fill="#006647"/>
<path d="M190.1,308.3 193.1,309.5 196.2,308.3 193.2,307.2z" fill="#006645"/>
<path d="M193.2,307.2 196.2,308.3 199.3,307.2 196.3,306z" fill="#006544"/>
<path d="M196.3,306 199.3,307.2 202.4,306 199.3,304.9z" fill="#006542"/>
<path d="M199.3,304.9 202.4,306 205.5,304.9 202.4,303.7z" fill="#006541"/>
<path d="M202.4,303.7 205.5,304.9 208.5,303.7 205.5,302.6z" fill="#006440"/>
<path d="M205.5,302.6 208.5,303.7 211.6,302.6 208.6,301.4z" fill="#006440"/>
<path d="M208.6,301.4 211.6,302.6 214.7,301.4 211.7,300.3z" fill="#00633f"/>
<path d="M211.7,300.3 214.7,301.4 217.8,300.2 214.8,299.1z" fill="#00633e"/>
<path d="M214.8,299.1 217.8,300.2 220.9,299.1 217.8,297.9z" fill="#00633e"/>
<path d="M217.8,297.9 220.9,299.1 224,297.9 220.9,296.8z" fill="#00623d"/>
<path d="M220.9,296.8 224,297.9 227,296.8 224,295.6z" fill="#00623d"/>
<path d="M224,295.6 227,296.8 230.1,295.6 227.1,294.5z" fill="#00623d"/>
<path d="M131.5,332.6 134.6,333.7 137.7,332.6 134.6,331.4z" fill="#6c0065"/>
<path d="M134.6,331.4 137.7,332.6 140.7,331.4 137.6,330.3z" fill="#6c0065"/>
<path d="M137.6,330.3 140.7,331.4 143.8,330.2 140.7,329.1z" fill="#67006c"/>
<path d="M140.7,329.1 143.8,330.2 146.9,329.1 143.8,328z" fill="#44006c"/>
<path d="M143.8,328 146.9,329.1 150,327.9 146.9,326.8z" fill="#26006b"/>
<path d="M146.9,326.8 150,327.9 153.1,326.8 150,325.6z" fill="#0c006b"/>
<path d="M150,325.6 153.1,326.8 156.1,325.6 153.1,324.5z" fill="#00096a"/>
<path d="M153.1,324.5 156.1,325.6 159.2,324.5 156.1,323.3z" fill="#001a6a"/>
<path d="M156.1,323.3 159.2,324.5 162.3,323.3 159.2,322.2z" fill="#00296a"/>
<path d="M159.2,322.2 162.3,323.3 165.4,322.2 162.3,321z" fill="#003569"/>
<path d="M162.3,321 165.4,322.2 168.5,321 165.4,319.9z" fill="#003f69"/>
<path d="M165.4,319.9 168.5,321 171.5,319.9 168.5,318.7z" fill="#004769"/>
<path d="M168.5,318.7 171.5,319.9 174.6,318.7 171.6,317.6z" fill="#004e68"/>
<path d="M171.6,317.6 174.6,318.7 177.7,317.6 174.6,316.4z" fill="#005368"/>
<path d="M174.6,316.4 177.7,317.6 180.8,316.4 177.7,315.3z" fill="#005768"/>
<path d="M177.7,315.3 180.8,316.4 183.9,315.2 180.8,314.1z" fill="#005b67"/>
<path d="M180.8,314.1 183.9,315.2 186.9,314.1 183.9,312.9z" fill="#005d67"/>
<path d="M183.9,312.9 186.9,314.1 190,312.9 187,311.8z" fill="#005f67"/>
<path d="M187,311.8 190,312.9 193.1,311.8 190.1,310.6z" fill="#006166"/>
<path d="M190.1,310.6 193.1,311.8 196.2,310.6 193.1,309.5z" fill="#006266"/>
<path d="M193.1,309.5 196.2,310.6 199.3,309.5 196.2,308.3z" fill="#006466"/>
<path d="M196.2,308.3 199.3,309.5 202.3,308.3 199.3,307.2z" fill="#006465"/>
<path d="M199.3,307.2 202.3,308.3 205.4,307.2 202.4,306z" fill="#006565"/>
<path d="M202.4,306 205.4,307.2 208.5,306 205.5,304.9z" fill="#006564"/>
<path d="M205.5,304.9 208.5,306 211.6,304.9 208.5,303.7z" fill="#006463"/>
<path d="M208.5,303.7 211.6,304.9 214.7,303.7 211.6,302.6z" fill="#006462"/>
<path d="M211.6,302.6 214.7,303.7 217.8,302.6 214.7,301.4z" fill="#006461"/>
<path d="M214.7,301.4 217.8,302.6 220.8,301.4 217.8,300.2z" fill="#006360"/>
<path d="M217.8,300.2 220.8,301.4 223.9,300.2 220.9,299.1z" fill="#00635f"/>
<path d="M220.9,299.1 223.9,300.2 227,299.1 224,297.9z" fill="#00635f"/>
<path d="M224,297.9 227,299.1 230.1,297.9 227,296.8z" fill="#00635f"/>
<path d="M227,296.8 230.1,297.9 233.2,296.8 230.1,295.6z" fill="#00635f"/>
<path d="M134.6,333.7 137.7,334.8 140.7,333.7 137.7,332.6z" fill="#6c003b"/>
<path d="M137.7,332.6 140.7,333.7 143.8,332.5 140.7,331.4z" fill="#6c003b"/>
<path d="M140.7,331.4 143.8,332.5 146.9,331.4 143.8,330.2z" fill="#6b0046"/>
<path d="M143.8,330.2 146.9,331.4 150,330.2 146.9,329.1z" fill="#6b0069"/>
<path d="M146.9,329.1 150,330.2 153.1,329.1 150,327.9z" fill="#4f006b"/>
<path d="M150,327.9 153.1,329.1 156.1,327.9 153.1,326.8z" fill="#35006b"/>
<path d="M153.1,326.8 156.1,327.9 159.2,326.8 156.1,325.6z" fill="#20006a"/>
<path d="M156.1,325.6 159.2,326.8 162.3,325.6 159.2,324.5z" fill="#0e006a"/>
<path d="M159.2,324.5 162.3,325.6 165.4,324.5 162.3,323.3z" fill="#00016a"/>
<path d="M162.3,323.3 165.4,324.5 168.4,323.3 165.4,322.2z" fill="#000d69"/>
<path d="M165.4,322.2 168.4,323.3 171.5,322.2 168.5,321z" fill="#001769"/>
<path d="M168.5,321 171.5,322.2 174.6,321 171.5,319.9z" fill="#001f69"/>
<path d="M171.5,319.9 174.6,321 177.7,319.9 174.6,318.7z" fill="#002668"/>
<path d="M174.6,318.7 177.7,319.9 180.8,318.7 177.7,317.6z" fill="#002c68"/>
<path d="M177.7,317.6 180.8,318.7 183.8,317.5 180.8,316.4z" fill="#003068"/>
<path d="M180.8,316.4 183.8,317.5 186.9,316.4 183.9,315.2z" fill="#003467"/>
<path d="M183.9,315.2 186.9,316.4 190,315.2 186.9,314.1z" fill="#003767"/>
<path d="M186.9,314.1 190,315.2 193.1,314.1 190,312.9z" fill="#003967"/>
<path d="M190,312.9 193.1,314.1 196.2,312.9 193.1,311.8z" fill="#003b66"/>
<path d="M193.1,311.8 196.2,312.9 199.2,311.8 196.2,310.6z" fill="#003d66"/>
<path d="M196.2,310.6 199.2,311.8 202.3,310.6 199.3,309.5z" fill="#003e66"/>
<path d="M199.3,309.5 202.3,310.6 205.4,309.5 202.3,308.3z" fill="#003f66"/>
<path d="M202.3,308.3 205.4,309.5 208.5,308.3 205.4,307.2z" fill="#004065"/>
<path d="M205.4,307.2 208.5,308.3 211.6,307.2 208.5,306z" fill="#004165"/>
<path d="M208.5,306 211.6,307.2 214.6,306 211.6,304.9z" fill="#004265"/>
<path d="M211.6,304.9 214.6,306 217.7,304.9 214.7,303.7z" fill="#004264"/>
<path d="M214.7,303.7 217.7,304.9 220.8,303.7 217.8,302.6z" fill="#004264"/>
<path d="M217.8,302.6 220.8,303.7 223.9,302.6 220.8,301.4z" fill="#004364"/>
<path d="M220.8,301.4 223.9,302.6 227,301.4 223.9,300.2z" fill="#004363"/>
<path d="M223.9,300.2 227,301.4 230,300.2 227,299.1z" fill="#004363"/>
<path d="M227,299.1 230,300.2 233.1,299.1 230.1,297.9z" fill="#004363"/>
<path d="M230.1,297.9 233.1,299.1 236.2,297.9 233.2,296.8z" fill="#004363"/>
<path d="M137.7,334.8 140.7,336 143.8,334.8 140.7,333.7z" fill="#6b000e"/>
<path d="M140.7,333.7 143.8,334.8 146.9,333.7 143.8,332.5z" fill="#6b000e"/>
<path d="M143.8,332.5 146.9,333.7 150,332.5 146.9,331.4z" fill="#6b0019"/>
<path d="M146.9,331.4 150,332.5 153.1,331.4 150,330.2z" fill="#6b003c"/>
<path d="M150,330.2 153.1,331.4 156.1,330.2 153.1,329.1z" fill="#6b005a"/>
<path d="M153.1,329.1 156.1,330.2 159.2,329.1 156.1,327.9z" fill="#61006a"/>
<path d="M156.1,327.9 159.2,329.1 162.3,327.9 159.2,326.8z" fill="#4c006a"/>
<path d="M159.2,326.8 162.3,327.9 165.4,326.8 162.3,325.6z" fill="#3a006a"/>
<path d="M162.3,325.6 165.4,326.8 168.4,325.6 165.4,324.5z" fill="#2b0069"/>
<path d="M165.4,324.5 168.4,325.6 171.5,324.5 168.4,323.3z" fill="#1e0069"/>
<path d="M168.4,323.3 171.5,324.5 174.6,323.3 171.5,322.2z" fill="#140069"/>
<path d="M171.5,322.2 174.6,323.3 177.7,322.1 174.6,321z" fill="#0b0069"/>
<path d="M174.6,321 177.7,322.1 180.8,321 177.7,319.9z" fill="#040068"/>
<path d="M177.7,319.9 180.8,321 183.8,319.8 180.8,318.7z" fill="#000268"/>
<path d="M180.8,318.7 183.8,319.8 186.9,318.7 183.8,317.5z" fill="#000668"/>
<path d="M183.8,317.5 186.9,318.7 190,317.5 186.9,316.4z" fill="#000a67"/>
<path d="M186.9,316.4 190,317.5 193.1,316.4 190,315.2z" fill="#000d67"/>
<path d="M190,315.2 193.1,316.4 196.1,315.2 193.1,314.1z" fill="#001067"/>
<path d="M193.1,314.1 196.1,315.2 199.2,314.1 196.2,312.9z" fill="#001267"/>
<path d="M196.2,312.9 199.2,314.1 202.3,312.9 199.2,311.8z" fill="#001466"/>
<path d="M199.2,311.8 202.3,312.9 205.4,311.8 202.3,310.6z" fill="#001666"/>
<path d="M202.3,310.6 205.4,311.8 208.4,310.6 205.4,309.5z" fill="#001766"/>
<path d="M205.4,309.5 208.4,310.6 211.5,309.5 208.5,308.3z" fill="#001865"/>
<path d="M208.5,308.3 211.5,309.5 214.6,308.3 211.6,307.2z" fill="#001965"/>
<path d="M211.6,307.2 214.6,308.3 217.7,307.2 214.6,306z" fill="#001a65"/>
<path d="M214.6,306 217.7,307.2 220.8,306 217.7,304.9z" fill="#001b65"/>
<path d="M217.7,304.9 220.8,306 223.8,304.9 220.8,303.7z" fill="#001b64"/>
<path d="M220.8,303.7 223.8,304.9 226.9,303.7 223.9,302.6z" fill="#001c64"/>
<path d="M223.9,302.6 226.9,303.7 230,302.6 227,301.4z" fill="#001c64"/>
<path d="M227,301.4 230,302.6 233.1,301.4 230,300.2z" fill="#001c63"/>
<path d="M230,300.2 233.1,301.4 236.1,300.2 233.1,299.1z" fill="#001c63"/>
<path d="M233.1,299.1 236.1,300.2 239.2,299.1 236.2,297.9z" fill="#001c63"/>
<path d="M140.7,336 143.8,337.1 146.9,336 143.8,334.8z" fill="#6b0000"/>
<path d="M143.8,334.8 146.9,336 150,334.8 146.9,333.7z" fill="#6b0000"/>
<path d="M146.9,333.7 150,334.8 153.1,333.7 150,332.5z" fill="#6b000b"/>
<path d="M150,332.5 153.1,333.7 156.1,332.5 153.1,331.4z" fill="#6b002f"/>
<path d="M153.1,331.4 156.1,332.5 159.2,331.4 156.1,330.2z" fill="#6a004c"/>
<path d="M156.1,330.2 159.2,331.4 162.3,330.2 159.2,329.1z" fill="#6a0066"/>
<path d="M159.2,329.1 162.3,330.2 165.4,329.1 162.3,327.9z" fill="#59006a"/>
<path d="M162.3,327.9 165.4,329.1 168.4,327.9 165.4,326.8z" fill="#47006a"/>
<path d="M165.4,326.8 168.4,327.9 171.5,326.7 168.4,325.6z" fill="#380069"/>
<path d="M168.4,325.6 171.5,326.7 174.6,325.6 171.5,324.5z" fill="#2b0069"/>
<path d="M171.5,324.5 174.6,325.6 177.7,324.4 174.6,323.3z" fill="#210069"/>
<path d="M174.6,323.3 177.7,324.4 180.7,323.3 177.7,322.1z" fill="#180069"/>
<path d="M177.7,322.1 180.7,323.3 183.8,322.1 180.8,321z" fill="#110068"/>
<path d="M180.8,321 183.8,322.1 186.9,321 183.8,319.8z" fill="#0b0068"/>
<path d="M183.8,319.8 186.9,321 190,319.8 186.9,318.7z" fill="#060068"/>
<path d="M186.9,318.7 190,319.8 193,318.7 190,317.5z" fill="#020067"/>
<path d="M190,317.5 193,318.7 196.1,317.5 193.1,316.4z" fill="#000167"/>
<path d="M193.1,316.4 196.1,317.5 199.2,316.4 196.1,315.2z" fill="#000367"/>
<path d="M196.1,315.2 199.2,316.4 202.3,315.2 199.2,314.1z" fill="#000667"/>
<path d="M199.2,314.1 202.3,315.2 205.3,314.1 202.3,312.9z" fill="#000866"/>
<path d="M202.3,312.9 205.3,314.1 208.4,312.9 205.4,311.8z" fill="#000966"/>
<path d="M205.4,311.8 208.4,312.9 211.5,311.8 208.4,310.6z" fill="#000b66"/>
<path d="M208.4,310.6 211.5,311.8 214.6,310.6 211.5,309.5z" fill="#000c65"/>
<path d="M211.5,309.5 214.6,310.6 217.6,309.5 214.6,308.3z" fill="#000d65"/>
<path d="M214.6,308.3 217.6,309.5 220.7,308.3 217.7,307.2z" fill="#000e65"/>
<path d="M217.7,307.2 220.7,308.3 223.8,307.2 220.8,306z" fill="#000e65"/>
<path d="M220.8,306 223.8,307.2 226.9,306 223.8,304.9z" fill="#000f64"/>
<path d="M223.8,304.9 226.9,306 229.9,304.9 226.9,303.7z" fill="#000f64"/>
<path d="M226.9,303.7 229.9,304.9 233,303.7 230,302.6z" fill="#001064"/>
<path d="M230,302.6 233,303.7 236.1,302.6 233.1,301.4z" fill="#001064"/>
<path d="M233.1,301.4 236.1,302.6 239.2,301.4 236.1,300.2z" fill="#001063"/>
<path d="M236.1,300.2 239.2,301.4 242.2,300.2 239.2,299.1z" fill="#001063"/>
<path d="M143.8,337.1 146.9,338.3 150,337.1 146.9,336z" fill="#6b0000"/>
<path d="M146.9,336 150,337.1 153.1,336 150,334.8z" fill="#6b0000"/>
<path d="M150,334.8 153.1,336 156.1,334.8 153.1,333.7z" fill="#6b000b"/>
<path d="M153.1,333.7 156.1,334.8 159.2,333.6 156.1,332.5z" fill="#6b002f"/>
<path d="M156.1,332.5 159.2,333.6 162.3,332.5 159.2,331.4z" fill="#6a004c"/>
<path d="M159.2,331.4 162.3,332.5 165.4,331.3 162.3,330.2z" fill="#6a0066"/>
<path d="M162.3,330.2 165.4,331.3 168.4,330.2 165.4,329.1z" fill="#59006a"/>
<path d="M165.4,329.1 168.4,330.2 171.5,329 168.4,327.9z" fill="#47006a"/>
<path d="M168.4,327.9 171.5,329 174.6,327.9 171.5,326.7z" fill="#380069"/>
<path d="M171.5,326.7 174.6,327.9 177.7,326.7 174.6,325.6z" fill="#2b0069"/>
<path d="M174.6,325.6 177.7,326.7 180.7,325.6 177.7,324.4z" fill="#210069"/>
<path d="M177.7,324.4 180.7,325.6 183.8,324.4 180.7,323.3z" fill="#180069"/>
<path d="M180.7,323.3 183.8,324.4 186.9,323.3 183.8,322.1z" fill="#110068"/>
<path d="M183.8,322.1 186.9,323.3 190,322.1 186.9,321z" fill="#0b0068"/>
<path d="M186.9,321 190,322.1 193,321 190,319.8z" fill="#060068"/>
<path d="M190,319.8 193,321 196.1,319.8 193,318.7z" fill="#020067"/>
<path d="M193,318.7 196.1,319.8 199.2,318.7 196.1,317.5z" fill="#000167"/>
<path d="M196.1,317.5 199.2,318.7 202.2,317.5 199.2,316.4z" fill="#000367"/>
<path d="M199.2,316.4 202.2,317.5 205.3,316.4 202.3,315.2z" fill="#000667"/>
<path d="M202.3,315.2 205.3,316.4 208.4,315.2 205.3,314.1z" fill="#000866"/>
<path d="M205.3,314.1 208.4,315.2 211.5,314.1 208.4,312.9z" fill="#000966"/>
<path d="M208.4,312.9 211.5,314.1 214.5,312.9 211.5,311.8z" fill="#000b66"/>
<path d="M211.5,311.8 214.5,312.9 217.6,311.8 214.6,310.6z" fill="#000c65"/>
<path d="M214.6,310.6 217.6,311.8 220.7,310.6 217.6,309.5z" fill="#000d65"/>
<path d="M217.6,309.5 220.7,310.6 223.8,309.5 220.7,308.3z" fill="#000e65"/>
<path d="M220.7,308.3 223.8,309.5 226.8,308.3 223.8,307.2z" fill="#000e65"/>
<path d="M223.8,307.2 226.8,308.3 229.9,307.2 226.9,306z" fill="#000f64"/>
<path d="M226.9,306 229.9,307.2 233,306 229.9,304.9z" fill="#000f64"/>
<path d="M229.9,304.9 233,306 236.1,304.9 233,303.7z" fill="#001064"/>
<path d="M233,303.7 236.1,304.9 239.1,303.7 236.1,302.6z" fill="#001064"/>
<path d="M236.1,302.6 239.1,303.7 242.2,302.6 239.2,301.4z" fill="#001063"/>
<path d="M239.2,301.4 242.2,302.6 245.3,301.4 242.2,300.2z" fill="#001063"/>
</g></g>
<g fill="#000">
<circle cx="104.4" cy="285.2" r="1.35"/>
<circle cx="146.8" cy="285.2" r="1.35"/>
<circle cx="189.6" cy="285.2" r="1.35"/>
<circle cx="104.4" cy="301.2" r="1.35"/>
<circle cx="146.8" cy="301.2" r="1.35"/>
<circle cx="189.6" cy="301.2" r="1.35"/>
<circle cx="104.4" cy="317.4" r="1.35"/>
<circle cx="146.8" cy="317.4" r="1.35"/>
<circle cx="189.6" cy="317.4" r="1.35"/>
</g>
<g fill="none" stroke="#1a1a1a" stroke-width="1.1">
<polyline points="53.5,280.1 53.5,369.8 148.7,407.1 244.1,370.1"/>
<line x1="50.4" y1="368.6" x2="53.5" y2="369.8" stroke="#1a1a1a" stroke-width="1.1"/>
<line x1="50.4" y1="346.2" x2="53.5" y2="347.4" stroke="#1a1a1a" stroke-width="1.1"/>
<line x1="50.4" y1="323.7" x2="53.5" y2="325" stroke="#1a1a1a" stroke-width="1.1"/>
<line x1="50.4" y1="301.3" x2="53.5" y2="302.5" stroke="#1a1a1a" stroke-width="1.1"/>
<line x1="50.4" y1="278.9" x2="53.5" y2="280.1" stroke="#1a1a1a" stroke-width="1.1"/>
<line x1="61.3" y1="372.9" x2="58.9" y2="373.8" stroke="#1a1a1a" stroke-width="1.1"/>
<line x1="105" y1="390" x2="102.6" y2="390.9" stroke="#1a1a1a" stroke-width="1.1"/>
<line x1="148.7" y1="407.1" x2="146.3" y2="408" stroke="#1a1a1a" stroke-width="1.1"/>
<line x1="177.3" y1="396" x2="179.7" y2="396.9" stroke="#1a1a1a" stroke-width="1.1"/>
<line x1="244.1" y1="370.1" x2="246.5" y2="371" stroke="#1a1a1a" stroke-width="1.1"/>
</g>
<text x="44.7" y="373.7" text-anchor="end">1.35</text>
<text x="44.7" y="351.3" text-anchor="end">1.4</text>
<text x="44.7" y="328.9" text-anchor="end">1.45</text>
<text x="44.7" y="306.4" text-anchor="end">1.5</text>
<text x="44.7" y="284" text-anchor="end">1.55</text>
<text y="263.1"><tspan x="24.4" font-size="15.5">×</tspan><tspan x="35.4">10</tspan><tspan x="48.9" dy="-7.6" font-size="9.6">6</tspan></text>
<text transform="translate(12,311) rotate(-90)" text-anchor="middle" font-size="13.7">S (VA)</text>
<text x="43.6" y="388.9" text-anchor="middle">450</text>
<text x="87.4" y="405.8" text-anchor="middle">500</text>
<text x="131" y="422.7" text-anchor="middle">550</text>
<text x="65.8" y="429.9" text-anchor="middle" font-size="13.7">h (mm)</text>
<text x="191" y="412.1" text-anchor="middle">30</text>
<text x="258.8" y="385.7" text-anchor="middle">35</text>
<text x="229.2" y="429.9" text-anchor="middle" font-size="13.7">b2 (mm)</text>
<text x="150.6" y="241.2" text-anchor="middle" font-weight="bold" fill="#000">(c)</text>
<g fill="none" stroke-linecap="butt">
<line x1="342.7" y1="372.9" x2="439.2" y2="336.8" stroke="#d6d6d6" stroke-width="1"/>
<line x1="439.2" y1="336.8" x2="438.4" y2="247.4" stroke="#d6d6d6" stroke-width="1"/>
<line x1="386.3" y1="389.9" x2="482.6" y2="353.6" stroke="#d6d6d6" stroke-width="1"/>
<line x1="482.6" y1="353.6" x2="482.2" y2="264" stroke="#d6d6d6" stroke-width="1"/>
<line x1="454.5" y1="397.5" x2="359.2" y2="360.6" stroke="#d6d6d6" stroke-width="1"/>
<line x1="359.2" y1="360.6" x2="359" y2="270.9" stroke="#d6d6d6" stroke-width="1"/>
<line x1="501.8" y1="379.3" x2="407.1" y2="342.3" stroke="#d6d6d6" stroke-width="1"/>
<line x1="407.1" y1="342.3" x2="406.4" y2="252.8" stroke="#d6d6d6" stroke-width="1"/>
<polyline points="334.9,347.4 430.3,311 525.4,347.8" stroke="#d6d6d6"/>
<polyline points="334.9,325 430.1,288.7 525.4,325.4" stroke="#d6d6d6"/>
<polyline points="334.9,302.5 429.8,266.4 525.4,302.9" stroke="#d6d6d6"/>
<polyline points="334.9,369.8 430.5,333.4 525.4,370.2" stroke="#cfcfcf"/>
<polyline points="334.9,280.1 429.6,244 525.4,280.5 525.4,370.2" stroke="#cfcfcf"/>
</g>
<clipPath id="c4"><path d="M346.8,300 431.6,331.6 501.3,305.5 417,274.2z"/></clipPath>
<g clip-path="url(#c4)"><g filter="url(#bl1_0)" shape-rendering="crispEdges">
<path d="M334.4,299.5 337.5,300.7 340,299.7 336.9,298.6z" fill="#1e7500"/>
<path d="M336.9,298.6 340,299.7 342.6,298.8 339.5,297.7z" fill="#1e7500"/>
<path d="M339.5,297.7 342.6,298.8 345.1,297.9 342,296.7z" fill="#297500"/>
<path d="M342,296.7 345.1,297.9 347.7,296.9 344.6,295.8z" fill="#497400"/>
<path d="M344.6,295.8 347.7,296.9 350.2,296 347.1,294.9z" fill="#647300"/>
<path d="M347.1,294.9 350.2,296 352.7,295.1 349.7,293.9z" fill="#726900"/>
<path d="M349.7,293.9 352.7,295.1 355.3,294.1 352.2,293z" fill="#715400"/>
<path d="M352.2,293 355.3,294.1 357.8,293.2 354.8,292.1z" fill="#704300"/>
<path d="M354.8,292.1 357.8,293.2 360.4,292.3 357.3,291.1z" fill="#6f3500"/>
<path d="M357.3,291.1 360.4,292.3 362.9,291.3 359.9,290.2z" fill="#6e2900"/>
<path d="M359.9,290.2 362.9,291.3 365.5,290.4 362.4,289.3z" fill="#6d2000"/>
<path d="M362.4,289.3 365.5,290.4 368,289.5 365,288.3z" fill="#6c1800"/>
<path d="M365,288.3 368,289.5 370.6,288.5 367.5,287.4z" fill="#6b1200"/>
<path d="M367.5,287.4 370.6,288.5 373.1,287.6 370,286.5z" fill="#6a0d00"/>
<path d="M370,286.5 373.1,287.6 375.7,286.7 372.6,285.5z" fill="#690a00"/>
<path d="M372.6,285.5 375.7,286.7 378.2,285.7 375.1,284.6z" fill="#680700"/>
<path d="M375.1,284.6 378.2,285.7 380.7,284.8 377.7,283.6z" fill="#670500"/>
<path d="M377.7,283.6 380.7,284.8 383.3,283.9 380.2,282.7z" fill="#660300"/>
<path d="M380.2,282.7 383.3,283.9 385.8,282.9 382.8,281.8z" fill="#650200"/>
<path d="M382.8,281.8 385.8,282.9 388.4,282 385.3,280.8z" fill="#640100"/>
<path d="M385.3,280.8 388.4,282 390.9,281.1 387.9,279.9z" fill="#630100"/>
<path d="M387.9,279.9 390.9,281.1 393.5,280.1 390.4,279z" fill="#620000"/>
<path d="M390.4,279 393.5,280.1 396,279.2 393,278z" fill="#610000"/>
<path d="M393,278 396,279.2 398.6,278.2 395.5,277.1z" fill="#600000"/>
<path d="M395.5,277.1 398.6,278.2 401.1,277.3 398.1,276.2z" fill="#5f0000"/>
<path d="M398.1,276.2 401.1,277.3 403.7,276.4 400.6,275.2z" fill="#5e0000"/>
<path d="M400.6,275.2 403.7,276.4 406.2,275.4 403.1,274.3z" fill="#5d0000"/>
<path d="M403.1,274.3 406.2,275.4 408.7,274.5 405.7,273.4z" fill="#5c0000"/>
<path d="M405.7,273.4 408.7,274.5 411.3,273.6 408.2,272.4z" fill="#5b0000"/>
<path d="M408.2,272.4 411.3,273.6 413.8,272.6 410.8,271.5z" fill="#5a0000"/>
<path d="M410.8,271.5 413.8,272.6 416.4,271.7 413.3,270.6z" fill="#590000"/>
<path d="M413.3,270.6 416.4,271.7 418.9,270.8 415.9,269.6z" fill="#590000"/>
<path d="M337.5,300.7 340.5,301.8 343.1,300.9 340,299.7z" fill="#1e7500"/>
<path d="M340,299.7 343.1,300.9 345.6,300 342.6,298.8z" fill="#1e7500"/>
<path d="M342.6,298.8 345.6,300 348.2,299 345.1,297.9z" fill="#297500"/>
<path d="M345.1,297.9 348.2,299 350.7,298.1 347.7,296.9z" fill="#497400"/>
<path d="M347.7,296.9 350.7,298.1 353.3,297.2 350.2,296z" fill="#647300"/>
<path d="M350.2,296 353.3,297.2 355.8,296.2 352.7,295.1z" fill="#726900"/>
<path d="M352.7,295.1 355.8,296.2 358.4,295.3 355.3,294.1z" fill="#715400"/>
<path d="M355.3,294.1 358.4,295.3 360.9,294.3 357.8,293.2z" fill="#704300"/>
<path d="M357.8,293.2 360.9,294.3 363.5,293.4 360.4,292.3z" fill="#6f3500"/>
<path d="M360.4,292.3 363.5,293.4 366,292.5 362.9,291.3z" fill="#6e2900"/>
<path d="M362.9,291.3 366,292.5 368.5,291.5 365.5,290.4z" fill="#6d2000"/>
<path d="M365.5,290.4 368.5,291.5 371.1,290.6 368,289.5z" fill="#6c1800"/>
<path d="M368,289.5 371.1,290.6 373.6,289.7 370.6,288.5z" fill="#6b1200"/>
<path d="M370.6,288.5 373.6,289.7 376.2,288.7 373.1,287.6z" fill="#6a0d00"/>
<path d="M373.1,287.6 376.2,288.7 378.7,287.8 375.7,286.7z" fill="#690a00"/>
<path d="M375.7,286.7 378.7,287.8 381.3,286.9 378.2,285.7z" fill="#680700"/>
<path d="M378.2,285.7 381.3,286.9 383.8,285.9 380.7,284.8z" fill="#670500"/>
<path d="M380.7,284.8 383.8,285.9 386.4,285 383.3,283.9z" fill="#660300"/>
<path d="M383.3,283.9 386.4,285 388.9,284.1 385.8,282.9z" fill="#650200"/>
<path d="M385.8,282.9 388.9,284.1 391.4,283.1 388.4,282z" fill="#640100"/>
<path d="M388.4,282 391.4,283.1 394,282.2 390.9,281.1z" fill="#630100"/>
<path d="M390.9,281.1 394,282.2 396.5,281.3 393.5,280.1z" fill="#620000"/>
<path d="M393.5,280.1 396.5,281.3 399.1,280.3 396,279.2z" fill="#610000"/>
<path d="M396,279.2 399.1,280.3 401.6,279.4 398.6,278.2z" fill="#600000"/>
<path d="M398.6,278.2 401.6,279.4 404.2,278.4 401.1,277.3z" fill="#5f0000"/>
<path d="M401.1,277.3 404.2,278.4 406.7,277.5 403.7,276.4z" fill="#5e0000"/>
<path d="M403.7,276.4 406.7,277.5 409.3,276.6 406.2,275.4z" fill="#5d0000"/>
<path d="M406.2,275.4 409.3,276.6 411.8,275.6 408.7,274.5z" fill="#5c0000"/>
<path d="M408.7,274.5 411.8,275.6 414.3,274.7 411.3,273.6z" fill="#5b0000"/>
<path d="M411.3,273.6 414.3,274.7 416.9,273.8 413.8,272.6z" fill="#5a0000"/>
<path d="M413.8,272.6 416.9,273.8 419.4,272.8 416.4,271.7z" fill="#590000"/>
<path d="M416.4,271.7 419.4,272.8 422,271.9 418.9,270.8z" fill="#590000"/>
<path d="M340.5,301.8 343.6,303 346.2,302 343.1,300.9z" fill="#1e7500"/>
<path d="M343.1,300.9 346.2,302 348.7,301.1 345.6,300z" fill="#1e7500"/>
<path d="M345.6,300 348.7,301.1 351.3,300.2 348.2,299z" fill="#297500"/>
<path d="M348.2,299 351.3,300.2 353.8,299.2 350.7,298.1z" fill="#497400"/>
<path d="M350.7,298.1 353.8,299.2 356.3,298.3 353.3,297.2z" fill="#647300"/>
<path d="M353.3,297.2 356.3,298.3 358.9,297.4 355.8,296.2z" fill="#726900"/>
<path d="M355.8,296.2 358.9,297.4 361.4,296.4 358.4,295.3z" fill="#715400"/>
<path d="M358.4,295.3 361.4,296.4 364,295.5 360.9,294.3z" fill="#704300"/>
<path d="M360.9,294.3 364,295.5 366.5,294.6 363.5,293.4z" fill="#6f3500"/>
<path d="M363.5,293.4 366.5,294.6 369.1,293.6 366,292.5z" fill="#6e2900"/>
<path d="M366,292.5 369.1,293.6 371.6,292.7 368.5,291.5z" fill="#6d2000"/>
<path d="M368.5,291.5 371.6,292.7 374.2,291.7 371.1,290.6z" fill="#6c1800"/>
<path d="M371.1,290.6 374.2,291.7 376.7,290.8 373.6,289.7z" fill="#6b1200"/>
<path d="M373.6,289.7 376.7,290.8 379.2,289.9 376.2,288.7z" fill="#6a0d00"/>
<path d="M376.2,288.7 379.2,289.9 381.8,288.9 378.7,287.8z" fill="#690a00"/>
<path d="M378.7,287.8 381.8,288.9 384.3,288 381.3,286.9z" fill="#680700"/>
<path d="M381.3,286.9 384.3,288 386.9,287.1 383.8,285.9z" fill="#670500"/>
<path d="M383.8,285.9 386.9,287.1 389.4,286.1 386.4,285z" fill="#660300"/>
<path d="M386.4,285 389.4,286.1 392,285.2 388.9,284.1z" fill="#650200"/>
<path d="M388.9,284.1 392,285.2 394.5,284.3 391.4,283.1z" fill="#640100"/>
<path d="M391.4,283.1 394.5,284.3 397.1,283.3 394,282.2z" fill="#630100"/>
<path d="M394,282.2 397.1,283.3 399.6,282.4 396.5,281.3z" fill="#620000"/>
<path d="M396.5,281.3 399.6,282.4 402.1,281.5 399.1,280.3z" fill="#610000"/>
<path d="M399.1,280.3 402.1,281.5 404.7,280.5 401.6,279.4z" fill="#600000"/>
<path d="M401.6,279.4 404.7,280.5 407.2,279.6 404.2,278.4z" fill="#5f0000"/>
<path d="M404.2,278.4 407.2,279.6 409.8,278.6 406.7,277.5z" fill="#5e0000"/>
<path d="M406.7,277.5 409.8,278.6 412.3,277.7 409.3,276.6z" fill="#5d0000"/>
<path d="M409.3,276.6 412.3,277.7 414.9,276.8 411.8,275.6z" fill="#5c0000"/>
<path d="M411.8,275.6 414.9,276.8 417.4,275.8 414.3,274.7z" fill="#5b0000"/>
<path d="M414.3,274.7 417.4,275.8 420,274.9 416.9,273.8z" fill="#5a0000"/>
<path d="M416.9,273.8 420,274.9 422.5,274 419.4,272.8z" fill="#590000"/>
<path d="M419.4,272.8 422.5,274 425,273 422,271.9z" fill="#590000"/>
<path d="M343.6,303 346.7,304.1 349.2,303.2 346.2,302z" fill="#1e7500"/>
<path d="M346.2,302 349.2,303.2 351.8,302.2 348.7,301.1z" fill="#1e7500"/>
<path d="M348.7,301.1 351.8,302.2 354.3,301.3 351.3,300.2z" fill="#297500"/>
<path d="M351.3,300.2 354.3,301.3 356.9,300.4 353.8,299.2z" fill="#497400"/>
<path d="M353.8,299.2 356.9,300.4 359.4,299.4 356.3,298.3z" fill="#647300"/>
<path d="M356.3,298.3 359.4,299.4 362,298.5 358.9,297.4z" fill="#726900"/>
<path d="M358.9,297.4 362,298.5 364.5,297.6 361.4,296.4z" fill="#715400"/>
<path d="M361.4,296.4 364.5,297.6 367,296.6 364,295.5z" fill="#704300"/>
<path d="M364,295.5 367,296.6 369.6,295.7 366.5,294.6z" fill="#6f3500"/>
<path d="M366.5,294.6 369.6,295.7 372.1,294.8 369.1,293.6z" fill="#6e2900"/>
<path d="M369.1,293.6 372.1,294.8 374.7,293.8 371.6,292.7z" fill="#6d2000"/>
<path d="M371.6,292.7 374.7,293.8 377.2,292.9 374.2,291.7z" fill="#6c1800"/>
<path d="M374.2,291.7 377.2,292.9 379.8,292 376.7,290.8z" fill="#6b1200"/>
<path d="M376.7,290.8 379.8,292 382.3,291 379.2,289.9z" fill="#6a0d00"/>
<path d="M379.2,289.9 382.3,291 384.9,290.1 381.8,288.9z" fill="#690a00"/>
<path d="M381.8,288.9 384.9,290.1 387.4,289.1 384.3,288z" fill="#680700"/>
<path d="M384.3,288 387.4,289.1 389.9,288.2 386.9,287.1z" fill="#670500"/>
<path d="M386.9,287.1 389.9,288.2 392.5,287.3 389.4,286.1z" fill="#660300"/>
<path d="M389.4,286.1 392.5,287.3 395,286.3 392,285.2z" fill="#650200"/>
<path d="M392,285.2 395,286.3 397.6,285.4 394.5,284.3z" fill="#640100"/>
<path d="M394.5,284.3 397.6,285.4 400.1,284.5 397.1,283.3z" fill="#630100"/>
<path d="M397.1,283.3 400.1,284.5 402.7,283.5 399.6,282.4z" fill="#620000"/>
<path d="M399.6,282.4 402.7,283.5 405.2,282.6 402.1,281.5z" fill="#610000"/>
<path d="M402.1,281.5 405.2,282.6 407.7,281.7 404.7,280.5z" fill="#600000"/>
<path d="M404.7,280.5 407.7,281.7 410.3,280.7 407.2,279.6z" fill="#5f0000"/>
<path d="M407.2,279.6 410.3,280.7 412.8,279.8 409.8,278.6z" fill="#5e0000"/>
<path d="M409.8,278.6 412.8,279.8 415.4,278.8 412.3,277.7z" fill="#5d0000"/>
<path d="M412.3,277.7 415.4,278.8 417.9,277.9 414.9,276.8z" fill="#5c0000"/>
<path d="M414.9,276.8 417.9,277.9 420.5,277 417.4,275.8z" fill="#5b0000"/>
<path d="M417.4,275.8 420.5,277 423,276 420,274.9z" fill="#5a0000"/>
<path d="M420,274.9 423,276 425.5,275.1 422.5,274z" fill="#5a0000"/>
<path d="M422.5,274 425.5,275.1 428.1,274.2 425,273z" fill="#5a0000"/>
<path d="M346.7,304.1 349.8,305.3 352.3,304.3 349.2,303.2z" fill="#1e7400"/>
<path d="M349.2,303.2 352.3,304.3 354.9,303.4 351.8,302.2z" fill="#1e7400"/>
<path d="M351.8,302.2 354.9,303.4 357.4,302.5 354.3,301.3z" fill="#287400"/>
<path d="M354.3,301.3 357.4,302.5 359.9,301.5 356.9,300.4z" fill="#487300"/>
<path d="M356.9,300.4 359.9,301.5 362.5,300.6 359.4,299.4z" fill="#637200"/>
<path d="M359.4,299.4 362.5,300.6 365,299.6 362,298.5z" fill="#716900"/>
<path d="M362,298.5 365,299.6 367.6,298.7 364.5,297.6z" fill="#705400"/>
<path d="M364.5,297.6 367.6,298.7 370.1,297.8 367,296.6z" fill="#6f4300"/>
<path d="M367,296.6 370.1,297.8 372.7,296.8 369.6,295.7z" fill="#6e3500"/>
<path d="M369.6,295.7 372.7,296.8 375.2,295.9 372.1,294.8z" fill="#6d2900"/>
<path d="M372.1,294.8 375.2,295.9 377.7,295 374.7,293.8z" fill="#6d2000"/>
<path d="M374.7,293.8 377.7,295 380.3,294 377.2,292.9z" fill="#6c1800"/>
<path d="M377.2,292.9 380.3,294 382.8,293.1 379.8,292z" fill="#6b1200"/>
<path d="M379.8,292 382.8,293.1 385.4,292.2 382.3,291z" fill="#6a0d00"/>
<path d="M382.3,291 385.4,292.2 387.9,291.2 384.9,290.1z" fill="#690a00"/>
<path d="M384.9,290.1 387.9,291.2 390.5,290.3 387.4,289.1z" fill="#680700"/>
<path d="M387.4,289.1 390.5,290.3 393,289.3 389.9,288.2z" fill="#670500"/>
<path d="M389.9,288.2 393,289.3 395.5,288.4 392.5,287.3z" fill="#660300"/>
<path d="M392.5,287.3 395.5,288.4 398.1,287.5 395,286.3z" fill="#650200"/>
<path d="M395,286.3 398.1,287.5 400.6,286.5 397.6,285.4z" fill="#640100"/>
<path d="M397.6,285.4 400.6,286.5 403.2,285.6 400.1,284.5z" fill="#630100"/>
<path d="M400.1,284.5 403.2,285.6 405.7,284.7 402.7,283.5z" fill="#620100"/>
<path d="M402.7,283.5 405.7,284.7 408.3,283.7 405.2,282.6z" fill="#610000"/>
<path d="M405.2,282.6 408.3,283.7 410.8,282.8 407.7,281.7z" fill="#600000"/>
<path d="M407.7,281.7 410.8,282.8 413.3,281.9 410.3,280.7z" fill="#5f0000"/>
<path d="M410.3,280.7 413.3,281.9 415.9,280.9 412.8,279.8z" fill="#5e0000"/>
<path d="M412.8,279.8 415.9,280.9 418.4,280 415.4,278.8z" fill="#5d0000"/>
<path d="M415.4,278.8 418.4,280 421,279 417.9,277.9z" fill="#5c0000"/>
<path d="M417.9,277.9 421,279 423.5,278.1 420.5,277z" fill="#5b0000"/>
<path d="M420.5,277 423.5,278.1 426.1,277.2 423,276z" fill="#5a0000"/>
<path d="M423,276 426.1,277.2 428.6,276.2 425.5,275.1z" fill="#5a0000"/>
<path d="M425.5,275.1 428.6,276.2 431.1,275.3 428.1,274.2z" fill="#5a0000"/>
<path d="M349.8,305.3 352.8,306.4 355.4,305.5 352.3,304.3z" fill="#1d7400"/>
<path d="M352.3,304.3 355.4,305.5 357.9,304.5 354.9,303.4z" fill="#1d7400"/>
<path d="M354.9,303.4 357.9,304.5 360.5,303.6 357.4,302.5z" fill="#287400"/>
<path d="M357.4,302.5 360.5,303.6 363,302.7 359.9,301.5z" fill="#487300"/>
<path d="M359.9,301.5 363,302.7 365.6,301.7 362.5,300.6z" fill="#637200"/>
<path d="M362.5,300.6 365.6,301.7 368.1,300.8 365,299.6z" fill="#716900"/>
<path d="M365,299.6 368.1,300.8 370.6,299.9 367.6,298.7z" fill="#705400"/>
<path d="M367.6,298.7 370.6,299.9 373.2,298.9 370.1,297.8z" fill="#6f4300"/>
<path d="M370.1,297.8 373.2,298.9 375.7,298 372.7,296.8z" fill="#6e3500"/>
<path d="M372.7,296.8 375.7,298 378.3,297 375.2,295.9z" fill="#6d2a00"/>
<path d="M375.2,295.9 378.3,297 380.8,296.1 377.7,295z" fill="#6c2000"/>
<path d="M377.7,295 380.8,296.1 383.4,295.2 380.3,294z" fill="#6b1900"/>
<path d="M380.3,294 383.4,295.2 385.9,294.2 382.8,293.1z" fill="#6b1200"/>
<path d="M382.8,293.1 385.9,294.2 388.4,293.3 385.4,292.2z" fill="#6a0e00"/>
<path d="M385.4,292.2 388.4,293.3 391,292.4 387.9,291.2z" fill="#690a00"/>
<path d="M387.9,291.2 391,292.4 393.5,291.4 390.5,290.3z" fill="#680700"/>
<path d="M390.5,290.3 393.5,291.4 396.1,290.5 393,289.3z" fill="#670500"/>
<path d="M393,289.3 396.1,290.5 398.6,289.6 395.5,288.4z" fill="#660400"/>
<path d="M395.5,288.4 398.6,289.6 401.2,288.6 398.1,287.5z" fill="#650200"/>
<path d="M398.1,287.5 401.2,288.6 403.7,287.7 400.6,286.5z" fill="#640200"/>
<path d="M400.6,286.5 403.7,287.7 406.2,286.7 403.2,285.6z" fill="#630100"/>
<path d="M403.2,285.6 406.2,286.7 408.8,285.8 405.7,284.7z" fill="#620100"/>
<path d="M405.7,284.7 408.8,285.8 411.3,284.9 408.3,283.7z" fill="#610100"/>
<path d="M408.3,283.7 411.3,284.9 413.9,283.9 410.8,282.8z" fill="#600000"/>
<path d="M410.8,282.8 413.9,283.9 416.4,283 413.3,281.9z" fill="#5f0000"/>
<path d="M413.3,281.9 416.4,283 418.9,282.1 415.9,280.9z" fill="#5e0000"/>
<path d="M415.9,280.9 418.9,282.1 421.5,281.1 418.4,280z" fill="#5e0000"/>
<path d="M418.4,280 421.5,281.1 424,280.2 421,279z" fill="#5d0000"/>
<path d="M421,279 424,280.2 426.6,279.2 423.5,278.1z" fill="#5c0000"/>
<path d="M423.5,278.1 426.6,279.2 429.1,278.3 426.1,277.2z" fill="#5b0000"/>
<path d="M426.1,277.2 429.1,278.3 431.7,277.4 428.6,276.2z" fill="#5a0000"/>
<path d="M428.6,276.2 431.7,277.4 434.2,276.4 431.1,275.3z" fill="#5a0000"/>
<path d="M352.8,306.4 355.9,307.6 358.5,306.6 355.4,305.5z" fill="#1d7400"/>
<path d="M355.4,305.5 358.5,306.6 361,305.7 357.9,304.5z" fill="#1d7400"/>
<path d="M357.9,304.5 361,305.7 363.5,304.7 360.5,303.6z" fill="#277300"/>
<path d="M360.5,303.6 363.5,304.7 366.1,303.8 363,302.7z" fill="#477300"/>
<path d="M363,302.7 366.1,303.8 368.6,302.9 365.6,301.7z" fill="#627200"/>
<path d="M365.6,301.7 368.6,302.9 371.2,301.9 368.1,300.8z" fill="#716900"/>
<path d="M368.1,300.8 371.2,301.9 373.7,301 370.6,299.9z" fill="#705500"/>
<path d="M370.6,299.9 373.7,301 376.3,300.1 373.2,298.9z" fill="#6f4400"/>
<path d="M373.2,298.9 376.3,300.1 378.8,299.1 375.7,298z" fill="#6e3600"/>
<path d="M375.7,298 378.8,299.1 381.3,298.2 378.3,297z" fill="#6d2a00"/>
<path d="M378.3,297 381.3,298.2 383.9,297.3 380.8,296.1z" fill="#6c2100"/>
<path d="M380.8,296.1 383.9,297.3 386.4,296.3 383.4,295.2z" fill="#6b1900"/>
<path d="M383.4,295.2 386.4,296.3 389,295.4 385.9,294.2z" fill="#6a1300"/>
<path d="M385.9,294.2 389,295.4 391.5,294.4 388.4,293.3z" fill="#6a0e00"/>
<path d="M388.4,293.3 391.5,294.4 394,293.5 391,292.4z" fill="#690a00"/>
<path d="M391,292.4 394,293.5 396.6,292.6 393.5,291.4z" fill="#680800"/>
<path d="M393.5,291.4 396.6,292.6 399.1,291.6 396.1,290.5z" fill="#670600"/>
<path d="M396.1,290.5 399.1,291.6 401.7,290.7 398.6,289.6z" fill="#660400"/>
<path d="M398.6,289.6 401.7,290.7 404.2,289.8 401.2,288.6z" fill="#650300"/>
<path d="M401.2,288.6 404.2,289.8 406.8,288.8 403.7,287.7z" fill="#640200"/>
<path d="M403.7,287.7 406.8,288.8 409.3,287.9 406.2,286.7z" fill="#630100"/>
<path d="M406.2,286.7 409.3,287.9 411.8,286.9 408.8,285.8z" fill="#620100"/>
<path d="M408.8,285.8 411.8,286.9 414.4,286 411.3,284.9z" fill="#610100"/>
<path d="M411.3,284.9 414.4,286 416.9,285.1 413.9,283.9z" fill="#610100"/>
<path d="M413.9,283.9 416.9,285.1 419.5,284.1 416.4,283z" fill="#600100"/>
<path d="M416.4,283 419.5,284.1 422,283.2 418.9,282.1z" fill="#5f0100"/>
<path d="M418.9,282.1 422,283.2 424.5,282.3 421.5,281.1z" fill="#5e0100"/>
<path d="M421.5,281.1 424.5,282.3 427.1,281.3 424,280.2z" fill="#5d0100"/>
<path d="M424,280.2 427.1,281.3 429.6,280.4 426.6,279.2z" fill="#5c0100"/>
<path d="M426.6,279.2 429.6,280.4 432.2,279.4 429.1,278.3z" fill="#5b0100"/>
<path d="M429.1,278.3 432.2,279.4 434.7,278.5 431.7,277.4z" fill="#5b0100"/>
<path d="M431.7,277.4 434.7,278.5 437.3,277.6 434.2,276.4z" fill="#5b0100"/>
<path d="M355.9,307.6 359,308.7 361.5,307.8 358.5,306.6z" fill="#1b7300"/>
<path d="M358.5,306.6 361.5,307.8 364.1,306.8 361,305.7z" fill="#1b7300"/>
<path d="M361,305.7 364.1,306.8 366.6,305.9 363.5,304.7z" fill="#267300"/>
<path d="M363.5,304.7 366.6,305.9 369.2,305 366.1,303.8z" fill="#467200"/>
<path d="M366.1,303.8 369.2,305 371.7,304 368.6,302.9z" fill="#607100"/>
<path d="M368.6,302.9 371.7,304 374.2,303.1 371.2,301.9z" fill="#706a00"/>
<path d="M371.2,301.9 374.2,303.1 376.8,302.1 373.7,301z" fill="#705600"/>
<path d="M373.7,301 376.8,302.1 379.3,301.2 376.3,300.1z" fill="#6f4500"/>
<path d="M376.3,300.1 379.3,301.2 381.9,300.3 378.8,299.1z" fill="#6e3700"/>
<path d="M378.8,299.1 381.9,300.3 384.4,299.3 381.3,298.2z" fill="#6d2b00"/>
<path d="M381.3,298.2 384.4,299.3 387,298.4 383.9,297.3z" fill="#6c2100"/>
<path d="M383.9,297.3 387,298.4 389.5,297.5 386.4,296.3z" fill="#6b1a00"/>
<path d="M386.4,296.3 389.5,297.5 392,296.5 389,295.4z" fill="#6a1400"/>
<path d="M389,295.4 392,296.5 394.6,295.6 391.5,294.4z" fill="#690f00"/>
<path d="M391.5,294.4 394.6,295.6 397.1,294.6 394,293.5z" fill="#690b00"/>
<path d="M394,293.5 397.1,294.6 399.7,293.7 396.6,292.6z" fill="#680800"/>
<path d="M396.6,292.6 399.7,293.7 402.2,292.8 399.1,291.6z" fill="#670600"/>
<path d="M399.1,291.6 402.2,292.8 404.7,291.8 401.7,290.7z" fill="#660500"/>
<path d="M401.7,290.7 404.7,291.8 407.3,290.9 404.2,289.8z" fill="#650400"/>
<path d="M404.2,289.8 407.3,290.9 409.8,290 406.8,288.8z" fill="#640300"/>
<path d="M406.8,288.8 409.8,290 412.4,289 409.3,287.9z" fill="#630200"/>
<path d="M409.3,287.9 412.4,289 414.9,288.1 411.8,286.9z" fill="#620200"/>
<path d="M411.8,286.9 414.9,288.1 417.4,287.1 414.4,286z" fill="#620200"/>
<path d="M414.4,286 417.4,287.1 420,286.2 416.9,285.1z" fill="#610100"/>
<path d="M416.9,285.1 420,286.2 422.5,285.3 419.5,284.1z" fill="#600100"/>
<path d="M419.5,284.1 422.5,285.3 425.1,284.3 422,283.2z" fill="#5f0100"/>
<path d="M422,283.2 425.1,284.3 427.6,283.4 424.5,282.3z" fill="#5e0100"/>
<path d="M424.5,282.3 427.6,283.4 430.1,282.5 427.1,281.3z" fill="#5d0100"/>
<path d="M427.1,281.3 430.1,282.5 432.7,281.5 429.6,280.4z" fill="#5c0100"/>
<path d="M429.6,280.4 432.7,281.5 435.2,280.6 432.2,279.4z" fill="#5b0100"/>
<path d="M432.2,279.4 435.2,280.6 437.8,279.6 434.7,278.5z" fill="#5b0100"/>
<path d="M434.7,278.5 437.8,279.6 440.3,278.7 437.3,277.6z" fill="#5b0100"/>
<path d="M359,308.7 362.1,309.9 364.6,308.9 361.5,307.8z" fill="#1a7300"/>
<path d="M361.5,307.8 364.6,308.9 367.2,308 364.1,306.8z" fill="#1a7300"/>
<path d="M364.1,306.8 367.2,308 369.7,307 366.6,305.9z" fill="#247300"/>
<path d="M366.6,305.9 369.7,307 372.2,306.1 369.2,305z" fill="#447200"/>
<path d="M369.2,305 372.2,306.1 374.8,305.2 371.7,304z" fill="#5f7100"/>
<path d="M371.7,304 374.8,305.2 377.3,304.2 374.2,303.1z" fill="#706b00"/>
<path d="M374.2,303.1 377.3,304.2 379.9,303.3 376.8,302.1z" fill="#6f5700"/>
<path d="M376.8,302.1 379.9,303.3 382.4,302.3 379.3,301.2z" fill="#6e4600"/>
<path d="M379.3,301.2 382.4,302.3 384.9,301.4 381.9,300.3z" fill="#6e3800"/>
<path d="M381.9,300.3 384.9,301.4 387.5,300.5 384.4,299.3z" fill="#6d2c00"/>
<path d="M384.4,299.3 387.5,300.5 390,299.5 387,298.4z" fill="#6c2300"/>
<path d="M387,298.4 390,299.5 392.6,298.6 389.5,297.5z" fill="#6b1b00"/>
<path d="M389.5,297.5 392.6,298.6 395.1,297.7 392,296.5z" fill="#6a1500"/>
<path d="M392,296.5 395.1,297.7 397.6,296.7 394.6,295.6z" fill="#691000"/>
<path d="M394.6,295.6 397.6,296.7 400.2,295.8 397.1,294.6z" fill="#690d00"/>
<path d="M397.1,294.6 400.2,295.8 402.7,294.8 399.7,293.7z" fill="#680a00"/>
<path d="M399.7,293.7 402.7,294.8 405.3,293.9 402.2,292.8z" fill="#670700"/>
<path d="M402.2,292.8 405.3,293.9 407.8,293 404.7,291.8z" fill="#660600"/>
<path d="M404.7,291.8 407.8,293 410.3,292 407.3,290.9z" fill="#650500"/>
<path d="M407.3,290.9 410.3,292 412.9,291.1 409.8,290z" fill="#640400"/>
<path d="M409.8,290 412.9,291.1 415.4,290.2 412.4,289z" fill="#630300"/>
<path d="M412.4,289 415.4,290.2 418,289.2 414.9,288.1z" fill="#630300"/>
<path d="M414.9,288.1 418,289.2 420.5,288.3 417.4,287.1z" fill="#620300"/>
<path d="M417.4,287.1 420.5,288.3 423,287.3 420,286.2z" fill="#610200"/>
<path d="M420,286.2 423,287.3 425.6,286.4 422.5,285.3z" fill="#600200"/>
<path d="M422.5,285.3 425.6,286.4 428.1,285.5 425.1,284.3z" fill="#5f0200"/>
<path d="M425.1,284.3 428.1,285.5 430.7,284.5 427.6,283.4z" fill="#5e0200"/>
<path d="M427.6,283.4 430.7,284.5 433.2,283.6 430.1,282.5z" fill="#5e0200"/>
<path d="M430.1,282.5 433.2,283.6 435.7,282.7 432.7,281.5z" fill="#5d0200"/>
<path d="M432.7,281.5 435.7,282.7 438.3,281.7 435.2,280.6z" fill="#5c0200"/>
<path d="M435.2,280.6 438.3,281.7 440.8,280.8 437.8,279.6z" fill="#5c0200"/>
<path d="M437.8,279.6 440.8,280.8 443.4,279.8 440.3,278.7z" fill="#5c0200"/>
<path d="M362.1,309.9 365.2,311 367.7,310.1 364.6,308.9z" fill="#177300"/>
<path d="M364.6,308.9 367.7,310.1 370.2,309.1 367.2,308z" fill="#177300"/>
<path d="M367.2,308 370.2,309.1 372.8,308.2 369.7,307z" fill="#227200"/>
<path d="M369.7,307 372.8,308.2 375.3,307.2 372.2,306.1z" fill="#427200"/>
<path d="M372.2,306.1 375.3,307.2 377.8,306.3 374.8,305.2z" fill="#5c7100"/>
<path d="M374.8,305.2 377.8,306.3 380.4,305.4 377.3,304.2z" fill="#706d00"/>
<path d="M377.3,304.2 380.4,305.4 382.9,304.4 379.9,303.3z" fill="#6f5900"/>
<path d="M379.9,303.3 382.9,304.4 385.5,303.5 382.4,302.3z" fill="#6e4800"/>
<path d="M382.4,302.3 385.5,303.5 388,302.6 384.9,301.4z" fill="#6d3a00"/>
<path d="M384.9,301.4 388,302.6 390.5,301.6 387.5,300.5z" fill="#6d2e00"/>
<path d="M387.5,300.5 390.5,301.6 393.1,300.7 390,299.5z" fill="#6c2500"/>
<path d="M390,299.5 393.1,300.7 395.6,299.7 392.6,298.6z" fill="#6b1d00"/>
<path d="M392.6,298.6 395.6,299.7 398.2,298.8 395.1,297.7z" fill="#6a1700"/>
<path d="M395.1,297.7 398.2,298.8 400.7,297.9 397.6,296.7z" fill="#691200"/>
<path d="M397.6,296.7 400.7,297.9 403.2,296.9 400.2,295.8z" fill="#690e00"/>
<path d="M400.2,295.8 403.2,296.9 405.8,296 402.7,294.8z" fill="#680b00"/>
<path d="M402.7,294.8 405.8,296 408.3,295 405.3,293.9z" fill="#670900"/>
<path d="M405.3,293.9 408.3,295 410.9,294.1 407.8,293z" fill="#660800"/>
<path d="M407.8,293 410.9,294.1 413.4,293.2 410.3,292z" fill="#650600"/>
<path d="M410.3,292 413.4,293.2 415.9,292.2 412.9,291.1z" fill="#640600"/>
<path d="M412.9,291.1 415.9,292.2 418.5,291.3 415.4,290.2z" fill="#640500"/>
<path d="M415.4,290.2 418.5,291.3 421,290.4 418,289.2z" fill="#630500"/>
<path d="M418,289.2 421,290.4 423.6,289.4 420.5,288.3z" fill="#620400"/>
<path d="M420.5,288.3 423.6,289.4 426.1,288.5 423,287.3z" fill="#610400"/>
<path d="M423,287.3 426.1,288.5 428.6,287.5 425.6,286.4z" fill="#600400"/>
<path d="M425.6,286.4 428.6,287.5 431.2,286.6 428.1,285.5z" fill="#5f0400"/>
<path d="M428.1,285.5 431.2,286.6 433.7,285.7 430.7,284.5z" fill="#5f0400"/>
<path d="M430.7,284.5 433.7,285.7 436.3,284.7 433.2,283.6z" fill="#5e0400"/>
<path d="M433.2,283.6 436.3,284.7 438.8,283.8 435.7,282.7z" fill="#5d0400"/>
<path d="M435.7,282.7 438.8,283.8 441.3,282.8 438.3,281.7z" fill="#5c0400"/>
<path d="M438.3,281.7 441.3,282.8 443.9,281.9 440.8,280.8z" fill="#5c0400"/>
<path d="M440.8,280.8 443.9,281.9 446.4,281 443.4,279.8z" fill="#5c0400"/>
<path d="M365.2,311 368.2,312.1 370.8,311.2 367.7,310.1z" fill="#147200"/>
<path d="M367.7,310.1 370.8,311.2 373.3,310.3 370.2,309.1z" fill="#147200"/>
<path d="M370.2,309.1 373.3,310.3 375.8,309.3 372.8,308.2z" fill="#1f7200"/>
<path d="M372.8,308.2 375.8,309.3 378.4,308.4 375.3,307.2z" fill="#3f7100"/>
<path d="M375.3,307.2 378.4,308.4 380.9,307.5 377.8,306.3z" fill="#597000"/>
<path d="M377.8,306.3 380.9,307.5 383.5,306.5 380.4,305.4z" fill="#706f00"/>
<path d="M380.4,305.4 383.5,306.5 386,305.6 382.9,304.4z" fill="#6f5b00"/>
<path d="M382.9,304.4 386,305.6 388.5,304.6 385.5,303.5z" fill="#6e4a00"/>
<path d="M385.5,303.5 388.5,304.6 391.1,303.7 388,302.6z" fill="#6d3c00"/>
<path d="M388,302.6 391.1,303.7 393.6,302.8 390.5,301.6z" fill="#6c3100"/>
<path d="M390.5,301.6 393.6,302.8 396.2,301.8 393.1,300.7z" fill="#6c2700"/>
<path d="M393.1,300.7 396.2,301.8 398.7,300.9 395.6,299.7z" fill="#6b1f00"/>
<path d="M395.6,299.7 398.7,300.9 401.2,299.9 398.2,298.8z" fill="#6a1900"/>
<path d="M398.2,298.8 401.2,299.9 403.8,299 400.7,297.9z" fill="#691500"/>
<path d="M400.7,297.9 403.8,299 406.3,298.1 403.2,296.9z" fill="#681100"/>
<path d="M403.2,296.9 406.3,298.1 408.9,297.1 405.8,296z" fill="#680e00"/>
<path d="M405.8,296 408.9,297.1 411.4,296.2 408.3,295z" fill="#670c00"/>
<path d="M408.3,295 411.4,296.2 413.9,295.2 410.9,294.1z" fill="#660a00"/>
<path d="M410.9,294.1 413.9,295.2 416.5,294.3 413.4,293.2z" fill="#650900"/>
<path d="M413.4,293.2 416.5,294.3 419,293.4 415.9,292.2z" fill="#640800"/>
<path d="M415.9,292.2 419,293.4 421.5,292.4 418.5,291.3z" fill="#640700"/>
<path d="M418.5,291.3 421.5,292.4 424.1,291.5 421,290.4z" fill="#630700"/>
<path d="M421,290.4 424.1,291.5 426.6,290.6 423.6,289.4z" fill="#620600"/>
<path d="M423.6,289.4 426.6,290.6 429.2,289.6 426.1,288.5z" fill="#610600"/>
<path d="M426.1,288.5 429.2,289.6 431.7,288.7 428.6,287.5z" fill="#610600"/>
<path d="M428.6,287.5 431.7,288.7 434.2,287.7 431.2,286.6z" fill="#600600"/>
<path d="M431.2,286.6 434.2,287.7 436.8,286.8 433.7,285.7z" fill="#5f0600"/>
<path d="M433.7,285.7 436.8,286.8 439.3,285.9 436.3,284.7z" fill="#5e0600"/>
<path d="M436.3,284.7 439.3,285.9 441.9,284.9 438.8,283.8z" fill="#5d0600"/>
<path d="M438.8,283.8 441.9,284.9 444.4,284 441.3,282.8z" fill="#5d0600"/>
<path d="M441.3,282.8 444.4,284 446.9,283 443.9,281.9z" fill="#5c0600"/>
<path d="M443.9,281.9 446.9,283 449.5,282.1 446.4,281z" fill="#5c0600"/>
<path d="M368.2,312.1 371.3,313.3 373.8,312.4 370.8,311.2z" fill="#117200"/>
<path d="M370.8,311.2 373.8,312.4 376.4,311.4 373.3,310.3z" fill="#117200"/>
<path d="M373.3,310.3 376.4,311.4 378.9,310.5 375.8,309.3z" fill="#1b7200"/>
<path d="M375.8,309.3 378.9,310.5 381.5,309.5 378.4,308.4z" fill="#3b7100"/>
<path d="M378.4,308.4 381.5,309.5 384,308.6 380.9,307.5z" fill="#557000"/>
<path d="M380.9,307.5 384,308.6 386.5,307.7 383.5,306.5z" fill="#6c6f00"/>
<path d="M383.5,306.5 386.5,307.7 389.1,306.7 386,305.6z" fill="#6f5f00"/>
<path d="M386,305.6 389.1,306.7 391.6,305.8 388.5,304.6z" fill="#6e4e00"/>
<path d="M388.5,304.6 391.6,305.8 394.1,304.8 391.1,303.7z" fill="#6d4000"/>
<path d="M391.1,303.7 394.1,304.8 396.7,303.9 393.6,302.8z" fill="#6c3400"/>
<path d="M393.6,302.8 396.7,303.9 399.2,303 396.2,301.8z" fill="#6b2b00"/>
<path d="M396.2,301.8 399.2,303 401.8,302 398.7,300.9z" fill="#6b2300"/>
<path d="M398.7,300.9 401.8,302 404.3,301.1 401.2,299.9z" fill="#6a1d00"/>
<path d="M401.2,299.9 404.3,301.1 406.8,300.1 403.8,299z" fill="#691800"/>
<path d="M403.8,299 406.8,300.1 409.4,299.2 406.3,298.1z" fill="#681400"/>
<path d="M406.3,298.1 409.4,299.2 411.9,298.3 408.9,297.1z" fill="#681100"/>
<path d="M408.9,297.1 411.9,298.3 414.5,297.3 411.4,296.2z" fill="#670f00"/>
<path d="M411.4,296.2 414.5,297.3 417,296.4 413.9,295.2z" fill="#660d00"/>
<path d="M413.9,295.2 417,296.4 419.5,295.4 416.5,294.3z" fill="#650c00"/>
<path d="M416.5,294.3 419.5,295.4 422.1,294.5 419,293.4z" fill="#650b00"/>
<path d="M419,293.4 422.1,294.5 424.6,293.6 421.5,292.4z" fill="#640a00"/>
<path d="M421.5,292.4 424.6,293.6 427.1,292.6 424.1,291.5z" fill="#630a00"/>
<path d="M424.1,291.5 427.1,292.6 429.7,291.7 426.6,290.6z" fill="#620900"/>
<path d="M426.6,290.6 429.7,291.7 432.2,290.8 429.2,289.6z" fill="#620900"/>
<path d="M429.2,289.6 432.2,290.8 434.8,289.8 431.7,288.7z" fill="#610900"/>
<path d="M431.7,288.7 434.8,289.8 437.3,288.9 434.2,287.7z" fill="#600900"/>
<path d="M434.2,287.7 437.3,288.9 439.8,287.9 436.8,286.8z" fill="#5f0900"/>
<path d="M436.8,286.8 439.8,287.9 442.4,287 439.3,285.9z" fill="#5e0900"/>
<path d="M439.3,285.9 442.4,287 444.9,286.1 441.9,284.9z" fill="#5e0900"/>
<path d="M441.9,284.9 444.9,286.1 447.5,285.1 444.4,284z" fill="#5d0800"/>
<path d="M444.4,284 447.5,285.1 450,284.2 446.9,283z" fill="#5d0800"/>
<path d="M446.9,283 450,284.2 452.5,283.2 449.5,282.1z" fill="#5d0800"/>
<path d="M371.3,313.3 374.4,314.4 376.9,313.5 373.8,312.4z" fill="#0c7100"/>
<path d="M373.8,312.4 376.9,313.5 379.5,312.6 376.4,311.4z" fill="#0c7100"/>
<path d="M376.4,311.4 379.5,312.6 382,311.6 378.9,310.5z" fill="#167100"/>
<path d="M378.9,310.5 382,311.6 384.5,310.7 381.5,309.5z" fill="#367100"/>
<path d="M381.5,309.5 384.5,310.7 387.1,309.7 384,308.6z" fill="#507000"/>
<path d="M384,308.6 387.1,309.7 389.6,308.8 386.5,307.7z" fill="#676f00"/>
<path d="M386.5,307.7 389.6,308.8 392.1,307.9 389.1,306.7z" fill="#6e6300"/>
<path d="M389.1,306.7 392.1,307.9 394.7,306.9 391.6,305.8z" fill="#6e5200"/>
<path d="M391.6,305.8 394.7,306.9 397.2,306 394.1,304.8z" fill="#6d4400"/>
<path d="M394.1,304.8 397.2,306 399.8,305 396.7,303.9z" fill="#6c3800"/>
<path d="M396.7,303.9 399.8,305 402.3,304.1 399.2,303z" fill="#6b2f00"/>
<path d="M399.2,303 402.3,304.1 404.8,303.2 401.8,302z" fill="#6b2700"/>
<path d="M401.8,302 404.8,303.2 407.4,302.2 404.3,301.1z" fill="#6a2100"/>
<path d="M404.3,301.1 407.4,302.2 409.9,301.3 406.8,300.1z" fill="#691c00"/>
<path d="M406.8,300.1 409.9,301.3 412.4,300.3 409.4,299.2z" fill="#681800"/>
<path d="M409.4,299.2 412.4,300.3 415,299.4 411.9,298.3z" fill="#681500"/>
<path d="M411.9,298.3 415,299.4 417.5,298.5 414.5,297.3z" fill="#671300"/>
<path d="M414.5,297.3 417.5,298.5 420.1,297.5 417,296.4z" fill="#661100"/>
<path d="M417,296.4 420.1,297.5 422.6,296.6 419.5,295.4z" fill="#651000"/>
<path d="M419.5,295.4 422.6,296.6 425.1,295.6 422.1,294.5z" fill="#650f00"/>
<path d="M422.1,294.5 425.1,295.6 427.7,294.7 424.6,293.6z" fill="#640e00"/>
<path d="M424.6,293.6 427.7,294.7 430.2,293.8 427.1,292.6z" fill="#630e00"/>
<path d="M427.1,292.6 430.2,293.8 432.7,292.8 429.7,291.7z" fill="#620d00"/>
<path d="M429.7,291.7 432.7,292.8 435.3,291.9 432.2,290.8z" fill="#620d00"/>
<path d="M432.2,290.8 435.3,291.9 437.8,290.9 434.8,289.8z" fill="#610d00"/>
<path d="M434.8,289.8 437.8,290.9 440.4,290 437.3,288.9z" fill="#600d00"/>
<path d="M437.3,288.9 440.4,290 442.9,289.1 439.8,287.9z" fill="#5f0c00"/>
<path d="M439.8,287.9 442.9,289.1 445.4,288.1 442.4,287z" fill="#5f0c00"/>
<path d="M442.4,287 445.4,288.1 448,287.2 444.9,286.1z" fill="#5e0c00"/>
<path d="M444.9,286.1 448,287.2 450.5,286.3 447.5,285.1z" fill="#5d0c00"/>
<path d="M447.5,285.1 450.5,286.3 453,285.3 450,284.2z" fill="#5d0c00"/>
<path d="M450,284.2 453,285.3 455.6,284.4 452.5,283.2z" fill="#5d0c00"/>
<path d="M374.4,314.4 377.5,315.6 380,314.6 376.9,313.5z" fill="#067100"/>
<path d="M376.9,313.5 380,314.6 382.5,313.7 379.5,312.6z" fill="#067100"/>
<path d="M379.5,312.6 382.5,313.7 385.1,312.8 382,311.6z" fill="#107100"/>
<path d="M382,311.6 385.1,312.8 387.6,311.8 384.5,310.7z" fill="#2f7000"/>
<path d="M384.5,310.7 387.6,311.8 390.1,310.9 387.1,309.7z" fill="#4a6f00"/>
<path d="M387.1,309.7 390.1,310.9 392.7,309.9 389.6,308.8z" fill="#616f00"/>
<path d="M389.6,308.8 392.7,309.9 395.2,309 392.1,307.9z" fill="#6e6900"/>
<path d="M392.1,307.9 395.2,309 397.7,308.1 394.7,306.9z" fill="#6d5800"/>
<path d="M394.7,306.9 397.7,308.1 400.3,307.1 397.2,306z" fill="#6d4a00"/>
<path d="M397.2,306 400.3,307.1 402.8,306.2 399.8,305z" fill="#6c3e00"/>
<path d="M399.8,305 402.8,306.2 405.4,305.2 402.3,304.1z" fill="#6b3400"/>
<path d="M402.3,304.1 405.4,305.2 407.9,304.3 404.8,303.2z" fill="#6a2d00"/>
<path d="M404.8,303.2 407.9,304.3 410.4,303.4 407.4,302.2z" fill="#6a2600"/>
<path d="M407.4,302.2 410.4,303.4 413,302.4 409.9,301.3z" fill="#692100"/>
<path d="M409.9,301.3 413,302.4 415.5,301.5 412.4,300.3z" fill="#681e00"/>
<path d="M412.4,300.3 415.5,301.5 418,300.5 415,299.4z" fill="#681b00"/>
<path d="M415,299.4 418,300.5 420.6,299.6 417.5,298.5z" fill="#671800"/>
<path d="M417.5,298.5 420.6,299.6 423.1,298.7 420.1,297.5z" fill="#661600"/>
<path d="M420.1,297.5 423.1,298.7 425.7,297.7 422.6,296.6z" fill="#651500"/>
<path d="M422.6,296.6 425.7,297.7 428.2,296.8 425.1,295.6z" fill="#651400"/>
<path d="M425.1,295.6 428.2,296.8 430.7,295.8 427.7,294.7z" fill="#641300"/>
<path d="M427.7,294.7 430.7,295.8 433.3,294.9 430.2,293.8z" fill="#631300"/>
<path d="M430.2,293.8 433.3,294.9 435.8,294 432.7,292.8z" fill="#631200"/>
<path d="M432.7,292.8 435.8,294 438.3,293 435.3,291.9z" fill="#621200"/>
<path d="M435.3,291.9 438.3,293 440.9,292.1 437.8,290.9z" fill="#611200"/>
<path d="M437.8,290.9 440.9,292.1 443.4,291.1 440.4,290z" fill="#601100"/>
<path d="M440.4,290 443.4,291.1 446,290.2 442.9,289.1z" fill="#601100"/>
<path d="M442.9,289.1 446,290.2 448.5,289.3 445.4,288.1z" fill="#5f1100"/>
<path d="M445.4,288.1 448.5,289.3 451,288.3 448,287.2z" fill="#5e1100"/>
<path d="M448,287.2 451,288.3 453.6,287.4 450.5,286.3z" fill="#5e1100"/>
<path d="M450.5,286.3 453.6,287.4 456.1,286.4 453,285.3z" fill="#5d1100"/>
<path d="M453,285.3 456.1,286.4 458.6,285.5 455.6,284.4z" fill="#5d1100"/>
<path d="M377.5,315.6 380.5,316.7 383.1,315.8 380,314.6z" fill="#007102"/>
<path d="M380,314.6 383.1,315.8 385.6,314.8 382.5,313.7z" fill="#007102"/>
<path d="M382.5,313.7 385.6,314.8 388.1,313.9 385.1,312.8z" fill="#087100"/>
<path d="M385.1,312.8 388.1,313.9 390.7,313 387.6,311.8z" fill="#287000"/>
<path d="M387.6,311.8 390.7,313 393.2,312 390.1,310.9z" fill="#436f00"/>
<path d="M390.1,310.9 393.2,312 395.7,311.1 392.7,309.9z" fill="#596e00"/>
<path d="M392.7,309.9 395.7,311.1 398.3,310.1 395.2,309z" fill="#6c6e00"/>
<path d="M395.2,309 398.3,310.1 400.8,309.2 397.7,308.1z" fill="#6d5f00"/>
<path d="M397.7,308.1 400.8,309.2 403.4,308.3 400.3,307.1z" fill="#6c5000"/>
<path d="M400.3,307.1 403.4,308.3 405.9,307.3 402.8,306.2z" fill="#6c4500"/>
<path d="M402.8,306.2 405.9,307.3 408.4,306.4 405.4,305.2z" fill="#6b3b00"/>
<path d="M405.4,305.2 408.4,306.4 411,305.4 407.9,304.3z" fill="#6a3300"/>
<path d="M407.9,304.3 411,305.4 413.5,304.5 410.4,303.4z" fill="#6a2d00"/>
<path d="M410.4,303.4 413.5,304.5 416,303.6 413,302.4z" fill="#692800"/>
<path d="M413,302.4 416,303.6 418.6,302.6 415.5,301.5z" fill="#682400"/>
<path d="M415.5,301.5 418.6,302.6 421.1,301.7 418,300.5z" fill="#682100"/>
<path d="M418,300.5 421.1,301.7 423.6,300.7 420.6,299.6z" fill="#671f00"/>
<path d="M420.6,299.6 423.6,300.7 426.2,299.8 423.1,298.7z" fill="#661d00"/>
<path d="M423.1,298.7 426.2,299.8 428.7,298.9 425.7,297.7z" fill="#661b00"/>
<path d="M425.7,297.7 428.7,298.9 431.3,297.9 428.2,296.8z" fill="#651a00"/>
<path d="M428.2,296.8 431.3,297.9 433.8,297 430.7,295.8z" fill="#641a00"/>
<path d="M430.7,295.8 433.8,297 436.3,296 433.3,294.9z" fill="#631900"/>
<path d="M433.3,294.9 436.3,296 438.9,295.1 435.8,294z" fill="#631900"/>
<path d="M435.8,294 438.9,295.1 441.4,294.2 438.3,293z" fill="#621800"/>
<path d="M438.3,293 441.4,294.2 443.9,293.2 440.9,292.1z" fill="#611800"/>
<path d="M440.9,292.1 443.9,293.2 446.5,292.3 443.4,291.1z" fill="#611800"/>
<path d="M443.4,291.1 446.5,292.3 449,291.3 446,290.2z" fill="#601700"/>
<path d="M446,290.2 449,291.3 451.5,290.4 448.5,289.3z" fill="#5f1700"/>
<path d="M448.5,289.3 451.5,290.4 454.1,289.5 451,288.3z" fill="#5f1700"/>
<path d="M451,288.3 454.1,289.5 456.6,288.5 453.6,287.4z" fill="#5e1700"/>
<path d="M453.6,287.4 456.6,288.5 459.2,287.6 456.1,286.4z" fill="#5e1700"/>
<path d="M456.1,286.4 459.2,287.6 461.7,286.6 458.6,285.5z" fill="#5e1700"/>
<path d="M380.5,316.7 383.6,317.9 386.1,316.9 383.1,315.8z" fill="#00700b"/>
<path d="M383.1,315.8 386.1,316.9 388.7,316 385.6,314.8z" fill="#00700b"/>
<path d="M385.6,314.8 388.7,316 391.2,315.1 388.1,313.9z" fill="#007001"/>
<path d="M388.1,313.9 391.2,315.1 393.7,314.1 390.7,313z" fill="#1f7000"/>
<path d="M390.7,313 393.7,314.1 396.3,313.2 393.2,312z" fill="#3a6f00"/>
<path d="M393.2,312 396.3,313.2 398.8,312.2 395.7,311.1z" fill="#506e00"/>
<path d="M395.7,311.1 398.8,312.2 401.4,311.3 398.3,310.1z" fill="#636e00"/>
<path d="M398.3,310.1 401.4,311.3 403.9,310.4 400.8,309.2z" fill="#6d6700"/>
<path d="M400.8,309.2 403.9,310.4 406.4,309.4 403.4,308.3z" fill="#6c5900"/>
<path d="M403.4,308.3 406.4,309.4 409,308.5 405.9,307.3z" fill="#6c4d00"/>
<path d="M405.9,307.3 409,308.5 411.5,307.5 408.4,306.4z" fill="#6b4400"/>
<path d="M408.4,306.4 411.5,307.5 414,306.6 411,305.4z" fill="#6a3c00"/>
<path d="M411,305.4 414,306.6 416.6,305.6 413.5,304.5z" fill="#6a3500"/>
<path d="M413.5,304.5 416.6,305.6 419.1,304.7 416,303.6z" fill="#693000"/>
<path d="M416,303.6 419.1,304.7 421.6,303.8 418.6,302.6z" fill="#682c00"/>
<path d="M418.6,302.6 421.6,303.8 424.2,302.8 421.1,301.7z" fill="#682900"/>
<path d="M421.1,301.7 424.2,302.8 426.7,301.9 423.6,300.7z" fill="#672700"/>
<path d="M423.6,300.7 426.7,301.9 429.2,300.9 426.2,299.8z" fill="#662500"/>
<path d="M426.2,299.8 429.2,300.9 431.8,300 428.7,298.9z" fill="#662300"/>
<path d="M428.7,298.9 431.8,300 434.3,299.1 431.3,297.9z" fill="#652200"/>
<path d="M431.3,297.9 434.3,299.1 436.9,298.1 433.8,297z" fill="#642100"/>
<path d="M433.8,297 436.9,298.1 439.4,297.2 436.3,296z" fill="#642100"/>
<path d="M436.3,296 439.4,297.2 441.9,296.2 438.9,295.1z" fill="#632000"/>
<path d="M438.9,295.1 441.9,296.2 444.5,295.3 441.4,294.2z" fill="#622000"/>
<path d="M441.4,294.2 444.5,295.3 447,294.4 443.9,293.2z" fill="#621f00"/>
<path d="M443.9,293.2 447,294.4 449.5,293.4 446.5,292.3z" fill="#611f00"/>
<path d="M446.5,292.3 449.5,293.4 452.1,292.5 449,291.3z" fill="#601f00"/>
<path d="M449,291.3 452.1,292.5 454.6,291.5 451.5,290.4z" fill="#601e00"/>
<path d="M451.5,290.4 454.6,291.5 457.1,290.6 454.1,289.5z" fill="#5f1e00"/>
<path d="M454.1,289.5 457.1,290.6 459.7,289.7 456.6,288.5z" fill="#5e1e00"/>
<path d="M456.6,288.5 459.7,289.7 462.2,288.7 459.2,287.6z" fill="#5e1e00"/>
<path d="M459.2,287.6 462.2,288.7 464.7,287.8 461.7,286.6z" fill="#5e1e00"/>
<path d="M383.6,317.9 386.7,319 389.2,318.1 386.1,316.9z" fill="#007016"/>
<path d="M386.1,316.9 389.2,318.1 391.7,317.1 388.7,316z" fill="#007016"/>
<path d="M388.7,316 391.7,317.1 394.3,316.2 391.2,315.1z" fill="#00700b"/>
<path d="M391.2,315.1 394.3,316.2 396.8,315.3 393.7,314.1z" fill="#146f00"/>
<path d="M393.7,314.1 396.8,315.3 399.4,314.3 396.3,313.2z" fill="#2f6f00"/>
<path d="M396.3,313.2 399.4,314.3 401.9,313.4 398.8,312.2z" fill="#466e00"/>
<path d="M398.8,312.2 401.9,313.4 404.4,312.4 401.4,311.3z" fill="#596d00"/>
<path d="M401.4,311.3 404.4,312.4 407,311.5 403.9,310.4z" fill="#686d00"/>
<path d="M403.9,310.4 407,311.5 409.5,310.6 406.4,309.4z" fill="#6c6300"/>
<path d="M406.4,309.4 409.5,310.6 412,309.6 409,308.5z" fill="#6b5700"/>
<path d="M409,308.5 412,309.6 414.6,308.7 411.5,307.5z" fill="#6b4d00"/>
<path d="M411.5,307.5 414.6,308.7 417.1,307.7 414,306.6z" fill="#6a4600"/>
<path d="M414,306.6 417.1,307.7 419.6,306.8 416.6,305.6z" fill="#693f00"/>
<path d="M416.6,305.6 419.6,306.8 422.2,305.8 419.1,304.7z" fill="#693a00"/>
<path d="M419.1,304.7 422.2,305.8 424.7,304.9 421.6,303.8z" fill="#683600"/>
<path d="M421.6,303.8 424.7,304.9 427.2,304 424.2,302.8z" fill="#683300"/>
<path d="M424.2,302.8 427.2,304 429.8,303 426.7,301.9z" fill="#673000"/>
<path d="M426.7,301.9 429.8,303 432.3,302.1 429.2,300.9z" fill="#662e00"/>
<path d="M429.2,300.9 432.3,302.1 434.8,301.1 431.8,300z" fill="#662d00"/>
<path d="M431.8,300 434.8,301.1 437.4,300.2 434.3,299.1z" fill="#652c00"/>
<path d="M434.3,299.1 437.4,300.2 439.9,299.3 436.9,298.1z" fill="#642b00"/>
<path d="M436.9,298.1 439.9,299.3 442.5,298.3 439.4,297.2z" fill="#642a00"/>
<path d="M439.4,297.2 442.5,298.3 445,297.4 441.9,296.2z" fill="#632900"/>
<path d="M441.9,296.2 445,297.4 447.5,296.4 444.5,295.3z" fill="#632900"/>
<path d="M444.5,295.3 447.5,296.4 450.1,295.5 447,294.4z" fill="#622800"/>
<path d="M447,294.4 450.1,295.5 452.6,294.6 449.5,293.4z" fill="#612800"/>
<path d="M449.5,293.4 452.6,294.6 455.1,293.6 452.1,292.5z" fill="#612800"/>
<path d="M452.1,292.5 455.1,293.6 457.7,292.7 454.6,291.5z" fill="#602700"/>
<path d="M454.6,291.5 457.7,292.7 460.2,291.7 457.1,290.6z" fill="#5f2700"/>
<path d="M457.1,290.6 460.2,291.7 462.7,290.8 459.7,289.7z" fill="#5f2700"/>
<path d="M459.7,289.7 462.7,290.8 465.3,289.8 462.2,288.7z" fill="#5f2700"/>
<path d="M462.2,288.7 465.3,289.8 467.8,288.9 464.7,287.8z" fill="#5f2700"/>
<path d="M386.7,319 389.8,320.2 392.3,319.2 389.2,318.1z" fill="#007022"/>
<path d="M389.2,318.1 392.3,319.2 394.8,318.3 391.7,317.1z" fill="#007022"/>
<path d="M391.7,317.1 394.8,318.3 397.4,317.3 394.3,316.2z" fill="#006f18"/>
<path d="M394.3,316.2 397.4,317.3 399.9,316.4 396.8,315.3z" fill="#086f00"/>
<path d="M396.8,315.3 399.9,316.4 402.4,315.5 399.4,314.3z" fill="#226e00"/>
<path d="M399.4,314.3 402.4,315.5 405,314.5 401.9,313.4z" fill="#396e00"/>
<path d="M401.9,313.4 405,314.5 407.5,313.6 404.4,312.4z" fill="#4c6d00"/>
<path d="M404.4,312.4 407.5,313.6 410,312.6 407,311.5z" fill="#5c6c00"/>
<path d="M407,311.5 410,312.6 412.6,311.7 409.5,310.6z" fill="#696c00"/>
<path d="M409.5,310.6 412.6,311.7 415.1,310.8 412,309.6z" fill="#6b6300"/>
<path d="M412,309.6 415.1,310.8 417.6,309.8 414.6,308.7z" fill="#6b5900"/>
<path d="M414.6,308.7 417.6,309.8 420.2,308.9 417.1,307.7z" fill="#6a5100"/>
<path d="M417.1,307.7 420.2,308.9 422.7,307.9 419.6,306.8z" fill="#694b00"/>
<path d="M419.6,306.8 422.7,307.9 425.2,307 422.2,305.8z" fill="#694600"/>
<path d="M422.2,305.8 425.2,307 427.8,306 424.7,304.9z" fill="#684200"/>
<path d="M424.7,304.9 427.8,306 430.3,305.1 427.2,304z" fill="#683e00"/>
<path d="M427.2,304 430.3,305.1 432.8,304.2 429.8,303z" fill="#673c00"/>
<path d="M429.8,303 432.8,304.2 435.4,303.2 432.3,302.1z" fill="#663a00"/>
<path d="M432.3,302.1 435.4,303.2 437.9,302.3 434.8,301.1z" fill="#663800"/>
<path d="M434.8,301.1 437.9,302.3 440.4,301.3 437.4,300.2z" fill="#653700"/>
<path d="M437.4,300.2 440.4,301.3 443,300.4 439.9,299.3z" fill="#653600"/>
<path d="M439.9,299.3 443,300.4 445.5,299.5 442.5,298.3z" fill="#643500"/>
<path d="M442.5,298.3 445.5,299.5 448,298.5 445,297.4z" fill="#633400"/>
<path d="M445,297.4 448,298.5 450.6,297.6 447.5,296.4z" fill="#633400"/>
<path d="M447.5,296.4 450.6,297.6 453.1,296.6 450.1,295.5z" fill="#623300"/>
<path d="M450.1,295.5 453.1,296.6 455.6,295.7 452.6,294.6z" fill="#623300"/>
<path d="M452.6,294.6 455.6,295.7 458.2,294.7 455.1,293.6z" fill="#613200"/>
<path d="M455.1,293.6 458.2,294.7 460.7,293.8 457.7,292.7z" fill="#603200"/>
<path d="M457.7,292.7 460.7,293.8 463.3,292.9 460.2,291.7z" fill="#603200"/>
<path d="M460.2,291.7 463.3,292.9 465.8,291.9 462.7,290.8z" fill="#5f3100"/>
<path d="M462.7,290.8 465.8,291.9 468.3,291 465.3,289.8z" fill="#5f3100"/>
<path d="M465.3,289.8 468.3,291 470.9,290 467.8,288.9z" fill="#5f3100"/>
<path d="M389.8,320.2 392.8,321.3 395.4,320.4 392.3,319.2z" fill="#006f31"/>
<path d="M392.3,319.2 395.4,320.4 397.9,319.4 394.8,318.3z" fill="#006f31"/>
<path d="M394.8,318.3 397.9,319.4 400.4,318.5 397.4,317.3z" fill="#006f27"/>
<path d="M397.4,317.3 400.4,318.5 403,317.5 399.9,316.4z" fill="#006f07"/>
<path d="M399.9,316.4 403,317.5 405.5,316.6 402.4,315.5z" fill="#146e00"/>
<path d="M402.4,315.5 405.5,316.6 408,315.7 405,314.5z" fill="#2a6d00"/>
<path d="M405,314.5 408,315.7 410.6,314.7 407.5,313.6z" fill="#3d6d00"/>
<path d="M407.5,313.6 410.6,314.7 413.1,313.8 410,312.6z" fill="#4d6c00"/>
<path d="M410,312.6 413.1,313.8 415.6,312.8 412.6,311.7z" fill="#5a6c00"/>
<path d="M412.6,311.7 415.6,312.8 418.2,311.9 415.1,310.8z" fill="#656b00"/>
<path d="M415.1,310.8 418.2,311.9 420.7,311 417.6,309.8z" fill="#6a6700"/>
<path d="M417.6,309.8 420.7,311 423.2,310 420.2,308.9z" fill="#6a5f00"/>
<path d="M420.2,308.9 423.2,310 425.8,309.1 422.7,307.9z" fill="#695900"/>
<path d="M422.7,307.9 425.8,309.1 428.3,308.1 425.2,307z" fill="#695300"/>
<path d="M425.2,307 428.3,308.1 430.8,307.2 427.8,306z" fill="#684f00"/>
<path d="M427.8,306 430.8,307.2 433.4,306.2 430.3,305.1z" fill="#684c00"/>
<path d="M430.3,305.1 433.4,306.2 435.9,305.3 432.8,304.2z" fill="#674900"/>
<path d="M432.8,304.2 435.9,305.3 438.4,304.4 435.4,303.2z" fill="#664700"/>
<path d="M435.4,303.2 438.4,304.4 441,303.4 437.9,302.3z" fill="#664500"/>
<path d="M437.9,302.3 441,303.4 443.5,302.5 440.4,301.3z" fill="#654400"/>
<path d="M440.4,301.3 443.5,302.5 446,301.5 443,300.4z" fill="#654300"/>
<path d="M443,300.4 446,301.5 448.6,300.6 445.5,299.5z" fill="#644200"/>
<path d="M445.5,299.5 448.6,300.6 451.1,299.7 448,298.5z" fill="#644100"/>
<path d="M448,298.5 451.1,299.7 453.6,298.7 450.6,297.6z" fill="#634100"/>
<path d="M450.6,297.6 453.6,298.7 456.2,297.8 453.1,296.6z" fill="#624000"/>
<path d="M453.1,296.6 456.2,297.8 458.7,296.8 455.6,295.7z" fill="#624000"/>
<path d="M455.6,295.7 458.7,296.8 461.2,295.9 458.2,294.7z" fill="#613f00"/>
<path d="M458.2,294.7 461.2,295.9 463.8,294.9 460.7,293.8z" fill="#613f00"/>
<path d="M460.7,293.8 463.8,294.9 466.3,294 463.3,292.9z" fill="#603e00"/>
<path d="M463.3,292.9 466.3,294 468.8,293.1 465.8,291.9z" fill="#5f3e00"/>
<path d="M465.8,291.9 468.8,293.1 471.4,292.1 468.3,291z" fill="#5f3e00"/>
<path d="M468.3,291 471.4,292.1 473.9,291.2 470.9,290z" fill="#5f3e00"/>
<path d="M392.8,321.3 395.9,322.5 398.4,321.5 395.4,320.4z" fill="#006f42"/>
<path d="M395.4,320.4 398.4,321.5 401,320.6 397.9,319.4z" fill="#006f42"/>
<path d="M397.9,319.4 401,320.6 403.5,319.6 400.4,318.5z" fill="#006f38"/>
<path d="M400.4,318.5 403.5,319.6 406,318.7 403,317.5z" fill="#006e18"/>
<path d="M403,317.5 406,318.7 408.6,317.8 405.5,316.6z" fill="#036e00"/>
<path d="M405.5,316.6 408.6,317.8 411.1,316.8 408,315.7z" fill="#196d00"/>
<path d="M408,315.7 411.1,316.8 413.6,315.9 410.6,314.7z" fill="#2d6d00"/>
<path d="M410.6,314.7 413.6,315.9 416.2,314.9 413.1,313.8z" fill="#3d6c00"/>
<path d="M413.1,313.8 416.2,314.9 418.7,314 415.6,312.8z" fill="#4a6b00"/>
<path d="M415.6,312.8 418.7,314 421.2,313 418.2,311.9z" fill="#556b00"/>
<path d="M418.2,311.9 421.2,313 423.8,312.1 420.7,311z" fill="#5d6a00"/>
<path d="M420.7,311 423.8,312.1 426.3,311.2 423.2,310z" fill="#646a00"/>
<path d="M423.2,310 426.3,311.2 428.8,310.2 425.8,309.1z" fill="#696900"/>
<path d="M425.8,309.1 428.8,310.2 431.4,309.3 428.3,308.1z" fill="#696300"/>
<path d="M428.3,308.1 431.4,309.3 433.9,308.3 430.8,307.2z" fill="#685f00"/>
<path d="M430.8,307.2 433.9,308.3 436.4,307.4 433.4,306.2z" fill="#685b00"/>
<path d="M433.4,306.2 436.4,307.4 439,306.4 435.9,305.3z" fill="#675900"/>
<path d="M435.9,305.3 439,306.4 441.5,305.5 438.4,304.4z" fill="#665600"/>
<path d="M438.4,304.4 441.5,305.5 444,304.6 441,303.4z" fill="#665500"/>
<path d="M441,303.4 444,304.6 446.6,303.6 443.5,302.5z" fill="#655300"/>
<path d="M443.5,302.5 446.6,303.6 449.1,302.7 446,301.5z" fill="#655200"/>
<path d="M446,301.5 449.1,302.7 451.6,301.7 448.6,300.6z" fill="#645100"/>
<path d="M448.6,300.6 451.6,301.7 454.2,300.8 451.1,299.7z" fill="#645000"/>
<path d="M451.1,299.7 454.2,300.8 456.7,299.8 453.6,298.7z" fill="#635000"/>
<path d="M453.6,298.7 456.7,299.8 459.2,298.9 456.2,297.8z" fill="#634f00"/>
<path d="M456.2,297.8 459.2,298.9 461.8,298 458.7,296.8z" fill="#624e00"/>
<path d="M458.7,296.8 461.8,298 464.3,297 461.2,295.9z" fill="#614e00"/>
<path d="M461.2,295.9 464.3,297 466.8,296.1 463.8,294.9z" fill="#614d00"/>
<path d="M463.8,294.9 466.8,296.1 469.4,295.1 466.3,294z" fill="#604d00"/>
<path d="M466.3,294 469.4,295.1 471.9,294.2 468.8,293.1z" fill="#604c00"/>
<path d="M468.8,293.1 471.9,294.2 474.4,293.3 471.4,292.1z" fill="#604c00"/>
<path d="M471.4,292.1 474.4,293.3 477,292.3 473.9,291.2z" fill="#604c00"/>
<path d="M395.9,322.5 399,323.6 401.5,322.7 398.4,321.5z" fill="#006f56"/>
<path d="M398.4,321.5 401.5,322.7 404,321.7 401,320.6z" fill="#006f56"/>
<path d="M401,320.6 404,321.7 406.6,320.8 403.5,319.6z" fill="#006e4b"/>
<path d="M403.5,319.6 406.6,320.8 409.1,319.8 406,318.7z" fill="#006e2c"/>
<path d="M406,318.7 409.1,319.8 411.6,318.9 408.6,317.8z" fill="#006d11"/>
<path d="M408.6,317.8 411.6,318.9 414.2,318 411.1,316.8z" fill="#066d00"/>
<path d="M411.1,316.8 414.2,318 416.7,317 413.6,315.9z" fill="#196c00"/>
<path d="M413.6,315.9 416.7,317 419.2,316.1 416.2,314.9z" fill="#296c00"/>
<path d="M416.2,314.9 419.2,316.1 421.8,315.1 418.7,314z" fill="#376b00"/>
<path d="M418.7,314 421.8,315.1 424.3,314.2 421.2,313z" fill="#426b00"/>
<path d="M421.2,313 424.3,314.2 426.8,313.2 423.8,312.1z" fill="#4b6a00"/>
<path d="M423.8,312.1 426.8,313.2 429.4,312.3 426.3,311.2z" fill="#526a00"/>
<path d="M426.3,311.2 429.4,312.3 431.9,311.4 428.8,310.2z" fill="#576900"/>
<path d="M428.8,310.2 431.9,311.4 434.4,310.4 431.4,309.3z" fill="#5c6900"/>
<path d="M431.4,309.3 434.4,310.4 437,309.5 433.9,308.3z" fill="#5f6800"/>
<path d="M433.9,308.3 437,309.5 439.5,308.5 436.4,307.4z" fill="#626800"/>
<path d="M436.4,307.4 439.5,308.5 442,307.6 439,306.4z" fill="#636700"/>
<path d="M439,306.4 442,307.6 444.6,306.6 441.5,305.5z" fill="#656600"/>
<path d="M441.5,305.5 444.6,306.6 447.1,305.7 444,304.6z" fill="#656600"/>
<path d="M444,304.6 447.1,305.7 449.6,304.8 446.6,303.6z" fill="#656500"/>
<path d="M446.6,303.6 449.6,304.8 452.2,303.8 449.1,302.7z" fill="#656400"/>
<path d="M449.1,302.7 452.2,303.8 454.7,302.9 451.6,301.7z" fill="#646300"/>
<path d="M451.6,301.7 454.7,302.9 457.2,301.9 454.2,300.8z" fill="#646200"/>
<path d="M454.2,300.8 457.2,301.9 459.8,301 456.7,299.8z" fill="#636100"/>
<path d="M456.7,299.8 459.8,301 462.3,300 459.2,298.9z" fill="#636000"/>
<path d="M459.2,298.9 462.3,300 464.8,299.1 461.8,298z" fill="#626000"/>
<path d="M461.8,298 464.8,299.1 467.4,298.2 464.3,297z" fill="#625f00"/>
<path d="M464.3,297 467.4,298.2 469.9,297.2 466.8,296.1z" fill="#615e00"/>
<path d="M466.8,296.1 469.9,297.2 472.4,296.3 469.4,295.1z" fill="#615e00"/>
<path d="M469.4,295.1 472.4,296.3 475,295.3 471.9,294.2z" fill="#605d00"/>
<path d="M471.9,294.2 475,295.3 477.5,294.4 474.4,293.3z" fill="#605d00"/>
<path d="M474.4,293.3 477.5,294.4 480,293.4 477,292.3z" fill="#605d00"/>
<path d="M399,323.6 402.1,324.8 404.6,323.8 401.5,322.7z" fill="#006e6c"/>
<path d="M401.5,322.7 404.6,323.8 407.1,322.9 404,321.7z" fill="#006e6c"/>
<path d="M404,321.7 407.1,322.9 409.7,321.9 406.6,320.8z" fill="#006e61"/>
<path d="M406.6,320.8 409.7,321.9 412.2,321 409.1,319.8z" fill="#006e42"/>
<path d="M409.1,319.8 412.2,321 414.7,320 411.6,318.9z" fill="#006d27"/>
<path d="M411.6,318.9 414.7,320 417.2,319.1 414.2,318z" fill="#006d10"/>
<path d="M414.2,318 417.2,319.1 419.8,318.2 416.7,317z" fill="#036c00"/>
<path d="M416.7,317 419.8,318.2 422.3,317.2 419.2,316.1z" fill="#146c00"/>
<path d="M419.2,316.1 422.3,317.2 424.8,316.3 421.8,315.1z" fill="#216b00"/>
<path d="M421.8,315.1 424.8,316.3 427.4,315.3 424.3,314.2z" fill="#2c6b00"/>
<path d="M424.3,314.2 427.4,315.3 429.9,314.4 426.8,313.2z" fill="#356a00"/>
<path d="M426.8,313.2 429.9,314.4 432.4,313.4 429.4,312.3z" fill="#3c6a00"/>
<path d="M429.4,312.3 432.4,313.4 435,312.5 431.9,311.4z" fill="#426900"/>
<path d="M431.9,311.4 435,312.5 437.5,311.6 434.4,310.4z" fill="#476900"/>
<path d="M434.4,310.4 437.5,311.6 440,310.6 437,309.5z" fill="#4a6800"/>
<path d="M437,309.5 440,310.6 442.6,309.7 439.5,308.5z" fill="#4d6800"/>
<path d="M439.5,308.5 442.6,309.7 445.1,308.7 442,307.6z" fill="#4f6700"/>
<path d="M442,307.6 445.1,308.7 447.6,307.8 444.6,306.6z" fill="#506700"/>
<path d="M444.6,306.6 447.6,307.8 450.2,306.8 447.1,305.7z" fill="#516600"/>
<path d="M447.1,305.7 450.2,306.8 452.7,305.9 449.6,304.8z" fill="#526600"/>
<path d="M449.6,304.8 452.7,305.9 455.2,305 452.2,303.8z" fill="#526500"/>
<path d="M452.2,303.8 455.2,305 457.8,304 454.7,302.9z" fill="#526500"/>
<path d="M454.7,302.9 457.8,304 460.3,303.1 457.2,301.9z" fill="#526400"/>
<path d="M457.2,301.9 460.3,303.1 462.8,302.1 459.8,301z" fill="#526400"/>
<path d="M459.8,301 462.8,302.1 465.4,301.2 462.3,300z" fill="#526300"/>
<path d="M462.3,300 465.4,301.2 467.9,300.2 464.8,299.1z" fill="#526300"/>
<path d="M464.8,299.1 467.9,300.2 470.4,299.3 467.4,298.2z" fill="#516200"/>
<path d="M467.4,298.2 470.4,299.3 472.9,298.3 469.9,297.2z" fill="#516200"/>
<path d="M469.9,297.2 472.9,298.3 475.5,297.4 472.4,296.3z" fill="#516100"/>
<path d="M472.4,296.3 475.5,297.4 478,296.5 475,295.3z" fill="#506100"/>
<path d="M475,295.3 478,296.5 480.5,295.5 477.5,294.4z" fill="#506000"/>
<path d="M477.5,294.4 480.5,295.5 483.1,294.6 480,293.4z" fill="#506000"/>
<path d="M402.1,324.8 405.1,325.9 407.7,325 404.6,323.8z" fill="#00576e"/>
<path d="M404.6,323.8 407.7,325 410.2,324 407.1,322.9z" fill="#00576e"/>
<path d="M407.1,322.9 410.2,324 412.7,323.1 409.7,321.9z" fill="#00616e"/>
<path d="M409.7,321.9 412.7,323.1 415.3,322.1 412.2,321z" fill="#006d5b"/>
<path d="M412.2,321 415.3,322.1 417.8,321.2 414.7,320z" fill="#006d40"/>
<path d="M414.7,320 417.8,321.2 420.3,320.2 417.2,319.1z" fill="#006c29"/>
<path d="M417.2,319.1 420.3,320.2 422.8,319.3 419.8,318.2z" fill="#006c15"/>
<path d="M419.8,318.2 422.8,319.3 425.4,318.4 422.3,317.2z" fill="#006b05"/>
<path d="M422.3,317.2 425.4,318.4 427.9,317.4 424.8,316.3z" fill="#086b00"/>
<path d="M424.8,316.3 427.9,317.4 430.4,316.5 427.4,315.3z" fill="#146a00"/>
<path d="M427.4,315.3 430.4,316.5 433,315.5 429.9,314.4z" fill="#1d6a00"/>
<path d="M429.9,314.4 433,315.5 435.5,314.6 432.4,313.4z" fill="#246900"/>
<path d="M432.4,313.4 435.5,314.6 438,313.6 435,312.5z" fill="#2a6900"/>
<path d="M435,312.5 438,313.6 440.6,312.7 437.5,311.6z" fill="#2f6800"/>
<path d="M437.5,311.6 440.6,312.7 443.1,311.7 440,310.6z" fill="#326800"/>
<path d="M440,310.6 443.1,311.7 445.6,310.8 442.6,309.7z" fill="#356800"/>
<path d="M442.6,309.7 445.6,310.8 448.2,309.9 445.1,308.7z" fill="#376700"/>
<path d="M445.1,308.7 448.2,309.9 450.7,308.9 447.6,307.8z" fill="#396700"/>
<path d="M447.6,307.8 450.7,308.9 453.2,308 450.2,306.8z" fill="#3a6600"/>
<path d="M450.2,306.8 453.2,308 455.8,307 452.7,305.9z" fill="#3b6600"/>
<path d="M452.7,305.9 455.8,307 458.3,306.1 455.2,305z" fill="#3b6500"/>
<path d="M455.2,305 458.3,306.1 460.8,305.1 457.8,304z" fill="#3b6500"/>
<path d="M457.8,304 460.8,305.1 463.3,304.2 460.3,303.1z" fill="#3c6400"/>
<path d="M460.3,303.1 463.3,304.2 465.9,303.3 462.8,302.1z" fill="#3c6400"/>
<path d="M462.8,302.1 465.9,303.3 468.4,302.3 465.4,301.2z" fill="#3c6300"/>
<path d="M465.4,301.2 468.4,302.3 470.9,301.4 467.9,300.2z" fill="#3b6300"/>
<path d="M467.9,300.2 470.9,301.4 473.5,300.4 470.4,299.3z" fill="#3b6200"/>
<path d="M470.4,299.3 473.5,300.4 476,299.5 472.9,298.3z" fill="#3b6200"/>
<path d="M472.9,298.3 476,299.5 478.5,298.5 475.5,297.4z" fill="#3b6100"/>
<path d="M475.5,297.4 478.5,298.5 481.1,297.6 478,296.5z" fill="#3b6100"/>
<path d="M478,296.5 481.1,297.6 483.6,296.7 480.5,295.5z" fill="#3b6100"/>
<path d="M480.5,295.5 483.6,296.7 486.1,295.7 483.1,294.6z" fill="#3b6100"/>
<path d="M405.1,325.9 408.2,327 410.7,326.1 407.7,325z" fill="#003a6d"/>
<path d="M407.7,325 410.7,326.1 413.3,325.2 410.2,324z" fill="#003a6d"/>
<path d="M410.2,324 413.3,325.2 415.8,324.2 412.7,323.1z" fill="#00446d"/>
<path d="M412.7,323.1 415.8,324.2 418.3,323.3 415.3,322.1z" fill="#00636d"/>
<path d="M415.3,322.1 418.3,323.3 420.9,322.3 417.8,321.2z" fill="#006c5c"/>
<path d="M417.8,321.2 420.9,322.3 423.4,321.4 420.3,320.2z" fill="#006c45"/>
<path d="M420.3,320.2 423.4,321.4 425.9,320.4 422.8,319.3z" fill="#006c31"/>
<path d="M422.8,319.3 425.9,320.4 428.5,319.5 425.4,318.4z" fill="#006b21"/>
<path d="M425.4,318.4 428.5,319.5 431,318.6 427.9,317.4z" fill="#006b13"/>
<path d="M427.9,317.4 431,318.6 433.5,317.6 430.4,316.5z" fill="#006a08"/>
<path d="M430.4,316.5 433.5,317.6 436,316.7 433,315.5z" fill="#016a00"/>
<path d="M433,315.5 436,316.7 438.6,315.7 435.5,314.6z" fill="#096900"/>
<path d="M435.5,314.6 438.6,315.7 441.1,314.8 438,313.6z" fill="#0f6900"/>
<path d="M438,313.6 441.1,314.8 443.6,313.8 440.6,312.7z" fill="#146800"/>
<path d="M440.6,312.7 443.6,313.8 446.2,312.9 443.1,311.7z" fill="#186800"/>
<path d="M443.1,311.7 446.2,312.9 448.7,311.9 445.6,310.8z" fill="#1b6700"/>
<path d="M445.6,310.8 448.7,311.9 451.2,311 448.2,309.9z" fill="#1d6700"/>
<path d="M448.2,309.9 451.2,311 453.8,310.1 450.7,308.9z" fill="#1e6700"/>
<path d="M450.7,308.9 453.8,310.1 456.3,309.1 453.2,308z" fill="#206600"/>
<path d="M453.2,308 456.3,309.1 458.8,308.2 455.8,307z" fill="#216600"/>
<path d="M455.8,307 458.8,308.2 461.3,307.2 458.3,306.1z" fill="#216500"/>
<path d="M458.3,306.1 461.3,307.2 463.9,306.3 460.8,305.1z" fill="#226500"/>
<path d="M460.8,305.1 463.9,306.3 466.4,305.3 463.3,304.2z" fill="#226400"/>
<path d="M463.3,304.2 466.4,305.3 468.9,304.4 465.9,303.3z" fill="#226400"/>
<path d="M465.9,303.3 468.9,304.4 471.5,303.5 468.4,302.3z" fill="#226300"/>
<path d="M468.4,302.3 471.5,303.5 474,302.5 470.9,301.4z" fill="#226300"/>
<path d="M470.9,301.4 474,302.5 476.5,301.6 473.5,300.4z" fill="#226300"/>
<path d="M473.5,300.4 476.5,301.6 479.1,300.6 476,299.5z" fill="#226200"/>
<path d="M476,299.5 479.1,300.6 481.6,299.7 478.5,298.5z" fill="#226200"/>
<path d="M478.5,298.5 481.6,299.7 484.1,298.7 481.1,297.6z" fill="#226100"/>
<path d="M481.1,297.6 484.1,298.7 486.7,297.8 483.6,296.7z" fill="#226100"/>
<path d="M483.6,296.7 486.7,297.8 489.2,296.8 486.1,295.7z" fill="#226100"/>
<path d="M408.2,327 411.3,328.2 413.8,327.2 410.7,326.1z" fill="#001a6d"/>
<path d="M410.7,326.1 413.8,327.2 416.3,326.3 413.3,325.2z" fill="#001a6d"/>
<path d="M413.3,325.2 416.3,326.3 418.9,325.4 415.8,324.2z" fill="#00246d"/>
<path d="M415.8,324.2 418.9,325.4 421.4,324.4 418.3,323.3z" fill="#00436d"/>
<path d="M418.3,323.3 421.4,324.4 423.9,323.5 420.9,322.3z" fill="#005d6c"/>
<path d="M420.9,322.3 423.9,323.5 426.5,322.5 423.4,321.4z" fill="#006c64"/>
<path d="M423.4,321.4 426.5,322.5 429,321.6 425.9,320.4z" fill="#006b50"/>
<path d="M425.9,320.4 429,321.6 431.5,320.6 428.5,319.5z" fill="#006b40"/>
<path d="M428.5,319.5 431.5,320.6 434.1,319.7 431,318.6z" fill="#006a32"/>
<path d="M431,318.6 434.1,319.7 436.6,318.8 433.5,317.6z" fill="#006a27"/>
<path d="M433.5,317.6 436.6,318.8 439.1,317.8 436,316.7z" fill="#006a1d"/>
<path d="M436,316.7 439.1,317.8 441.6,316.9 438.6,315.7z" fill="#006916"/>
<path d="M438.6,315.7 441.6,316.9 444.2,315.9 441.1,314.8z" fill="#00690f"/>
<path d="M441.1,314.8 444.2,315.9 446.7,315 443.6,313.8z" fill="#00680a"/>
<path d="M443.6,313.8 446.7,315 449.2,314 446.2,312.9z" fill="#006807"/>
<path d="M446.2,312.9 449.2,314 451.8,313.1 448.7,311.9z" fill="#006703"/>
<path d="M448.7,311.9 451.8,313.1 454.3,312.1 451.2,311z" fill="#006701"/>
<path d="M451.2,311 454.3,312.1 456.8,311.2 453.8,310.1z" fill="#016700"/>
<path d="M453.8,310.1 456.8,311.2 459.3,310.3 456.3,309.1z" fill="#026600"/>
<path d="M456.3,309.1 459.3,310.3 461.9,309.3 458.8,308.2z" fill="#036600"/>
<path d="M458.8,308.2 461.9,309.3 464.4,308.4 461.3,307.2z" fill="#046500"/>
<path d="M461.3,307.2 464.4,308.4 466.9,307.4 463.9,306.3z" fill="#056500"/>
<path d="M463.9,306.3 466.9,307.4 469.5,306.5 466.4,305.3z" fill="#056500"/>
<path d="M466.4,305.3 469.5,306.5 472,305.5 468.9,304.4z" fill="#056400"/>
<path d="M468.9,304.4 472,305.5 474.5,304.6 471.5,303.5z" fill="#066400"/>
<path d="M471.5,303.5 474.5,304.6 477.1,303.6 474,302.5z" fill="#066300"/>
<path d="M474,302.5 477.1,303.6 479.6,302.7 476.5,301.6z" fill="#066300"/>
<path d="M476.5,301.6 479.6,302.7 482.1,301.8 479.1,300.6z" fill="#066200"/>
<path d="M479.1,300.6 482.1,301.8 484.6,300.8 481.6,299.7z" fill="#066200"/>
<path d="M481.6,299.7 484.6,300.8 487.2,299.9 484.1,298.7z" fill="#066200"/>
<path d="M484.1,298.7 487.2,299.9 489.7,298.9 486.7,297.8z" fill="#066100"/>
<path d="M486.7,297.8 489.7,298.9 492.2,298 489.2,296.8z" fill="#066100"/>
<path d="M411.3,328.2 414.4,329.3 416.9,328.4 413.8,327.2z" fill="#0a006d"/>
<path d="M413.8,327.2 416.9,328.4 419.4,327.5 416.3,326.3z" fill="#0a006d"/>
<path d="M416.3,326.3 419.4,327.5 421.9,326.5 418.9,325.4z" fill="#00006d"/>
<path d="M418.9,325.4 421.9,326.5 424.5,325.6 421.4,324.4z" fill="#001f6c"/>
<path d="M421.4,324.4 424.5,325.6 427,324.6 423.9,323.5z" fill="#003a6c"/>
<path d="M423.9,323.5 427,324.6 429.5,323.7 426.5,322.5z" fill="#00506b"/>
<path d="M426.5,322.5 429.5,323.7 432.1,322.7 429,321.6z" fill="#00636b"/>
<path d="M429,321.6 432.1,322.7 434.6,321.8 431.5,320.6z" fill="#006b63"/>
<path d="M431.5,320.6 434.6,321.8 437.1,320.8 434.1,319.7z" fill="#006a55"/>
<path d="M434.1,319.7 437.1,320.8 439.6,319.9 436.6,318.8z" fill="#006a49"/>
<path d="M436.6,318.8 439.6,319.9 442.2,318.9 439.1,317.8z" fill="#006940"/>
<path d="M439.1,317.8 442.2,318.9 444.7,318 441.6,316.9z" fill="#006938"/>
<path d="M441.6,316.9 444.7,318 447.2,317.1 444.2,315.9z" fill="#006931"/>
<path d="M444.2,315.9 447.2,317.1 449.8,316.1 446.7,315z" fill="#00682c"/>
<path d="M446.7,315 449.8,316.1 452.3,315.2 449.2,314z" fill="#006828"/>
<path d="M449.2,314 452.3,315.2 454.8,314.2 451.8,313.1z" fill="#006725"/>
<path d="M451.8,313.1 454.8,314.2 457.4,313.3 454.3,312.1z" fill="#006722"/>
<path d="M454.3,312.1 457.4,313.3 459.9,312.3 456.8,311.2z" fill="#006720"/>
<path d="M456.8,311.2 459.9,312.3 462.4,311.4 459.3,310.3z" fill="#00661f"/>
<path d="M459.3,310.3 462.4,311.4 464.9,310.4 461.9,309.3z" fill="#00661e"/>
<path d="M461.9,309.3 464.9,310.4 467.5,309.5 464.4,308.4z" fill="#00661d"/>
<path d="M464.4,308.4 467.5,309.5 470,308.6 466.9,307.4z" fill="#00651c"/>
<path d="M466.9,307.4 470,308.6 472.5,307.6 469.5,306.5z" fill="#00651b"/>
<path d="M469.5,306.5 472.5,307.6 475.1,306.7 472,305.5z" fill="#00641b"/>
<path d="M472,305.5 475.1,306.7 477.6,305.7 474.5,304.6z" fill="#00641b"/>
<path d="M474.5,304.6 477.6,305.7 480.1,304.8 477.1,303.6z" fill="#00641a"/>
<path d="M477.1,303.6 480.1,304.8 482.6,303.8 479.6,302.7z" fill="#00631a"/>
<path d="M479.6,302.7 482.6,303.8 485.2,302.9 482.1,301.8z" fill="#00631a"/>
<path d="M482.1,301.8 485.2,302.9 487.7,301.9 484.6,300.8z" fill="#006219"/>
<path d="M484.6,300.8 487.7,301.9 490.2,301 487.2,299.9z" fill="#006219"/>
<path d="M487.2,299.9 490.2,301 492.8,300.1 489.7,298.9z" fill="#006219"/>
<path d="M489.7,298.9 492.8,300.1 495.3,299.1 492.2,298z" fill="#006219"/>
<path d="M414.4,329.3 417.4,330.5 420,329.5 416.9,328.4z" fill="#31006c"/>
<path d="M416.9,328.4 420,329.5 422.5,328.6 419.4,327.5z" fill="#31006c"/>
<path d="M419.4,327.5 422.5,328.6 425,327.7 421.9,326.5z" fill="#27006c"/>
<path d="M421.9,326.5 425,327.7 427.5,326.7 424.5,325.6z" fill="#08006c"/>
<path d="M424.5,325.6 427.5,326.7 430.1,325.8 427,324.6z" fill="#00126b"/>
<path d="M427,324.6 430.1,325.8 432.6,324.8 429.5,323.7z" fill="#00296b"/>
<path d="M429.5,323.7 432.6,324.8 435.1,323.9 432.1,322.7z" fill="#003c6b"/>
<path d="M432.1,322.7 435.1,323.9 437.7,322.9 434.6,321.8z" fill="#004c6a"/>
<path d="M434.6,321.8 437.7,322.9 440.2,322 437.1,320.8z" fill="#00596a"/>
<path d="M437.1,320.8 440.2,322 442.7,321 439.6,319.9z" fill="#00646a"/>
<path d="M439.6,319.9 442.7,321 445.2,320.1 442.2,318.9z" fill="#006965"/>
<path d="M442.2,318.9 445.2,320.1 447.8,319.1 444.7,318z" fill="#00695e"/>
<path d="M444.7,318 447.8,319.1 450.3,318.2 447.2,317.1z" fill="#006957"/>
<path d="M447.2,317.1 450.3,318.2 452.8,317.3 449.8,316.1z" fill="#006852"/>
<path d="M449.8,316.1 452.8,317.3 455.4,316.3 452.3,315.2z" fill="#00684e"/>
<path d="M452.3,315.2 455.4,316.3 457.9,315.4 454.8,314.2z" fill="#00674a"/>
<path d="M454.8,314.2 457.9,315.4 460.4,314.4 457.4,313.3z" fill="#006747"/>
<path d="M457.4,313.3 460.4,314.4 462.9,313.5 459.9,312.3z" fill="#006745"/>
<path d="M459.9,312.3 462.9,313.5 465.5,312.5 462.4,311.4z" fill="#006644"/>
<path d="M462.4,311.4 465.5,312.5 468,311.6 464.9,310.4z" fill="#006642"/>
<path d="M464.9,310.4 468,311.6 470.5,310.6 467.5,309.5z" fill="#006641"/>
<path d="M467.5,309.5 470.5,310.6 473.1,309.7 470,308.6z" fill="#006540"/>
<path d="M470,308.6 473.1,309.7 475.6,308.8 472.5,307.6z" fill="#006540"/>
<path d="M472.5,307.6 475.6,308.8 478.1,307.8 475.1,306.7z" fill="#00653f"/>
<path d="M475.1,306.7 478.1,307.8 480.6,306.9 477.6,305.7z" fill="#00643e"/>
<path d="M477.6,305.7 480.6,306.9 483.2,305.9 480.1,304.8z" fill="#00643e"/>
<path d="M480.1,304.8 483.2,305.9 485.7,305 482.6,303.8z" fill="#00633e"/>
<path d="M482.6,303.8 485.7,305 488.2,304 485.2,302.9z" fill="#00633d"/>
<path d="M485.2,302.9 488.2,304 490.8,303.1 487.7,301.9z" fill="#00633d"/>
<path d="M487.7,301.9 490.8,303.1 493.3,302.1 490.2,301z" fill="#00623c"/>
<path d="M490.2,301 493.3,302.1 495.8,301.2 492.8,300.1z" fill="#00623c"/>
<path d="M492.8,300.1 495.8,301.2 498.3,300.2 495.3,299.1z" fill="#00623c"/>
<path d="M417.4,330.5 420.5,331.6 423,330.7 420,329.5z" fill="#5c006c"/>
<path d="M420,329.5 423,330.7 425.6,329.7 422.5,328.6z" fill="#5c006c"/>
<path d="M422.5,328.6 425.6,329.7 428.1,328.8 425,327.7z" fill="#52006c"/>
<path d="M425,327.7 428.1,328.8 430.6,327.9 427.5,326.7z" fill="#33006c"/>
<path d="M427.5,326.7 430.6,327.9 433.1,326.9 430.1,325.8z" fill="#19006b"/>
<path d="M430.1,325.8 433.1,326.9 435.7,326 432.6,324.8z" fill="#02006b"/>
<path d="M432.6,324.8 435.7,326 438.2,325 435.1,323.9z" fill="#00116a"/>
<path d="M435.1,323.9 438.2,325 440.7,324.1 437.7,322.9z" fill="#00216a"/>
<path d="M437.7,322.9 440.7,324.1 443.3,323.1 440.2,322z" fill="#002f6a"/>
<path d="M440.2,322 443.3,323.1 445.8,322.2 442.7,321z" fill="#003a69"/>
<path d="M442.7,321 445.8,322.2 448.3,321.2 445.2,320.1z" fill="#004369"/>
<path d="M445.2,320.1 448.3,321.2 450.8,320.3 447.8,319.1z" fill="#004a69"/>
<path d="M447.8,319.1 450.8,320.3 453.4,319.3 450.3,318.2z" fill="#005068"/>
<path d="M450.3,318.2 453.4,319.3 455.9,318.4 452.8,317.3z" fill="#005568"/>
<path d="M452.8,317.3 455.9,318.4 458.4,317.5 455.4,316.3z" fill="#005968"/>
<path d="M455.4,316.3 458.4,317.5 461,316.5 457.9,315.4z" fill="#005b67"/>
<path d="M457.9,315.4 461,316.5 463.5,315.6 460.4,314.4z" fill="#005e67"/>
<path d="M460.4,314.4 463.5,315.6 466,314.6 462.9,313.5z" fill="#005f67"/>
<path d="M462.9,313.5 466,314.6 468.5,313.7 465.5,312.5z" fill="#006066"/>
<path d="M465.5,312.5 468.5,313.7 471.1,312.7 468,311.6z" fill="#006166"/>
<path d="M468,311.6 471.1,312.7 473.6,311.8 470.5,310.6z" fill="#006266"/>
<path d="M470.5,310.6 473.6,311.8 476.1,310.8 473.1,309.7z" fill="#006265"/>
<path d="M473.1,309.7 476.1,310.8 478.6,309.9 475.6,308.8z" fill="#006265"/>
<path d="M475.6,308.8 478.6,309.9 481.2,308.9 478.1,307.8z" fill="#006265"/>
<path d="M478.1,307.8 481.2,308.9 483.7,308 480.6,306.9z" fill="#006264"/>
<path d="M480.6,306.9 483.7,308 486.2,307.1 483.2,305.9z" fill="#006264"/>
<path d="M483.2,305.9 486.2,307.1 488.8,306.1 485.7,305z" fill="#006264"/>
<path d="M485.7,305 488.8,306.1 491.3,305.2 488.2,304z" fill="#006263"/>
<path d="M488.2,304 491.3,305.2 493.8,304.2 490.8,303.1z" fill="#006263"/>
<path d="M490.8,303.1 493.8,304.2 496.3,303.3 493.3,302.1z" fill="#006263"/>
<path d="M493.3,302.1 496.3,303.3 498.9,302.3 495.8,301.2z" fill="#006163"/>
<path d="M495.8,301.2 498.9,302.3 501.4,301.4 498.3,300.2z" fill="#006163"/>
<path d="M420.5,331.6 423.6,332.8 426.1,331.8 423,330.7z" fill="#6c004b"/>
<path d="M423,330.7 426.1,331.8 428.6,330.9 425.6,329.7z" fill="#6c004b"/>
<path d="M425.6,329.7 428.6,330.9 431.2,329.9 428.1,328.8z" fill="#6b0055"/>
<path d="M428.1,328.8 431.2,329.9 433.7,329 430.6,327.9z" fill="#63006b"/>
<path d="M430.6,327.9 433.7,329 436.2,328 433.1,326.9z" fill="#48006b"/>
<path d="M433.1,326.9 436.2,328 438.7,327.1 435.7,326z" fill="#31006b"/>
<path d="M435.7,326 438.7,327.1 441.3,326.2 438.2,325z" fill="#1e006a"/>
<path d="M438.2,325 441.3,326.2 443.8,325.2 440.7,324.1z" fill="#0e006a"/>
<path d="M440.7,324.1 443.8,325.2 446.3,324.3 443.3,323.1z" fill="#00006a"/>
<path d="M443.3,323.1 446.3,324.3 448.9,323.3 445.8,322.2z" fill="#000b69"/>
<path d="M445.8,322.2 448.9,323.3 451.4,322.4 448.3,321.2z" fill="#001469"/>
<path d="M448.3,321.2 451.4,322.4 453.9,321.4 450.8,320.3z" fill="#001c69"/>
<path d="M450.8,320.3 453.9,321.4 456.4,320.5 453.4,319.3z" fill="#002268"/>
<path d="M453.4,319.3 456.4,320.5 459,319.5 455.9,318.4z" fill="#002768"/>
<path d="M455.9,318.4 459,319.5 461.5,318.6 458.4,317.5z" fill="#002b68"/>
<path d="M458.4,317.5 461.5,318.6 464,317.6 461,316.5z" fill="#002e67"/>
<path d="M461,316.5 464,317.6 466.5,316.7 463.5,315.6z" fill="#003067"/>
<path d="M463.5,315.6 466.5,316.7 469.1,315.8 466,314.6z" fill="#003267"/>
<path d="M466,314.6 469.1,315.8 471.6,314.8 468.5,313.7z" fill="#003366"/>
<path d="M468.5,313.7 471.6,314.8 474.1,313.9 471.1,312.7z" fill="#003466"/>
<path d="M471.1,312.7 474.1,313.9 476.7,312.9 473.6,311.8z" fill="#003566"/>
<path d="M473.6,311.8 476.7,312.9 479.2,312 476.1,310.8z" fill="#003666"/>
<path d="M476.1,310.8 479.2,312 481.7,311 478.6,309.9z" fill="#003665"/>
<path d="M478.6,309.9 481.7,311 484.2,310.1 481.2,308.9z" fill="#003665"/>
<path d="M481.2,308.9 484.2,310.1 486.8,309.1 483.7,308z" fill="#003665"/>
<path d="M483.7,308 486.8,309.1 489.3,308.2 486.2,307.1z" fill="#003764"/>
<path d="M486.2,307.1 489.3,308.2 491.8,307.2 488.8,306.1z" fill="#003764"/>
<path d="M488.8,306.1 491.8,307.2 494.3,306.3 491.3,305.2z" fill="#003764"/>
<path d="M491.3,305.2 494.3,306.3 496.9,305.4 493.8,304.2z" fill="#003763"/>
<path d="M493.8,304.2 496.9,305.4 499.4,304.4 496.3,303.3z" fill="#003763"/>
<path d="M496.3,303.3 499.4,304.4 501.9,303.5 498.9,302.3z" fill="#003763"/>
<path d="M498.9,302.3 501.9,303.5 504.5,302.5 501.4,301.4z" fill="#003763"/>
<path d="M423.6,332.8 426.7,333.9 429.2,333 426.1,331.8z" fill="#6b0017"/>
<path d="M426.1,331.8 429.2,333 431.7,332 428.6,330.9z" fill="#6b0017"/>
<path d="M428.6,330.9 431.7,332 434.2,331.1 431.2,329.9z" fill="#6b0021"/>
<path d="M431.2,329.9 434.2,331.1 436.8,330.1 433.7,329z" fill="#6b003f"/>
<path d="M433.7,329 436.8,330.1 439.3,329.2 436.2,328z" fill="#6b0059"/>
<path d="M436.2,328 439.3,329.2 441.8,328.2 438.7,327.1z" fill="#65006a"/>
<path d="M438.7,327.1 441.8,328.2 444.3,327.3 441.3,326.2z" fill="#51006a"/>
<path d="M441.3,326.2 444.3,327.3 446.9,326.4 443.8,325.2z" fill="#41006a"/>
<path d="M443.8,325.2 446.9,326.4 449.4,325.4 446.3,324.3z" fill="#330069"/>
<path d="M446.3,324.3 449.4,325.4 451.9,324.5 448.9,323.3z" fill="#280069"/>
<path d="M448.9,323.3 451.9,324.5 454.5,323.5 451.4,322.4z" fill="#1e0069"/>
<path d="M451.4,322.4 454.5,323.5 457,322.6 453.9,321.4z" fill="#170069"/>
<path d="M453.9,321.4 457,322.6 459.5,321.6 456.4,320.5z" fill="#100068"/>
<path d="M456.4,320.5 459.5,321.6 462,320.7 459,319.5z" fill="#0b0068"/>
<path d="M459,319.5 462,320.7 464.6,319.7 461.5,318.6z" fill="#070068"/>
<path d="M461.5,318.6 464.6,319.7 467.1,318.8 464,317.6z" fill="#040067"/>
<path d="M464,317.6 467.1,318.8 469.6,317.8 466.5,316.7z" fill="#020067"/>
<path d="M466.5,316.7 469.6,317.8 472.1,316.9 469.1,315.8z" fill="#000067"/>
<path d="M469.1,315.8 472.1,316.9 474.7,315.9 471.6,314.8z" fill="#000267"/>
<path d="M471.6,314.8 474.7,315.9 477.2,315 474.1,313.9z" fill="#000366"/>
<path d="M474.1,313.9 477.2,315 479.7,314.1 476.7,312.9z" fill="#000466"/>
<path d="M476.7,312.9 479.7,314.1 482.2,313.1 479.2,312z" fill="#000566"/>
<path d="M479.2,312 482.2,313.1 484.8,312.2 481.7,311z" fill="#000565"/>
<path d="M481.7,311 484.8,312.2 487.3,311.2 484.2,310.1z" fill="#000665"/>
<path d="M484.2,310.1 487.3,311.2 489.8,310.3 486.8,309.1z" fill="#000665"/>
<path d="M486.8,309.1 489.8,310.3 492.3,309.3 489.3,308.2z" fill="#000665"/>
<path d="M489.3,308.2 492.3,309.3 494.9,308.4 491.8,307.2z" fill="#000664"/>
<path d="M491.8,307.2 494.9,308.4 497.4,307.4 494.3,306.3z" fill="#000764"/>
<path d="M494.3,306.3 497.4,307.4 499.9,306.5 496.9,305.4z" fill="#000764"/>
<path d="M496.9,305.4 499.9,306.5 502.5,305.5 499.4,304.4z" fill="#000763"/>
<path d="M499.4,304.4 502.5,305.5 505,304.6 501.9,303.5z" fill="#000763"/>
<path d="M501.9,303.5 505,304.6 507.5,303.6 504.5,302.5z" fill="#000763"/>
<path d="M426.7,333.9 429.7,335.1 432.3,334.1 429.2,333z" fill="#6b0006"/>
<path d="M429.2,333 432.3,334.1 434.8,333.2 431.7,332z" fill="#6b0006"/>
<path d="M431.7,332 434.8,333.2 437.3,332.2 434.2,331.1z" fill="#6b0010"/>
<path d="M434.2,331.1 437.3,332.2 439.8,331.3 436.8,330.1z" fill="#6b002f"/>
<path d="M436.8,330.1 439.8,331.3 442.4,330.3 439.3,329.2z" fill="#6a0049"/>
<path d="M439.3,329.2 442.4,330.3 444.9,329.4 441.8,328.2z" fill="#6a005f"/>
<path d="M441.8,328.2 444.9,329.4 447.4,328.4 444.3,327.3z" fill="#61006a"/>
<path d="M444.3,327.3 447.4,328.4 449.9,327.5 446.9,326.4z" fill="#51006a"/>
<path d="M446.9,326.4 449.9,327.5 452.5,326.6 449.4,325.4z" fill="#430069"/>
<path d="M449.4,325.4 452.5,326.6 455,325.6 451.9,324.5z" fill="#380069"/>
<path d="M451.9,324.5 455,325.6 457.5,324.7 454.5,323.5z" fill="#2e0069"/>
<path d="M454.5,323.5 457.5,324.7 460,323.7 457,322.6z" fill="#260069"/>
<path d="M457,322.6 460,323.7 462.6,322.8 459.5,321.6z" fill="#200068"/>
<path d="M459.5,321.6 462.6,322.8 465.1,321.8 462,320.7z" fill="#1b0068"/>
<path d="M462,320.7 465.1,321.8 467.6,320.9 464.6,319.7z" fill="#170068"/>
<path d="M464.6,319.7 467.6,320.9 470.1,319.9 467.1,318.8z" fill="#140067"/>
<path d="M467.1,318.8 470.1,319.9 472.7,319 469.6,317.8z" fill="#110067"/>
<path d="M469.6,317.8 472.7,319 475.2,318 472.1,316.9z" fill="#0f0067"/>
<path d="M472.1,316.9 475.2,318 477.7,317.1 474.7,315.9z" fill="#0d0067"/>
<path d="M474.7,315.9 477.7,317.1 480.3,316.1 477.2,315z" fill="#0c0066"/>
<path d="M477.2,315 480.3,316.1 482.8,315.2 479.7,314.1z" fill="#0b0066"/>
<path d="M479.7,314.1 482.8,315.2 485.3,314.2 482.2,313.1z" fill="#0b0066"/>
<path d="M482.2,313.1 485.3,314.2 487.8,313.3 484.8,312.2z" fill="#0a0065"/>
<path d="M484.8,312.2 487.8,313.3 490.4,312.4 487.3,311.2z" fill="#0a0065"/>
<path d="M487.3,311.2 490.4,312.4 492.9,311.4 489.8,310.3z" fill="#090065"/>
<path d="M489.8,310.3 492.9,311.4 495.4,310.5 492.3,309.3z" fill="#090065"/>
<path d="M492.3,309.3 495.4,310.5 497.9,309.5 494.9,308.4z" fill="#090064"/>
<path d="M494.9,308.4 497.9,309.5 500.5,308.6 497.4,307.4z" fill="#080064"/>
<path d="M497.4,307.4 500.5,308.6 503,307.6 499.9,306.5z" fill="#080064"/>
<path d="M499.9,306.5 503,307.6 505.5,306.7 502.5,305.5z" fill="#080064"/>
<path d="M502.5,305.5 505.5,306.7 508,305.7 505,304.6z" fill="#080063"/>
<path d="M505,304.6 508,305.7 510.6,304.8 507.5,303.6z" fill="#080063"/>
<path d="M429.7,335.1 432.8,336.2 435.3,335.3 432.3,334.1z" fill="#6b0006"/>
<path d="M432.3,334.1 435.3,335.3 437.9,334.3 434.8,333.2z" fill="#6b0006"/>
<path d="M434.8,333.2 437.9,334.3 440.4,333.4 437.3,332.2z" fill="#6b0010"/>
<path d="M437.3,332.2 440.4,333.4 442.9,332.4 439.8,331.3z" fill="#6b002f"/>
<path d="M439.8,331.3 442.9,332.4 445.4,331.5 442.4,330.3z" fill="#6a0049"/>
<path d="M442.4,330.3 445.4,331.5 448,330.5 444.9,329.4z" fill="#6a005f"/>
<path d="M444.9,329.4 448,330.5 450.5,329.6 447.4,328.4z" fill="#61006a"/>
<path d="M447.4,328.4 450.5,329.6 453,328.6 449.9,327.5z" fill="#51006a"/>
<path d="M449.9,327.5 453,328.6 455.5,327.7 452.5,326.6z" fill="#430069"/>
<path d="M452.5,326.6 455.5,327.7 458.1,326.7 455,325.6z" fill="#380069"/>
<path d="M455,325.6 458.1,326.7 460.6,325.8 457.5,324.7z" fill="#2e0069"/>
<path d="M457.5,324.7 460.6,325.8 463.1,324.9 460,323.7z" fill="#260069"/>
<path d="M460,323.7 463.1,324.9 465.6,323.9 462.6,322.8z" fill="#200068"/>
<path d="M462.6,322.8 465.6,323.9 468.2,323 465.1,321.8z" fill="#1b0068"/>
<path d="M465.1,321.8 468.2,323 470.7,322 467.6,320.9z" fill="#170068"/>
<path d="M467.6,320.9 470.7,322 473.2,321.1 470.1,319.9z" fill="#140067"/>
<path d="M470.1,319.9 473.2,321.1 475.7,320.1 472.7,319z" fill="#110067"/>
<path d="M472.7,319 475.7,320.1 478.3,319.2 475.2,318z" fill="#0f0067"/>
<path d="M475.2,318 478.3,319.2 480.8,318.2 477.7,317.1z" fill="#0d0067"/>
<path d="M477.7,317.1 480.8,318.2 483.3,317.3 480.3,316.1z" fill="#0c0066"/>
<path d="M480.3,316.1 483.3,317.3 485.8,316.3 482.8,315.2z" fill="#0b0066"/>
<path d="M482.8,315.2 485.8,316.3 488.4,315.4 485.3,314.2z" fill="#0b0066"/>
<path d="M485.3,314.2 488.4,315.4 490.9,314.4 487.8,313.3z" fill="#0a0065"/>
<path d="M487.8,313.3 490.9,314.4 493.4,313.5 490.4,312.4z" fill="#0a0065"/>
<path d="M490.4,312.4 493.4,313.5 495.9,312.5 492.9,311.4z" fill="#090065"/>
<path d="M492.9,311.4 495.9,312.5 498.5,311.6 495.4,310.5z" fill="#090065"/>
<path d="M495.4,310.5 498.5,311.6 501,310.6 497.9,309.5z" fill="#090064"/>
<path d="M497.9,309.5 501,310.6 503.5,309.7 500.5,308.6z" fill="#080064"/>
<path d="M500.5,308.6 503.5,309.7 506,308.8 503,307.6z" fill="#080064"/>
<path d="M503,307.6 506,308.8 508.6,307.8 505.5,306.7z" fill="#080064"/>
<path d="M505.5,306.7 508.6,307.8 511.1,306.9 508,305.7z" fill="#080063"/>
<path d="M508,305.7 511.1,306.9 513.6,305.9 510.6,304.8z" fill="#080063"/>
</g></g>
<g fill="#000">
<circle cx="381.1" cy="287" r="1.35"/>
<circle cx="420.5" cy="287.7" r="1.35"/>
<circle cx="459.5" cy="289.3" r="1.35"/>
<circle cx="385.4" cy="301.3" r="1.35"/>
<circle cx="424.3" cy="302.8" r="1.35"/>
<circle cx="463" cy="303.9" r="1.35"/>
<circle cx="389" cy="316.5" r="1.35"/>
<circle cx="428" cy="317.6" r="1.35"/>
<circle cx="466.9" cy="319" r="1.35"/>
</g>
<g fill="none" stroke="#1a1a1a" stroke-width="1.1">
<polyline points="334.9,280.1 334.9,369.8 429.9,407 525.4,370.2"/>
<line x1="331.8" y1="368.6" x2="334.9" y2="369.8" stroke="#1a1a1a" stroke-width="1.1"/>
<line x1="331.8" y1="346.2" x2="334.9" y2="347.4" stroke="#1a1a1a" stroke-width="1.1"/>
<line x1="331.8" y1="323.7" x2="334.9" y2="325" stroke="#1a1a1a" stroke-width="1.1"/>
<line x1="331.8" y1="301.3" x2="334.9" y2="302.5" stroke="#1a1a1a" stroke-width="1.1"/>
<line x1="331.8" y1="278.9" x2="334.9" y2="280.1" stroke="#1a1a1a" stroke-width="1.1"/>
<line x1="342.7" y1="372.9" x2="340.3" y2="373.8" stroke="#1a1a1a" stroke-width="1.1"/>
<line x1="386.3" y1="389.9" x2="383.9" y2="390.9" stroke="#1a1a1a" stroke-width="1.1"/>
<line x1="429.9" y1="407" x2="427.5" y2="407.9" stroke="#1a1a1a" stroke-width="1.1"/>
<line x1="454.5" y1="397.5" x2="457" y2="398.5" stroke="#1a1a1a" stroke-width="1.1"/>
<line x1="501.8" y1="379.3" x2="504.2" y2="380.2" stroke="#1a1a1a" stroke-width="1.1"/>
</g>
<text x="325.9" y="373.7" text-anchor="end">1.35</text>
<text x="325.9" y="351.3" text-anchor="end">1.4</text>
<text x="325.9" y="328.9" text-anchor="end">1.45</text>
<text x="325.9" y="306.4" text-anchor="end">1.5</text>
<text x="325.9" y="284" text-anchor="end">1.55</text>
<text y="263.1"><tspan x="305.7" font-size="15.5">×</tspan><tspan x="316.7">10</tspan><tspan x="330.2" dy="-7.6" font-size="9.6">6</tspan></text>
<text transform="translate(292.5,311) rotate(-90)" text-anchor="middle" font-size="13.7">S (VA)</text>
<text x="325.3" y="388.9" text-anchor="middle">450</text>
<text x="368.6" y="405.8" text-anchor="middle">500</text>
<text x="412.3" y="422.7" text-anchor="middle">550</text>
<text x="347" y="429.9" text-anchor="middle" font-size="13.7">h (mm)</text>
<text x="469.1" y="413.3" text-anchor="middle">14</text>
<text x="516.1" y="395.1" text-anchor="middle">16</text>
<text x="506.8" y="429.9" text-anchor="middle" font-size="13.7">g (mm)</text>
<text x="431.6" y="241.2" text-anchor="middle" font-weight="bold" fill="#000">(d)</text>
</svg>
</body></html>
